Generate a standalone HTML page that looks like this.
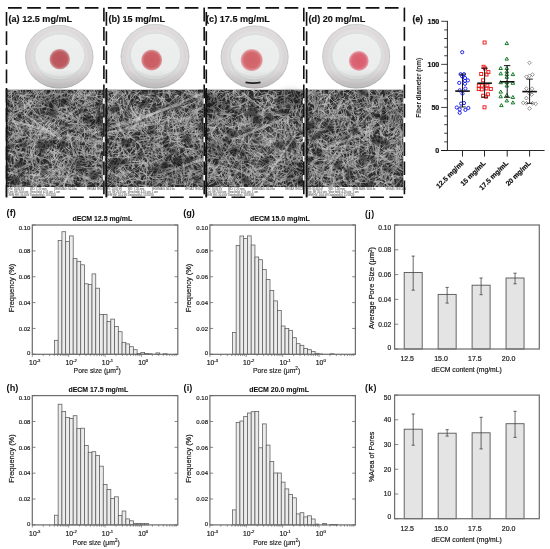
<!DOCTYPE html>
<html><head><meta charset="utf-8"><style>
html,body{margin:0;padding:0;background:#fff;width:550px;height:549px;overflow:hidden}
svg{display:block}
</style></head><body>
<svg width="550" height="549" viewBox="0 0 550 549">
<defs><filter id="poreblur" x="-0.1" y="-0.1" width="1.2" height="1.2"><feGaussianBlur stdDeviation="0.9"/></filter><filter id="semblur" x="0" y="0" width="1" height="1"><feGaussianBlur stdDeviation="0.3"/></filter><radialGradient id="dishg" cx="0.5" cy="0.5" r="0.5">
<stop offset="0" stop-color="#eeefef"/><stop offset="0.68" stop-color="#eaecec"/>
<stop offset="0.72" stop-color="#d6d8d8"/><stop offset="0.78" stop-color="#dfdede"/><stop offset="0.87" stop-color="#dcd4d6"/><stop offset="0.95" stop-color="#d9d9d9"/><stop offset="1" stop-color="#bcbcbc"/></radialGradient><radialGradient id="redg0" cx="0.5" cy="0.5" r="0.5">
<stop offset="0" stop-color="#b9545a"/><stop offset="0.7" stop-color="#bd5a60"/><stop offset="0.9" stop-color="#c98388"/><stop offset="1" stop-color="#c98388" stop-opacity="0.4"/></radialGradient><radialGradient id="redg1" cx="0.5" cy="0.5" r="0.5">
<stop offset="0" stop-color="#c95c62"/><stop offset="0.7" stop-color="#cc6268"/><stop offset="0.9" stop-color="#d8888d"/><stop offset="1" stop-color="#d8888d" stop-opacity="0.4"/></radialGradient><radialGradient id="redg2" cx="0.5" cy="0.5" r="0.5">
<stop offset="0" stop-color="#d06268"/><stop offset="0.7" stop-color="#d4696f"/><stop offset="0.9" stop-color="#df9297"/><stop offset="1" stop-color="#df9297" stop-opacity="0.4"/></radialGradient><radialGradient id="redg3" cx="0.5" cy="0.5" r="0.5">
<stop offset="0" stop-color="#d85c6c"/><stop offset="0.7" stop-color="#db6676"/><stop offset="0.9" stop-color="#e5909b"/><stop offset="1" stop-color="#e5909b" stop-opacity="0.4"/></radialGradient><linearGradient id="dishshade" x1="0" y1="0" x2="0" y2="1">
<stop offset="0" stop-color="#fff" stop-opacity="0.15"/><stop offset="0.45" stop-color="#fff" stop-opacity="0"/><stop offset="0.7" stop-color="#505050" stop-opacity="0"/><stop offset="1" stop-color="#505050" stop-opacity="0.22"/></linearGradient><filter id="softblur" x="-0.5" y="-0.5" width="2" height="2"><feGaussianBlur stdDeviation="4"/></filter><clipPath id="clipdish0"><rect x="6.5" y="0" width="97.4" height="89.5"/></clipPath><clipPath id="clipdish1"><rect x="106.4" y="0" width="97.79999999999998" height="89.5"/></clipPath><clipPath id="clipdish2"><rect x="206.3" y="0" width="97.5" height="89.5"/></clipPath><clipPath id="clipdish3"><rect x="306.6" y="0" width="97.79999999999995" height="89.5"/></clipPath></defs>
<rect width="550" height="549" fill="#fff"/>
<g clip-path="url(#clipdish0)">
<ellipse cx="59.3" cy="56.8" rx="34.2" ry="31.8" fill="url(#dishg)"/>
<ellipse cx="59.8" cy="55.6" rx="24.97" ry="21.62" fill="#eceeee" stroke="#d6d8d8" stroke-width="0.8"/>
<circle cx="59.7" cy="59.2" r="10.4" fill="url(#redg0)"/>
<ellipse cx="59.3" cy="56.8" rx="34.2" ry="31.8" fill="url(#dishshade)"/>
</g>
<clipPath id="semclip100"><rect x="7" y="89.5" width="97.8" height="97.7"/></clipPath>
<g clip-path="url(#semclip100)">
<rect x="7" y="89.5" width="97.8" height="97.7" fill="#2a2a2a"/>
<g filter="url(#semblur)" opacity="0.78">
<path d="M83.1 174.5Q85.2 174.3 87.1 175.1M40.6 150.2Q43.1 155.0 42.4 160.5M100.3 112.9Q97.1 117.6 92.6 121.1M90.2 90.4Q87.5 93.8 84.0 96.2M105.5 130.6Q98.4 128.1 91.7 131.4M30.1 105.5Q28.0 105.5 26.5 106.7M65.9 148.9Q66.2 155.3 70.4 160.2M31.1 173.1Q34.1 176.0 37.7 178.2M86.2 181.4Q83.7 185.9 79.1 188.0M87.2 103.5Q84.5 103.8 82.1 105.3M25.7 138.8Q23.2 141.9 20.8 145.1M82.6 138.5Q80.5 144.1 74.8 146.3M77.4 94.3Q79.0 94.7 80.4 95.7M87.2 106.8Q89.1 107.4 90.8 108.5M30.4 129.6Q31.0 131.2 32.5 131.9M96.3 106.6Q94.3 108.5 94.2 111.3M69.2 142.0Q74.8 146.5 81.1 149.9M38.3 125.9Q45.5 128.5 50.0 134.8M17.1 96.5Q16.5 102.6 18.0 108.6M106.7 153.9Q100.8 157.4 94.1 155.8M5.9 102.2Q6.2 107.0 10.1 109.7M86.1 116.6Q79.6 119.0 76.7 125.3M38.2 176.1Q41.6 180.3 46.5 182.4M95.5 88.0Q93.4 91.3 90.2 93.6M88.6 118.2Q88.9 124.8 89.3 131.4M46.2 149.7Q51.7 151.3 55.1 155.9M42.7 164.1Q43.0 165.9 43.0 167.7M68.5 92.4Q74.4 92.6 78.4 96.9M46.0 172.5Q38.5 171.3 32.7 176.2M56.7 154.7Q56.7 156.3 57.2 157.9M26.8 153.0Q26.2 155.2 26.1 157.6M24.0 88.5Q25.5 92.2 29.2 93.6M103.3 179.9Q99.3 186.7 91.6 188.4M39.7 133.9Q39.8 135.6 40.0 137.2M82.5 129.3Q83.3 130.7 84.7 131.3M96.0 92.6Q92.1 91.5 88.3 92.8M22.9 104.6Q22.3 108.8 20.6 112.7M34.5 138.9Q30.2 138.9 26.7 141.5M89.0 173.8Q90.0 181.2 96.1 185.5M37.8 89.1Q35.7 92.2 33.7 95.2M54.8 148.0Q58.6 151.9 63.1 155.0M3.8 132.3Q7.5 133.4 10.8 135.5M5.5 86.4Q8.6 89.4 10.9 93.0M15.5 159.0Q15.5 160.5 15.2 162.0M103.4 137.9Q101.7 140.3 98.8 140.5M101.0 126.7Q100.1 128.8 97.9 129.7M14.0 153.7Q10.1 153.7 7.0 156.0M101.8 96.3Q101.8 100.4 102.0 104.5M11.3 124.1Q14.5 126.1 17.5 128.5M100.8 147.1Q101.5 149.4 102.1 151.7M31.8 162.1Q30.0 163.7 30.0 166.2M22.3 124.5Q21.2 126.2 19.4 127.1M21.9 122.9Q24.5 128.3 29.3 132.1M80.4 146.8Q86.2 144.6 91.5 147.8M56.5 103.0Q55.3 109.1 52.6 114.7M71.1 152.7Q70.1 154.7 70.5 157.0M50.6 135.2Q48.7 137.7 47.4 140.5M11.0 110.6Q10.1 112.3 10.0 114.2M93.5 180.8Q88.7 181.7 83.9 182.8M53.5 167.7Q58.1 171.3 59.0 177.1M94.7 91.7Q91.6 94.9 87.2 94.6M15.3 118.5Q17.4 118.3 19.3 119.4M14.6 157.0Q16.5 157.2 18.2 158.1M103.8 180.3Q100.7 184.2 97.3 187.9M55.4 125.8Q51.4 129.8 49.5 135.2M83.1 109.8Q77.1 114.2 69.7 115.1M18.1 94.7Q16.7 95.2 15.2 95.6M23.3 171.3Q15.8 174.1 12.0 181.1M67.3 92.5Q67.8 94.0 67.2 95.6M44.6 87.4Q45.6 90.4 45.0 93.5M68.8 156.2Q62.8 160.5 55.4 160.6M64.5 180.4Q60.4 182.4 55.9 182.2M95.0 154.0Q97.4 157.0 100.2 159.6M95.0 184.6Q96.4 185.8 98.3 186.3M94.9 149.3Q93.1 151.4 90.6 152.4M98.3 172.2Q94.6 172.0 92.2 174.8M28.0 178.5Q21.2 180.1 14.2 179.8M32.7 102.9Q32.4 105.3 32.5 107.7M47.0 144.4Q44.4 149.0 44.6 154.3M29.9 156.2Q23.5 159.4 18.4 164.4M92.2 150.4Q92.1 153.1 90.1 154.8M39.7 121.4Q37.8 124.4 36.8 127.8M22.8 178.3Q23.6 180.2 23.5 182.3M63.8 166.8Q60.6 168.0 57.4 167.1M109.1 93.5Q104.0 98.5 96.9 98.9M96.8 94.6Q97.2 99.9 93.2 103.6M13.9 86.6Q17.6 89.5 18.3 94.1M84.5 107.6Q87.8 106.4 90.9 108.1M46.3 123.4Q47.1 125.8 47.0 128.4M71.9 178.4Q70.5 182.1 67.4 184.4M47.1 120.8Q48.7 127.3 53.0 132.4M30.0 90.8Q25.4 93.5 22.9 98.2M67.8 124.1Q67.7 127.0 66.9 129.8M86.1 119.2Q85.4 120.7 84.0 121.7M28.2 105.2Q25.2 110.4 22.2 115.7M99.0 145.2Q99.3 149.0 100.8 152.5M94.9 155.9Q95.2 157.4 95.7 158.8" stroke="rgb(140,140,140)" stroke-width="0.5" fill="none"/>
<path d="M49.3 95.6Q49.3 98.3 47.6 100.5M92.8 120.6Q89.6 124.9 86.1 128.9M46.8 152.7Q47.9 158.0 52.7 160.6M59.0 182.5Q62.5 186.6 66.2 190.4M27.2 117.5Q34.3 118.4 41.3 120.3M77.1 139.6Q72.8 140.0 69.8 143.2M29.2 102.4Q27.4 102.9 26.4 104.4M50.6 143.8Q46.9 144.3 44.5 147.2M38.7 111.2Q41.2 114.3 44.9 115.6M25.2 173.5Q26.7 174.6 27.4 176.2M17.4 183.6Q10.8 185.2 4.0 185.0M40.2 105.8Q37.7 105.3 35.6 106.9M42.1 116.2Q36.9 120.1 35.5 126.6M49.6 179.7Q54.4 182.3 59.9 182.9M56.5 150.2Q56.3 152.8 54.7 155.0M82.9 89.6Q78.2 89.9 73.9 91.7M58.7 140.0Q64.0 145.2 66.1 152.4M17.5 150.7Q11.5 152.4 8.6 157.9M46.1 138.2Q48.5 144.6 53.4 149.4M51.7 165.0Q52.9 166.8 53.5 168.8M65.6 168.9Q65.2 171.9 63.4 174.4M14.3 100.3Q11.9 106.9 13.9 113.6M13.3 86.3Q15.5 90.1 18.3 93.5M31.5 179.4Q34.5 181.4 37.2 183.8M83.3 115.2Q79.5 115.9 76.1 117.9M9.9 162.2Q11.7 168.3 16.8 172.0M40.8 97.8Q42.3 98.3 43.6 99.3M95.0 169.6Q89.2 171.8 83.4 169.7M55.0 123.8Q52.7 126.3 52.4 129.7M74.3 105.6Q76.7 106.5 79.2 106.6M97.7 155.9Q103.0 159.2 104.7 165.3M90.8 90.3Q92.6 91.2 94.6 91.2M45.3 106.6Q49.2 111.5 55.2 113.2M94.0 176.7Q99.3 181.0 106.0 182.4M21.7 105.5Q22.8 107.4 22.2 109.5M38.8 105.1Q36.5 111.4 33.1 117.2M30.8 108.9Q32.5 111.7 35.6 112.9M31.9 150.4Q30.0 150.7 28.0 150.7M22.7 131.7Q22.3 133.5 22.2 135.3M52.5 174.5Q53.7 175.6 55.2 176.3M46.1 147.2Q49.0 148.2 52.0 147.8M39.7 107.4Q39.7 110.4 40.9 113.1M95.0 181.9Q95.3 183.8 96.1 185.5M26.4 114.3Q28.6 117.1 32.0 117.1M67.3 139.4Q74.6 137.7 81.7 140.1M61.4 114.7Q54.6 117.3 48.6 121.6M11.0 107.2Q10.4 108.8 11.1 110.3M14.4 161.5Q19.7 163.7 24.7 166.4M40.2 180.6Q38.8 184.0 36.6 186.8M89.8 146.3Q86.5 150.0 86.5 154.9M32.5 147.1Q31.5 149.6 31.9 152.3M90.8 144.8Q85.3 146.6 79.6 145.5M48.8 158.8Q49.0 160.4 48.0 161.8M55.6 93.8Q50.7 96.1 49.3 101.3M75.2 147.5Q80.0 146.7 84.6 148.3M93.4 90.8Q94.5 92.7 94.3 94.9M58.0 131.6Q61.4 134.4 65.3 136.3M48.7 142.8Q52.0 146.7 55.5 150.4M70.8 153.1Q75.2 154.6 78.3 158.0M41.8 95.0Q40.3 97.6 39.7 100.5M50.9 114.4Q53.3 114.0 55.0 115.6M20.0 131.1Q19.2 132.6 19.5 134.3M80.7 132.8Q75.7 135.0 72.3 139.5M84.2 122.5Q87.6 123.2 91.0 122.6M56.8 82.6Q55.9 90.2 58.2 97.4M8.0 170.3Q8.3 173.1 10.0 175.3M45.2 153.9Q46.1 156.6 46.1 159.4M41.6 113.9Q40.0 119.0 35.1 121.2M76.5 162.0Q76.0 169.3 72.4 175.7M67.8 118.2Q68.6 121.3 71.3 123.0M55.6 125.9Q51.5 126.0 48.3 128.5M45.3 110.5Q43.5 110.8 42.4 112.2M73.2 156.5Q70.4 157.4 67.5 157.8M30.5 180.6Q29.0 181.1 27.8 182.2M104.1 129.1Q104.4 133.6 104.7 138.1M104.0 95.2Q98.9 95.2 93.9 96.2M11.1 173.1Q8.8 174.4 7.2 176.6M43.6 183.5Q43.6 186.8 44.2 189.9M14.3 128.3Q16.6 133.6 16.5 139.3M83.4 156.5Q89.4 161.8 97.4 161.8M95.9 90.1Q100.2 96.0 107.0 98.6M15.8 142.4Q19.4 145.1 20.8 149.4M61.9 155.0Q63.4 157.0 63.6 159.4M36.3 109.6Q33.5 111.8 32.7 115.2M17.7 128.5Q17.7 130.7 19.2 132.4M54.7 163.1Q56.7 162.6 58.7 163.6M97.9 102.1Q101.1 107.5 107.0 109.8M12.4 154.5Q10.6 159.6 7.8 164.3M1.4 142.3Q8.4 143.3 14.4 147.0" stroke="rgb(140,140,140)" stroke-width="0.6" fill="none"/>
<path d="M68.4 171.0Q72.6 174.6 77.8 176.3M5.2 93.6Q7.5 97.7 10.7 101.0M27.4 174.4Q24.4 177.8 24.8 182.3M41.1 163.0Q40.2 165.1 39.4 167.2M36.9 110.8Q37.5 112.2 37.5 113.8M19.8 168.7Q20.2 170.3 21.7 171.0M15.0 156.9Q16.3 162.6 12.6 167.2M39.2 106.1Q37.8 106.6 36.3 107.0M27.3 116.4Q26.0 117.7 25.7 119.5M85.4 160.3Q86.2 163.0 87.1 165.8M67.4 115.5Q65.4 115.4 63.5 116.1M17.5 95.1Q16.5 96.3 15.2 97.0M57.2 164.6Q57.8 167.2 58.4 169.7M79.9 116.9Q84.3 121.9 83.4 128.5M78.3 173.9Q75.5 178.1 75.0 183.2M80.8 120.6Q81.4 123.5 83.8 125.3M10.9 113.3Q12.2 114.2 13.9 114.5M80.3 156.9Q81.0 158.4 81.7 159.8M92.1 140.8Q94.3 142.9 96.2 145.2M23.4 186.3Q25.9 187.0 28.2 188.0M77.8 182.0Q80.9 182.6 83.3 184.4M78.6 120.0Q78.8 121.6 78.8 123.2M63.6 126.1Q61.8 125.5 60.3 126.6M45.4 174.2Q45.6 175.8 45.6 177.3M93.5 113.9Q90.7 116.7 86.8 116.9M32.9 139.2Q35.7 143.9 34.2 149.2M18.8 165.2Q18.2 168.5 20.2 171.3M33.7 141.7Q31.6 143.5 31.5 146.2M22.5 143.1Q22.8 144.9 22.9 146.8M68.6 150.7Q73.4 153.5 78.9 154.5M103.9 127.1Q100.9 129.1 97.4 129.5M6.9 98.1Q10.1 98.6 12.4 100.7M56.3 161.7Q58.6 168.2 64.5 172.0M44.0 114.1Q36.7 115.2 30.3 118.7M54.3 162.4Q49.2 164.0 44.1 165.6M96.4 176.0Q95.8 177.5 95.2 178.9M70.6 138.7Q72.2 142.6 73.9 146.5M94.7 132.9Q92.6 133.2 90.7 134.4M28.2 170.9Q24.4 177.0 18.4 181.0M33.4 106.1Q32.0 107.8 32.6 109.9M107.3 171.6Q103.9 171.4 101.7 174.0M90.3 177.9Q89.2 180.9 86.5 182.5M78.9 101.3Q80.5 102.6 82.6 102.3M17.6 120.8Q14.0 122.7 10.1 121.5M84.4 151.3Q87.9 158.3 95.2 161.1M74.2 128.5Q75.6 129.7 75.6 131.5M83.0 174.0Q83.4 180.1 85.9 185.6M91.0 162.6Q97.2 164.5 103.7 163.7M22.5 155.2Q24.0 156.9 25.9 158.4M25.7 180.0Q27.0 185.8 31.3 189.7M30.5 181.6Q31.0 183.5 32.7 184.4M52.1 172.4Q53.7 173.4 54.3 175.3M46.0 135.4Q46.7 138.6 44.6 141.1M17.7 115.9Q12.7 116.9 7.5 117.2M30.8 132.3Q30.3 134.1 29.0 135.3M78.5 167.6Q80.3 167.3 81.9 168.0M23.1 183.8Q28.0 186.0 33.4 186.3M17.4 145.1Q21.7 148.0 26.9 147.7M21.0 136.4Q22.9 137.7 25.2 137.6M25.8 119.8Q27.4 122.9 27.7 126.4M40.4 129.5Q37.6 133.7 32.7 135.0M19.2 173.8Q14.5 176.3 11.5 180.7M26.2 86.6Q27.9 92.1 25.2 97.2M69.0 165.9Q70.1 173.4 66.0 179.7M32.4 105.9Q38.0 106.0 43.5 106.3M91.5 115.3Q96.9 114.3 102.2 115.7M19.2 127.9Q14.7 128.6 12.3 132.5M5.4 177.8Q7.6 180.2 10.0 182.5M79.3 164.3Q77.9 167.9 74.8 170.3M5.3 113.8Q9.2 116.0 11.0 120.1M33.4 87.7Q39.3 91.1 40.8 97.7M42.2 130.0Q42.9 132.0 43.8 133.9M69.9 113.3Q72.3 115.3 73.8 118.0M18.5 138.0Q13.5 138.5 10.8 142.8M15.8 124.3Q22.3 129.1 22.7 137.2M49.9 111.6Q50.9 113.9 51.5 116.3M87.9 158.6Q87.8 164.4 87.1 170.2M24.5 100.4Q23.0 102.4 21.6 104.5M12.6 152.7Q18.2 157.9 18.4 165.6M70.9 118.1Q75.3 119.0 79.2 121.3M92.8 138.5Q95.5 141.0 99.1 141.3M99.3 122.7Q104.1 127.2 110.2 129.6M30.3 183.8Q33.2 183.4 35.5 185.1M54.7 170.5Q53.5 177.0 52.8 183.7M7.3 119.1Q9.4 120.3 11.9 120.1M7.8 119.2Q8.3 123.0 8.3 126.8M36.2 157.7Q39.6 157.4 42.2 159.8M100.7 88.0Q97.7 92.2 95.2 96.7M83.1 172.8Q84.4 173.9 85.8 174.8M86.1 88.4Q87.8 96.0 85.0 103.3M29.3 176.2Q25.7 178.8 22.1 181.3M56.8 147.2Q57.7 148.5 59.0 149.4M57.8 182.3Q59.3 183.3 61.0 183.9" stroke="rgb(140,140,140)" stroke-width="0.7" fill="none"/>
<path d="M77.1 160.9Q76.6 164.4 76.7 168.0M67.2 150.1Q66.7 154.0 67.8 157.9M51.1 153.0Q53.8 157.0 56.9 160.7M32.5 142.7Q34.4 148.8 31.6 154.5M73.6 136.3Q80.0 136.9 83.7 142.1M35.3 164.6Q37.2 170.0 41.5 173.7M33.1 120.5Q31.0 125.7 28.3 130.8M12.1 168.8Q16.2 173.8 18.4 179.9M97.1 166.6Q95.4 169.9 92.1 171.4M85.3 120.7Q83.7 123.1 80.8 124.0M27.2 152.2Q20.7 151.5 14.4 152.9M74.8 165.6Q75.5 167.5 75.6 169.5M19.4 153.2Q18.2 154.2 17.3 155.5M39.8 129.5Q38.5 133.9 38.5 138.5M96.6 154.8Q97.6 157.3 96.2 159.6M80.1 133.9Q81.1 135.1 82.1 136.2M62.6 89.5Q57.2 94.3 55.0 101.2M14.9 158.4Q16.9 158.5 18.3 159.8M68.4 155.2Q65.4 156.2 63.8 159.0M5.6 118.9Q9.6 118.9 13.4 119.7M69.5 98.8Q68.7 100.1 67.6 101.1M73.8 171.1Q75.4 171.7 77.2 171.4M101.8 176.2Q100.1 178.7 100.2 181.7M73.7 90.5Q72.2 90.6 70.8 91.4M14.7 177.2Q18.3 180.6 18.2 185.6M30.8 166.7Q29.8 168.1 28.1 168.5M80.9 173.0Q81.1 178.2 78.4 182.8M22.8 94.4Q21.2 94.0 19.7 94.7M78.1 125.0Q77.0 128.7 74.9 131.8M81.2 181.1Q80.8 187.9 76.2 192.9M45.6 114.8Q41.3 116.7 37.5 119.2M48.3 166.6Q44.7 168.5 40.9 166.9M56.0 111.7Q54.7 113.5 55.3 115.7M83.5 181.2Q79.5 184.3 79.1 189.2M57.9 125.4Q65.2 125.9 71.6 129.2M24.8 166.9Q23.1 170.1 19.8 171.6M39.4 183.0Q44.4 188.6 51.9 188.8M13.6 121.2Q16.0 124.2 17.7 127.7M70.2 134.5Q71.0 139.2 69.1 143.5M85.1 144.5Q89.5 147.8 94.8 146.5M5.3 164.4Q6.5 171.5 10.5 177.5M16.1 174.5Q13.4 174.1 10.9 175.3M16.1 104.8Q19.8 110.5 22.2 116.8M34.6 137.0Q36.0 140.4 34.7 143.8M49.5 132.8Q53.7 135.4 56.1 139.6M19.7 99.6Q15.7 105.5 10.0 109.5M61.7 118.1Q67.3 121.9 71.7 127.2M87.9 123.0Q90.5 125.7 90.3 129.4M48.9 174.5Q50.5 175.6 52.2 176.3M84.8 125.7Q78.7 128.3 72.2 127.7M18.9 93.8Q17.5 94.8 15.8 94.5M55.7 175.8Q57.3 176.0 58.5 177.0M11.8 148.5Q9.0 150.9 8.6 154.7M43.8 150.2Q43.1 152.6 42.2 155.0M66.7 99.1Q69.4 103.1 72.8 106.6M51.3 93.0Q51.9 95.7 52.8 98.3M24.9 92.7Q27.3 93.2 29.8 93.6M12.3 133.6Q14.3 137.8 17.3 141.3M96.7 143.1Q98.2 148.8 95.1 153.9M30.4 109.8Q29.4 114.1 25.6 116.3M24.3 173.5Q21.3 176.8 20.1 181.0M11.1 91.4Q12.3 98.5 9.4 105.2M97.5 151.5Q97.2 154.6 99.3 157.0M24.4 177.2Q25.2 180.7 28.6 182.2M26.3 173.1Q23.4 175.5 21.6 178.7M42.7 163.9Q48.3 167.3 54.8 166.8M93.8 101.3Q88.7 104.4 83.1 106.3M28.0 154.9Q30.2 154.5 32.3 155.2M67.4 158.9Q67.5 164.2 69.1 169.3M56.2 139.5Q58.2 139.2 60.1 139.8M43.9 129.4Q46.8 129.4 49.5 130.6M58.1 130.2Q53.0 135.1 48.8 140.7M60.4 152.7Q60.3 154.3 60.2 155.8M82.5 98.8Q86.0 105.2 90.2 111.0M62.7 86.1Q65.4 90.8 68.6 95.1M29.7 142.9Q30.2 145.7 32.6 147.1M98.1 93.3Q96.4 96.5 97.5 100.0M36.8 160.2Q36.2 165.3 34.8 170.2M44.9 127.6Q43.6 131.8 39.6 133.5M97.5 123.7Q96.1 129.5 100.0 134.1M46.8 172.4Q45.4 173.9 43.3 174.4M95.4 96.0Q92.5 97.3 90.8 99.8" stroke="rgb(162,162,162)" stroke-width="0.5" fill="none"/>
<path d="M41.3 118.4Q40.2 120.2 38.3 121.1M40.8 117.8Q33.4 118.8 26.2 120.7M38.2 158.5Q40.5 159.4 42.9 159.6M68.5 166.7Q65.2 168.2 62.8 170.9M102.9 164.1Q101.4 166.0 101.8 168.4M8.3 124.7Q9.0 127.8 7.9 130.8M9.6 123.9Q15.0 125.4 18.5 129.9M76.6 129.8Q80.1 130.4 81.9 133.5M6.6 112.3Q13.5 114.3 20.6 113.9M71.9 172.3Q73.8 174.3 75.0 176.8M66.3 88.2Q65.6 90.5 64.5 92.7M24.0 155.1Q26.3 156.1 27.7 158.0M56.0 129.2Q56.5 131.8 57.8 134.1M61.5 107.4Q63.3 108.3 65.4 108.3M89.4 147.8Q90.0 151.1 89.2 154.4M93.0 132.8Q89.5 132.5 86.8 134.8M74.5 164.2Q72.4 168.3 68.0 169.7M53.9 126.0Q55.9 133.2 52.8 139.9M67.6 151.1Q65.8 150.2 64.0 151.1M77.4 151.5Q78.0 154.3 76.7 156.9M18.5 104.9Q18.8 106.4 18.6 107.9M40.9 179.9Q42.4 180.6 43.1 182.0M103.1 142.8Q103.8 145.1 104.6 147.4M60.3 101.1Q60.2 107.1 63.4 112.2M60.2 87.8Q57.9 93.0 54.1 97.2M46.2 113.3Q45.3 116.6 43.5 119.4M74.9 87.8Q77.4 90.9 81.0 92.5M86.9 95.4Q88.8 95.3 90.7 95.6M9.1 111.8Q7.8 115.2 6.7 118.6M56.6 103.5Q56.7 105.3 57.3 107.1M86.2 168.4Q88.1 171.9 91.9 173.1M96.5 164.3Q96.5 165.9 95.9 167.4M7.3 91.5Q9.7 93.7 12.9 94.5M27.4 143.0Q27.8 145.4 30.0 146.5M45.3 114.5Q46.9 116.3 47.8 118.5M22.6 152.9Q20.7 154.0 18.7 153.2M4.9 143.3Q8.3 144.1 10.6 146.6M32.7 143.2Q31.2 148.3 26.5 150.7M68.5 178.9Q68.6 180.8 68.0 182.7M79.4 115.3Q80.4 121.5 81.9 127.6M13.6 159.1Q12.9 161.7 14.1 164.1M58.3 127.3Q59.7 128.8 59.6 130.8M75.9 176.6Q69.6 180.0 63.0 182.5M45.9 94.5Q46.0 98.3 44.4 101.7M19.5 118.7Q20.9 123.5 25.3 126.1M72.6 112.0Q72.8 113.7 71.5 114.8M15.0 131.3Q16.4 134.0 18.8 136.0M82.5 177.7Q89.5 174.6 96.4 178.2M66.6 164.2Q68.3 170.6 66.2 176.8M69.0 136.7Q73.4 142.6 76.5 149.2M31.9 118.6Q33.5 120.7 36.1 121.5M11.9 183.5Q12.5 184.9 14.0 185.7M87.5 101.0Q91.5 102.1 93.1 105.9M68.1 105.1Q67.1 111.7 61.5 115.3M23.7 177.9Q21.5 180.9 21.1 184.7M16.7 104.1Q17.7 106.6 16.7 109.1M85.8 177.6Q88.2 178.7 90.7 178.0M31.1 97.0Q35.0 99.0 38.5 101.6M83.4 99.3Q77.3 98.8 72.3 102.2M23.1 147.9Q29.5 149.7 35.8 151.6M60.6 124.7Q58.6 128.5 57.6 132.8M66.4 154.8Q61.5 153.5 57.4 156.5M34.2 174.7Q36.3 175.9 38.7 175.7M78.6 97.8Q81.6 100.2 85.2 101.2M57.5 123.5Q58.8 125.8 61.0 127.2M101.9 126.9Q97.1 125.1 92.6 127.8M48.2 121.7Q50.2 122.6 51.0 124.6M74.8 154.9Q76.5 155.9 77.6 157.6M22.4 168.7Q20.3 172.3 19.4 176.4M52.8 89.7Q51.7 92.2 50.0 94.4M37.8 156.1Q33.5 159.8 27.8 160.6M12.2 134.0Q11.7 135.6 11.0 137.1M56.3 178.3Q57.3 179.9 58.7 180.9M99.8 159.0Q94.4 163.9 95.0 171.1M18.0 105.5Q18.0 107.3 17.1 108.8M80.6 137.8Q77.3 143.6 76.4 150.2M52.1 169.0Q57.0 168.2 61.5 170.1M70.0 132.0Q68.6 135.0 65.8 136.9M27.3 122.0Q25.4 125.2 21.8 126.2M86.4 108.4Q87.5 109.5 89.1 109.8M48.0 145.9Q43.5 144.1 39.0 146.1M71.3 106.4Q68.5 107.1 65.7 106.5M83.1 106.7Q82.4 109.5 84.0 111.8M57.6 110.8Q56.8 112.5 55.9 114.1M51.2 152.9Q51.4 155.4 53.4 157.0M69.6 156.9Q67.2 160.9 62.5 161.5M101.3 164.0Q103.6 169.8 105.3 175.8M94.8 179.2Q93.7 181.1 93.6 183.2M87.8 180.5Q85.0 181.4 84.0 184.2M42.5 124.2Q44.4 124.1 46.0 125.0M94.2 96.6Q89.3 95.1 84.9 97.9M87.3 94.6Q90.8 93.8 94.3 94.6M72.0 180.0Q70.3 181.8 70.6 184.2M32.5 174.8Q39.2 176.3 44.4 180.7M10.9 139.9Q12.1 144.5 13.1 149.2M26.1 118.9Q23.3 119.3 21.4 121.3M95.7 184.8Q95.6 186.4 96.2 188.0M87.6 146.4Q83.0 149.8 80.4 154.9M75.4 130.6Q82.2 129.7 87.9 133.5M52.2 132.3Q51.5 138.4 48.9 143.9M55.4 112.6Q57.5 115.5 60.6 117.4M12.3 171.7Q13.1 174.2 11.7 176.3M76.2 99.7Q74.5 101.9 72.5 103.8M58.9 139.9Q53.0 139.4 47.1 140.0M86.2 159.8Q84.3 161.7 81.7 161.6M35.7 159.1Q37.9 166.6 33.9 173.2" stroke="rgb(162,162,162)" stroke-width="0.6" fill="none"/>
<path d="M43.9 94.8Q46.3 95.4 48.7 96.3M40.2 100.4Q40.4 105.3 37.4 109.2M12.0 137.2Q13.5 138.9 13.4 141.2M33.1 182.9Q32.6 187.3 35.0 191.0M75.1 169.7Q79.4 171.9 80.4 176.6M65.2 124.5Q62.9 125.4 60.5 126.2M23.4 140.9Q21.2 147.9 19.5 155.1M5.9 103.4Q7.7 109.1 11.9 113.3M53.2 145.1Q52.0 146.7 50.1 147.5M29.3 174.8Q27.7 175.2 26.5 176.3M51.5 91.7Q50.2 92.9 48.6 93.5M87.2 146.0Q91.3 150.1 93.8 155.3M91.4 177.6Q87.6 179.5 83.5 178.4M37.0 143.9Q36.2 149.0 37.2 154.0M32.4 186.7Q34.1 186.9 35.8 187.0M88.2 94.2Q86.7 94.9 85.5 95.9M98.2 126.7Q99.2 130.9 98.2 135.0M76.9 168.4Q77.8 170.1 79.4 171.0M32.9 151.7Q31.0 158.6 26.2 164.0M58.3 176.1Q54.9 178.2 52.1 181.0M36.1 155.3Q39.5 158.8 44.4 158.6M61.5 178.3Q58.4 184.9 58.7 192.1M56.7 93.6Q56.2 95.8 55.0 97.7M73.3 140.8Q74.8 141.4 76.4 141.2M55.6 91.1Q56.0 93.2 55.1 95.1M40.3 166.1Q38.7 166.2 37.3 167.1M42.3 107.6Q40.1 107.8 38.2 108.8M24.1 112.9Q22.7 114.0 20.9 113.7M90.6 85.7Q90.6 93.3 85.4 98.9M94.3 96.9Q92.1 96.4 90.3 97.7M98.2 99.3Q102.0 100.7 106.1 100.2M89.0 126.8Q93.5 131.0 98.9 134.0M22.8 96.3Q24.8 95.5 26.8 96.3M77.4 150.4Q81.5 152.1 84.9 154.8M28.3 122.1Q29.2 123.5 29.5 125.1M103.8 113.4Q100.3 116.1 95.9 116.2M82.1 170.2Q82.7 174.7 85.8 178.1M38.6 102.7Q40.7 103.1 42.2 104.8M94.6 180.6Q100.6 182.7 105.5 186.8M50.1 148.2Q45.0 152.8 42.6 159.3M42.8 113.4Q40.5 115.4 38.6 117.8M88.7 153.8Q90.5 154.9 92.3 155.9M51.1 158.6Q54.6 159.0 57.0 161.5M61.7 179.2Q60.4 181.6 59.7 184.2M51.8 153.8Q47.5 155.7 42.9 156.3M13.7 166.1Q15.6 169.4 15.3 173.2M61.1 101.0Q60.0 103.0 57.6 103.6M52.7 107.6Q56.8 108.0 60.4 110.2M48.6 105.6Q49.7 111.5 49.1 117.5M79.2 117.9Q74.0 120.8 69.1 124.1M14.4 132.0Q16.6 132.3 18.6 132.9M12.7 129.5Q13.8 132.5 13.4 135.7M14.9 147.0Q12.4 153.4 6.3 156.8M50.2 132.7Q49.1 135.3 46.7 136.9M23.2 100.7Q22.2 102.3 20.5 103.0M3.4 110.3Q8.1 111.5 11.0 115.3M45.9 129.6Q42.3 133.1 37.7 135.2M94.7 154.9Q93.3 155.6 91.8 156.0M76.2 94.3Q80.3 96.4 83.9 99.4M20.4 101.2Q19.0 102.7 16.9 103.0M29.8 134.8Q31.3 137.2 31.1 139.9M24.3 136.5Q21.4 138.7 17.8 138.7M76.7 126.0Q77.1 129.3 78.9 132.1M53.9 168.6Q56.3 170.6 59.2 171.3M81.4 171.6Q79.7 172.4 77.8 173.0M98.3 146.9Q98.6 148.4 98.1 149.9M39.2 108.3Q39.1 109.9 38.1 111.2M69.1 154.6Q72.8 158.9 75.9 163.6M6.7 142.2Q9.7 143.3 11.5 145.9M71.5 177.3Q72.6 184.7 78.7 189.1M8.9 136.0Q8.3 137.5 7.1 138.7M96.1 179.9Q98.4 181.0 101.0 181.0M7.4 165.4Q8.9 166.6 10.3 167.9M103.2 111.1Q101.8 112.0 100.2 111.4M98.9 124.6Q91.9 125.0 86.4 129.3M40.1 147.6Q36.0 151.0 35.7 156.3M98.3 177.7Q102.0 179.6 103.0 183.6M45.0 90.3Q46.3 94.0 49.8 95.9M28.7 129.0Q28.0 131.7 26.0 133.4M12.5 94.1Q11.7 96.5 9.4 97.6M49.2 108.8Q51.3 114.1 56.7 116.2M25.6 136.8Q23.9 137.5 22.1 137.8M88.4 158.0Q89.1 160.8 88.5 163.7M39.5 163.4Q38.8 165.2 37.1 166.0M100.3 156.3Q99.1 158.8 98.7 161.5M78.3 96.2Q72.8 101.0 65.9 103.7M31.2 144.5Q29.7 148.9 31.4 153.3M3.9 141.6Q7.7 146.8 13.4 149.6M13.6 111.1Q14.9 116.8 11.4 121.4M101.5 119.5Q101.9 123.2 99.8 126.3M58.5 100.7Q58.6 102.7 57.1 104.2M65.2 171.2Q63.0 175.4 58.9 177.8M95.3 122.8Q90.7 126.5 87.7 131.7M39.3 126.3Q42.9 129.7 47.8 129.9M23.2 180.4Q24.7 180.9 26.0 181.8M28.5 159.7Q31.4 161.8 34.9 162.4M81.7 116.2Q78.5 117.7 75.0 116.8M37.6 103.3Q32.1 108.1 27.8 114.1M76.8 96.2Q78.3 97.0 79.3 98.3M60.4 163.2Q64.3 162.3 68.0 163.8M95.2 123.8Q98.0 126.6 101.9 127.6M14.6 178.7Q14.5 180.3 14.6 182.0M56.7 114.2Q55.1 114.3 53.7 115.1M93.6 97.2Q92.2 100.7 88.7 101.9M30.6 163.2Q26.0 164.6 22.4 167.8M84.3 131.8Q79.7 134.8 75.2 137.9M96.7 164.1Q93.6 163.6 91.3 165.6M29.3 164.7Q24.1 165.3 19.3 167.2M41.7 143.7Q39.8 143.4 38.1 144.3M89.0 92.0Q88.1 97.3 90.4 102.1M18.6 89.0Q17.0 90.5 16.3 92.5" stroke="rgb(162,162,162)" stroke-width="0.7" fill="none"/>
<path d="M45.7 127.8Q42.8 148.0 39.2 168.1" stroke="rgb(165,165,165)" stroke-width="0.5" fill="none"/>
<path d="M58.5 117.3Q78.1 129.9 100.2 137.2M58.6 132.9Q45.5 135.3 33.4 140.9" stroke="rgb(165,165,165)" stroke-width="0.6" fill="none"/>
<path d="M-2.9 183.6Q23.6 186.5 50.2 189.6M96.8 156.7Q72.6 167.2 46.7 172.9" stroke="rgb(165,165,165)" stroke-width="0.7" fill="none"/>
<path d="M88.0 171.1Q90.3 170.8 92.1 172.4M93.0 136.6Q88.5 137.8 84.0 137.1M72.0 87.8Q73.0 91.5 74.9 94.9M75.3 110.2Q77.2 109.9 79.0 110.8M47.8 129.4Q48.7 131.7 48.4 134.2M95.7 98.0Q96.6 101.6 99.5 103.8M82.4 108.7Q88.6 106.8 94.0 110.2M31.3 171.0Q32.5 174.8 35.1 177.7M64.4 93.9Q66.0 99.1 62.8 103.6M27.7 179.0Q29.3 180.5 30.1 182.6M93.3 107.2Q91.2 107.3 89.4 108.4M109.2 97.7Q105.1 102.8 99.7 106.7M28.5 137.3Q25.9 143.8 28.9 150.0M80.8 179.5Q83.4 182.9 84.8 186.9M9.5 107.5Q11.8 107.5 13.4 109.2M20.5 99.8Q18.8 105.3 21.5 110.2M67.4 185.7Q69.4 186.1 71.2 186.9M65.6 112.7Q63.9 113.4 62.3 114.0M55.6 91.8Q53.9 92.0 52.5 92.7M17.6 169.1Q21.0 173.4 25.8 176.0M73.6 126.1Q65.7 126.1 60.0 131.7M66.6 139.5Q66.6 143.8 64.0 147.2M30.2 157.9Q33.2 157.8 35.3 159.9M16.6 163.4Q20.8 164.2 23.0 167.8M29.8 129.4Q31.3 129.9 32.9 129.5M96.3 181.4Q96.5 186.6 95.7 191.9M23.3 141.5Q25.0 142.7 27.1 142.1M33.8 162.6Q26.2 162.6 21.2 168.3M67.6 180.4Q65.0 180.8 62.4 180.7M89.6 184.0Q87.0 185.0 85.6 187.5M31.5 105.4Q29.9 105.8 28.5 106.6M26.2 105.4Q27.0 113.4 33.1 118.7M11.8 143.2Q14.7 149.5 18.9 155.1M97.0 151.1Q95.4 151.5 93.8 152.0M44.2 115.4Q47.6 115.6 50.7 117.3M29.7 128.3Q30.5 135.4 34.9 140.9M43.8 177.6Q44.6 178.9 45.5 180.2M17.7 116.8Q19.4 118.1 20.8 119.7M11.7 126.7Q14.8 127.7 18.0 127.2M37.5 96.1Q34.3 97.8 33.4 101.4M92.0 167.1Q95.3 169.0 99.1 169.0M19.1 128.0Q20.6 131.0 23.3 132.9M91.5 184.1Q87.1 184.2 84.3 187.6M27.2 177.4Q28.0 181.4 28.3 185.4M25.2 88.6Q25.3 93.4 28.0 97.5M74.6 165.3Q74.3 167.0 73.3 168.4M100.6 94.4Q102.4 96.2 104.9 96.8M87.5 136.1Q86.8 139.5 83.8 141.2M44.2 120.6Q46.8 123.7 50.9 123.8M42.9 98.5Q35.2 97.0 29.1 102.1M94.8 93.5Q93.9 94.7 92.8 95.8M80.6 90.4Q87.3 94.5 95.0 93.5M49.1 142.7Q52.4 144.5 56.0 145.3M48.3 167.1Q47.3 170.9 49.5 174.1M20.3 152.7Q25.9 155.3 30.6 159.3M31.1 155.4Q34.1 156.3 36.5 158.1M42.8 177.4Q40.4 181.8 35.8 184.0M11.4 161.9Q12.3 165.5 11.7 169.2M47.5 162.5Q43.7 165.8 38.7 165.7M74.1 97.4Q66.4 95.5 59.9 100.1M105.1 94.7Q101.0 96.8 96.7 95.1M37.2 139.8Q37.9 143.5 37.8 147.3M101.4 97.7Q100.5 104.3 97.8 110.4M48.3 177.1Q47.0 181.3 45.7 185.6M22.9 161.3Q24.5 162.6 26.4 162.3M73.7 92.6Q71.3 94.5 68.9 96.3M54.3 172.7Q50.0 175.9 47.0 180.3M54.3 170.2Q51.1 170.9 47.9 170.5M10.3 91.8Q9.5 93.2 8.3 94.4M29.3 132.9Q27.9 134.8 26.7 136.8M34.9 156.5Q35.9 162.5 40.8 166.0M98.0 114.6Q92.9 119.6 86.1 121.7M14.6 168.4Q18.4 168.9 22.2 169.4M44.6 118.1Q41.8 121.0 38.5 123.3M11.5 136.8Q12.1 139.5 13.3 141.9M27.6 175.7Q32.4 175.2 36.5 177.9M39.6 99.5Q43.7 101.8 47.9 104.0M65.2 163.1Q65.1 165.5 64.5 167.9M21.9 101.3Q22.1 107.9 19.6 114.1M65.2 156.6Q60.5 158.6 57.8 162.9M62.1 113.1Q59.2 113.9 56.3 114.0M44.6 183.9Q43.3 184.7 41.8 185.4M8.3 119.3Q9.6 121.8 8.6 124.6M55.7 175.9Q54.9 177.7 53.3 178.9M82.0 88.5Q81.3 90.3 80.4 91.9M14.3 108.2Q16.4 108.5 17.4 110.4M17.5 115.8Q14.4 117.8 10.9 118.6M83.5 131.8Q80.3 138.0 73.5 140.0M61.6 165.9Q58.1 171.8 52.3 175.5M53.6 98.1Q55.5 103.6 55.7 109.4M62.8 177.2Q61.4 178.0 59.8 177.7M80.7 145.2Q76.6 146.9 74.8 150.8M79.2 170.6Q82.0 173.5 81.7 177.6M52.4 125.1Q49.3 125.7 46.2 126.0M87.0 147.4Q84.9 149.0 84.1 151.5M32.1 135.0Q30.8 138.8 29.3 142.5M76.3 94.0Q76.4 96.4 74.7 98.1M102.6 170.5Q95.5 172.9 87.9 172.6M79.0 175.4Q77.4 177.1 75.1 177.2M93.8 167.3Q96.3 173.9 100.8 179.5M33.2 127.0Q30.9 126.8 28.8 127.7M94.8 155.8Q89.7 153.3 84.7 155.9" stroke="rgb(184,184,184)" stroke-width="0.5" fill="none"/>
<path d="M45.8 128.0Q43.3 129.6 40.6 131.0M35.6 144.5Q34.4 147.1 35.1 149.9M49.3 169.4Q47.4 169.5 46.5 171.1M97.6 153.7Q100.1 158.4 98.8 163.6M50.9 132.1Q47.2 131.4 43.7 132.5M89.4 169.5Q86.4 172.4 83.6 175.4M66.8 155.9Q70.5 161.4 76.2 164.9M55.0 141.8Q61.0 141.5 65.6 145.5M51.1 142.9Q50.3 148.2 46.0 151.2M52.4 146.7Q50.6 147.9 48.4 148.2M51.6 91.6Q50.7 94.8 49.0 97.6M54.7 95.1Q55.8 96.6 57.6 96.9M46.1 98.2Q48.6 97.2 51.2 98.3M46.5 124.9Q44.2 126.1 42.7 128.3M53.1 88.7Q51.4 88.9 50.6 90.4M49.8 99.1Q52.1 103.4 54.9 107.4M40.1 167.1Q35.7 172.5 29.3 175.1M53.6 154.9Q49.0 155.2 44.4 156.0M95.3 145.4Q95.1 149.6 98.4 152.4M6.0 134.7Q11.5 137.9 17.8 139.0M103.5 87.0Q104.7 92.5 105.1 98.2M31.9 159.5Q33.5 161.1 35.4 162.5M49.5 152.5Q54.3 154.3 59.3 153.0M95.7 143.7Q96.4 148.5 98.9 152.6M57.8 139.0Q59.6 139.1 61.2 139.6M47.4 179.4Q50.0 181.4 50.2 184.7M37.0 162.6Q38.6 164.4 40.6 165.7M80.1 160.9Q76.6 165.2 72.2 168.6M67.7 163.8Q62.9 165.8 60.6 170.4M24.7 92.0Q25.5 95.6 26.0 99.2M32.0 90.5Q29.4 96.6 23.7 99.7M95.5 141.6Q98.4 142.3 100.3 144.6M36.7 181.9Q32.5 181.2 29.1 183.9M56.8 117.4Q58.4 118.6 59.2 120.3M69.7 158.3Q69.1 160.7 68.7 163.2M91.5 94.6Q88.6 93.9 85.7 94.7M17.7 161.2Q14.9 164.8 11.3 167.8M34.4 172.7Q39.6 175.0 43.9 178.7M28.7 138.0Q22.0 142.7 21.0 150.7M51.1 86.2Q46.0 88.9 44.9 94.6M34.3 179.2Q33.8 181.9 31.4 183.3M25.9 116.8Q22.6 119.5 20.6 123.3M92.8 168.8Q90.3 171.3 87.0 172.6M86.6 91.9Q82.1 92.8 78.0 94.7M88.7 89.8Q91.1 95.7 97.1 97.8M84.1 106.6Q81.9 110.2 78.0 112.0M19.2 177.4Q21.6 178.4 24.0 177.5M13.6 116.0Q12.0 116.4 10.8 117.6M84.0 91.1Q79.9 93.1 75.6 91.8M92.2 151.9Q91.3 157.9 86.3 161.4M14.1 92.5Q14.2 98.9 13.3 105.2M48.8 175.2Q47.9 177.2 46.4 178.6M84.7 124.3Q84.1 126.9 85.7 129.0M45.7 170.5Q42.4 173.1 40.3 176.8M97.3 139.0Q95.4 140.7 92.8 140.6M28.7 175.8Q28.8 177.4 29.7 178.7M57.3 93.8Q60.9 95.3 64.3 97.1M45.0 132.9Q46.2 134.2 46.1 136.0M62.7 175.6Q63.0 177.4 64.4 178.5M69.2 151.8Q69.0 153.8 69.9 155.6M63.5 182.1Q60.3 185.0 58.9 189.1M80.7 124.1Q84.6 127.5 85.4 132.6M83.4 141.0Q87.5 143.0 91.3 145.6M89.0 141.8Q88.0 143.2 88.4 144.8M103.6 140.4Q101.8 141.2 99.9 141.8M79.7 151.4Q82.5 152.0 85.1 153.1M26.8 178.2Q29.3 179.3 31.6 180.8M82.9 172.3Q84.0 174.0 84.1 176.1M54.3 168.0Q50.2 169.6 45.9 169.3M75.7 115.3Q78.0 119.9 81.1 124.1M58.9 97.1Q60.3 103.8 56.0 109.1M14.2 160.2Q16.4 163.5 19.5 166.1M101.2 125.0Q99.2 130.5 94.1 133.5M54.4 104.9Q55.3 107.5 56.2 110.2M71.6 97.8Q75.3 103.1 78.7 108.5M68.2 155.0Q72.3 158.2 75.8 162.0M73.4 140.3Q77.0 144.0 79.0 148.7M73.7 125.2Q72.0 126.0 71.1 127.6M103.2 178.5Q100.5 178.8 98.4 180.6M59.5 172.0Q61.2 173.9 61.3 176.6M49.2 97.0Q45.5 98.4 41.9 99.8M45.9 144.9Q46.7 148.7 48.4 152.2M83.2 112.6Q87.8 115.5 88.5 120.9M103.8 97.9Q102.1 99.0 100.0 99.4M65.1 127.4Q69.6 127.0 73.3 129.6M38.6 132.7Q36.9 132.6 35.5 133.4M52.0 94.6Q47.9 93.1 44.3 95.3M100.2 166.6Q100.5 168.6 99.8 170.5M90.3 138.1Q92.7 139.2 94.7 141.0M66.4 156.3Q67.7 157.5 68.2 159.3M23.7 100.5Q20.3 103.8 16.2 106.1M71.8 132.4Q73.0 133.5 74.6 133.7M42.4 92.6Q45.1 98.2 48.2 103.7M24.3 117.8Q26.3 118.3 27.6 120.0M95.6 140.7Q98.4 140.6 101.2 140.8M14.4 121.4Q11.5 120.9 9.0 122.2M13.2 91.2Q16.0 95.4 17.0 100.3M40.9 138.4Q41.9 139.7 43.3 140.6M53.7 148.1Q56.3 150.4 59.8 150.5M30.4 133.1Q30.7 136.5 30.7 139.9M71.1 160.7Q74.8 162.8 79.0 163.1M64.1 174.2Q61.7 175.8 61.2 178.6M11.1 92.6Q10.8 99.5 13.7 105.9M72.0 174.4Q69.6 175.4 67.0 175.1M20.5 150.2Q19.3 151.3 18.5 152.6M70.4 176.9Q66.5 177.4 62.6 177.4M96.9 169.0Q91.9 170.8 86.9 169.4M100.7 148.3Q101.2 150.7 100.5 153.1M96.7 162.8Q94.2 164.6 91.2 165.0M14.3 157.1Q14.1 161.9 17.2 165.6M30.5 164.1Q27.9 164.6 25.3 165.0M96.1 120.4Q97.6 121.5 98.3 123.1M35.8 123.8Q40.3 124.9 42.9 128.7M17.2 173.6Q18.3 178.1 21.8 181.3M63.6 113.0Q59.1 117.2 56.9 123.0M36.7 99.5Q38.1 101.3 40.2 102.2M12.8 181.7Q16.6 180.5 20.1 182.6" stroke="rgb(184,184,184)" stroke-width="0.6" fill="none"/>
<path d="M98.8 179.8Q99.6 181.2 99.7 182.8M84.1 158.8Q78.8 156.3 73.6 158.9M56.8 164.9Q60.3 167.8 64.8 167.5M75.1 164.8Q74.2 166.7 72.6 168.2M28.5 109.9Q27.1 110.7 25.5 110.3M76.1 109.4Q74.5 109.9 73.0 110.4M27.4 118.6Q28.1 121.3 30.6 122.5M23.1 151.7Q17.1 153.5 11.2 155.8M21.5 184.8Q16.4 185.7 12.7 189.2M55.3 165.6Q58.4 166.7 61.6 167.7M10.0 108.6Q11.8 109.2 13.6 109.0M40.4 168.0Q46.7 167.8 51.6 171.8M82.6 102.7Q78.4 105.0 75.2 108.6M49.4 101.8Q42.6 102.0 35.9 103.8M55.8 175.9Q54.4 176.6 52.9 177.1M34.3 135.9Q35.7 137.2 36.8 138.7M70.2 153.1Q68.3 153.2 66.4 153.3M20.6 176.0Q19.5 179.2 21.0 182.3M85.0 179.4Q84.0 184.8 82.0 190.0M101.0 168.2Q94.6 166.9 88.1 168.3M102.1 139.3Q103.8 142.4 103.1 145.8M95.2 142.6Q93.9 147.3 95.4 152.0M15.9 150.7Q17.6 153.9 18.4 157.4M32.4 122.5Q32.7 124.2 32.5 125.9M9.5 169.4Q10.8 171.5 11.2 174.0M17.5 122.2Q14.8 125.1 11.2 126.8M67.6 180.7Q69.7 181.2 71.3 182.8M60.3 180.3Q57.0 181.4 54.0 183.1M44.2 110.4Q49.5 113.8 54.1 118.2M72.4 158.0Q65.9 155.9 60.1 159.5M98.2 112.3Q97.0 117.0 96.6 121.8M19.2 118.6Q15.8 119.9 12.8 122.0M58.9 91.3Q59.7 94.8 62.4 97.0M60.0 182.1Q66.5 181.6 72.4 184.6M105.7 129.9Q103.0 133.7 98.5 134.9M99.3 140.0Q96.9 141.8 95.4 144.5M53.8 144.3Q55.4 145.6 57.4 145.4M53.2 109.1Q57.4 108.5 61.6 109.3M69.0 99.8Q76.6 100.8 82.7 105.3M41.7 129.4Q37.1 127.5 32.7 130.0M65.9 183.3Q68.7 183.0 71.4 183.6M27.1 159.7Q29.3 160.1 31.5 160.1M71.0 156.7Q67.8 159.9 63.4 161.1M41.3 91.9Q36.7 91.9 33.2 94.9M38.1 95.3Q37.9 100.0 41.5 103.1M9.0 100.4Q13.8 101.0 18.6 101.9M63.1 93.7Q59.2 95.8 54.9 94.8M61.3 118.3Q62.8 119.2 63.4 120.8M27.2 169.6Q22.4 171.4 17.5 173.1M19.0 103.8Q17.0 106.8 13.8 108.4M52.7 131.4Q57.7 135.9 63.3 139.7M35.7 136.6Q34.5 144.0 34.3 151.4M65.0 106.3Q63.4 108.3 60.9 108.7M30.3 154.4Q26.0 160.6 25.6 168.1M37.1 184.3Q35.9 186.2 36.2 188.4M70.0 179.9Q70.5 181.6 69.7 183.2M46.2 174.6Q48.4 177.5 51.8 178.8M68.8 130.3Q67.5 136.0 63.1 139.8M61.7 108.4Q60.9 109.9 61.3 111.6M20.6 162.8Q19.9 165.9 19.3 169.0M42.4 97.7Q40.5 104.5 42.1 111.4M103.8 180.2Q101.4 184.1 97.9 187.1M89.9 173.6Q87.6 177.2 83.6 178.6M61.8 169.2Q62.6 173.5 65.2 177.1M74.2 124.1Q75.9 129.1 80.6 131.6M47.7 148.9Q52.7 152.0 58.2 153.9M90.5 97.9Q95.3 100.5 96.4 105.8M31.1 100.9Q36.0 101.3 38.6 105.4M16.1 136.1Q16.8 139.6 18.4 142.8M24.0 150.7Q23.6 152.4 22.0 153.3M11.5 90.7Q12.0 97.7 10.6 104.5M31.7 163.5Q28.3 166.7 24.0 168.3M57.0 127.2Q58.6 128.3 60.5 128.7M20.2 99.9Q26.3 101.8 31.4 105.6M18.7 92.8Q20.3 97.0 23.9 99.7M53.6 106.7Q55.9 113.2 58.2 119.7M100.8 144.6Q103.5 147.6 103.9 151.6M77.7 134.9Q79.0 138.2 80.2 141.6M32.9 94.6Q26.5 93.9 20.3 95.8M36.3 170.0Q40.3 170.5 43.0 173.6M88.3 114.3Q83.9 113.0 79.6 114.5M87.9 179.9Q92.9 179.5 97.9 180.1M59.8 140.4Q59.8 143.4 58.1 145.8M73.4 95.6Q76.6 100.6 81.2 104.5M80.7 107.7Q77.8 112.5 73.9 116.6M85.6 102.7Q85.3 104.6 83.9 106.0M19.3 138.8Q19.2 140.5 17.8 141.4M38.7 149.6Q39.0 151.3 38.0 152.8M56.0 135.5Q52.6 134.8 49.8 136.7M31.9 107.3Q27.3 112.4 22.2 117.1M29.6 175.1Q27.1 175.4 24.6 175.9M14.7 129.9Q16.8 133.9 18.9 138.0M16.6 134.3Q10.2 135.0 5.7 139.7M100.3 121.1Q98.2 124.1 94.7 124.8M65.7 93.4Q59.5 93.5 53.8 96.2M17.9 86.7Q21.1 90.0 21.2 94.6M52.6 139.2Q47.1 142.1 45.2 148.0M104.0 111.6Q105.3 113.4 105.5 115.6M107.4 171.7Q105.5 177.1 100.5 179.7M65.1 103.6Q62.9 107.0 59.1 108.3M74.8 150.5Q74.3 152.0 74.1 153.6M55.9 150.5Q59.9 153.5 64.9 153.0M9.2 138.0Q10.2 143.5 13.2 148.2" stroke="rgb(184,184,184)" stroke-width="0.7" fill="none"/>
<path d="M40.9 86.4Q48.7 99.8 58.5 111.8M24.8 107.9Q41.2 115.4 56.2 125.2M22.5 103.3Q13.3 110.2 5.2 118.5M65.2 125.2Q47.0 137.5 26.7 146.0M48.8 87.6Q74.7 95.8 100.8 103.2" stroke="rgb(185,185,185)" stroke-width="0.5" fill="none"/>
<path d="M47.6 125.6Q36.0 138.9 21.1 148.3M36.1 115.0Q28.3 139.9 22.1 165.2M62.4 101.6Q73.2 120.8 78.7 142.1M56.1 92.4Q30.5 100.1 8.3 114.9" stroke="rgb(185,185,185)" stroke-width="0.6" fill="none"/>
<path d="M66.6 135.9Q79.0 136.7 90.8 140.7M81.5 154.7Q103.2 169.9 122.7 188.0M4.5 154.0Q13.3 176.3 22.1 198.5M49.8 114.3Q33.2 135.5 15.1 155.5" stroke="rgb(185,185,185)" stroke-width="0.7" fill="none"/>
<path d="M19.2 151.6Q20.4 152.8 22.2 152.8M23.4 95.9Q27.3 98.4 31.9 98.1M41.8 181.0Q43.0 183.0 43.9 185.2M11.3 111.9Q9.6 117.9 4.7 121.7M28.3 166.9Q23.4 165.8 19.2 168.5M19.8 122.3Q20.7 126.8 19.1 131.2M68.1 104.5Q68.6 106.2 69.0 107.9M83.9 105.9Q80.5 111.8 79.2 118.5M68.6 94.3Q67.3 96.1 65.3 97.1M39.2 112.1Q39.8 113.7 41.2 114.6M76.2 138.9Q76.8 143.0 75.2 146.7M37.3 182.9Q42.3 185.2 44.6 190.1M39.4 99.3Q42.1 101.3 45.4 101.4M101.3 96.7Q96.5 101.7 90.1 104.2M104.7 108.5Q103.5 113.1 103.7 117.9M44.2 172.7Q45.5 174.0 46.6 175.4M26.9 128.1Q25.8 129.8 24.0 130.9M78.9 115.6Q84.5 115.6 88.4 119.6M44.5 149.5Q46.0 151.3 46.7 153.6M55.8 106.1Q56.4 110.9 60.0 114.0M29.0 145.1Q34.1 148.1 39.4 150.6M23.5 133.6Q27.4 135.3 30.1 138.5M27.8 174.6Q28.0 179.7 30.7 184.0M29.6 139.4Q27.0 139.1 24.4 140.0M79.8 128.3Q76.5 129.7 73.2 131.4M64.6 137.7Q58.0 140.3 55.8 147.1M41.9 147.9Q39.8 147.7 38.1 148.8M14.3 100.2Q11.0 104.9 7.9 109.7M57.4 163.4Q60.5 163.4 62.3 165.9M31.4 140.1Q29.0 140.4 27.7 142.4M63.6 175.1Q65.9 176.5 68.6 176.5M88.7 163.2Q92.4 170.0 99.6 172.8M39.5 176.8Q41.6 184.0 46.7 189.6M62.1 91.8Q60.8 98.6 62.4 105.3M33.2 168.5Q37.8 174.0 42.8 179.1M59.4 109.1Q58.4 110.6 57.7 112.4M6.4 137.2Q10.2 140.7 14.3 143.9M69.6 109.3Q69.9 112.2 71.7 114.5M53.3 93.6Q56.0 93.4 58.6 93.7M66.2 146.0Q66.5 148.9 65.1 151.4M37.3 156.0Q38.4 157.5 39.7 158.8M44.5 91.8Q41.8 98.4 36.5 103.2M107.2 147.9Q104.3 148.7 102.2 150.8M82.1 103.4Q80.5 103.7 79.0 103.5M59.2 171.5Q58.0 176.2 59.4 180.9M7.2 101.2Q10.9 103.7 15.1 104.9M45.3 166.9Q42.7 167.0 40.2 167.4M17.2 180.3Q16.3 184.5 18.1 188.4M39.9 169.9Q39.6 173.4 37.2 176.0M85.4 114.4Q87.9 114.6 90.0 116.2M47.1 170.1Q50.4 173.6 53.1 177.6M82.8 94.0Q79.0 97.1 76.5 101.3M52.8 148.1Q50.4 151.7 47.8 155.1M76.5 100.7Q79.0 102.0 81.8 102.5M90.7 134.9Q88.3 137.5 88.2 141.0M50.3 162.2Q51.9 162.6 53.4 163.2M64.6 101.8Q66.3 105.4 66.0 109.4M88.8 181.3Q94.4 180.2 99.7 182.7M82.7 110.7Q82.3 117.6 82.5 124.5M21.2 122.6Q19.1 123.5 16.9 124.1M102.5 102.8Q104.6 103.4 106.3 104.7M88.9 88.6Q83.1 89.9 77.2 90.7M104.4 124.5Q103.9 126.6 102.7 128.5M14.3 124.7Q16.2 126.6 17.7 129.0M41.4 146.2Q40.0 153.8 33.3 157.8M27.9 110.7Q20.7 110.6 14.1 113.3M35.6 171.1Q33.1 171.3 30.9 172.5M29.9 142.7Q35.6 144.8 41.6 144.2M18.7 120.3Q16.6 124.3 15.8 128.7M84.1 120.8Q87.5 121.3 90.8 122.4M62.8 112.7Q56.3 115.3 50.0 118.3M99.3 110.6Q95.5 111.8 94.1 115.5M93.5 150.6Q94.8 152.1 95.6 153.9M69.7 172.5Q68.0 174.6 67.2 177.1M54.9 168.6Q58.2 173.1 63.7 174.5M66.3 171.5Q63.8 171.3 61.6 172.4M37.3 139.1Q38.2 140.8 38.1 142.7M101.4 90.6Q101.6 92.4 101.3 94.2M90.3 90.4Q88.0 93.6 86.5 97.3M40.6 174.2Q38.7 174.3 36.9 174.8M22.9 95.5Q27.2 96.4 31.4 97.5" stroke="rgb(204,204,204)" stroke-width="0.5" fill="none"/>
<path d="M12.6 142.4Q11.1 142.5 9.6 142.6M20.4 130.7Q21.6 132.9 24.0 133.4M82.8 183.0Q77.8 186.6 71.8 187.6M63.3 116.8Q58.8 122.6 54.3 128.4M12.4 152.6Q9.7 158.3 11.3 164.4M67.6 109.7Q69.2 112.3 70.5 115.0M31.6 93.4Q25.4 94.5 20.5 98.4M46.4 132.8Q50.7 133.3 53.7 136.3M96.6 179.1Q94.8 182.3 91.3 183.3M102.3 169.0Q101.4 176.5 105.3 183.1M75.6 151.0Q81.8 151.0 87.5 153.5M63.3 147.5Q62.3 152.9 57.5 155.4M56.9 97.4Q56.6 99.0 57.2 100.5M65.5 134.1Q64.1 135.2 62.3 135.4M100.9 103.2Q98.0 106.2 93.8 107.2M31.3 108.6Q28.8 109.7 26.0 109.6M62.1 128.8Q67.4 131.0 71.0 135.5M65.9 88.7Q67.0 90.3 68.6 91.3M96.9 160.3Q95.7 162.2 93.7 163.3M54.8 95.4Q51.2 97.5 48.3 100.6M105.1 159.1Q100.6 160.7 98.4 165.0M82.5 95.7Q86.8 96.9 89.8 100.2M29.3 101.1Q32.7 102.9 35.5 105.4M92.7 132.7Q91.3 134.3 91.1 136.4M93.2 149.1Q96.5 151.9 100.8 151.5M31.6 105.0Q25.2 106.8 19.1 109.0M44.7 88.8Q42.5 94.2 37.6 97.2M54.0 146.2Q56.5 152.9 57.7 159.9M41.9 143.4Q45.4 142.3 48.9 143.6M99.1 135.5Q102.2 139.2 106.3 141.6M72.4 178.4Q73.0 180.9 73.9 183.3M89.4 162.8Q83.5 163.8 77.5 163.9M78.4 135.1Q79.1 138.3 81.7 140.3M98.1 173.9Q100.6 176.7 104.4 176.7M65.6 159.5Q67.3 162.4 70.5 163.4M76.7 116.4Q79.0 120.1 83.1 121.7M81.9 176.4Q88.1 178.8 94.6 177.6M93.9 148.7Q89.8 153.4 83.7 154.2M61.5 137.4Q59.1 138.0 56.8 138.0M106.8 103.5Q105.0 108.3 101.3 111.9M42.3 137.7Q47.1 136.5 51.4 138.9M15.4 155.4Q14.6 157.3 14.4 159.3M100.6 109.2Q101.1 110.8 102.0 112.2M73.7 117.5Q70.3 121.9 64.7 121.9M8.3 140.5Q10.4 143.4 11.5 146.8M24.1 127.6Q23.3 133.1 19.7 137.3M25.2 139.1Q23.3 142.4 19.6 143.3M88.7 103.3Q89.6 106.4 88.3 109.3M51.7 89.5Q51.4 91.3 50.1 92.7M61.9 172.7Q63.9 177.6 66.5 182.2M52.7 99.6Q51.3 100.3 49.9 101.0M15.8 155.8Q22.7 156.4 27.5 161.4M10.9 175.5Q17.7 176.3 21.6 181.9M53.0 137.3Q51.8 139.4 52.6 141.8M91.5 105.8Q93.0 107.0 93.1 109.0M103.9 149.5Q102.1 150.2 100.5 151.2M86.5 182.4Q86.3 184.0 86.0 185.6M44.3 103.1Q46.4 103.9 48.3 105.0M84.5 88.7Q81.5 90.5 80.9 94.0M52.8 142.8Q53.4 144.6 55.1 145.6M63.5 117.9Q61.5 121.8 61.8 126.1M22.5 184.0Q17.2 185.7 11.8 187.2M70.4 134.7Q70.1 139.2 68.2 143.2M9.0 107.7Q10.8 108.3 11.7 110.1M23.3 147.0Q18.0 148.7 12.6 150.2M37.4 134.0Q32.6 137.9 30.0 143.4M83.0 110.8Q78.1 116.1 72.6 120.9M14.8 106.4Q18.9 108.6 23.5 109.5M73.6 95.4Q73.0 97.3 71.7 98.9M4.5 98.1Q9.1 97.7 13.4 99.2M76.7 163.7Q79.5 165.4 82.3 167.1M61.9 170.6Q59.9 170.6 58.6 172.1M98.9 140.6Q98.6 143.6 98.8 146.7M72.2 178.4Q74.5 180.1 77.3 180.0M62.8 157.2Q64.0 158.7 65.6 159.8M106.2 161.1Q103.2 161.8 101.0 163.9M97.3 112.5Q104.9 115.1 107.6 122.6M11.3 122.8Q9.1 122.9 7.7 124.6M91.3 178.6Q87.8 178.2 84.8 180.0M95.2 118.6Q88.2 118.4 82.5 122.5M34.3 162.6Q37.4 164.7 41.0 165.4M61.5 102.0Q56.8 101.1 52.5 103.2M69.4 153.1Q68.3 155.3 68.5 157.6M26.1 126.6Q31.7 132.2 31.0 140.1M70.6 163.0Q68.7 165.4 69.4 168.3M83.1 140.3Q86.0 142.8 87.4 146.4M99.5 158.4Q102.8 159.0 104.6 161.8M78.9 135.3Q79.3 141.0 79.8 146.7M69.6 184.1Q66.8 187.3 63.2 189.5M78.5 103.5Q74.4 106.3 70.9 109.9M104.6 105.5Q102.3 108.8 101.9 112.8M67.4 134.8Q66.6 142.9 59.9 147.7M61.7 140.8Q64.0 140.7 66.1 141.5M86.5 87.4Q84.1 93.9 84.7 100.8M22.8 117.0Q22.8 118.6 21.8 119.9M17.0 147.4Q15.5 154.4 19.0 160.7M69.2 117.3Q64.3 117.2 59.5 118.4M57.1 133.0Q57.9 139.8 62.2 145.1M31.3 104.5Q34.0 104.0 36.5 104.8M60.9 114.2Q64.4 117.9 67.9 121.4M72.8 176.5Q72.1 178.8 70.3 180.5M26.1 116.2Q27.4 117.4 28.5 118.7M48.4 128.5Q52.5 130.0 56.6 131.7" stroke="rgb(204,204,204)" stroke-width="0.6" fill="none"/>
<path d="M25.0 130.6Q20.5 133.1 17.4 137.3M19.9 98.9Q18.9 100.2 18.7 101.8M61.0 157.2Q57.4 161.0 57.2 166.2M75.1 133.3Q73.7 133.6 72.2 133.6M68.8 179.4Q70.3 180.5 71.3 182.1M85.0 146.9Q85.1 150.5 83.7 153.8M52.2 153.2Q54.5 154.0 55.3 156.3M64.7 177.5Q69.3 182.2 75.4 184.9M102.9 92.1Q101.4 93.2 99.7 94.0M15.9 94.3Q17.4 94.4 19.0 94.8M100.2 161.1Q101.0 162.8 102.4 164.0M58.6 159.0Q54.6 160.1 50.5 160.7M57.4 157.5Q55.7 164.0 51.8 169.5M67.8 139.2Q60.4 140.8 54.3 145.3M86.8 106.3Q88.6 113.7 95.5 116.7M21.0 147.9Q19.4 147.7 18.1 148.7M36.9 95.1Q35.4 97.6 34.4 100.4M59.9 87.8Q61.4 94.2 60.5 100.7M40.3 131.3Q38.9 138.8 35.0 145.2M30.2 118.3Q31.8 121.2 33.5 124.2M96.6 124.5Q94.0 131.1 97.5 137.2M86.3 151.0Q89.0 153.8 89.4 157.7M16.6 166.1Q17.4 167.4 18.6 168.4M70.8 91.7Q73.6 97.2 72.1 103.2M66.8 108.7Q64.5 114.4 67.4 119.7M32.8 159.2Q32.4 160.9 31.6 162.5M107.5 130.7Q100.3 131.2 93.3 133.2M52.7 129.8Q53.1 133.1 53.4 136.4M94.0 99.7Q94.7 103.3 94.4 107.0M87.2 169.7Q88.6 170.5 90.2 170.8M91.8 117.4Q91.2 119.2 89.6 120.1M58.8 115.8Q59.2 117.6 60.9 118.5M36.6 124.7Q37.7 126.4 39.4 127.6M80.7 97.9Q78.4 101.9 76.5 106.2M29.0 132.1Q35.1 129.5 41.2 132.1M95.0 164.9Q95.1 166.7 95.4 168.4M56.1 144.7Q56.1 146.8 56.6 148.7M107.9 150.5Q100.3 148.3 93.8 152.7M23.6 128.2Q24.9 129.9 27.2 130.0M92.4 151.1Q94.7 152.8 96.1 155.4M21.5 94.4Q19.1 96.1 18.8 99.0M95.4 109.5Q97.3 117.4 104.7 120.8M54.5 166.2Q50.3 169.2 46.4 172.4M29.1 168.5Q31.2 174.1 28.6 179.4M95.8 117.5Q95.3 120.5 95.7 123.5M100.8 140.2Q103.9 142.8 104.4 146.9M19.0 157.8Q19.8 160.4 18.5 162.7M98.7 166.4Q101.8 170.3 101.5 175.3M26.9 142.2Q27.2 144.1 26.3 145.8M42.3 134.3Q35.7 135.0 29.1 134.7M106.5 112.7Q103.8 114.7 100.6 115.3M100.1 112.6Q98.3 113.1 97.0 114.5M62.2 153.0Q69.1 156.3 76.8 156.1M48.4 169.0Q45.4 172.1 42.4 175.2M89.0 147.1Q92.3 147.1 95.5 147.7M26.6 169.8Q26.3 172.8 24.9 175.5M71.4 129.2Q69.0 128.6 66.6 129.5M71.6 169.5Q70.9 171.1 71.2 172.8M94.4 128.3Q95.4 130.2 95.0 132.3M17.8 94.9Q21.5 96.0 25.3 96.5M65.0 98.2Q67.9 101.9 72.2 103.7M101.6 137.3Q95.3 138.8 88.9 137.8M37.7 177.7Q40.4 179.1 43.5 178.6M88.0 139.5Q96.0 137.7 102.6 142.6M104.2 148.3Q102.3 148.5 100.8 149.7M15.1 121.2Q13.3 122.1 11.5 121.5M88.7 111.0Q81.7 112.6 78.2 118.8M104.8 147.4Q101.3 150.9 96.5 152.1M95.2 166.6Q101.5 169.3 107.8 172.1M59.3 168.6Q56.3 172.6 52.0 175.2M30.0 148.1Q32.3 153.6 32.6 159.6M26.6 113.6Q27.2 115.2 28.5 116.2M66.3 120.5Q68.2 120.3 70.2 120.7M23.7 126.3Q22.2 130.5 20.0 134.4M31.0 180.2Q36.4 184.7 38.8 191.3M6.8 144.5Q13.3 141.4 19.8 144.5M94.8 96.9Q92.0 95.7 89.2 97.0M85.4 179.8Q85.4 186.6 85.3 193.4M83.2 175.7Q84.7 176.0 86.3 175.8M22.7 132.2Q18.0 131.4 14.2 134.4M85.0 139.9Q82.6 141.2 81.1 143.5M94.3 154.3Q97.6 160.5 102.3 165.9M76.8 142.9Q80.5 148.6 84.9 153.8M34.1 137.7Q36.7 143.1 42.1 145.7M68.4 170.6Q68.5 177.5 71.8 183.6M12.1 101.9Q14.1 103.0 16.1 104.1M34.4 129.1Q35.5 130.9 35.3 132.9M45.7 139.1Q41.5 142.7 37.2 146.3M32.6 108.1Q30.6 111.6 27.3 113.7M70.8 144.9Q76.6 149.2 79.1 155.9M82.0 176.9Q84.0 177.4 86.0 177.4M34.1 95.0Q31.3 101.2 26.0 105.6M26.4 159.1Q27.1 163.7 29.1 167.9M90.8 173.7Q92.0 174.9 93.5 175.6M31.5 171.3Q33.6 172.5 35.8 171.7M17.8 170.1Q13.8 172.1 10.0 174.6M97.1 141.4Q95.0 141.5 92.9 141.8M33.4 154.4Q35.4 155.3 37.2 156.4" stroke="rgb(204,204,204)" stroke-width="0.7" fill="none"/>
<path d="M32.3 139.6Q46.6 152.5 60.4 165.9M100.9 104.3Q101.6 115.6 99.3 126.6M64.4 74.5Q67.0 97.0 73.4 118.8M88.6 131.6Q70.6 133.5 53.5 139.5M55.8 111.3Q43.6 117.9 30.6 122.6" stroke="rgb(205,205,205)" stroke-width="0.5" fill="none"/>
<path d="M12.6 117.1Q19.1 134.2 27.0 150.7M47.4 110.2Q65.2 119.7 83.1 129.2" stroke="rgb(205,205,205)" stroke-width="0.6" fill="none"/>
<path d="M85.2 142.3Q102.5 150.9 120.1 158.8M45.8 158.7Q65.7 172.2 88.6 179.8M19.5 63.0Q23.2 90.1 24.9 117.4" stroke="rgb(205,205,205)" stroke-width="0.7" fill="none"/>
<path d="M21.3 152.3Q22.7 152.7 24.1 153.4M77.4 119.5Q78.2 124.4 78.8 129.3M34.8 182.6Q41.5 183.5 47.9 185.5M15.1 113.5Q17.7 119.5 22.4 124.1M30.0 179.5Q31.0 182.1 30.6 184.9M93.1 153.1Q95.3 153.8 96.5 155.7M67.9 154.6Q63.2 160.9 63.0 168.7M0.9 150.1Q6.6 154.1 13.5 153.9M8.5 93.5Q8.7 95.1 9.6 96.5M25.4 120.8Q29.1 125.2 30.9 130.7M15.3 168.3Q10.1 166.4 4.9 168.6M3.0 100.4Q7.6 105.8 12.4 111.1M14.6 87.8Q11.4 91.4 7.4 94.3M26.5 134.9Q24.7 141.2 23.0 147.4M48.3 153.1Q54.8 152.2 61.3 153.5M14.2 139.2Q14.3 142.7 14.3 146.1M76.5 182.8Q79.1 183.1 80.5 185.3M39.8 182.5Q42.9 185.9 44.8 190.1M7.4 153.4Q9.4 153.2 11.3 153.8M87.0 93.5Q87.1 100.0 83.3 105.3M38.1 155.7Q39.7 160.5 44.2 162.8M32.7 113.5Q32.5 116.5 33.0 119.6M60.5 101.4Q60.9 103.9 60.4 106.4M93.3 143.4Q95.5 146.1 95.0 149.6M68.1 105.7Q72.3 111.9 72.3 119.4M96.8 94.1Q96.2 97.9 94.6 101.5M42.4 98.3Q41.0 99.5 39.1 99.6M25.9 149.7Q26.0 151.8 26.7 153.8M43.1 88.6Q42.5 93.0 45.1 96.5M101.3 109.4Q99.9 110.1 98.6 111.0M96.0 88.4Q97.5 91.2 97.4 94.4M50.5 173.3Q47.7 177.6 42.7 178.7M88.4 176.2Q88.4 177.9 88.3 179.6M25.7 120.5Q25.0 125.4 28.2 129.1M10.2 140.3Q9.8 142.7 10.8 144.9M51.2 172.4Q50.5 175.5 52.0 178.3M31.3 178.6Q32.6 179.8 33.0 181.5M83.3 155.9Q85.3 158.4 85.3 161.6M66.5 148.0Q73.3 150.5 77.1 156.7M103.8 89.6Q102.2 90.0 100.5 89.9M71.1 182.9Q72.6 183.2 73.8 184.2M34.0 92.2Q37.1 95.3 41.4 95.9M24.7 95.9Q22.0 96.5 19.3 96.2M57.0 156.2Q53.4 159.9 48.9 162.4M39.0 91.7Q40.9 92.7 42.9 91.7M31.3 100.9Q27.0 104.1 21.7 105.0M30.2 125.9Q30.5 130.5 33.3 134.2M84.6 97.8Q85.8 98.9 87.4 98.8M40.5 117.2Q42.4 119.2 42.8 122.0M52.0 142.9Q47.7 143.2 45.2 146.8M76.4 137.6Q75.9 140.3 77.4 142.7M77.2 148.1Q82.8 149.8 88.3 151.8M22.3 92.4Q18.5 92.5 14.9 93.1M52.9 118.4Q52.0 120.5 50.3 121.8M82.0 137.3Q81.1 139.5 78.9 140.1M13.5 137.3Q15.3 138.1 17.2 137.8M22.4 151.8Q26.2 154.1 29.2 157.3M96.1 164.3Q95.2 166.9 93.2 168.8M13.3 131.4Q14.8 135.0 14.9 138.9M64.7 159.2Q64.0 163.9 63.6 168.7M41.6 144.9Q45.2 147.3 46.3 151.5M74.0 93.3Q74.9 99.8 72.6 106.0M78.8 92.1Q76.4 96.3 72.6 99.4M38.8 180.3Q37.6 182.2 38.5 184.3M90.9 162.5Q93.6 166.3 97.3 169.1M68.6 156.2Q70.9 162.2 75.3 166.8M33.1 172.2Q31.7 174.3 32.4 176.7M27.2 136.2Q19.7 136.2 15.1 142.0M58.6 166.5Q56.8 171.8 51.6 173.7M64.0 132.9Q70.1 136.9 77.5 136.8M70.6 118.2Q71.5 119.9 73.4 120.2M65.2 118.0Q59.8 120.0 54.2 119.0M11.2 89.6Q12.7 90.2 14.4 90.3M102.1 126.3Q102.6 127.8 103.2 129.2M102.9 113.9Q102.4 116.3 102.0 118.8M12.1 137.6Q5.9 139.4 2.3 144.6M96.4 147.7Q97.1 151.1 95.9 154.4M67.2 155.2Q66.4 156.5 64.8 157.0M20.0 108.1Q18.7 113.6 15.1 117.9M79.3 145.4Q79.0 152.7 75.4 159.0M23.3 167.5Q18.1 168.4 13.3 171.0M53.7 170.4Q51.2 176.5 46.2 180.6M15.8 103.3Q18.2 107.2 17.8 111.8M48.7 156.5Q48.7 159.6 49.9 162.4M70.4 126.5Q71.8 128.7 74.3 129.3M100.0 166.4Q98.0 167.3 96.7 169.2M10.3 125.0Q11.4 127.6 10.1 130.0M52.2 164.0Q57.5 167.6 58.8 173.9M31.5 96.5Q28.3 102.2 24.5 107.6M88.2 139.3Q86.8 142.2 83.7 143.3M56.7 116.7Q49.4 118.2 46.2 124.9M30.8 101.2Q28.7 106.0 23.7 107.6M38.0 133.4Q41.0 134.9 42.9 137.7M24.2 174.1Q28.7 175.3 33.1 174.3M14.3 177.1Q17.0 180.0 20.9 180.8M25.1 136.6Q23.6 137.0 22.0 136.9M92.8 141.9Q90.4 141.9 88.5 143.2M17.1 166.5Q17.2 171.0 15.1 175.0M94.3 139.5Q91.0 141.1 87.5 142.5" stroke="rgb(222,222,222)" stroke-width="0.5" fill="none"/>
<path d="M58.3 132.9Q60.8 135.3 61.4 138.8M95.1 140.6Q101.7 142.8 107.5 146.8M17.4 134.2Q18.5 135.4 19.9 136.0M42.9 166.8Q44.7 169.0 47.5 169.7M94.4 101.1Q101.2 102.5 108.0 103.3M41.9 84.3Q39.0 90.7 42.0 97.2M27.8 142.8Q26.4 143.9 25.4 145.3M34.0 142.2Q29.6 144.3 25.9 147.4M65.8 99.3Q68.5 105.4 74.9 107.3M73.1 132.3Q68.3 136.2 62.0 136.1M99.2 104.5Q96.7 110.2 95.4 116.2M37.4 183.6Q36.2 185.8 34.8 187.8M47.6 138.9Q44.3 138.5 41.0 138.9M62.8 113.4Q62.6 116.4 64.4 118.8M35.5 126.9Q30.4 129.1 24.7 129.4M40.8 165.4Q42.3 166.2 43.9 165.8M14.0 126.2Q15.6 126.0 17.1 126.4M53.0 170.1Q53.5 173.3 52.7 176.5M16.6 90.5Q11.7 89.9 6.9 91.0M33.1 174.3Q37.5 173.4 41.4 175.6M69.2 95.8Q69.7 100.3 73.0 103.3M82.5 162.7Q78.5 163.0 75.1 165.3M61.9 138.8Q62.0 146.5 57.6 152.7M67.4 169.7Q69.2 171.5 70.6 173.6M91.8 167.1Q84.3 167.7 76.9 168.9M49.7 142.3Q51.7 146.8 54.5 150.9M84.4 171.5Q84.1 175.6 82.8 179.6M32.4 157.7Q25.4 155.8 18.5 157.9M67.8 157.7Q68.8 161.3 69.3 165.0M22.8 124.4Q27.8 124.1 32.5 125.9M55.5 93.0Q51.1 92.1 47.8 95.0M11.8 136.4Q17.0 137.8 22.2 136.6M42.2 153.8Q44.7 155.0 47.3 154.0M61.1 171.4Q60.1 172.5 58.8 173.3M71.5 132.0Q69.7 139.3 72.2 146.4M72.2 99.0Q71.5 100.7 71.4 102.5M49.2 119.5Q42.9 122.4 36.0 123.5M43.4 152.5Q45.5 156.2 48.6 159.1M52.6 173.7Q55.6 174.1 58.1 175.6M13.9 172.8Q13.7 174.8 12.2 176.0M28.7 176.6Q33.3 177.5 37.7 179.5M11.4 180.5Q8.7 183.7 9.4 187.9M100.2 174.9Q92.7 174.9 85.9 178.3M20.8 118.0Q21.4 121.8 24.4 124.0M14.9 174.1Q16.8 178.4 21.3 179.5M106.2 112.2Q102.8 113.4 100.7 116.3M37.1 91.0Q35.0 90.2 33.0 91.2M56.5 91.3Q57.7 92.5 59.1 93.4M51.3 150.7Q48.6 153.1 46.3 155.9M65.3 105.1Q66.3 108.4 68.4 111.2M86.6 89.6Q81.8 93.9 77.0 98.0M47.8 183.6Q49.7 184.5 51.5 185.6M43.6 98.1Q45.2 103.0 43.9 108.0M11.8 154.0Q11.5 155.7 10.0 156.5M38.5 121.9Q40.4 122.3 42.0 123.3M57.4 176.0Q62.0 177.9 66.6 176.0M100.5 95.0Q102.9 100.0 107.4 103.2M102.1 183.6Q99.0 185.8 96.8 188.8M53.6 182.4Q50.3 186.9 46.8 191.3M67.1 132.4Q69.8 134.4 69.9 137.7M73.6 173.5Q66.7 176.5 63.0 183.0M26.7 112.3Q24.5 115.5 20.7 116.5M39.9 172.3Q38.7 174.0 36.9 175.4M103.8 102.5Q103.2 107.0 104.9 111.1M106.1 142.4Q103.0 142.2 100.5 144.1M65.3 97.5Q62.7 97.9 60.1 98.4M95.9 173.8Q101.0 174.5 106.1 175.2M28.7 99.4Q34.5 98.1 39.6 101.3M55.8 168.3Q55.7 170.9 53.6 172.5M87.4 100.1Q87.5 101.9 88.7 103.2M19.5 127.0Q22.3 130.7 22.9 135.2M91.5 107.1Q91.3 110.6 93.0 113.6M109.1 140.4Q103.5 143.4 100.4 148.8M75.9 138.4Q78.0 139.9 80.3 141.1M18.8 133.3Q18.6 135.5 17.5 137.4M23.9 127.5Q25.5 127.5 26.7 128.7M63.1 177.6Q65.7 179.4 66.7 182.5M24.3 100.9Q25.8 101.7 27.2 102.5M47.7 181.3Q49.9 183.0 50.8 185.7M26.9 153.2Q25.6 154.4 24.3 155.7M8.6 98.5Q6.7 100.2 6.8 102.8M50.5 118.2Q49.3 122.9 45.0 124.9M34.2 152.8Q32.2 153.2 30.1 153.5M93.4 129.9Q90.2 130.9 86.8 130.9M103.5 105.9Q99.0 105.3 94.9 107.3" stroke="rgb(222,222,222)" stroke-width="0.6" fill="none"/>
<path d="M23.7 143.2Q19.3 142.7 15.1 144.1M41.1 129.0Q40.0 136.2 41.4 143.2M95.0 175.7Q98.1 177.8 101.0 180.2M86.6 123.7Q84.3 124.1 82.1 124.7M85.1 124.5Q89.4 129.1 92.6 134.6M84.5 128.5Q85.8 136.3 81.8 143.2M48.8 115.0Q44.4 119.9 39.7 124.5M7.4 162.9Q11.5 165.9 16.4 164.7M97.6 163.6Q94.4 163.4 91.8 165.4M70.2 141.9Q69.0 143.1 67.4 143.2M60.1 154.9Q57.4 159.5 54.9 164.2M58.6 122.0Q58.6 124.2 58.2 126.4M81.9 181.9Q82.2 183.9 81.7 186.0M15.6 169.5Q10.4 171.4 8.3 176.6M44.8 106.5Q38.3 108.8 31.6 107.1M14.4 134.2Q10.4 136.9 8.1 141.2M43.1 143.7Q40.6 147.1 38.6 150.8M86.2 143.0Q82.8 148.9 80.0 155.1M47.5 85.2Q50.7 92.0 57.3 95.7M46.8 137.3Q44.9 137.5 43.1 138.1M58.1 167.3Q60.2 173.0 59.7 179.1M102.5 104.8Q100.7 105.5 99.4 106.9M82.0 145.3Q83.2 148.4 83.2 151.7M55.6 119.3Q54.5 122.8 54.5 126.5M10.5 152.1Q13.6 154.9 13.8 159.0M77.8 130.0Q74.4 134.8 70.2 138.9M46.5 134.9Q45.3 136.4 44.2 138.0M35.4 121.2Q32.2 125.7 26.9 127.4M34.4 150.5Q32.7 150.3 31.2 151.0M31.8 185.3Q29.5 185.1 27.3 185.7M9.0 131.3Q12.5 132.1 15.6 133.9M61.9 178.1Q63.8 180.1 65.7 182.0M86.3 104.1Q83.6 108.9 81.3 113.9M88.5 154.7Q81.1 154.7 73.8 154.8M95.7 143.2Q92.7 145.0 89.3 144.1M51.3 92.2Q47.2 95.5 44.6 99.9M62.0 183.5Q65.8 186.0 66.6 190.5M80.3 126.3Q79.8 127.9 79.5 129.6M68.6 127.8Q62.7 130.9 57.9 135.4M55.2 95.9Q55.3 97.6 54.7 99.2M48.7 173.3Q45.1 175.0 42.7 178.0M38.5 179.7Q37.1 180.3 35.6 180.4M96.6 167.8Q96.9 170.3 96.9 172.7M85.7 96.7Q81.5 96.9 77.2 97.0M45.5 110.4Q50.5 113.3 56.0 111.4M42.2 177.9Q36.3 179.3 30.5 181.2M48.5 124.2Q52.4 131.1 49.8 138.6M78.9 107.8Q80.7 108.0 82.3 109.0M64.3 113.2Q62.7 116.3 59.4 117.9M44.7 130.7Q41.7 131.9 38.7 130.7M82.4 147.7Q83.9 153.9 85.7 160.0M49.9 123.3Q51.8 125.4 54.5 125.2M3.4 122.2Q7.1 124.5 11.0 126.4M27.7 125.7Q25.9 128.9 22.4 129.9M11.0 112.2Q10.0 117.1 8.2 121.8M15.8 155.8Q13.8 159.4 14.6 163.5M46.7 115.1Q51.5 117.7 56.6 119.4M93.4 86.4Q94.8 92.5 97.5 98.2M44.0 134.9Q43.3 137.1 42.5 139.3M34.7 166.9Q30.9 171.0 26.7 174.7M15.3 161.4Q17.0 162.4 18.9 161.8M18.9 119.4Q20.3 121.5 22.4 122.7M63.9 171.4Q62.9 175.0 60.0 177.4M25.8 180.6Q30.3 184.0 35.2 186.5M95.6 144.2Q94.6 147.2 96.3 149.9M83.1 89.9Q81.1 90.1 79.8 91.6M41.1 144.8Q37.5 148.4 33.9 151.9M85.0 131.9Q86.4 133.1 88.0 134.1M40.2 172.6Q38.1 175.1 36.1 177.6M84.4 92.1Q84.1 96.1 85.3 99.9M73.3 137.2Q74.5 138.1 76.0 138.6M67.6 100.0Q67.1 103.7 63.9 105.6M13.0 176.6Q15.1 179.9 14.9 183.8M75.9 85.5Q78.1 90.7 78.9 96.3M53.5 114.4Q55.5 116.2 58.2 116.1M69.0 112.3Q70.9 116.6 75.3 118.2M31.0 152.5Q29.8 159.8 33.7 166.1M48.2 149.4Q47.6 151.2 46.2 152.6M88.7 181.5Q85.9 184.8 85.5 189.0M67.2 179.3Q62.2 183.2 57.0 186.8M33.9 151.9Q36.7 157.4 34.7 163.2M68.2 159.2Q67.9 161.5 68.2 163.9M56.5 134.9Q51.1 137.8 46.0 141.3M99.7 178.1Q99.5 179.7 100.1 181.2M18.7 110.1Q23.0 111.5 26.3 114.8M73.9 172.4Q78.9 174.7 80.6 180.0M53.6 151.5Q52.1 152.4 50.3 152.1M19.5 179.7Q20.8 181.1 22.3 182.2M29.9 151.3Q31.7 155.8 34.4 159.6M95.6 136.4Q98.1 137.6 100.8 137.1M106.9 118.0Q103.5 119.6 99.8 119.3M64.1 182.1Q63.8 185.9 65.8 189.2M62.9 137.3Q60.7 138.4 58.2 138.4M37.0 167.7Q42.6 171.8 49.4 170.7M103.3 170.3Q102.9 172.2 102.7 174.2M61.8 114.2Q60.6 115.6 58.9 116.2M14.8 143.0Q12.7 143.0 11.3 144.7M10.1 113.4Q13.2 115.9 16.5 118.2M17.2 176.2Q11.7 181.8 3.9 182.7M18.6 130.1Q18.0 133.2 16.0 135.6M77.3 150.4Q75.0 156.2 73.8 162.3M74.1 94.4Q72.9 97.1 72.7 100.0M73.8 156.4Q72.8 157.8 71.7 158.9M54.7 113.7Q53.7 115.1 53.0 116.6M37.2 178.9Q35.8 181.4 36.0 184.3M51.3 121.4Q47.1 127.0 46.0 133.8M76.0 92.9Q79.0 93.5 81.6 94.9M62.4 146.4Q63.6 147.5 64.9 148.6" stroke="rgb(222,222,222)" stroke-width="0.7" fill="none"/>
<path d="M76.9 160.0Q73.9 172.9 71.1 185.8M60.0 112.4Q81.0 121.5 98.5 136.3M15.6 174.4Q20.2 186.9 27.3 198.2M63.9 72.5Q52.2 92.5 44.6 114.3M102.6 123.0Q102.8 137.8 106.3 152.1" stroke="rgb(225,225,225)" stroke-width="0.5" fill="none"/>
<path d="M-0.4 147.3Q23.1 151.9 46.0 158.7M123.1 155.4Q102.5 168.3 81.8 180.9M25.1 101.5Q40.9 120.6 60.0 136.4M54.0 157.5Q73.5 172.8 96.4 182.0M68.2 163.7Q52.4 180.1 41.2 200.0" stroke="rgb(225,225,225)" stroke-width="0.6" fill="none"/>
<path d="M42.6 84.0Q33.9 100.5 24.5 116.6M36.7 100.7Q14.9 115.9 -9.7 125.6M73.6 158.3Q63.2 183.2 57.1 209.4M67.8 123.4Q79.5 124.4 91.3 124.1M44.3 106.2Q61.2 111.2 76.9 119.5M25.8 77.0Q8.7 96.1 -8.0 115.5M85.9 140.4Q98.1 142.8 109.9 147.1" stroke="rgb(225,225,225)" stroke-width="0.7" fill="none"/>
<path d="M82.0 140.7Q85.6 140.1 88.5 142.4M75.1 103.4Q78.1 109.7 79.8 116.5M78.3 170.9Q75.4 174.0 71.3 174.6M76.7 115.2Q76.5 118.0 78.3 120.2M63.3 118.4Q68.4 120.5 73.9 121.4M100.9 175.3Q95.8 179.6 89.7 182.3M52.5 142.0Q53.7 146.3 51.2 150.0M12.1 113.7Q17.8 117.6 23.8 121.0M60.9 99.3Q62.1 100.3 63.5 100.9M77.9 173.6Q78.7 175.6 78.9 177.7M67.5 130.5Q68.1 136.7 66.8 142.8M54.0 175.2Q55.6 176.1 56.1 177.8M76.7 157.7Q73.1 162.3 70.1 167.3M104.4 135.2Q104.2 139.5 101.4 142.8M68.0 134.4Q71.1 137.9 70.5 142.5M78.1 160.2Q81.2 160.0 84.1 160.8M95.7 144.6Q93.3 144.9 91.7 146.6M70.7 174.1Q67.4 177.7 64.5 181.4M58.6 167.0Q65.7 170.6 68.6 178.0M89.8 142.0Q91.7 143.6 93.7 145.2M12.9 131.4Q13.4 135.7 10.8 139.3M65.9 179.3Q64.3 181.0 63.4 183.2M15.3 167.5Q17.2 170.4 17.6 173.9M63.0 110.3Q65.3 112.0 67.7 113.7M89.6 158.8Q94.9 162.2 101.1 163.1M89.9 128.5Q89.5 134.1 88.5 139.5M37.6 182.1Q42.9 180.8 47.5 183.6M98.2 126.9Q95.2 130.6 92.4 134.6M47.5 163.8Q48.5 168.4 51.3 172.2M87.4 181.7Q83.4 185.5 78.5 188.0M70.1 145.8Q64.2 148.0 59.3 151.8M20.4 178.3Q19.7 182.3 21.8 185.9M39.5 167.0Q40.5 169.7 43.2 170.6M29.7 177.5Q29.3 180.8 29.6 184.1M96.9 167.7Q92.3 170.4 88.2 173.9M46.8 134.0Q42.0 133.0 37.8 135.4M98.8 177.1Q103.5 181.8 109.7 184.2M64.1 131.0Q62.2 131.5 60.4 132.2M41.8 117.5Q40.7 119.2 41.2 121.2M69.6 94.3Q70.3 95.7 71.6 96.5M39.4 152.4Q38.3 153.6 37.1 154.8M43.2 182.6Q49.3 184.7 55.8 184.6M98.6 131.2Q100.0 137.1 98.9 143.0M36.2 107.1Q35.9 109.6 34.5 111.7M21.4 120.9Q19.7 123.2 17.0 123.5M41.3 180.9Q34.6 181.7 29.5 186.1M55.1 157.9Q56.2 159.7 58.2 160.6M61.4 135.0Q58.5 136.3 56.7 138.9M16.6 125.9Q18.4 128.8 21.5 130.0M78.2 153.5Q79.0 158.1 79.2 162.7M72.8 122.7Q79.9 123.6 84.9 128.8M58.8 95.3Q53.2 100.1 45.9 101.5M101.7 176.7Q103.5 178.3 105.7 179.1M25.4 158.6Q27.1 162.2 30.3 164.7M60.2 127.6Q58.5 127.4 56.8 127.8M47.9 139.0Q49.7 143.4 49.5 148.2M80.5 92.5Q79.1 93.7 77.2 93.6M78.7 107.3Q81.5 110.7 82.8 114.8M86.1 134.2Q83.8 137.9 81.2 141.3M93.9 131.5Q93.6 134.3 95.5 136.3M11.2 175.6Q12.1 177.3 11.7 179.2M85.8 101.7Q89.2 107.1 95.5 108.1M14.9 95.3Q9.6 101.0 1.8 100.7M40.9 126.5Q46.4 129.7 52.6 128.4M46.9 159.5Q51.1 159.2 54.4 161.7M65.0 140.9Q65.6 142.6 66.0 144.4M28.9 155.9Q30.7 156.5 32.5 156.2M75.3 176.0Q70.3 179.6 64.3 178.4M72.9 158.9Q80.5 161.3 84.9 167.8M57.5 100.4Q58.6 104.8 59.8 109.1M77.6 124.9Q81.0 128.7 85.8 130.0M39.9 88.7Q44.0 95.2 51.3 97.8M28.5 170.8Q26.8 171.4 25.3 172.3M28.4 164.7Q34.7 165.5 38.5 170.6M34.2 174.0Q33.6 176.1 33.4 178.1M64.9 144.4Q70.9 147.9 75.2 153.3M91.5 128.5Q91.5 131.1 92.2 133.5M91.3 131.8Q89.1 132.2 86.8 132.3M99.2 158.2Q98.0 159.5 96.7 160.6M89.4 159.7Q91.1 160.7 93.0 160.3M63.5 165.7Q63.0 167.4 61.6 168.6M60.6 181.4Q62.9 184.7 65.3 188.0M92.3 146.7Q93.2 152.7 91.5 158.5M94.7 139.1Q89.0 139.3 85.1 143.6M18.6 87.4Q19.6 89.9 20.8 92.3M85.7 176.1Q86.9 177.1 87.3 178.7M35.4 121.3Q38.4 124.6 38.2 129.1M14.2 144.5Q14.4 148.4 15.7 152.2M41.0 127.5Q45.2 133.5 52.5 134.1M10.5 148.3Q10.6 150.6 9.6 152.7M5.5 93.3Q8.6 94.5 11.7 95.2M52.3 180.6Q50.6 183.4 49.7 186.5M9.4 116.1Q15.0 119.7 16.0 126.2M60.1 172.3Q60.2 174.6 61.6 176.4M18.2 126.9Q20.7 127.8 22.4 129.9M59.4 113.2Q58.9 116.9 56.2 119.2M101.5 155.6Q102.4 158.1 100.9 160.4M57.0 151.1Q63.2 153.3 65.5 159.5M105.0 181.0Q104.2 182.5 102.6 183.1M87.9 149.7Q87.2 151.1 86.3 152.3M58.9 139.2Q56.9 140.7 55.6 142.9M68.4 115.6Q67.5 120.7 63.6 124.0M64.1 93.7Q59.5 94.4 54.8 93.9M39.8 160.2Q40.1 161.8 39.7 163.2M67.9 93.7Q72.6 94.5 77.1 95.8M83.6 94.2Q79.8 98.8 75.3 102.8M25.0 127.2Q31.4 130.6 38.3 128.4M21.3 94.4Q17.6 97.8 17.3 102.8M60.8 102.6Q64.0 104.9 67.6 106.2M88.4 179.9Q91.3 181.1 93.8 183.0M84.4 171.5Q89.8 172.2 92.9 176.7M100.3 141.6Q97.7 140.7 95.1 141.8M27.9 147.6Q28.8 150.7 28.3 153.9M24.2 183.7Q20.3 186.0 16.6 188.6M60.2 162.5Q60.2 164.3 60.1 166.1M83.7 183.0Q85.6 183.3 86.6 184.9" stroke="rgb(240,240,240)" stroke-width="0.5" fill="none"/>
<path d="M28.0 171.1Q25.9 171.8 23.7 172.3M72.1 88.3Q74.0 90.6 75.3 93.4M50.5 156.3Q51.7 162.4 53.0 168.5M78.5 157.6Q77.5 161.0 75.4 163.9M25.7 99.6Q28.6 101.8 32.3 101.5M28.2 87.5Q33.9 90.8 36.6 96.8M37.7 137.6Q34.4 142.1 33.2 147.5M49.7 149.4Q51.9 151.6 53.2 154.4M63.1 161.2Q61.8 164.9 58.1 166.4M53.2 151.6Q54.4 152.9 56.2 152.9M79.1 134.8Q75.2 141.0 69.2 145.0M60.1 154.9Q61.4 155.7 63.0 155.7M15.6 147.0Q17.2 147.7 18.8 148.6M96.9 170.2Q94.9 173.9 91.4 176.1M21.1 135.9Q14.2 139.3 9.8 145.7M15.5 123.4Q19.3 124.9 23.3 125.6M105.4 166.3Q104.2 167.7 102.4 168.3M97.5 97.9Q99.5 98.6 100.7 100.3M6.4 129.4Q9.6 131.0 11.0 134.2M83.6 153.2Q81.1 154.0 79.8 156.3M52.1 184.6Q56.5 186.7 61.3 188.0M24.6 131.8Q28.2 137.8 34.3 141.3M71.0 156.8Q69.6 157.6 68.5 158.6M58.0 149.6Q55.3 150.3 52.9 151.6M63.1 91.0Q65.1 92.3 67.4 92.1M55.1 149.5Q53.5 153.6 53.9 158.0M37.1 95.9Q36.3 97.7 34.8 98.8M32.8 119.0Q34.1 120.1 34.2 121.9M102.5 149.7Q103.8 151.7 104.1 154.0M55.8 123.8Q57.2 129.0 62.0 131.6M61.9 111.0Q54.7 113.2 49.1 118.2M87.6 157.6Q86.9 160.2 85.3 162.4M86.9 152.0Q87.9 156.0 88.3 160.1M35.8 173.5Q32.3 178.8 31.4 185.1M96.2 103.6Q91.1 103.9 86.4 105.9M40.1 170.2Q39.7 175.7 37.9 180.9M89.9 107.7Q90.1 110.0 91.5 111.9M104.2 159.3Q101.6 161.6 100.0 164.6M87.8 129.1Q87.1 131.4 85.0 132.5M83.0 115.2Q84.7 116.4 85.9 117.9M99.5 130.2Q102.7 137.5 100.3 145.1M28.8 100.5Q30.5 101.1 32.3 101.2M44.0 175.0Q48.3 178.4 53.7 177.0M36.5 99.1Q35.4 105.5 33.0 111.6M22.3 88.6Q19.4 89.7 16.5 90.6M79.3 164.1Q82.3 168.0 87.2 168.0M88.9 164.0Q83.4 168.1 76.9 166.1M86.9 175.0Q94.8 173.8 101.1 178.8M20.9 152.6Q23.7 155.3 24.0 159.2M97.1 128.6Q90.5 129.8 83.8 130.9M71.5 143.3Q72.4 146.5 72.7 149.7M71.0 148.3Q69.3 150.3 67.9 152.5M103.0 182.2Q101.0 181.9 99.5 183.2M94.3 98.2Q96.3 100.6 98.4 102.9M37.0 155.4Q34.8 156.7 33.7 159.1M68.7 159.1Q70.3 159.3 71.8 159.1M59.4 176.2Q57.2 179.1 55.0 182.0M44.5 143.2Q47.1 146.4 49.2 149.9M63.9 165.8Q66.3 170.8 70.4 174.6M80.6 95.2Q78.4 95.7 76.6 97.0M73.1 176.8Q71.3 176.7 69.6 177.4M95.4 127.0Q94.5 128.7 93.6 130.4M16.0 172.7Q17.0 175.0 18.8 176.9M105.7 171.2Q103.1 171.2 101.0 172.4M57.4 120.2Q53.6 123.6 48.6 124.0M68.0 103.5Q66.1 106.5 63.7 109.1M30.4 103.6Q25.4 103.9 22.5 107.9M14.6 106.7Q14.5 108.4 14.0 110.0M13.1 184.8Q12.3 186.2 12.1 187.9M28.2 98.5Q28.7 103.5 30.5 108.2M34.8 90.6Q31.4 94.0 28.2 97.6M41.9 180.8Q42.5 186.2 41.8 191.6M49.3 168.3Q51.7 170.7 55.0 171.1M70.7 108.1Q74.2 110.3 74.6 114.4M9.3 178.3Q12.0 179.3 15.0 179.0M25.3 176.7Q25.9 179.3 25.9 182.1M34.4 148.0Q33.9 154.0 29.6 158.2M96.7 143.2Q95.3 144.0 94.1 145.0M61.3 111.7Q56.1 113.1 51.0 111.7M57.8 129.3Q55.8 132.2 52.6 133.5M64.1 160.5Q60.6 165.8 59.0 172.0M69.3 168.3Q70.3 170.3 72.1 171.7M49.0 131.7Q45.7 132.8 42.4 132.0M13.2 118.2Q12.7 122.8 10.6 127.0M9.6 126.4Q13.4 129.6 18.3 129.4M50.3 130.8Q51.5 133.6 53.3 135.9M68.8 98.2Q61.9 96.4 55.7 100.0M102.6 135.1Q101.4 136.5 101.7 138.3M99.2 174.0Q98.9 177.2 96.8 179.6M69.2 138.8Q72.1 142.8 71.8 147.7M15.3 89.7Q17.0 91.5 19.4 91.5M80.6 159.7Q78.6 159.6 77.0 160.7M47.5 130.8Q45.4 131.0 44.2 132.7M39.3 109.2Q39.5 110.8 39.9 112.3M60.9 107.2Q57.5 109.3 55.2 112.4M23.2 180.3Q24.9 182.0 27.3 181.7M19.5 108.7Q16.3 111.0 12.5 110.6M60.3 115.7Q61.8 117.9 64.3 118.9M43.9 123.9Q42.5 127.0 43.9 130.0M96.2 111.9Q96.2 114.0 95.3 115.9M81.6 134.5Q80.1 138.0 77.0 140.0M94.8 89.1Q93.9 90.6 92.7 91.7M74.6 167.0Q73.8 168.5 72.2 169.0M87.4 154.2Q93.9 156.0 100.7 154.8M81.4 152.0Q83.0 153.6 85.3 153.8M86.0 98.9Q83.6 99.7 81.1 99.4M48.7 120.8Q43.9 126.5 39.6 132.6M52.4 180.1Q55.9 181.2 59.6 180.9M6.4 172.8Q12.6 172.3 18.1 175.0M1.3 91.4Q7.2 93.4 13.2 91.8M64.2 111.0Q69.9 111.4 73.8 115.7M54.0 104.0Q57.0 106.5 58.8 110.0M86.5 103.1Q89.8 101.7 92.9 103.4M93.5 150.4Q91.2 152.4 89.0 154.5M79.4 139.3Q80.0 141.0 81.7 141.6M66.7 175.4Q68.4 178.9 69.0 182.7M64.3 104.4Q65.8 107.4 66.9 110.6M77.8 140.9Q77.3 142.5 76.2 143.7M40.1 124.4Q39.1 130.6 35.0 135.5M97.0 108.7Q92.0 113.5 85.0 113.4" stroke="rgb(240,240,240)" stroke-width="0.6" fill="none"/>
<path d="M10.0 146.1Q11.8 147.9 13.9 149.3M12.3 121.7Q16.4 123.4 19.9 126.2M103.0 100.8Q100.0 106.5 100.6 112.8M12.4 116.2Q8.8 122.8 2.7 127.2M26.5 176.7Q27.7 184.3 24.6 191.4M7.0 172.0Q9.8 173.5 12.9 172.9M92.0 117.6Q89.7 118.3 88.2 120.2M100.2 183.3Q99.2 186.9 101.4 189.8M42.5 100.0Q39.7 101.5 36.7 102.9M64.9 157.4Q60.5 160.1 59.2 165.1M97.6 177.9Q97.5 180.3 96.0 182.2M28.6 178.2Q33.9 181.3 38.5 185.4M31.4 174.5Q33.8 174.9 36.1 176.0M64.9 145.6Q66.9 148.9 70.3 150.7M49.3 174.1Q47.4 177.6 43.8 179.2M59.7 131.6Q56.1 132.1 53.2 134.3M100.4 181.1Q99.0 181.8 97.5 182.2M64.8 179.1Q69.5 178.7 74.2 179.2M73.1 134.9Q67.5 139.3 63.9 145.5M100.0 149.0Q100.7 157.1 94.8 162.8M32.6 163.0Q33.4 166.4 32.9 169.8M91.7 172.9Q95.7 173.8 99.8 174.7M8.4 152.3Q14.7 154.7 18.3 160.4M45.4 95.0Q43.7 94.7 42.4 95.7M11.0 100.3Q13.5 103.2 14.0 107.0M73.3 153.2Q74.2 155.8 76.7 156.7M16.8 122.9Q14.6 123.3 12.7 124.6M36.4 140.0Q40.2 142.2 44.5 141.8M32.7 112.7Q35.6 114.2 38.6 115.0M16.9 143.3Q16.2 145.0 14.9 146.3M21.1 98.8Q24.9 103.4 25.9 109.4M54.6 148.9Q53.5 154.7 54.9 160.4M44.6 148.5Q40.6 147.9 36.8 149.2M37.5 142.0Q32.2 146.8 30.0 153.5M73.9 147.0Q72.0 151.8 73.9 156.6M91.6 90.5Q90.6 93.7 88.2 96.1M108.9 127.5Q102.0 129.8 95.3 133.0M37.1 89.0Q36.9 90.6 37.2 92.2M94.5 155.0Q96.6 157.9 100.2 158.4M43.6 103.8Q42.7 105.7 42.7 107.7M68.4 134.7Q68.0 141.2 68.5 147.7M35.9 121.0Q33.7 128.4 26.5 131.1M68.3 107.2Q63.9 106.7 59.8 107.9M80.1 154.4Q83.6 156.6 87.7 155.8M51.8 169.6Q53.8 170.9 56.1 171.2M74.6 170.1Q75.4 171.6 75.7 173.2M67.5 177.1Q65.7 180.7 64.6 184.7M97.1 130.5Q95.0 134.2 91.2 136.2M40.8 140.3Q41.9 141.6 43.0 142.8M30.5 100.0Q31.4 102.3 33.5 103.8M93.4 117.7Q95.1 118.4 96.4 119.7M95.3 172.4Q93.7 173.8 92.8 175.8M24.6 103.9Q24.8 106.7 24.3 109.5M52.8 114.3Q51.5 116.0 49.4 116.5M24.7 119.7Q28.9 122.1 29.5 126.9M97.5 95.0Q96.7 96.4 95.1 96.8M94.8 113.7Q91.8 115.2 88.5 115.1M59.2 149.4Q54.3 153.9 51.6 160.0M91.7 92.3Q93.5 92.9 95.3 92.8M32.0 89.0Q36.7 91.0 38.5 95.9M79.4 118.2Q77.1 125.7 70.1 129.2M34.6 133.3Q37.9 135.8 39.2 139.7M46.6 149.5Q49.6 151.0 52.7 152.2M29.7 174.7Q34.4 176.5 39.3 175.2M55.2 87.6Q54.5 91.2 52.7 94.3M35.4 173.3Q32.4 178.4 31.5 184.2M29.6 91.7Q27.2 93.7 24.5 95.1M30.3 115.3Q31.9 115.6 33.4 116.2M43.7 89.2Q40.3 93.5 35.7 96.4M78.0 133.5Q82.7 135.5 84.0 140.4M49.0 178.2Q49.2 180.5 48.4 182.7M9.3 143.7Q10.5 145.2 10.9 147.1M81.1 94.5Q86.4 96.1 91.8 95.1M76.9 91.9Q73.6 95.1 72.5 99.6M55.8 121.3Q50.2 124.9 46.1 130.0M37.4 144.9Q30.5 143.9 24.5 147.5M86.1 100.6Q89.6 100.8 92.9 101.9M47.8 164.1Q45.5 164.3 43.9 165.8M58.8 152.0Q56.8 158.1 51.3 161.4M77.4 88.8Q80.0 91.7 81.8 95.2M92.7 109.2Q94.2 110.5 95.6 111.9M102.3 118.6Q102.0 121.4 101.8 124.1M49.3 170.2Q44.0 172.5 38.6 170.3M99.5 143.3Q92.1 145.7 89.5 153.1M37.4 164.5Q39.3 167.8 41.2 171.1M37.3 104.0Q41.4 104.0 44.4 106.8M20.8 94.8Q25.3 100.7 30.7 105.8M91.3 113.9Q93.9 115.6 94.8 118.5M76.9 181.5Q80.5 182.4 84.1 182.1M66.8 155.7Q70.1 156.2 72.8 158.1" stroke="rgb(240,240,240)" stroke-width="0.7" fill="none"/>
</g>
<path d="M75.6 185.5a3.1 2.4 0 1 0 6.1 0a3.1 2.4 0 1 0 -6.1 0M42.5 146.1a3.4 2.7 0 1 0 6.8 0a3.4 2.7 0 1 0 -6.8 0M83.7 119.0a4.3 3.5 0 1 0 8.6 0a4.3 3.5 0 1 0 -8.6 0M9.8 179.9a5.3 4.3 0 1 0 10.7 0a5.3 4.3 0 1 0 -10.7 0M96.2 113.3a2.8 2.3 0 1 0 5.7 0a2.8 2.3 0 1 0 -5.7 0M97.6 117.3a3.6 2.9 0 1 0 7.2 0a3.6 2.9 0 1 0 -7.2 0M89.1 175.4a5.3 4.3 0 1 0 10.7 0a5.3 4.3 0 1 0 -10.7 0M99.4 133.8a2.6 2.1 0 1 0 5.2 0a2.6 2.1 0 1 0 -5.2 0M100.6 130.6a3.4 2.7 0 1 0 6.7 0a3.4 2.7 0 1 0 -6.7 0M65.0 144.4a2.0 1.6 0 1 0 4.1 0a2.0 1.6 0 1 0 -4.1 0M10.6 182.3a2.4 1.9 0 1 0 4.7 0a2.4 1.9 0 1 0 -4.7 0M40.8 170.4a3.5 2.8 0 1 0 7.0 0a3.5 2.8 0 1 0 -7.0 0M94.6 121.1a4.8 3.9 0 1 0 9.6 0a4.8 3.9 0 1 0 -9.6 0M75.6 163.3a2.8 2.2 0 1 0 5.5 0a2.8 2.2 0 1 0 -5.5 0M7.8 145.7a3.0 2.4 0 1 0 6.1 0a3.0 2.4 0 1 0 -6.1 0M47.1 143.4a3.9 3.1 0 1 0 7.8 0a3.9 3.1 0 1 0 -7.8 0M23.3 129.2a2.6 2.1 0 1 0 5.2 0a2.6 2.1 0 1 0 -5.2 0M20.5 144.9a3.6 2.9 0 1 0 7.3 0a3.6 2.9 0 1 0 -7.3 0M15.3 163.9a3.8 3.0 0 1 0 7.6 0a3.8 3.0 0 1 0 -7.6 0M59.3 102.0a4.7 3.8 0 1 0 9.4 0a4.7 3.8 0 1 0 -9.4 0M95.2 104.3a3.7 3.0 0 1 0 7.5 0a3.7 3.0 0 1 0 -7.5 0M37.8 147.9a3.4 2.7 0 1 0 6.7 0a3.4 2.7 0 1 0 -6.7 0M77.9 110.5a3.1 2.5 0 1 0 6.2 0a3.1 2.5 0 1 0 -6.2 0M16.9 118.7a2.1 1.7 0 1 0 4.2 0a2.1 1.7 0 1 0 -4.2 0M23.5 183.3a3.9 3.1 0 1 0 7.8 0a3.9 3.1 0 1 0 -7.8 0M36.3 143.2a4.0 3.2 0 1 0 8.1 0a4.0 3.2 0 1 0 -8.1 0M47.4 113.3a5.2 4.2 0 1 0 10.4 0a5.2 4.2 0 1 0 -10.4 0M58.4 144.0a4.2 3.4 0 1 0 8.4 0a4.2 3.4 0 1 0 -8.4 0" fill="#161616" opacity="0.6" filter="url(#poreblur)"/>
</g>
<path d="M12.4 120.2L51.6 131M12.700000000000001 121.3L51.9 132.1M66 115.8L87.4 101.5M66.3 116.89999999999999L87.7 102.6M24.9 114L60.6 139M25.2 115.1L60.9 140.1" stroke="#d6d6d6" stroke-width="0.75" opacity="0.7" fill="none" clip-path="url(#semclip100)" filter="url(#semblur)"/>
<ellipse cx="40" cy="128" rx="28" ry="9" fill="#fff" opacity="0.1" filter="url(#softblur)"/>
<ellipse cx="48" cy="176" rx="14" ry="8" fill="#fff" opacity="0.1" filter="url(#softblur)"/>
<ellipse cx="80" cy="162" rx="10" ry="9" fill="#000" opacity="0.22" filter="url(#softblur)"/>
<ellipse cx="50" cy="100" rx="14" ry="8" fill="#000" opacity="0.18" filter="url(#softblur)"/>
<rect x="7.0" y="187.2" width="97.8" height="10.100000000000023" fill="#fff"/>
<text x="8.5" y="189.8" font-family='"Liberation Sans", Arial, sans-serif' font-size="2.7" fill="#666" stroke="#999" stroke-width="0.15">HV: 10.00 kV</text>
<text x="30" y="189.8" font-family='"Liberation Sans", Arial, sans-serif' font-size="2.7" fill="#666" stroke="#999" stroke-width="0.15">WD: 7.20 mm</text>
<text x="54" y="189.8" font-family='"Liberation Sans", Arial, sans-serif' font-size="2.7" fill="#666" stroke="#999" stroke-width="0.15">SEM MAG: 50.0 kx</text>
<text x="87" y="189.8" font-family='"Liberation Sans", Arial, sans-serif' font-size="2.7" fill="#666" stroke="#999" stroke-width="0.15">VEGA3 TESCAN</text>
<text x="8.5" y="192.75" font-family='"Liberation Sans", Arial, sans-serif' font-size="2.7" fill="#666" stroke="#999" stroke-width="0.15">Det: SE 20.0 um</text>
<text x="30" y="192.75" font-family='"Liberation Sans", Arial, sans-serif' font-size="2.7" fill="#666" stroke="#999" stroke-width="0.15">View field: 4.15 um</text>
<text x="54" y="192.75" font-family='"Liberation Sans", Arial, sans-serif' font-size="2.7" fill="#666" stroke="#999" stroke-width="0.15">1 um</text>
<text x="8.5" y="195.7" font-family='"Liberation Sans", Arial, sans-serif' font-size="2.7" fill="#666" stroke="#999" stroke-width="0.15">SEM HV: 10.0 kV</text>
<text x="30" y="195.7" font-family='"Liberation Sans", Arial, sans-serif' font-size="2.7" fill="#666" stroke="#999" stroke-width="0.15">Date(m/d/y): 11/18/20</text>
<text x="8.5" y="21.8" font-family='"Liberation Sans", Arial, sans-serif' font-weight="bold" font-size="9.1" fill="#111" stroke="#111" stroke-width="0.15">(a) 12.5 mg/mL</text>
<g clip-path="url(#clipdish1)">
<ellipse cx="155.0" cy="56.3" rx="34.4" ry="32.3" fill="url(#dishg)"/>
<ellipse cx="155.5" cy="55.1" rx="25.11" ry="21.96" fill="#eceeee" stroke="#d6d8d8" stroke-width="0.8"/>
<circle cx="151.7" cy="60.1" r="10.6" fill="url(#redg1)"/>
<ellipse cx="155.0" cy="56.3" rx="34.4" ry="32.3" fill="url(#dishshade)"/>
</g>
<clipPath id="semclip101"><rect x="104.8" y="89.5" width="100.2" height="97.7"/></clipPath>
<g clip-path="url(#semclip101)">
<rect x="104.8" y="89.5" width="100.2" height="97.7" fill="#2a2a2a"/>
<g filter="url(#semblur)" opacity="0.78">
<path d="M143.7 93.8Q145.3 94.4 146.2 95.8M136.9 113.7Q134.6 113.6 133.1 115.2M178.6 180.2Q174.9 181.2 173.4 184.6M168.0 184.5Q166.5 185.0 165.2 185.9M161.7 101.7Q162.0 108.8 166.6 114.2M154.6 181.6Q149.6 182.4 144.6 181.8M195.1 113.5Q199.7 112.8 204.0 114.6M178.0 145.4Q176.4 144.9 175.0 145.6M180.0 128.5Q178.5 129.7 176.6 129.3M151.7 120.3Q152.7 121.6 154.2 122.1M186.9 170.4Q181.0 171.4 177.6 176.3M107.3 156.3Q112.9 158.0 118.2 160.5M193.2 137.6Q198.4 137.8 202.4 141.2M194.4 96.8Q195.6 98.1 196.7 99.4M132.1 146.9Q125.8 148.7 119.3 147.7M156.6 151.5Q149.1 150.9 144.1 156.6M166.1 110.5Q159.5 111.4 153.3 113.7M134.0 123.7Q138.8 127.3 141.2 132.8M169.8 120.4Q165.4 121.8 160.8 122.2M140.7 105.6Q143.9 106.4 146.4 108.3M125.8 152.9Q123.8 158.7 119.0 162.5M198.2 112.7Q202.7 114.3 207.4 115.2M152.9 111.4Q151.2 114.7 151.9 118.4M148.9 141.8Q145.4 145.1 140.7 144.8M169.5 145.3Q170.6 147.3 172.7 148.3M172.4 94.1Q174.1 96.5 176.7 97.9M125.8 160.6Q123.5 163.3 121.0 165.9M183.3 94.3Q181.9 95.5 180.7 96.9M138.9 91.8Q136.5 94.5 133.1 95.8M171.3 117.9Q171.9 120.1 172.8 122.2M181.0 127.6Q178.7 132.5 177.4 137.8M191.3 85.4Q192.4 91.4 189.5 96.8M178.0 125.7Q175.1 126.0 172.8 128.0M178.4 181.8Q176.8 183.5 175.4 185.3M116.4 122.2Q117.8 123.2 119.4 123.8M197.3 93.1Q202.4 97.8 209.3 98.7M184.2 128.1Q185.9 127.6 187.3 128.5M129.4 115.9Q131.6 117.3 131.7 120.0M144.8 155.3Q142.8 155.8 140.9 156.6M146.5 166.2Q148.3 166.9 149.9 167.9M129.0 127.1Q129.6 134.8 125.6 141.6M159.6 124.1Q153.7 126.0 151.5 131.8M196.8 158.7Q196.8 161.5 195.7 164.1M147.2 150.8Q148.8 150.6 150.3 151.1M151.3 141.3Q156.0 146.9 155.5 154.1M108.9 121.9Q113.2 122.0 117.5 122.2M133.0 153.5Q128.8 157.0 125.4 161.3M134.0 180.4Q132.1 180.9 130.2 181.3M119.8 117.4Q114.0 121.1 108.3 124.9M143.4 123.4Q138.8 126.9 136.5 132.2M126.3 174.2Q123.8 175.8 122.0 178.0M184.7 175.8Q185.7 177.3 186.0 179.1M140.2 110.9Q144.3 116.0 150.3 118.5M111.2 101.3Q115.9 106.1 122.7 106.5M145.0 154.6Q142.6 154.9 140.2 155.2M103.8 184.3Q106.1 184.2 108.4 184.7M111.6 134.7Q114.1 140.4 117.9 145.3M159.4 95.3Q157.4 95.4 156.0 96.6M177.7 119.4Q175.4 121.9 174.8 125.1M149.9 104.8Q153.0 110.1 157.6 114.0M109.8 163.9Q105.6 166.6 104.5 171.4M179.5 158.7Q178.3 159.7 176.9 160.2M103.7 112.9Q107.6 116.5 111.8 119.7M186.3 105.9Q183.9 106.2 182.2 107.9M126.0 165.5Q129.6 169.3 132.8 173.5M145.3 107.3Q141.9 112.8 141.9 119.2M156.3 118.9Q151.8 125.2 144.6 128.0M167.7 177.2Q167.5 182.4 165.8 187.4M158.9 152.7Q159.7 154.2 160.7 155.6M200.8 95.1Q197.4 95.7 194.9 98.1M101.4 161.1Q107.2 163.3 113.4 163.1M105.1 121.2Q111.6 119.7 117.1 123.7M149.7 122.4Q146.5 126.7 146.5 132.0M113.7 166.2Q112.2 168.7 112.5 171.7M171.4 88.5Q171.3 90.1 171.3 91.7M165.7 173.2Q164.1 179.1 159.4 183.0M199.8 113.2Q203.0 112.8 205.6 114.7M134.2 173.4Q127.7 176.5 123.9 182.6M159.9 124.0Q162.9 126.9 166.8 128.4M161.6 173.1Q163.2 173.7 163.8 175.2M172.6 184.1Q171.1 184.5 169.6 184.7M201.1 183.9Q198.5 184.0 196.5 185.8M173.4 153.3Q175.0 154.7 176.1 156.6M159.3 108.4Q162.7 114.1 161.1 120.5M148.4 179.7Q145.8 179.3 143.8 180.9M105.8 145.2Q107.5 147.5 108.5 150.3M174.1 165.6Q177.5 171.4 181.4 177.0M179.5 106.8Q184.3 105.7 188.6 108.0M180.0 167.1Q179.1 168.6 177.3 168.9M114.5 126.5Q118.2 126.6 121.4 128.4M184.6 96.8Q186.4 98.0 187.2 100.0M161.7 99.3Q163.6 101.6 164.9 104.3M166.5 163.7Q167.8 165.0 167.8 166.8M143.8 156.0Q147.4 157.9 149.8 161.2M119.0 142.4Q118.4 143.9 119.0 145.4M114.8 94.4Q113.3 101.0 115.1 107.5M148.4 102.4Q154.9 105.8 159.8 111.2M118.2 133.9Q119.6 135.5 121.2 136.9M121.4 144.3Q119.6 144.6 118.0 145.5M119.4 184.0Q114.2 183.9 109.4 185.8M155.6 175.9Q157.4 176.0 159.1 176.7M121.5 104.1Q119.4 106.3 117.1 108.3M173.6 121.1Q168.2 120.6 163.3 123.1M140.3 163.7Q141.5 165.0 143.3 165.1M115.6 182.3Q116.7 186.0 118.2 189.5M136.4 110.6Q137.3 112.8 138.2 114.8M127.3 179.7Q122.0 179.5 117.3 181.9M123.7 89.6Q123.4 91.2 124.3 92.6M150.4 164.3Q151.0 167.3 153.4 169.2M128.0 160.1Q128.5 164.9 128.8 169.6M123.5 181.2Q120.9 183.1 118.1 184.8M121.7 165.7Q121.5 167.2 121.3 168.7M104.2 87.6Q106.7 93.9 111.0 99.2M182.7 114.8Q181.7 116.1 181.4 117.8M142.5 160.9Q137.8 165.8 134.7 171.8M131.4 99.0Q128.7 101.4 128.7 105.0M118.1 150.9Q116.5 151.3 114.9 151.0M147.7 101.2Q146.3 104.5 142.9 105.5M168.4 166.4Q164.8 169.2 161.1 171.7M132.0 108.0Q130.7 109.5 130.1 111.3M113.5 149.2Q119.7 152.9 125.9 156.3M161.7 143.0Q159.0 142.6 157.0 144.4" stroke="rgb(140,140,140)" stroke-width="0.5" fill="none"/>
<path d="M182.2 106.8Q180.5 108.1 178.9 109.5M172.5 125.1Q170.8 125.2 169.7 126.5M159.7 179.1Q154.2 181.5 152.1 187.1M160.3 127.9Q157.6 132.1 152.8 133.6M127.2 155.7Q126.8 158.1 126.7 160.6M143.7 142.8Q145.6 146.4 149.1 148.6M105.9 169.5Q106.8 171.5 107.6 173.4M191.1 151.8Q187.6 158.6 180.3 160.7M206.3 169.4Q204.4 172.0 201.4 173.3M172.5 144.1Q170.7 150.4 164.9 153.3M191.0 129.8Q196.4 131.5 202.0 130.3M111.0 168.2Q113.5 168.9 114.6 171.3M201.2 181.7Q201.5 183.7 200.4 185.4M171.5 162.7Q169.5 164.8 167.0 166.4M128.0 125.6Q126.5 126.9 124.5 127.2M185.1 116.4Q180.2 119.0 177.4 123.8M143.9 123.8Q144.8 131.1 146.9 138.1M125.8 86.5Q125.0 90.5 126.0 94.5M128.8 108.6Q130.6 109.4 132.5 108.9M178.1 132.1Q175.5 133.8 172.4 134.7M107.2 135.2Q104.4 138.5 104.6 142.7M197.5 111.4Q199.0 113.6 200.3 116.0M152.5 173.2Q156.8 176.2 161.8 177.8M140.0 152.0Q143.5 157.6 142.6 164.1M178.0 108.7Q176.4 110.2 174.2 110.3M192.4 104.2Q192.1 106.2 191.2 108.0M144.9 149.5Q141.8 150.6 139.0 152.4M208.4 163.1Q202.8 162.3 197.6 164.5M119.8 175.8Q121.7 178.2 124.3 179.9M142.2 105.1Q141.1 110.4 137.0 114.0M200.8 181.6Q201.4 183.0 201.3 184.6M142.1 175.4Q139.8 180.4 135.6 183.9M116.0 149.7Q114.3 150.3 112.4 150.5M168.4 175.8Q170.2 176.3 172.0 176.4M125.2 121.4Q119.7 123.4 116.8 128.5M144.8 146.0Q148.6 147.1 152.5 147.5M144.9 169.0Q143.6 171.5 144.3 174.4M189.5 163.7Q188.0 164.1 186.6 164.9M162.9 122.4Q164.6 123.9 166.7 124.6M159.8 134.7Q160.3 136.4 160.3 138.3M139.7 94.7Q139.4 97.5 140.5 100.0M173.4 93.7Q176.4 96.9 177.2 101.1M103.9 125.7Q106.7 127.1 107.7 130.0M111.5 125.3Q112.3 127.5 114.5 128.3M154.9 186.6Q160.5 187.3 166.1 187.1M146.0 142.8Q146.2 144.6 145.2 146.1M187.9 141.5Q189.8 143.5 192.4 144.3M200.4 138.4Q195.9 141.5 190.7 140.0M187.0 142.8Q182.1 142.9 178.6 146.3M154.0 146.5Q153.9 148.5 155.4 149.9M150.3 116.8Q153.8 116.7 157.2 117.3M197.7 182.5Q195.7 185.3 194.0 188.4M168.9 86.8Q173.0 91.9 179.4 93.3M133.5 178.7Q126.0 178.2 120.6 183.4M172.4 170.0Q170.3 171.3 169.4 173.6M193.3 88.3Q192.2 90.6 192.8 93.1M180.0 104.0Q181.6 105.1 183.4 104.6M132.1 140.6Q135.8 142.8 137.8 146.6M169.1 116.7Q166.2 119.0 164.3 122.1M109.0 134.3Q104.2 136.8 101.0 141.1M157.5 123.9Q159.0 129.0 157.0 133.8M140.1 113.4Q135.7 117.8 135.7 124.0M134.1 128.3Q133.6 134.6 134.2 140.9M148.3 88.6Q147.8 90.7 148.7 92.6M197.5 95.6Q198.7 96.7 199.7 97.9M112.7 151.8Q111.8 154.3 109.5 155.6M197.0 180.9Q200.1 182.2 203.4 182.7M197.2 158.9Q196.4 162.3 197.8 165.6M160.2 118.7Q157.0 124.7 151.0 127.9M162.7 165.8Q161.1 166.1 159.5 166.5M170.2 108.2Q171.4 112.8 169.4 117.2M107.4 135.9Q107.6 140.0 105.3 143.5M136.6 178.6Q133.3 178.4 130.1 179.2M144.8 148.3Q145.4 150.0 146.7 151.3M172.9 177.4Q175.7 179.9 175.9 183.6M190.7 108.7Q193.2 111.7 193.5 115.6M168.3 135.2Q171.6 137.3 172.9 140.9M132.5 126.9Q134.0 131.3 138.1 133.5M171.5 134.0Q166.6 134.3 162.5 136.8M120.8 94.0Q121.8 98.0 120.6 101.9M123.7 116.1Q128.0 115.4 131.9 117.4M143.7 154.9Q147.7 158.0 149.9 162.6M111.8 114.7Q108.1 116.8 104.2 118.6M203.2 126.7Q200.4 128.1 199.7 131.1M160.3 109.5Q161.2 111.1 161.5 112.9M192.9 100.3Q197.8 105.6 205.1 105.9M151.0 158.8Q155.3 161.8 156.9 166.8M188.8 116.6Q183.6 121.7 176.5 123.2M170.6 147.5Q166.3 147.7 162.6 149.8M141.0 111.0Q139.1 112.8 136.6 112.4M173.0 155.5Q176.1 159.1 176.5 163.9M183.2 99.9Q186.9 103.1 191.9 103.8M164.6 138.9Q161.3 142.9 156.1 143.7M154.8 167.6Q161.5 170.2 168.3 168.2M196.1 139.8Q199.5 141.6 202.8 143.4M151.5 164.7Q149.3 165.0 147.9 166.7M183.6 111.7Q187.1 113.7 191.2 113.5M111.7 121.5Q112.3 128.0 112.6 134.5M138.9 173.1Q138.3 178.8 135.7 183.8M186.9 117.6Q186.1 119.1 184.8 120.2M180.4 172.8Q181.0 176.0 181.5 179.3M140.4 139.6Q141.1 147.4 135.7 153.0M157.1 138.5Q157.7 140.7 159.2 142.3M132.5 168.1Q134.0 171.0 136.1 173.6M110.6 137.4Q109.3 138.3 107.6 138.2" stroke="rgb(140,140,140)" stroke-width="0.6" fill="none"/>
<path d="M166.1 127.0Q169.1 128.5 171.2 130.9M196.4 111.8Q200.0 111.9 202.3 114.6M174.4 96.3Q177.5 99.2 181.7 99.7M198.7 174.1Q202.8 173.8 206.2 176.1M116.1 92.9Q115.7 100.0 118.2 106.7M174.5 144.1Q177.8 149.6 178.6 156.0M132.0 128.7Q132.2 130.8 133.1 132.7M159.3 160.2Q158.6 162.5 159.7 164.7M192.4 131.0Q188.1 135.8 185.2 141.5M147.6 127.3Q149.8 128.5 151.3 130.4M164.7 173.2Q169.0 176.2 172.7 179.8M136.9 156.5Q139.5 158.6 139.8 161.9M122.5 111.6Q120.7 116.4 116.0 118.7M189.4 143.9Q187.6 143.6 186.0 144.3M168.2 177.4Q168.0 182.7 166.7 187.8M164.1 165.6Q162.6 172.0 156.6 174.8M154.2 142.8Q158.3 147.6 163.6 150.9M180.6 169.6Q177.3 171.8 173.4 172.8M170.2 114.0Q171.5 115.3 173.1 115.8M156.6 159.1Q158.4 158.7 160.0 159.6M142.9 156.9Q145.8 157.7 147.1 160.4M171.0 141.0Q168.1 144.2 167.5 148.5M178.6 162.4Q175.2 165.7 170.4 165.1M199.0 155.2Q197.1 159.1 196.2 163.4M147.0 98.2Q149.4 99.0 151.8 99.9M131.1 171.3Q128.6 173.2 125.5 173.5M146.3 108.2Q144.8 108.4 143.3 108.7M124.1 109.8Q129.7 112.9 133.4 118.2M176.6 179.1Q173.9 181.7 170.3 182.5M140.6 136.5Q143.9 140.5 143.6 145.7M162.4 167.6Q160.8 168.5 159.1 167.9M143.6 109.9Q143.6 112.2 143.9 114.5M177.4 179.7Q172.7 180.8 168.0 181.4M148.6 115.6Q152.0 119.9 153.7 125.0M159.2 112.3Q154.8 114.3 150.0 115.4M147.1 130.3Q142.6 133.0 138.8 136.5M159.5 97.2Q161.1 98.5 163.1 98.6M120.2 126.5Q117.1 130.4 112.3 131.6M136.7 155.6Q139.9 157.9 143.8 157.5M137.1 104.3Q138.2 105.8 139.2 107.3M149.9 154.3Q149.5 158.7 149.0 163.0M195.5 183.4Q198.7 185.2 200.2 188.7M204.9 116.8Q203.8 122.6 204.1 128.6M141.6 174.8Q140.4 176.2 139.4 177.8M144.9 93.7Q142.4 96.3 141.2 99.7M102.2 94.9Q105.2 94.3 108.1 95.4M195.7 180.0Q195.8 182.0 194.4 183.4M186.1 116.8Q192.2 117.1 196.5 121.6M172.3 101.0Q167.7 105.5 161.5 107.4M105.9 156.4Q105.5 160.5 107.2 164.2M207.3 126.6Q204.0 130.5 200.9 134.5M127.7 158.2Q131.4 162.5 133.8 167.6M134.7 107.9Q132.9 107.8 131.2 108.6M167.1 170.7Q168.5 171.2 170.0 171.5M158.3 147.1Q158.4 148.9 157.1 150.0M115.3 112.8Q114.0 116.1 113.3 119.6M192.0 90.7Q193.2 92.3 193.0 94.3M109.1 88.5Q116.4 90.7 122.2 95.7M120.0 114.8Q118.0 118.5 114.0 119.8M170.4 141.6Q172.2 144.5 175.6 145.0M176.6 178.7Q182.9 181.5 189.6 183.1M174.1 146.6Q173.9 149.5 174.9 152.3M151.9 139.6Q149.8 139.9 147.7 140.2M145.3 113.2Q148.4 118.6 153.3 122.5M170.9 168.5Q168.7 168.6 167.3 170.3M195.9 118.2Q198.9 119.4 201.8 118.2M165.3 87.6Q163.8 92.9 161.6 97.8M187.1 115.2Q185.3 118.5 182.1 120.4M159.5 184.2Q157.8 186.8 158.8 189.8M202.8 147.4Q204.8 147.0 206.6 147.9M140.3 139.5Q135.1 142.2 133.0 147.6M142.8 183.3Q141.2 184.6 139.2 184.8M150.9 113.1Q152.5 114.8 152.4 117.1M197.2 170.3Q198.8 172.6 198.4 175.3M203.0 149.0Q202.1 150.4 201.0 151.6M159.4 174.2Q160.8 176.7 162.8 178.9M144.0 144.2Q150.2 148.9 157.9 149.4M158.2 156.6Q156.4 157.6 154.6 158.5M197.0 103.2Q201.6 107.4 207.8 107.6M176.9 165.0Q180.4 171.0 182.1 177.8M123.6 140.7Q124.3 146.8 126.5 152.6M134.3 173.2Q135.2 174.8 136.3 176.3M203.6 158.6Q202.0 160.4 201.9 162.7M176.0 121.7Q181.6 125.5 187.4 129.0M115.0 124.2Q110.4 125.5 106.3 127.9M170.1 175.6Q165.5 177.0 161.0 178.4M117.4 170.9Q119.8 173.7 123.5 174.4" stroke="rgb(140,140,140)" stroke-width="0.7" fill="none"/>
<path d="M140.3 90.4Q139.3 91.6 138.5 92.8M190.6 155.7Q190.1 157.6 190.8 159.4M109.0 124.6Q107.4 126.1 105.3 126.9M156.8 164.8Q153.4 168.4 148.5 169.3M162.2 161.7Q168.1 160.5 173.2 163.9M200.8 162.7Q200.0 164.9 198.3 166.4M164.1 151.8Q163.6 155.1 160.7 156.8M184.5 129.2Q184.4 131.4 185.7 133.1M172.8 148.9Q177.0 155.1 177.9 162.6M136.0 126.0Q133.4 127.5 130.6 128.5M141.9 183.4Q143.4 185.4 145.8 185.6M128.5 90.2Q131.6 95.7 135.1 100.9M172.7 183.1Q174.0 185.0 174.6 187.2M151.1 90.9Q147.7 94.2 145.9 98.7M140.8 166.6Q138.3 167.5 137.4 170.0M175.7 172.4Q178.4 175.5 181.1 178.7M194.5 136.9Q193.1 138.6 192.2 140.7M126.2 155.6Q130.1 154.2 133.6 156.4M157.8 143.2Q159.4 145.4 160.3 147.9M161.4 146.6Q160.5 149.6 161.5 152.5M160.8 161.1Q162.6 163.2 165.2 164.1M196.1 176.1Q191.1 179.6 187.1 184.1M169.3 142.6Q169.2 144.2 168.8 145.7M165.6 175.5Q166.9 176.4 168.0 177.4M140.2 100.8Q138.7 106.4 137.9 112.2M197.1 150.6Q192.2 152.5 188.1 155.7M104.9 172.5Q106.3 173.4 107.8 173.7M140.0 107.8Q140.9 109.6 141.7 111.5M121.9 141.2Q117.8 142.1 114.4 144.6M185.4 96.2Q180.8 96.7 176.3 98.2M160.2 96.0Q162.7 97.1 164.0 99.5M186.0 131.2Q192.0 130.5 197.8 132.2M155.5 168.3Q158.1 174.4 164.1 177.4M162.4 166.3Q163.7 173.1 168.8 177.8M154.8 160.3Q158.3 162.1 162.0 163.4M190.9 129.9Q192.8 129.6 194.5 130.5M125.0 176.5Q122.5 181.3 119.4 185.6M102.3 110.5Q105.5 113.1 108.7 115.6M122.5 107.2Q120.5 106.9 119.0 108.3M130.6 136.3Q133.1 137.3 134.9 139.3M149.4 149.9Q147.1 154.4 148.4 159.2M179.7 118.7Q179.0 120.6 178.4 122.5M114.5 165.8Q110.7 168.9 105.9 170.1M115.5 97.4Q113.4 97.1 111.6 98.1M184.6 117.4Q185.4 119.6 186.2 121.7M162.0 105.1Q168.0 109.2 170.5 116.0M153.2 149.5Q157.3 152.4 160.8 156.1M118.5 173.5Q118.6 176.4 119.1 179.3M127.9 155.8Q125.2 157.2 123.0 159.1M174.4 128.3Q176.0 134.7 180.2 139.8M119.1 173.8Q122.6 175.3 125.4 177.8M171.3 141.7Q168.3 142.0 165.8 143.7M115.8 131.0Q115.5 132.6 115.4 134.3M167.3 165.5Q164.7 167.1 161.7 167.0M121.3 126.7Q121.4 129.4 123.2 131.3M199.8 138.8Q200.2 141.4 202.4 143.0M147.1 118.8Q153.2 118.8 159.0 120.6M148.1 134.1Q149.9 139.3 148.8 144.7M161.2 90.3Q159.6 89.7 158.1 90.4M192.5 174.0Q196.4 180.5 203.6 182.8M144.8 110.6Q141.8 113.7 139.5 117.4M109.8 107.0Q111.5 107.8 111.9 109.7M146.0 126.7Q147.3 128.4 146.9 130.4M174.2 130.8Q170.4 132.2 169.2 136.1M172.2 113.5Q174.1 114.6 175.3 116.5M145.8 122.2Q143.8 123.4 141.4 123.5M107.5 158.0Q106.2 159.2 105.0 160.4M192.7 95.9Q192.6 99.1 191.4 102.0M184.1 179.8Q184.7 181.4 185.5 182.9M155.5 119.9Q156.7 123.3 154.9 126.4M188.3 163.3Q185.9 169.6 180.2 173.3M129.6 154.1Q134.6 158.7 138.3 164.4M105.1 170.6Q106.0 172.8 105.1 175.0M189.7 94.3Q191.8 94.2 193.8 94.9M184.2 106.3Q184.4 110.7 185.4 114.9M175.5 158.8Q178.7 159.0 181.5 160.4M127.1 123.7Q128.5 124.8 129.0 126.6M170.3 129.2Q167.9 135.3 170.7 141.3M170.6 110.2Q173.1 114.9 175.2 119.8M202.6 179.7Q202.3 183.3 202.1 186.9M197.7 180.0Q191.0 183.6 183.4 183.8M188.4 168.1Q183.3 169.3 179.9 173.3M109.3 110.0Q108.8 111.5 109.1 113.0M197.9 145.5Q199.1 148.7 199.3 152.1M166.3 139.6Q163.7 140.8 160.9 140.1M191.2 136.7Q187.1 139.5 182.3 138.3" stroke="rgb(162,162,162)" stroke-width="0.5" fill="none"/>
<path d="M103.1 154.0Q105.4 157.9 108.7 161.0M140.0 91.4Q142.2 93.5 142.5 96.4M105.3 116.1Q104.3 118.1 104.7 120.3M127.7 138.9Q123.5 141.3 118.8 142.7M181.4 179.1Q183.0 181.0 185.0 182.5M109.8 180.1Q115.2 182.3 120.3 185.2M168.1 87.6Q171.9 90.6 175.7 93.6M185.8 144.1Q190.4 147.4 191.9 152.8M163.2 125.7Q163.4 130.3 160.1 133.7M113.5 115.2Q115.9 115.5 118.3 115.6M111.4 113.6Q110.1 116.3 107.6 118.0M112.8 173.0Q112.9 174.9 113.9 176.5M184.4 117.7Q189.4 122.3 195.1 126.2M152.9 140.8Q154.8 145.3 155.4 150.2M171.3 147.4Q171.5 150.8 172.9 153.8M123.3 157.2Q125.7 162.1 130.9 163.8M179.5 177.7Q177.6 178.7 175.4 179.0M164.7 157.9Q166.6 159.2 168.4 160.7M111.7 171.7Q107.1 174.8 101.8 177.0M115.9 87.3Q115.5 93.8 110.4 97.8M105.1 102.1Q111.6 106.0 113.4 113.4M146.8 147.8Q144.9 149.5 143.9 151.8M194.8 99.2Q191.1 101.2 187.0 99.8M124.9 178.3Q131.7 181.8 139.3 180.8M151.4 95.5Q151.9 97.1 153.3 97.9M200.5 170.1Q194.7 173.5 188.1 172.2M134.1 118.3Q133.5 120.8 134.4 123.2M140.1 158.5Q142.8 162.6 147.5 164.4M108.7 109.8Q109.6 113.5 113.1 115.1M208.2 151.1Q202.6 152.8 198.2 156.7M127.1 137.7Q130.2 136.7 133.1 138.2M136.1 146.2Q134.9 147.3 134.5 148.8M128.8 102.6Q126.0 102.8 123.2 102.8M108.2 168.3Q109.4 169.5 110.8 170.6M122.6 122.4Q124.5 122.8 126.4 123.3M153.2 143.4Q152.4 149.4 151.7 155.3M179.2 149.1Q180.5 155.2 177.9 160.9M196.0 137.2Q195.2 139.7 194.8 142.2M183.3 100.6Q183.9 102.7 183.3 104.8M187.0 116.3Q184.8 121.6 181.3 126.3M110.5 130.6Q108.3 131.6 106.7 133.5M170.0 177.8Q171.1 178.9 172.5 179.6M124.0 145.0Q125.9 148.1 126.4 151.7M133.7 93.0Q132.7 94.7 131.8 96.4M122.1 123.0Q129.0 126.2 136.5 125.7M133.4 110.3Q131.1 111.8 129.9 114.2M180.3 173.9Q183.3 176.2 183.9 179.9M184.3 134.0Q187.1 136.5 190.7 137.5M201.2 97.3Q200.2 100.3 198.1 102.6M194.1 161.0Q199.0 160.7 203.6 162.6M179.4 151.0Q171.7 151.4 167.0 157.4M164.7 108.9Q158.9 108.4 154.9 112.7M210.3 179.6Q203.2 178.3 196.9 181.9M195.6 98.7Q195.3 101.8 192.7 103.5M175.6 150.7Q180.1 154.6 184.9 158.0M138.6 169.4Q133.0 172.0 126.8 171.8M136.8 150.0Q137.0 156.8 138.4 163.5M178.9 172.2Q173.7 176.3 168.1 179.7M194.6 133.8Q195.0 136.8 193.8 139.7M160.4 108.7Q160.3 110.5 158.8 111.6M155.0 183.4Q156.8 185.2 157.6 187.6M167.0 137.3Q159.1 135.7 152.8 140.6M160.8 112.9Q160.4 118.7 158.4 124.2M185.0 97.3Q184.4 98.9 182.9 99.4M174.2 144.7Q176.6 150.4 176.6 156.7M156.7 178.0Q157.4 181.3 157.5 184.6M158.5 160.1Q154.5 161.1 150.6 162.8M107.2 182.0Q108.2 183.3 108.4 185.0M116.8 172.6Q119.0 173.1 120.5 174.7M118.7 88.0Q112.8 88.9 107.4 91.3M162.0 88.4Q164.7 95.2 161.2 101.6M146.2 169.1Q147.3 176.6 145.2 183.8M141.4 169.8Q148.3 170.9 155.3 170.5M142.8 93.5Q144.1 99.7 148.7 104.0M126.3 148.1Q128.6 149.0 131.0 148.3M175.3 105.7Q173.6 107.2 172.1 108.9M201.8 173.0Q203.1 178.1 204.7 183.2M203.7 124.0Q202.2 125.5 200.2 126.0M185.3 90.7Q183.2 96.5 180.3 101.9M108.4 91.5Q110.0 92.4 111.8 92.2M174.3 138.7Q176.2 142.7 178.8 146.3M186.8 170.7Q182.1 174.9 181.1 181.1M151.6 155.5Q151.9 162.1 154.0 168.4M118.8 137.7Q120.4 140.1 119.5 142.8M196.5 103.7Q194.4 110.5 193.8 117.6M123.9 149.8Q124.8 153.3 124.4 157.0M190.9 102.6Q190.5 104.5 189.4 106.0M111.8 111.4Q110.5 112.2 109.1 112.6M185.9 165.6Q181.7 168.5 180.0 173.4M200.8 118.6Q199.4 120.2 199.3 122.4M185.7 132.0Q182.9 133.0 180.1 133.9M146.0 173.9Q140.2 176.9 133.8 178.5M115.9 173.2Q118.9 175.8 121.8 178.6M105.3 146.1Q105.3 149.5 107.7 151.8M119.7 91.0Q117.2 94.2 116.7 98.3M154.2 156.5Q150.7 162.0 146.7 167.2M169.6 162.9Q172.8 164.2 173.9 167.5M189.7 180.3Q197.1 178.8 203.4 183.1M118.7 169.9Q120.5 171.9 123.2 172.1M200.3 179.0Q198.7 180.2 198.7 182.1M107.3 143.3Q108.4 147.6 111.5 150.9M113.4 89.4Q116.5 89.6 118.5 92.0M184.4 117.2Q183.3 119.3 182.9 121.7M186.2 139.5Q186.2 141.2 186.6 143.0M141.4 96.1Q139.3 96.5 138.2 98.4M155.3 160.9Q150.7 163.8 146.0 166.4M153.7 115.6Q153.1 118.7 151.8 121.6M188.4 165.0Q190.6 166.7 193.5 167.1" stroke="rgb(162,162,162)" stroke-width="0.6" fill="none"/>
<path d="M165.1 104.0Q161.2 104.6 158.6 107.5M167.7 88.9Q170.7 93.8 173.3 98.8M130.0 109.7Q129.0 111.0 127.4 111.7M108.7 140.8Q115.3 141.1 122.0 141.3M114.8 156.1Q116.5 156.0 118.1 156.7M103.6 120.0Q105.1 121.7 107.4 122.0M180.4 105.9Q183.1 107.0 186.0 106.8M130.1 112.4Q136.0 114.9 139.6 120.2M124.7 89.8Q124.7 91.5 124.8 93.2M198.3 121.9Q191.3 124.8 184.0 122.8M107.2 89.9Q112.5 88.4 117.3 91.1M158.9 154.2Q153.2 153.7 148.7 157.1M142.1 174.6Q143.9 174.0 145.4 175.1M191.8 139.4Q194.2 140.7 194.7 143.3M180.2 116.1Q180.9 117.9 181.6 119.7M201.0 179.3Q203.8 183.6 204.3 188.7M160.7 85.9Q157.7 92.7 157.3 100.2M180.2 132.3Q184.3 131.0 188.2 132.8M190.6 125.0Q192.9 124.2 195.1 125.3M123.8 166.0Q119.9 169.4 114.8 170.5M108.7 172.3Q110.1 173.0 111.7 173.0M118.5 173.4Q123.7 172.3 128.4 174.6M134.9 158.9Q136.6 164.3 141.5 167.2M156.8 126.0Q157.7 127.3 158.7 128.5M169.3 135.6Q169.2 137.6 169.0 139.6M130.6 131.3Q127.8 135.2 123.2 136.5M190.2 103.9Q191.4 106.7 191.1 109.7M132.1 141.5Q138.1 141.4 142.1 146.0M103.9 147.2Q105.5 147.5 107.1 147.3M111.7 108.5Q113.5 113.6 112.4 118.9M137.9 140.0Q138.9 144.0 141.5 147.1M156.2 163.2Q158.4 164.1 159.4 166.3M159.9 136.8Q155.3 136.6 150.7 137.2M177.2 140.9Q175.4 147.2 176.6 153.7M113.2 183.7Q114.8 186.2 117.7 186.6M127.6 156.6Q129.6 157.9 132.1 158.2M137.0 89.7Q136.2 96.0 133.6 101.8M185.7 171.9Q189.0 173.5 191.3 176.2M170.2 121.3Q173.3 126.2 177.0 130.5M159.5 170.5Q159.2 172.0 158.4 173.3M122.8 146.2Q123.5 147.9 124.4 149.6M150.3 154.1Q146.1 159.1 147.3 165.7M143.1 122.0Q139.9 125.1 135.4 125.0M154.2 166.5Q153.5 173.8 147.2 177.6M116.7 100.2Q115.3 102.2 112.8 102.7M118.4 117.9Q117.2 118.9 116.5 120.2M191.9 160.0Q196.9 163.5 198.0 169.6M111.8 168.6Q114.7 170.3 118.0 171.0M129.2 169.3Q128.9 171.5 127.5 173.2M116.1 146.0Q117.8 148.2 118.9 150.7M193.4 143.4Q195.3 149.0 192.2 154.0M171.6 181.3Q164.9 181.8 161.0 187.2M105.0 157.9Q106.7 157.6 108.2 158.3M180.9 102.8Q183.8 107.8 185.3 113.4M141.5 95.5Q141.4 97.7 142.7 99.5M175.2 126.4Q176.2 129.5 176.6 132.8M119.2 132.6Q117.6 132.4 116.2 133.3M187.0 166.9Q190.1 168.7 193.5 167.6M197.6 115.3Q196.9 117.3 196.2 119.3M123.4 116.8Q123.4 120.9 120.7 123.9M169.7 121.5Q174.4 123.2 178.7 125.8M128.4 100.3Q126.8 101.0 125.3 102.0M186.8 124.0Q180.5 125.5 175.2 129.1M104.4 108.5Q104.3 111.3 105.2 113.9M100.6 131.6Q106.1 132.7 110.4 136.3M117.5 161.8Q114.3 166.1 111.3 170.7M184.5 91.0Q188.1 96.8 189.9 103.4M172.7 89.3Q174.5 89.9 175.3 91.6M114.0 170.3Q117.6 173.7 121.6 176.6M199.7 91.2Q201.5 97.8 204.4 104.0M151.3 150.1Q153.7 156.6 156.7 162.8M188.8 181.5Q195.6 183.3 202.4 185.5M171.7 114.6Q175.7 113.5 179.7 114.8M192.6 166.5Q193.6 169.6 196.5 171.0M166.8 89.2Q171.0 93.4 177.0 93.7M207.5 182.3Q202.8 182.8 198.1 183.3M151.9 141.7Q156.1 147.0 160.2 152.4M181.9 168.1Q180.5 169.8 179.0 171.4M120.6 112.4Q117.3 115.2 114.2 118.1M199.8 170.2Q193.1 170.0 187.3 173.5M200.9 147.2Q199.7 148.7 197.9 149.0M175.0 105.5Q180.5 107.1 183.9 111.7M176.5 169.0Q176.3 172.1 178.5 174.3M117.4 176.7Q117.8 178.3 116.9 179.6M180.1 168.9Q178.6 170.0 176.7 170.0M120.5 148.9Q123.5 153.2 128.3 155.0M184.9 180.8Q181.3 185.8 176.6 189.8M147.7 118.2Q148.2 121.3 147.4 124.3M174.1 122.7Q169.9 123.5 166.4 126.0M181.4 129.9Q180.1 133.2 180.7 136.7M128.7 186.3Q131.5 186.7 134.1 187.8M165.3 98.8Q161.2 100.3 158.7 103.9M124.6 144.3Q124.5 147.5 125.5 150.6M125.5 108.1Q122.4 110.4 118.9 112.2M112.3 171.9Q112.7 178.0 112.8 184.2M148.2 144.5Q145.7 149.0 143.7 153.8M123.0 131.4Q124.9 137.6 125.7 143.9M125.4 130.8Q122.9 134.5 119.1 136.8M164.7 93.5Q159.5 98.6 155.8 104.8M122.2 169.8Q122.0 172.2 120.9 174.2M175.9 90.9Q174.3 91.8 173.6 93.5M125.1 127.6Q127.3 128.8 129.5 130.3M109.3 149.8Q108.4 151.8 106.3 152.5M168.3 150.9Q168.5 153.3 169.0 155.7M194.5 100.2Q194.8 103.1 196.1 105.7M204.7 147.0Q199.6 150.2 193.6 151.2M107.0 137.5Q108.9 136.9 110.6 137.7M197.7 99.9Q190.9 103.1 186.0 108.9M110.9 174.0Q113.1 173.1 115.1 174.3M117.9 88.9Q117.9 94.4 118.8 99.7M103.2 158.3Q107.9 163.0 107.4 169.6M158.6 137.1Q155.6 139.6 153.6 143.0M146.9 112.6Q149.7 116.5 154.5 117.3M146.9 169.1Q146.8 170.9 146.5 172.6M114.4 181.7Q115.2 183.3 115.5 185.1M134.2 169.7Q134.5 173.7 133.9 177.7M126.9 173.5Q125.5 175.1 125.5 177.2M110.4 149.2Q111.6 151.7 112.3 154.4M179.9 149.7Q179.6 152.5 180.1 155.4M201.7 142.0Q204.7 143.4 208.0 142.6M138.6 172.5Q141.1 176.0 140.3 180.2M185.3 107.2Q186.7 107.9 188.2 108.2" stroke="rgb(162,162,162)" stroke-width="0.7" fill="none"/>
<path d="M167.2 124.2Q176.4 135.5 183.8 148.1M210.3 139.7Q201.7 150.8 195.4 163.3M132.1 129.3Q117.0 132.0 102.7 137.7M160.5 161.6Q172.9 184.2 186.0 206.3M155.8 87.9Q158.2 115.3 153.2 142.4M175.8 131.0Q182.1 149.6 192.6 166.1M200.0 81.1Q181.4 95.2 163.7 110.4" stroke="rgb(165,165,165)" stroke-width="0.5" fill="none"/>
<path d="M109.8 71.6Q115.2 97.0 124.9 121.0M162.1 130.3Q152.4 135.2 142.5 139.4M170.7 101.4Q161.0 108.9 151.0 116.1M209.1 163.1Q201.9 173.9 191.9 182.3M198.6 91.4Q185.5 98.8 173.8 108.3" stroke="rgb(165,165,165)" stroke-width="0.6" fill="none"/>
<path d="M180.7 128.0Q186.7 136.8 193.5 145.2M179.9 137.5Q168.3 142.1 157.4 148.1" stroke="rgb(165,165,165)" stroke-width="0.7" fill="none"/>
<path d="M129.7 101.4Q131.5 105.0 131.0 109.0M200.9 132.0Q205.3 134.0 208.9 137.5M123.0 106.9Q128.8 112.2 136.7 112.0M134.2 158.5Q139.0 160.4 143.3 163.1M122.1 102.7Q124.2 105.5 127.7 105.9M155.4 161.6Q153.7 163.3 153.6 165.6M197.1 158.9Q196.9 160.4 196.2 161.7M153.9 134.8Q157.1 141.3 159.3 148.2M179.8 111.0Q183.1 110.6 185.5 113.0M190.5 181.6Q192.1 181.7 193.5 182.3M163.5 140.0Q160.4 142.1 156.7 143.0M131.4 102.2Q136.2 103.7 140.9 105.1M148.0 99.3Q147.2 101.2 147.1 103.2M125.1 135.2Q125.6 137.5 126.1 139.8M201.3 124.4Q198.7 128.9 196.3 133.6M149.3 160.9Q150.1 162.2 151.5 163.0M202.7 106.5Q200.9 106.5 199.8 107.9M180.4 112.1Q177.1 116.3 172.4 119.0M154.8 173.5Q156.8 174.2 158.9 174.1M192.1 140.7Q198.2 142.0 202.8 146.1M134.2 148.4Q137.2 151.8 137.6 156.3M143.7 92.4Q149.1 94.4 154.4 92.5M143.7 179.3Q150.2 181.7 156.9 180.2M187.0 174.2Q190.4 175.6 192.7 178.2M191.6 124.1Q186.3 128.2 181.9 133.3M197.1 148.2Q198.6 153.5 200.8 158.5M190.5 124.4Q192.2 128.4 192.6 132.6M177.6 138.8Q176.6 141.6 177.4 144.5M118.4 151.8Q119.8 157.4 124.7 160.5M181.9 139.9Q182.6 141.8 184.4 142.7M184.6 122.5Q185.7 123.7 186.7 124.8M133.1 102.7Q137.9 104.6 141.7 108.0M122.6 101.3Q120.3 102.9 117.6 103.7M158.5 164.0Q159.9 166.6 159.3 169.4M113.1 153.9Q111.8 158.1 111.3 162.4M146.2 136.6Q146.8 143.7 152.5 148.0M171.2 101.3Q167.7 105.5 167.4 111.1M123.5 176.8Q129.2 176.9 134.6 178.6M120.5 152.4Q119.4 158.8 116.2 164.5M127.8 91.1Q132.4 94.6 138.1 94.9M152.3 176.7Q154.6 179.7 158.0 181.7M105.8 140.8Q105.7 143.1 105.8 145.4M110.4 163.8Q115.2 165.7 120.3 166.7M172.2 105.5Q175.2 109.8 174.5 114.9M172.9 147.4Q175.9 150.3 180.2 150.1M146.1 151.3Q147.7 152.0 148.9 153.1M191.0 133.9Q194.9 133.6 198.2 135.9M120.0 102.3Q125.6 106.6 132.4 108.4M141.7 156.5Q143.7 161.0 141.7 165.5M170.1 174.3Q168.0 177.5 165.8 180.7M120.8 93.1Q124.2 99.1 123.5 106.0M190.4 89.8Q193.8 92.6 197.4 95.1M176.2 105.1Q171.3 109.1 166.3 112.8M123.6 98.5Q124.9 104.5 127.9 109.9M151.8 129.6Q150.2 131.5 147.8 132.3M156.5 138.2Q158.5 145.2 159.2 152.3M191.4 111.9Q194.9 115.6 197.7 119.8M139.3 105.0Q143.0 109.6 147.5 113.3M174.4 157.7Q176.6 160.0 176.4 163.2M194.6 171.0Q200.4 169.9 206.0 171.6M112.9 180.0Q114.4 180.6 116.0 180.1M130.3 125.6Q127.4 126.5 125.8 129.0M121.7 96.7Q119.5 98.8 116.7 100.2M203.5 142.7Q203.4 144.5 204.1 146.2M135.8 123.9Q134.0 126.6 134.7 129.7M165.9 182.6Q167.6 181.9 169.2 182.8M126.7 180.7Q125.8 182.1 125.7 183.7M190.2 120.2Q194.8 120.7 199.0 122.7M132.4 142.2Q130.7 145.8 130.2 149.8M119.0 123.4Q112.5 125.2 107.0 129.3M186.9 91.0Q183.4 94.8 178.9 97.4M171.0 151.4Q171.7 153.0 173.0 154.2M186.4 148.7Q185.1 149.7 183.5 149.8M197.5 122.5Q196.7 124.2 195.6 125.8M192.0 179.4Q196.6 182.1 201.4 184.5M101.4 89.4Q105.7 88.4 109.5 90.7M144.1 96.2Q142.0 99.8 140.0 103.5M115.9 126.4Q120.0 126.6 122.3 129.8M152.4 102.3Q150.9 103.0 149.3 102.7M112.6 142.0Q110.9 141.5 109.2 142.1M190.8 104.8Q184.2 105.1 179.7 109.9M119.0 155.8Q113.3 155.2 108.3 158.2M192.0 107.0Q195.0 113.7 199.5 119.4M109.2 132.1Q109.0 134.7 110.9 136.6M184.2 174.3Q188.0 175.2 191.9 176.1M152.3 166.5Q151.1 168.1 149.7 169.5M187.0 143.4Q187.7 146.2 190.2 147.5M159.0 92.1Q160.0 95.9 157.9 99.3M186.9 160.2Q185.0 163.6 183.0 167.0M171.7 117.6Q172.4 119.1 174.0 119.5M156.4 138.5Q153.2 142.0 154.0 146.7M185.8 173.7Q190.0 173.5 193.8 175.5M148.5 181.6Q150.4 185.2 151.7 189.1M145.5 104.4Q147.0 111.8 151.5 117.8M160.7 105.5Q157.3 105.9 154.2 107.7M169.6 138.0Q171.1 141.3 170.8 145.0M122.6 169.8Q126.7 171.2 130.0 173.9M204.4 160.5Q202.9 162.7 202.0 165.2M171.5 165.5Q172.8 167.6 172.2 170.0M132.0 111.0Q134.0 114.3 137.4 116.3M164.8 147.9Q168.1 153.7 173.9 156.9M114.3 135.3Q115.5 136.5 117.3 136.4M124.0 156.6Q127.2 157.8 130.6 158.0M194.2 120.7Q200.2 125.0 207.1 127.5M156.8 117.8Q155.4 119.8 156.1 122.2" stroke="rgb(184,184,184)" stroke-width="0.5" fill="none"/>
<path d="M162.4 120.2Q164.2 120.0 166.0 120.4M119.9 143.4Q116.9 147.0 115.4 151.4M181.9 92.6Q181.4 99.1 180.3 105.5M141.4 174.0Q139.8 176.0 138.4 178.2M134.1 166.7Q132.7 169.1 130.1 170.1M151.8 120.7Q149.2 120.8 147.2 122.3M205.0 106.1Q200.4 107.9 195.5 107.3M127.6 136.3Q127.1 138.1 126.4 139.8M196.8 116.4Q191.9 116.9 188.8 120.9M201.1 132.8Q198.0 132.9 195.3 134.3M138.5 149.6Q138.1 156.8 133.1 162.1M125.5 184.3Q123.4 185.1 122.0 187.0M145.2 121.0Q144.2 124.5 144.8 128.0M161.1 161.9Q160.7 165.6 157.9 168.1M133.9 97.9Q132.1 98.7 130.1 98.4M140.5 143.9Q141.4 148.8 144.4 152.9M132.5 143.9Q127.0 142.7 121.6 144.2M133.0 137.1Q126.1 138.4 119.2 137.6M129.5 100.5Q127.3 101.5 125.0 100.8M174.0 159.4Q173.3 160.8 173.0 162.4M142.7 167.9Q144.0 170.4 143.4 173.1M123.5 164.9Q126.0 172.3 132.5 176.6M148.6 110.1Q149.7 114.8 153.0 118.3M168.4 143.1Q165.9 144.1 163.4 145.1M181.9 136.4Q187.3 138.1 192.9 138.2M190.5 169.4Q184.7 171.5 178.9 173.7M196.2 151.3Q198.6 155.3 201.4 158.9M140.5 167.1Q145.1 171.4 146.9 177.4M202.0 156.4Q203.7 156.1 205.4 156.7M123.8 141.7Q125.4 141.7 127.0 142.3M194.5 95.6Q196.0 96.3 197.6 96.1M136.9 150.3Q137.5 157.8 133.9 164.5M168.9 132.6Q164.1 133.5 160.4 136.8M173.4 117.6Q179.9 121.0 185.4 125.9M123.3 112.2Q121.9 113.3 120.1 113.4M182.1 153.2Q180.8 161.0 186.1 166.9M147.4 85.6Q150.1 90.1 148.2 95.0M194.3 159.8Q193.7 161.2 193.2 162.6M157.4 106.9Q158.0 108.6 159.5 109.3M198.9 143.1Q202.8 145.7 207.5 144.9M165.4 170.6Q160.4 174.2 154.8 176.8M137.4 100.2Q135.4 102.2 133.7 104.6M184.7 171.0Q188.7 172.6 189.8 176.8M153.0 110.4Q154.5 110.8 156.0 111.2M181.8 97.3Q182.9 99.3 183.2 101.6M178.6 166.5Q178.9 168.0 179.6 169.4M112.6 97.7Q114.6 98.6 116.8 98.5M198.3 123.7Q196.9 130.5 197.8 137.4M135.8 168.3Q130.2 173.0 124.3 177.2M138.8 126.7Q137.7 128.2 137.5 130.2M117.7 119.5Q116.4 121.3 114.2 121.7M180.9 173.5Q183.0 176.9 187.0 177.7M161.5 146.0Q161.2 148.2 160.5 150.2M148.3 116.6Q145.5 121.8 141.0 125.7M146.8 116.6Q146.2 123.0 147.5 129.3M153.9 173.3Q150.8 180.1 153.3 187.0M189.6 99.0Q191.2 98.7 192.8 99.3M156.7 167.5Q162.8 169.4 165.3 175.4M198.0 175.2Q204.4 177.7 209.4 182.3M196.7 151.6Q191.0 155.3 184.4 153.6M201.9 129.4Q200.7 130.6 199.3 131.3M203.5 174.8Q206.4 179.2 206.4 184.6M197.3 114.0Q195.5 113.7 193.8 114.6M157.4 127.3Q159.2 127.5 160.2 129.0M188.4 90.4Q191.7 93.2 192.1 97.5M194.9 95.5Q191.5 97.0 187.8 96.1M130.1 179.9Q127.6 179.9 125.2 180.1M124.1 175.8Q123.4 177.3 122.7 178.8M109.9 183.8Q106.2 185.9 102.5 188.2M169.4 138.7Q166.2 140.9 164.0 144.1M119.2 153.1Q117.9 155.5 116.8 157.9M140.8 100.7Q141.3 102.6 140.9 104.6M192.3 132.7Q190.7 140.1 195.0 146.4M126.7 89.3Q132.1 91.1 137.6 92.8M117.7 109.1Q117.8 112.6 115.3 115.0M149.8 176.0Q151.7 176.9 152.8 178.7M195.3 102.9Q196.9 103.1 198.3 103.9M106.8 165.4Q105.6 168.2 104.6 171.1M205.3 183.4Q203.6 184.1 201.9 184.8M141.8 114.4Q144.0 116.9 144.1 120.1M186.9 103.9Q184.5 106.5 184.2 110.0M199.9 93.9Q198.8 99.5 198.1 105.2M167.5 162.3Q168.0 163.7 168.9 164.9M202.4 135.1Q201.7 142.0 195.8 145.6M185.5 156.8Q183.6 157.4 182.0 158.6M192.1 92.7Q192.9 95.9 190.8 98.4M116.0 107.3Q115.4 111.3 114.8 115.2M183.9 141.1Q184.0 142.9 182.8 144.2M152.4 123.4Q154.3 125.3 157.1 125.0M117.6 89.8Q114.6 91.7 113.3 95.1M119.0 141.1Q121.2 141.7 123.5 141.8M123.1 133.9Q125.2 135.0 127.3 136.0M151.2 181.4Q148.8 184.3 148.2 188.1" stroke="rgb(184,184,184)" stroke-width="0.6" fill="none"/>
<path d="M150.3 114.6Q147.1 115.5 145.8 118.7M153.6 148.6Q156.1 150.8 158.9 152.8M112.0 184.1Q109.4 186.1 107.6 188.9M157.9 115.0Q156.2 115.3 154.8 116.4M168.2 176.3Q166.1 180.6 164.9 185.2M141.6 97.6Q138.8 98.6 136.6 100.6M172.7 101.0Q177.8 104.4 183.1 107.5M137.8 103.8Q137.7 107.2 135.6 110.0M130.4 165.4Q127.6 166.9 124.4 166.7M164.0 123.1Q162.0 129.2 161.5 135.7M153.5 167.8Q155.8 168.5 158.0 169.2M125.5 91.7Q125.6 95.3 122.8 97.7M198.2 98.8Q198.6 100.3 198.3 101.8M198.7 129.5Q197.2 132.0 194.3 132.3M187.6 142.5Q185.0 143.2 182.4 143.8M200.4 94.6Q199.8 99.6 200.1 104.5M201.4 151.9Q200.0 156.7 198.5 161.4M164.4 132.0Q166.2 133.5 168.2 134.6M164.5 124.9Q163.0 126.2 161.3 127.3M189.5 133.5Q195.6 132.4 201.0 135.6M139.6 94.0Q141.0 97.1 140.5 100.6M124.6 175.7Q118.6 173.6 112.9 176.5M179.7 109.8Q184.6 112.1 188.9 115.4M149.0 176.6Q145.5 181.5 143.8 187.4M101.0 145.3Q107.4 148.7 114.1 151.6M108.5 124.4Q109.1 125.9 108.5 127.5M199.6 176.9Q196.9 178.1 195.9 180.8M149.3 140.2Q146.0 142.4 143.0 145.1M197.7 168.3Q201.7 170.2 206.0 169.4M104.6 153.1Q106.7 154.7 109.4 155.2M122.2 95.1Q125.4 98.1 127.4 102.1M111.0 100.8Q108.6 103.7 106.2 106.6M193.2 148.7Q193.5 152.2 196.1 154.6M200.5 120.4Q201.5 126.2 206.6 129.2M119.9 172.8Q120.9 179.5 119.0 185.9M144.9 176.2Q143.9 179.4 142.2 182.4M102.4 169.1Q109.4 171.9 112.9 178.5M160.2 146.3Q157.9 146.5 156.7 148.4M191.9 119.8Q193.5 122.0 196.1 122.8M148.2 145.8Q153.1 151.1 152.2 158.3M197.8 93.5Q203.0 98.6 203.1 105.9M109.7 110.8Q108.4 113.9 109.3 117.2M121.5 175.5Q122.0 179.6 122.9 183.6M132.9 140.3Q131.9 143.2 130.0 145.8M172.3 173.9Q173.9 177.7 173.9 181.8M186.1 162.2Q188.1 168.6 191.9 174.1M127.0 89.6Q128.1 91.2 129.2 92.9M112.0 141.3Q113.3 142.1 114.4 143.2M197.8 157.6Q192.5 160.2 186.9 161.9M174.2 174.2Q176.3 174.6 178.1 175.6M187.6 95.8Q191.3 96.5 193.0 99.8M174.4 173.9Q174.0 175.3 173.8 176.8M204.0 96.5Q200.0 103.3 192.1 104.3M128.6 119.7Q129.2 122.2 131.4 123.5M131.2 105.4Q131.4 112.5 136.9 117.2M133.5 138.9Q135.5 138.9 137.5 138.9M147.4 159.5Q154.6 158.7 159.7 163.7M142.1 123.0Q146.9 126.6 152.7 125.5M112.9 147.9Q111.4 151.4 112.4 155.2M116.1 142.1Q114.5 145.4 110.9 146.1M136.4 154.9Q130.8 156.4 127.3 161.1M204.8 102.3Q203.1 103.8 202.3 106.0M154.6 152.8Q156.4 155.1 156.4 158.0M180.7 171.7Q178.9 171.8 177.2 172.4M194.4 107.9Q192.9 111.1 192.5 114.6M127.3 105.1Q125.3 105.2 123.5 105.9M167.9 108.5Q165.7 108.4 163.7 109.5M127.8 169.7Q128.5 171.3 129.3 172.8M106.3 111.5Q108.1 116.6 106.3 121.7M184.4 137.9Q183.7 142.6 182.6 147.3M170.1 116.5Q164.3 120.6 163.5 127.8M179.9 166.0Q178.2 167.4 177.9 169.5M199.2 123.3Q197.7 124.5 197.6 126.4M174.7 141.2Q174.7 143.7 175.6 146.0M163.0 97.6Q161.3 98.7 159.3 98.5M109.9 149.5Q107.6 151.2 104.7 150.8M121.4 91.5Q117.2 91.5 114.2 94.5M155.4 153.1Q158.1 154.5 158.9 157.4M160.9 147.0Q157.7 147.9 154.5 148.2M112.7 118.0Q111.1 118.6 109.8 119.6M169.4 157.5Q168.5 162.5 164.9 165.9M192.2 142.8Q198.4 145.2 204.6 142.8M191.0 100.6Q193.2 100.6 194.7 102.1M142.1 154.1Q140.4 155.8 138.0 155.9M176.0 132.2Q175.9 133.9 176.4 135.4M175.0 96.0Q176.5 100.9 177.6 105.9M174.7 100.7Q173.9 107.3 173.0 113.8M167.4 119.6Q163.6 123.1 158.5 123.5M113.1 104.3Q110.6 104.0 108.5 105.4M107.1 154.4Q110.1 157.1 110.5 161.2M112.3 103.5Q110.8 108.3 107.9 112.4M191.5 164.0Q193.9 170.6 196.6 177.2M204.4 129.8Q197.7 132.9 194.8 139.8M120.5 134.1Q115.5 136.7 112.6 141.6M130.7 158.8Q131.1 164.8 127.2 169.4M192.1 147.0Q191.9 150.1 193.3 153.0M146.2 118.5Q146.5 120.2 147.9 121.2M116.8 176.7Q111.8 178.0 108.5 181.8M162.8 121.7Q159.3 128.3 153.0 132.4M129.8 175.1Q128.8 176.3 127.7 177.3M188.8 93.1Q196.0 96.0 203.5 93.8M184.2 89.4Q181.3 90.6 178.2 90.2M199.2 116.9Q193.3 119.9 186.6 119.0M109.1 163.8Q110.7 164.0 112.1 165.0M130.0 92.7Q128.4 93.6 127.8 95.4M136.3 173.1Q140.9 171.4 145.3 173.6" stroke="rgb(184,184,184)" stroke-width="0.7" fill="none"/>
<path d="M185.9 129.9Q194.3 147.4 201.8 165.4" stroke="rgb(185,185,185)" stroke-width="0.5" fill="none"/>
<path d="M157.9 110.7Q157.3 121.5 157.4 132.2M113.7 106.0Q116.1 120.4 121.6 134.0M166.8 106.8Q180.1 120.6 192.6 135.2M135.4 135.1Q152.7 141.3 167.6 152.0M122.5 124.7Q115.2 137.9 108.3 151.3M193.2 83.9Q195.5 98.0 201.4 111.0M189.6 130.4Q172.4 145.7 157.4 163.1" stroke="rgb(185,185,185)" stroke-width="0.6" fill="none"/>
<path d="M182.1 157.7Q202.5 169.7 224.0 179.6M211.9 99.6Q196.9 109.8 185.2 123.6M151.4 90.9Q142.5 107.1 135.9 124.5M201.0 108.3Q185.4 117.9 169.2 126.3" stroke="rgb(185,185,185)" stroke-width="0.7" fill="none"/>
<path d="M123.2 107.3Q127.4 110.3 129.4 115.1M190.5 150.3Q187.9 156.3 184.1 161.6M123.1 103.8Q117.6 105.3 114.6 110.2M121.9 156.2Q118.8 160.3 119.3 165.4M196.1 121.7Q198.5 123.0 201.1 122.2M194.6 109.0Q197.3 110.5 200.5 111.0M147.8 131.1Q146.7 132.2 146.0 133.6M140.5 100.5Q137.3 103.0 136.7 106.9M154.1 170.6Q158.1 169.7 161.8 171.7M209.2 121.1Q203.1 122.9 200.6 128.7M193.9 110.6Q192.4 116.0 195.5 120.7M165.1 180.9Q166.9 185.0 171.0 186.9M159.8 116.6Q160.0 118.7 158.5 120.1M189.6 101.8Q185.9 103.3 181.9 104.2M130.8 129.3Q138.3 128.9 143.8 134.1M164.3 177.8Q164.7 183.5 161.9 188.3M192.0 138.1Q192.5 140.7 191.0 142.9M194.2 168.8Q189.3 170.9 186.0 175.1M190.3 161.2Q192.6 166.9 192.3 173.1M193.6 155.1Q187.5 157.3 181.1 157.6M188.4 176.6Q188.9 183.4 185.7 189.4M139.0 183.6Q139.4 186.1 139.0 188.5M199.9 141.8Q201.3 143.7 203.4 144.9M106.3 95.0Q104.3 98.0 105.0 101.5M130.9 150.7Q130.0 153.1 130.4 155.6M194.8 171.5Q196.6 173.5 197.8 175.9M169.0 118.0Q169.6 119.5 170.1 121.0M201.0 130.4Q197.8 131.6 195.9 134.4M113.3 103.6Q112.3 108.7 107.9 111.5M113.3 110.9Q118.8 114.0 120.9 120.0M200.2 186.6Q197.1 187.8 193.8 187.3M104.7 157.4Q107.5 157.6 109.5 159.6M104.2 105.1Q110.5 108.7 117.2 106.0M175.6 163.9Q178.6 166.9 178.6 171.1M150.5 171.7Q148.7 176.0 148.4 180.7M156.9 146.0Q159.4 146.1 160.9 148.2M178.3 130.3Q177.8 132.0 178.5 133.5M157.9 166.2Q160.9 167.8 162.2 171.1M179.9 127.7Q179.4 133.8 174.8 137.7M156.9 167.3Q159.2 169.2 160.1 171.9M122.5 148.2Q123.2 152.1 124.1 155.9M201.5 135.6Q199.6 141.9 200.6 148.4M120.4 92.3Q122.2 92.7 124.0 93.4M151.8 166.6Q158.7 166.2 164.6 169.7M193.0 153.7Q193.7 159.8 195.4 165.7M141.5 95.8Q144.4 96.7 147.3 96.4M155.5 143.8Q153.8 145.8 153.6 148.4M124.8 153.7Q127.2 156.5 130.7 157.2M171.0 168.4Q173.8 173.1 172.8 178.4M157.8 118.4Q153.2 120.1 149.6 123.4M178.3 108.9Q174.7 111.0 173.7 114.9M193.9 126.2Q193.8 129.5 191.5 132.0M157.9 119.9Q152.8 120.8 147.9 122.2M123.7 89.0Q118.4 93.9 117.8 101.1M192.9 135.9Q195.3 139.5 193.9 143.7M183.7 88.3Q184.8 89.4 185.5 90.7M107.7 179.3Q111.1 180.6 112.6 183.9M160.0 88.0Q165.1 91.5 170.5 94.3M127.4 162.5Q132.9 165.8 139.2 164.8M174.2 126.7Q172.7 128.5 173.0 130.8M128.7 143.6Q128.7 145.6 129.4 147.5M184.3 135.3Q188.3 138.5 190.0 143.3M188.9 126.4Q192.6 125.9 196.2 127.3M169.9 89.9Q170.0 91.7 171.5 92.8M144.9 146.7Q139.4 147.7 135.6 151.8M110.6 111.7Q109.7 115.8 110.0 120.0M136.4 114.9Q134.0 115.1 131.9 116.1M195.7 104.1Q197.2 104.6 198.7 104.9M185.1 146.8Q183.5 146.3 182.0 146.9M125.2 126.6Q128.1 126.9 129.8 129.4M154.6 105.8Q158.2 108.3 162.3 110.0M128.5 177.3Q132.1 184.1 138.9 187.8M157.7 142.9Q156.2 143.7 154.6 144.2M138.9 149.4Q141.1 151.4 142.9 153.6M144.7 159.9Q140.3 164.3 136.2 168.8M183.2 164.0Q184.4 167.0 183.9 170.1M207.2 116.2Q201.3 116.4 196.4 119.6M145.8 118.5Q143.5 121.4 142.3 125.0M157.4 130.8Q157.7 136.4 160.8 141.0M115.7 108.3Q111.3 110.8 108.3 114.9M195.3 137.7Q194.0 139.2 194.0 141.3M139.8 106.9Q136.3 108.3 133.2 110.4M164.9 95.4Q166.3 96.1 167.6 96.9M202.3 153.5Q202.6 157.3 203.1 161.1M196.6 156.4Q197.2 160.5 199.4 164.0M166.8 134.6Q170.5 137.1 174.9 136.8M204.7 105.9Q199.7 107.7 196.6 112.0M171.4 111.6Q173.6 113.3 176.3 112.8M154.6 176.7Q158.8 178.8 160.5 183.1M165.2 119.4Q161.8 122.9 161.6 127.7M159.1 112.8Q160.7 113.8 162.5 114.2M135.4 98.9Q138.1 100.1 140.2 102.2M127.8 143.3Q126.0 143.2 124.1 143.4M164.5 95.2Q163.9 102.3 160.9 108.8M177.4 179.3Q177.8 180.9 177.3 182.6M128.1 135.9Q126.8 142.8 124.5 149.4M201.2 144.4Q200.0 145.7 198.4 146.2M113.7 146.1Q113.0 149.5 110.4 151.9M158.2 165.8Q158.4 171.3 154.9 175.6M193.6 108.7Q196.1 114.7 195.6 121.1" stroke="rgb(204,204,204)" stroke-width="0.5" fill="none"/>
<path d="M171.6 112.1Q173.3 117.3 175.1 122.5M118.5 136.8Q120.1 138.0 120.6 139.8M121.6 129.9Q116.2 133.6 109.6 134.3M186.6 118.2Q188.1 126.0 183.4 132.3M159.7 157.5Q163.6 159.3 165.7 163.0M107.5 91.4Q107.7 96.1 110.9 99.5M174.7 110.3Q171.4 114.0 170.8 118.9M168.0 133.0Q169.4 136.6 173.1 137.9M204.1 177.3Q205.5 179.0 205.2 181.2M130.0 100.2Q127.8 101.1 127.0 103.4M110.3 109.0Q110.1 112.1 110.7 115.1M144.5 139.8Q140.0 140.1 137.0 143.4M194.3 124.5Q197.1 127.6 201.2 127.6M107.5 175.5Q109.3 176.9 110.3 179.0M121.1 115.1Q119.8 116.6 117.8 116.5M109.4 114.4Q105.1 118.8 102.6 124.4M169.9 131.9Q175.2 132.4 180.4 132.9M156.9 157.2Q161.6 163.1 161.3 170.8M176.1 105.2Q181.1 106.5 186.3 107.6M122.4 100.1Q119.5 100.9 116.5 101.6M120.3 139.2Q121.4 145.7 121.7 152.3M195.1 177.9Q202.4 179.8 205.2 186.8M194.1 111.5Q199.0 113.1 202.8 116.5M161.8 162.2Q160.7 163.3 159.8 164.5M164.6 114.5Q162.9 115.4 161.0 115.5M188.1 147.7Q190.4 149.4 193.3 149.0M163.5 162.0Q168.0 164.5 173.0 163.5M114.1 143.4Q114.4 145.5 114.8 147.6M151.1 93.5Q150.1 95.2 149.8 97.1M139.2 89.0Q136.6 90.0 134.2 91.4M153.3 139.1Q150.4 142.6 149.7 147.1M196.4 147.0Q191.7 148.9 186.6 148.5M199.3 141.6Q201.6 147.1 203.8 152.6M142.3 147.4Q143.0 148.8 143.2 150.4M172.9 112.1Q176.7 113.9 179.9 116.7M177.7 160.7Q183.4 159.6 187.9 163.3M118.1 160.2Q118.6 161.7 118.3 163.2M123.1 135.4Q119.6 141.8 118.6 149.1M135.3 156.2Q127.9 155.6 121.6 159.4M115.9 89.0Q113.2 88.7 111.2 90.6M198.1 174.0Q196.5 174.5 195.1 175.2M189.1 117.5Q190.2 120.7 191.8 123.6M170.4 160.4Q170.6 162.3 169.9 164.2M150.0 135.5Q145.1 137.8 139.9 138.8M126.3 156.1Q129.6 156.5 132.1 158.7M114.4 114.6Q116.8 119.6 116.2 125.1M181.1 118.9Q176.1 116.8 171.3 119.3M154.2 136.9Q154.5 138.7 155.9 139.8M184.8 159.2Q186.6 159.7 188.5 159.9M135.9 131.8Q131.4 133.7 128.7 137.8M104.8 90.3Q110.6 89.8 116.5 90.7M151.6 116.0Q153.9 119.2 157.8 119.9M161.0 128.3Q162.7 130.6 164.7 132.6M183.6 93.2Q182.9 94.9 182.4 96.6M104.3 123.0Q107.5 123.7 110.4 125.2M201.7 91.7Q196.4 93.2 193.3 97.7M122.7 170.8Q126.0 176.0 125.3 182.0M110.2 122.5Q118.2 122.0 124.1 127.4M188.2 129.0Q191.3 135.2 193.5 141.9M159.8 144.1Q156.2 145.5 153.6 148.5M146.5 139.1Q148.3 139.7 150.2 139.7M182.7 97.6Q183.3 99.3 183.6 101.1M158.1 138.9Q157.0 141.2 154.5 141.8M110.4 130.1Q114.3 130.4 117.1 133.0M146.4 155.6Q147.1 162.1 152.7 165.5M203.6 171.5Q200.5 174.4 198.8 178.3M161.0 152.1Q165.8 153.3 170.8 153.2M182.1 120.2Q184.1 123.3 187.7 123.9M191.2 125.9Q195.6 127.0 200.0 127.5M111.0 132.0Q110.2 134.1 111.4 136.0M173.0 91.7Q172.9 93.2 172.2 94.6M195.0 150.9Q189.0 151.2 184.4 155.0M164.5 127.9Q160.4 131.8 160.8 137.4M171.5 162.0Q169.6 163.5 167.1 163.8M166.1 168.7Q169.5 169.8 172.4 171.8M181.8 125.1Q178.6 126.0 175.3 125.9M118.4 139.6Q116.6 141.4 114.2 142.5M107.7 125.8Q107.5 129.6 106.3 133.2M142.1 155.5Q142.0 161.7 145.8 166.7M146.2 113.3Q146.8 115.8 146.8 118.3M198.8 151.5Q199.7 153.5 201.7 154.4M159.4 138.6Q158.9 143.1 159.5 147.7M133.6 183.2Q128.3 183.8 123.6 186.3M186.2 168.8Q186.8 172.5 189.4 175.2M179.1 100.8Q174.5 104.5 168.7 105.8M156.0 145.4Q161.3 144.8 165.5 148.1M196.6 138.2Q199.8 139.2 201.5 142.2M113.5 166.9Q111.1 169.1 108.7 171.4M159.6 152.1Q163.3 153.7 165.7 156.8M144.2 122.1Q142.4 122.1 141.0 123.2M136.8 161.0Q142.5 161.5 146.2 165.9" stroke="rgb(204,204,204)" stroke-width="0.6" fill="none"/>
<path d="M187.8 169.6Q192.0 172.7 197.3 173.3M141.2 146.1Q139.4 148.6 138.4 151.5M191.3 161.2Q191.1 164.3 191.1 167.3M173.0 170.8Q171.7 172.7 170.6 174.7M154.9 97.5Q152.6 101.2 151.4 105.5M188.2 91.9Q186.7 96.6 182.4 99.1M147.2 140.0Q142.8 140.6 138.5 140.9M172.2 120.6Q174.3 126.8 173.5 133.2M140.9 115.5Q137.4 115.9 134.9 118.5M141.4 131.4Q145.7 135.9 151.5 138.2M176.3 94.7Q174.9 95.8 174.0 97.2M119.2 120.9Q120.0 126.4 120.1 132.1M178.6 94.9Q173.3 98.6 169.1 103.5M183.3 87.8Q187.2 91.6 188.7 96.8M154.7 136.4Q154.9 138.5 154.2 140.6M103.8 145.8Q104.8 151.2 109.7 153.8M136.9 118.8Q137.6 122.8 136.7 126.7M189.6 115.8Q187.6 116.1 186.4 117.8M144.7 127.3Q137.5 130.9 130.1 127.6M119.2 89.2Q116.9 91.5 115.9 94.6M123.4 150.3Q117.8 154.4 110.9 154.1M146.6 96.3Q148.3 97.4 150.4 97.4M186.2 165.5Q181.5 170.7 176.1 175.2M144.1 162.6Q145.9 164.4 147.1 166.6M114.2 164.9Q110.9 168.6 108.1 172.7M170.7 92.3Q167.7 94.2 164.2 93.8M143.5 161.7Q144.9 162.8 146.4 163.7M180.7 172.5Q180.3 177.2 182.6 181.3M200.6 125.1Q198.5 125.4 197.3 127.2M177.9 174.7Q174.8 179.4 175.5 184.9M119.8 130.1Q122.3 132.0 123.7 134.9M154.0 135.5Q151.9 136.2 150.1 137.5M145.0 156.5Q150.2 161.0 151.6 167.8M186.3 153.4Q190.4 159.6 192.5 166.8M187.9 89.3Q189.0 93.5 191.4 97.1M138.1 130.6Q130.9 132.0 123.5 132.1M144.3 162.5Q142.5 163.2 141.1 164.7M209.7 97.0Q203.7 100.1 197.5 102.4M167.4 146.6Q165.1 149.5 165.8 153.1M187.9 175.4Q187.9 177.1 187.9 178.7M101.0 178.9Q105.5 182.6 111.3 183.9M169.4 137.8Q171.8 141.2 175.4 143.4M138.4 95.4Q140.8 98.3 141.6 102.0M199.9 158.7Q200.8 160.1 202.4 160.8M189.6 96.7Q187.4 101.3 184.0 105.0M135.5 124.2Q134.4 125.9 135.0 127.9M144.0 172.9Q148.4 174.0 151.5 177.4M185.1 120.6Q188.4 122.0 191.7 123.5M150.5 108.5Q151.8 110.6 153.5 112.4M124.6 89.9Q126.5 95.2 128.6 100.5M136.2 118.2Q142.6 120.0 145.2 126.2M184.0 116.7Q183.8 118.7 183.3 120.6M200.0 92.4Q201.3 94.1 201.0 96.2M126.5 162.9Q129.6 164.8 132.0 167.5M188.9 179.5Q189.2 181.1 190.3 182.3M173.9 106.2Q176.8 107.6 179.2 109.6M139.8 112.2Q138.0 120.0 141.6 127.0M149.0 180.7Q145.9 182.9 145.3 186.8M127.9 153.0Q133.2 156.5 139.5 156.1M116.7 103.0Q118.9 104.9 121.8 104.6M170.3 152.2Q164.8 156.5 163.8 163.4M183.0 113.3Q181.4 114.5 180.3 116.2M176.6 157.6Q180.8 158.7 185.1 159.1M146.0 137.3Q147.1 138.6 148.2 139.9M117.4 166.4Q119.3 168.3 122.0 168.0M185.9 90.3Q190.2 90.7 194.1 92.7M124.6 94.0Q117.2 93.2 110.1 94.8M127.4 151.3Q128.3 152.5 129.3 153.6M161.6 128.0Q165.4 129.9 169.4 131.3M111.6 105.4Q112.9 107.2 113.2 109.4M132.3 89.3Q130.2 95.3 124.2 97.6M131.9 156.9Q132.6 159.9 134.9 161.9M117.4 128.1Q120.1 131.1 124.1 131.0M160.3 111.1Q154.8 112.6 150.1 115.8M201.4 123.2Q201.9 126.6 200.8 129.8M170.0 137.0Q170.4 140.5 173.0 142.9M185.4 175.0Q183.3 176.7 181.3 178.5M191.7 96.5Q194.3 97.7 196.9 96.7M134.6 109.8Q136.5 109.4 138.3 110.1M108.8 96.1Q113.9 101.0 119.6 105.2M128.8 137.6Q130.0 139.7 129.6 142.1M176.1 124.5Q175.3 125.8 175.4 127.4M195.8 90.5Q197.2 91.7 197.2 93.5M141.7 114.0Q140.3 118.2 137.6 121.7M129.1 100.1Q126.9 104.1 126.9 108.6M137.8 127.8Q132.2 132.9 128.1 139.2M152.6 103.7Q147.6 109.7 147.2 117.4M116.7 123.4Q120.2 125.6 120.8 129.8M183.8 152.4Q178.9 155.8 173.4 157.8M186.4 161.0Q186.5 163.1 186.8 165.3M152.3 113.0Q150.9 116.0 152.2 119.0M148.3 160.2Q146.6 163.0 143.5 164.0M137.1 106.9Q134.4 110.0 135.0 114.1M185.2 134.8Q180.5 135.2 176.8 138.0" stroke="rgb(204,204,204)" stroke-width="0.7" fill="none"/>
<path d="M141.3 129.2Q167.2 133.8 193.6 133.9M153.6 134.5Q133.0 136.2 112.5 138.0" stroke="rgb(205,205,205)" stroke-width="0.5" fill="none"/>
<path d="M106.9 87.8Q105.1 101.6 105.1 115.5M182.9 96.6Q167.4 109.7 150.0 119.9" stroke="rgb(205,205,205)" stroke-width="0.6" fill="none"/>
<path d="M175.5 165.1Q175.5 177.5 174.3 189.8M166.6 91.5Q174.2 103.4 183.8 113.7M207.8 104.6Q198.4 109.4 188.3 112.7M162.9 84.9Q163.9 97.3 166.1 109.5" stroke="rgb(205,205,205)" stroke-width="0.7" fill="none"/>
<path d="M147.9 127.7Q147.2 129.1 146.4 130.3M108.9 102.9Q106.4 107.9 108.3 113.1M176.8 146.5Q179.0 147.1 181.3 146.7M160.0 186.4Q154.4 188.5 148.4 187.8M119.9 97.2Q118.9 98.4 117.7 99.3M151.0 138.2Q148.5 139.6 147.7 142.4M117.3 86.8Q117.2 92.3 114.1 96.8M191.8 159.5Q193.9 162.9 193.4 166.8M111.0 152.1Q106.0 154.3 104.4 159.6M190.9 169.1Q193.1 170.3 194.3 172.5M151.2 164.9Q150.3 167.8 152.0 170.3M158.7 113.8Q156.0 118.3 151.2 120.3M143.3 152.6Q149.7 150.6 155.8 153.5M139.9 172.1Q140.3 174.2 138.9 175.9M178.1 160.3Q175.8 161.8 173.1 161.3M146.1 148.2Q150.0 154.1 157.0 155.4M153.8 94.0Q147.9 95.0 141.9 95.1M177.8 94.6Q175.1 98.5 171.3 101.4M157.5 97.1Q162.9 99.8 168.7 98.0M160.9 125.6Q163.3 125.0 165.7 125.9M121.9 136.6Q123.4 138.2 125.3 139.2M141.8 105.5Q146.6 107.0 151.6 107.4M192.9 142.8Q190.4 145.5 186.7 145.6M109.9 111.5Q108.6 114.4 106.6 116.9M175.6 111.8Q171.5 112.3 167.3 112.1M200.3 187.0Q198.6 186.3 197.1 187.2M137.4 139.8Q136.7 141.6 137.5 143.4M142.9 143.2Q140.7 144.4 138.2 143.9M169.7 174.6Q176.2 177.0 182.8 179.0M173.7 151.1Q175.3 155.6 179.0 158.6M136.8 89.0Q140.1 89.4 142.2 92.0M128.2 97.4Q126.4 98.5 124.4 99.0M140.9 160.5Q139.2 161.0 137.8 162.2M170.6 147.4Q175.2 149.1 179.3 151.9M198.4 137.1Q200.7 140.7 201.3 144.9M123.3 178.6Q127.2 183.0 128.2 188.8M172.8 123.0Q171.7 126.8 173.8 130.2M135.9 91.1Q135.5 96.1 131.2 98.8M192.2 91.9Q195.0 93.1 195.8 95.9M191.7 170.1Q196.4 171.7 201.1 173.4M170.5 121.2Q174.2 119.7 177.7 121.3M195.9 179.6Q191.0 183.4 186.8 187.9M110.6 164.0Q111.7 168.2 115.5 170.0M191.5 110.0Q184.9 113.0 183.0 119.9M166.7 140.5Q170.8 140.0 174.5 141.8M128.9 91.9Q131.5 95.5 130.4 99.8M109.1 139.4Q112.5 140.5 115.5 142.3M120.2 185.9Q116.2 186.5 112.4 187.9M131.0 180.2Q133.0 181.9 134.7 183.8M118.7 130.0Q125.5 132.4 131.4 136.5M182.6 102.7Q177.2 106.4 171.7 109.9M112.6 143.1Q112.0 144.8 111.3 146.4M160.2 173.4Q161.5 175.1 162.6 177.0M166.9 102.4Q165.0 106.9 160.6 109.0M116.0 174.7Q118.5 176.6 121.6 176.0M107.8 117.1Q105.3 120.8 103.1 124.7M147.7 143.6Q153.7 141.9 159.4 144.1M167.3 147.2Q170.6 146.4 173.7 148.0M204.0 133.5Q198.6 134.4 193.1 133.8M195.3 149.6Q196.8 150.9 198.9 150.8M136.7 141.2Q138.2 142.8 140.2 143.7M104.0 99.4Q109.2 100.9 114.5 102.0M171.8 100.8Q171.9 103.2 172.5 105.5M193.9 139.5Q196.6 143.8 199.4 148.1M175.0 170.7Q179.3 173.7 183.3 177.0M142.3 133.2Q143.8 136.9 145.2 140.6M151.4 106.6Q153.1 106.4 154.3 107.6M122.0 154.7Q124.3 155.5 125.2 157.8M167.1 133.0Q170.8 134.3 173.9 136.9M104.0 103.8Q109.9 103.1 115.7 104.8M181.4 113.8Q182.0 117.5 183.0 121.0M123.5 95.3Q127.9 97.8 128.6 102.8M188.5 119.3Q185.9 120.5 183.2 119.6M187.0 184.2Q189.5 185.8 192.4 185.4M196.7 161.6Q202.9 159.3 208.4 162.9M186.4 169.7Q184.9 172.1 182.7 173.8M196.2 130.9Q193.6 130.8 191.3 132.0M122.8 154.1Q129.6 156.3 133.8 162.1M106.2 101.1Q108.9 103.8 112.3 105.6M181.4 117.0Q182.2 120.1 180.5 123.0M171.5 137.4Q172.4 138.8 174.0 139.3M186.5 154.6Q190.3 156.0 194.3 155.9M166.7 118.4Q169.6 119.4 171.1 122.1M152.0 171.7Q150.8 173.8 150.2 176.2M202.7 93.6Q200.5 101.3 205.3 107.7M146.0 106.3Q150.3 111.4 153.9 117.0M123.2 159.3Q118.6 163.3 118.3 169.4M139.7 125.0Q142.1 130.3 140.8 136.0M131.5 89.9Q128.2 92.5 127.0 96.6M138.0 141.1Q134.7 143.7 130.9 145.1M126.5 107.2Q123.5 112.3 123.7 118.2M149.1 130.1Q149.3 131.6 149.8 133.0M155.6 176.7Q161.0 181.0 164.0 187.3M167.0 123.6Q166.4 130.7 169.2 137.2M122.1 109.7Q116.1 112.7 110.1 115.7M159.8 179.2Q162.6 182.1 164.3 185.9M190.9 170.5Q192.8 176.0 190.5 181.4M164.0 127.1Q158.3 131.1 151.6 129.8M189.1 109.3Q191.0 113.8 190.8 118.8M200.5 129.6Q198.4 137.0 191.7 140.5M170.7 127.9Q167.8 131.7 163.3 133.6" stroke="rgb(222,222,222)" stroke-width="0.5" fill="none"/>
<path d="M115.8 152.8Q114.3 153.1 113.0 153.8M107.9 153.7Q110.3 157.7 114.0 160.5M192.2 127.7Q192.0 129.8 190.5 131.3M202.2 167.0Q204.7 172.0 203.5 177.5M129.1 133.9Q130.6 138.4 135.0 140.2M162.8 145.2Q160.2 150.9 162.2 156.7M109.3 154.4Q107.7 162.1 100.9 166.0M182.1 98.0Q183.5 100.6 182.6 103.4M139.2 179.5Q140.8 179.4 141.9 180.6M200.8 114.5Q198.9 116.3 196.4 117.0M129.1 111.0Q134.1 116.0 137.1 122.3M174.4 182.0Q172.4 183.5 170.9 185.5M132.1 163.3Q132.8 165.2 133.8 166.9M149.1 155.4Q151.2 155.3 152.6 156.8M124.0 174.5Q118.8 172.9 114.3 175.9M164.5 157.1Q158.5 160.6 151.7 162.3M132.0 93.9Q130.5 99.5 128.3 104.9M201.6 144.2Q200.5 147.1 200.1 150.1M136.0 151.3Q135.1 153.5 132.8 154.2M155.0 165.8Q153.0 167.8 152.9 170.6M185.1 134.3Q180.5 135.0 178.0 138.9M147.8 95.9Q144.6 99.0 140.2 100.2M156.6 134.2Q159.3 135.5 162.0 136.7M156.1 88.4Q153.0 88.7 150.7 90.8M162.7 157.6Q161.3 160.9 162.2 164.4M155.1 98.1Q154.8 100.9 156.3 103.3M170.0 160.3Q171.5 164.9 175.5 167.6M175.5 118.7Q179.5 121.4 184.1 122.8M203.5 160.1Q202.1 161.0 200.4 161.0M177.6 170.0Q172.6 169.1 168.6 172.2M164.8 147.9Q160.4 149.9 158.0 154.1M142.8 95.9Q149.0 97.3 155.5 97.3M199.9 138.7Q203.5 143.5 205.1 149.2M150.5 149.0Q144.9 149.1 141.4 153.5M177.4 108.8Q173.7 108.4 170.5 110.3M161.9 124.7Q158.1 129.8 159.0 136.1M132.2 147.3Q133.5 149.4 132.6 151.8M142.4 170.5Q140.9 171.0 139.7 172.1M188.0 184.1Q181.9 184.0 175.8 184.6M168.7 118.0Q175.4 116.6 181.0 120.4M200.7 121.7Q198.2 124.4 194.7 125.1M112.3 170.4Q111.5 174.2 110.5 178.1M143.7 115.2Q139.4 116.1 135.8 118.8M122.4 179.6Q122.3 181.1 122.6 182.6M161.4 176.5Q153.9 177.3 146.5 176.7M107.4 124.5Q105.7 131.7 108.5 138.5M184.7 181.5Q185.2 183.4 184.0 184.9M135.4 178.0Q134.1 180.1 131.8 180.6M141.7 109.3Q140.4 114.6 137.8 119.5M115.4 166.5Q120.4 168.6 123.4 173.1M168.0 92.7Q162.4 91.5 157.0 93.2M187.2 176.4Q185.9 183.3 183.1 189.8M159.2 167.4Q160.9 169.0 163.0 169.7M106.0 134.2Q107.2 135.9 108.8 137.1M172.4 155.5Q171.1 158.3 172.3 161.2M183.5 104.6Q188.3 108.2 193.7 110.7M128.9 125.5Q127.3 127.0 126.2 128.9M163.1 141.4Q161.0 141.3 159.0 141.5M116.0 98.2Q114.3 100.4 114.7 103.1M178.5 141.2Q182.1 146.3 187.5 149.1M142.7 167.7Q144.6 167.4 146.4 168.3M174.2 126.2Q178.1 132.8 177.9 140.5M116.7 183.5Q122.7 184.5 128.8 184.8M130.6 107.9Q133.1 112.7 137.4 115.8M118.5 161.3Q116.9 166.0 112.3 167.7M134.3 110.9Q136.8 113.2 140.0 114.2M185.3 178.0Q183.5 179.5 181.4 180.6M197.0 154.6Q195.1 155.7 192.8 155.4M201.4 88.6Q202.8 96.3 198.8 103.0M143.2 148.6Q143.1 150.3 144.4 151.5M141.6 185.1Q143.3 184.8 144.8 185.5M201.4 101.7Q201.6 103.6 200.4 105.0M192.7 170.4Q191.1 171.2 189.4 171.8M156.2 129.3Q158.3 130.6 160.6 129.8M160.2 164.6Q162.7 166.0 165.3 165.0M124.2 167.5Q120.2 171.8 116.3 176.1M149.3 136.2Q149.4 138.1 149.7 139.9M147.8 143.3Q147.1 145.1 145.7 146.4M168.9 167.6Q166.7 169.1 164.6 170.7M160.5 144.5Q161.5 146.3 163.3 147.0M192.5 148.8Q188.5 150.6 184.2 151.4M160.4 180.1Q155.8 181.5 151.6 183.6M144.2 157.4Q142.1 159.9 139.6 161.9M190.3 148.9Q192.6 152.6 196.9 153.2M204.5 169.6Q199.5 171.5 197.7 176.4M169.6 116.5Q165.9 116.1 162.5 117.7M146.9 99.1Q146.8 101.0 146.3 102.9M151.4 135.6Q154.4 136.9 157.6 136.5M149.3 110.9Q150.6 114.4 149.3 117.9M159.8 182.5Q154.8 186.6 148.4 187.7M157.7 154.6Q162.1 154.0 165.2 157.0M172.7 173.2Q172.9 175.1 172.8 177.1M207.7 178.2Q204.1 177.9 200.8 179.3M168.8 119.7Q164.3 120.9 160.9 124.1M182.5 146.1Q181.6 147.7 180.6 149.3" stroke="rgb(222,222,222)" stroke-width="0.6" fill="none"/>
<path d="M159.5 174.6Q157.9 174.7 156.4 175.0M111.3 101.8Q114.0 103.4 114.5 106.5M163.9 175.7Q171.0 177.8 177.9 180.7M162.5 111.3Q158.1 116.9 159.8 123.9M121.6 108.1Q122.1 112.4 124.1 116.2M163.0 148.9Q161.3 152.5 163.1 156.0M123.7 148.5Q125.1 150.0 127.2 149.8M210.4 108.6Q203.4 107.2 196.8 109.7M195.6 105.0Q197.9 107.4 199.0 110.6M172.6 137.8Q176.1 138.3 177.9 141.3M189.7 116.3Q188.1 123.2 183.7 128.8M113.4 125.4Q111.5 125.0 109.7 125.9M141.3 173.9Q139.4 176.4 137.7 179.0M123.5 166.2Q120.2 166.7 117.8 169.0M165.9 85.6Q169.5 90.4 171.5 96.0M144.3 162.0Q142.0 165.6 137.8 166.8M140.3 154.5Q145.2 157.9 151.1 158.6M136.4 115.5Q132.5 120.3 131.3 126.3M138.6 158.7Q140.8 164.5 143.4 170.3M162.0 97.8Q167.3 102.2 172.8 106.3M123.8 170.8Q123.7 172.4 123.6 174.1M143.3 160.5Q147.0 163.1 149.4 166.9M178.4 144.8Q183.8 149.5 191.0 148.8M141.8 122.1Q141.6 126.5 144.9 129.3M119.3 176.1Q121.4 178.3 121.5 181.4M170.3 103.2Q174.2 104.1 177.1 106.8M112.0 131.4Q112.9 133.4 114.8 134.5M129.3 128.4Q129.7 135.0 124.9 139.4M189.7 168.6Q189.7 173.7 190.3 178.8M162.3 102.6Q162.6 104.9 161.2 106.9M179.8 143.7Q176.4 146.2 172.2 146.5M155.1 154.6Q156.0 156.0 156.9 157.3M112.1 161.7Q113.1 162.8 113.7 164.2M178.7 115.9Q180.9 117.8 182.1 120.4M107.8 173.6Q108.1 178.4 106.7 183.1M122.6 181.3Q120.8 181.5 119.0 181.9M169.5 185.0Q168.2 186.1 166.5 186.3M122.6 92.4Q123.0 99.9 124.4 107.2M138.3 184.9Q143.4 185.5 148.3 186.5M124.6 174.5Q124.8 176.1 125.8 177.3M132.7 146.2Q129.6 147.8 126.2 148.3M196.2 101.4Q190.9 103.8 185.5 106.0M135.4 152.0Q138.0 156.1 142.7 157.0M110.0 171.7Q108.5 172.9 108.1 174.7M132.3 103.5Q135.2 107.5 139.4 110.0M115.8 131.1Q109.6 131.2 104.0 133.9M144.3 181.8Q142.6 181.7 140.9 182.0M168.6 120.0Q168.9 121.6 169.0 123.2M131.2 105.3Q132.4 111.3 132.9 117.5M133.5 126.7Q135.7 129.9 138.9 132.0M175.8 150.7Q173.0 154.9 172.3 160.0M150.3 162.6Q153.9 167.3 159.6 168.8M135.1 183.6Q137.8 186.4 139.5 189.9M159.7 144.9Q155.5 146.9 152.9 150.8M145.8 176.7Q144.6 177.8 143.1 178.4M178.6 105.2Q172.9 109.6 171.8 116.8M163.7 160.5Q166.1 162.0 168.9 161.3M153.5 156.8Q157.4 158.2 161.1 160.2M159.7 126.4Q159.6 129.6 161.9 131.7M190.5 124.5Q191.3 126.9 190.5 129.3M115.4 132.2Q116.4 136.5 120.0 139.0M114.5 100.8Q116.1 100.5 117.7 100.8M204.0 140.6Q204.2 142.6 205.8 143.8M118.6 147.9Q114.8 150.7 110.1 150.2M124.8 154.3Q126.8 155.1 127.7 157.1M121.7 89.3Q115.5 93.6 110.6 99.3M128.6 170.7Q131.3 174.0 135.4 174.8M162.3 173.7Q163.2 175.2 165.0 175.4M164.4 179.8Q158.6 180.7 154.3 184.8M187.5 126.9Q188.9 128.4 190.8 129.3M190.5 128.6Q186.4 128.6 183.9 131.8M104.6 160.9Q106.8 161.5 108.8 162.6M175.4 121.3Q175.3 122.9 174.4 124.1M164.1 156.5Q164.1 161.4 160.8 164.9M126.2 120.6Q119.6 121.6 114.8 126.2M201.2 112.9Q203.4 114.8 206.2 115.6M194.3 123.3Q189.5 123.0 185.5 125.7M133.0 162.5Q133.3 165.3 135.2 167.3M185.2 159.9Q184.0 161.0 182.4 161.4M112.3 117.9Q114.8 119.9 117.5 121.6M116.5 94.3Q113.4 99.3 110.4 104.4M168.6 180.3Q166.0 184.7 163.5 189.1M199.6 107.5Q196.2 111.6 192.6 115.5M183.5 151.8Q184.5 153.1 185.1 154.5M119.4 153.1Q118.1 154.2 116.5 154.0M193.5 99.1Q190.7 100.6 187.7 99.9M120.3 168.2Q121.5 171.6 124.7 173.2M150.4 133.0Q156.8 137.1 164.3 136.2M163.5 181.6Q165.3 185.7 168.8 188.4M127.8 161.6Q126.0 163.2 124.0 164.6M117.7 140.0Q118.6 144.8 117.6 149.6M195.0 153.5Q197.7 155.7 201.1 156.8M127.3 170.4Q132.5 175.1 137.9 179.5M115.0 112.3Q113.8 119.4 107.6 123.0M167.9 113.3Q167.0 114.8 166.0 116.2M117.9 133.1Q116.6 138.7 113.6 143.6" stroke="rgb(222,222,222)" stroke-width="0.7" fill="none"/>
<path d="M93.8 75.8Q108.3 95.1 117.8 117.2M191.0 101.8Q178.5 110.8 167.1 121.3M117.5 124.9Q133.6 147.1 148.0 170.5" stroke="rgb(225,225,225)" stroke-width="0.5" fill="none"/>
<path d="M181.3 91.3Q196.8 97.6 212.8 102.5M151.4 98.4Q139.8 118.6 125.3 136.8M147.6 160.4Q144.8 186.0 146.2 211.7M220.6 116.5Q202.4 128.0 186.0 141.8M122.5 167.8Q135.4 185.4 142.9 205.8M155.5 162.8Q133.7 163.3 112.1 165.5" stroke="rgb(225,225,225)" stroke-width="0.6" fill="none"/>
<path d="M130.9 133.1Q125.6 143.1 120.3 153.0M170.3 117.2Q160.7 120.1 151.5 124.4" stroke="rgb(225,225,225)" stroke-width="0.7" fill="none"/>
<path d="M190.0 148.7Q192.1 150.0 194.6 150.1M103.7 86.9Q109.5 92.0 117.3 92.6M149.2 151.8Q147.3 154.4 144.7 156.4M185.6 105.3Q184.5 106.6 182.9 107.2M170.5 161.4Q168.8 161.5 167.7 162.8M198.2 87.4Q197.0 92.9 195.7 98.4M182.8 154.8Q183.6 157.6 186.2 159.1M191.9 114.6Q186.4 117.8 184.5 123.8M155.8 158.9Q156.2 161.3 157.9 163.1M110.6 169.1Q107.0 173.4 104.1 178.1M198.1 109.9Q197.3 111.7 197.1 113.7M139.9 94.6Q140.6 96.3 139.7 97.9M167.7 119.4Q169.5 121.6 169.1 124.4M146.7 121.6Q148.6 121.4 150.4 122.1M176.2 132.3Q176.9 135.9 174.7 138.9M146.9 125.0Q143.7 127.9 139.4 127.7M151.2 105.3Q146.3 104.4 141.9 106.7M145.0 159.3Q140.1 164.6 139.2 171.8M151.1 92.7Q152.7 94.5 155.1 94.3M146.8 107.4Q145.5 108.4 143.9 108.3M192.3 180.3Q191.6 186.3 194.2 191.7M178.5 162.5Q181.4 164.8 185.0 165.9M141.5 122.2Q136.6 124.4 132.0 127.3M158.9 143.8Q153.0 146.7 146.4 146.8M200.0 124.2Q194.7 127.8 191.0 133.1M192.7 121.0Q195.6 124.1 197.9 127.8M181.3 120.7Q179.9 121.7 178.1 121.4M128.7 182.0Q127.8 184.6 127.9 187.4M127.9 102.7Q131.1 109.0 135.0 114.9M158.7 96.9Q161.9 101.0 166.2 103.9M193.7 90.2Q195.3 91.2 196.0 93.1M191.2 91.2Q190.8 92.8 189.4 93.7M143.0 141.4Q144.7 142.1 145.5 143.7M193.6 124.6Q187.2 127.0 180.7 124.8M165.1 102.3Q168.3 103.4 171.2 105.3M199.8 134.7Q194.0 134.1 188.8 136.7M110.9 111.4Q113.6 114.8 113.3 119.1M124.5 175.1Q125.6 176.3 127.1 177.0M115.9 141.9Q122.4 144.4 128.9 141.9M189.4 109.2Q187.3 112.2 185.1 115.2M167.1 131.9Q173.3 134.1 179.8 134.8M168.2 92.8Q169.8 94.0 170.1 95.9M129.7 137.1Q135.0 139.1 138.6 143.5M162.6 152.0Q163.4 153.5 163.5 155.2M167.2 167.6Q165.4 173.3 162.1 178.3M192.9 173.1Q186.4 174.6 179.7 175.1M184.9 125.4Q186.6 125.6 187.8 126.9M138.1 100.0Q135.9 100.1 134.4 101.8M192.7 109.7Q192.2 112.1 191.3 114.5M148.5 185.6Q144.1 187.1 139.6 188.2M195.5 125.8Q191.0 127.9 186.0 127.5M202.2 128.5Q201.0 131.9 200.7 135.5M111.1 91.9Q107.9 94.7 103.7 93.8M199.2 102.7Q196.8 107.2 194.8 111.8M137.8 152.6Q143.3 155.2 149.4 154.7M162.5 165.6Q158.7 167.8 157.3 171.9M115.6 112.8Q108.6 116.3 104.8 123.2M179.3 100.3Q176.8 101.8 174.8 103.9M188.1 148.6Q186.5 150.1 185.0 151.6M157.9 182.6Q159.8 182.1 161.5 183.2M178.3 146.1Q176.2 148.4 175.4 151.5M184.1 126.4Q185.2 127.5 186.6 128.3M148.1 123.0Q152.3 124.8 156.9 124.1M157.0 111.2Q155.8 116.0 158.1 120.4M115.1 168.3Q120.5 171.8 126.4 174.5M123.5 116.6Q129.6 120.2 136.7 119.8M121.0 122.8Q122.5 124.4 124.7 124.1M159.1 115.8Q156.4 117.8 153.1 118.5M160.7 139.7Q161.6 142.6 163.0 145.3M178.4 182.8Q173.3 184.0 168.1 182.9M109.9 170.1Q108.6 172.5 109.2 175.2M189.4 126.2Q191.2 126.9 193.0 127.3M146.7 103.7Q141.5 103.2 136.7 105.4M136.4 92.9Q138.5 93.7 139.8 95.4M108.7 129.1Q109.5 130.4 110.0 131.9M122.1 145.6Q118.7 146.3 115.2 146.4M168.4 113.9Q168.8 116.4 167.5 118.6M187.0 135.5Q184.3 139.8 179.4 141.2M165.9 153.0Q164.9 154.5 163.3 155.2M139.5 136.0Q139.5 137.6 140.1 139.0M123.1 143.6Q116.5 147.0 112.2 153.0M198.9 126.3Q195.2 127.7 191.6 129.2M195.5 95.1Q197.6 96.4 199.9 95.6M189.1 159.1Q191.1 160.2 192.5 161.8M121.4 106.2Q121.6 109.0 120.3 111.4M153.8 146.9Q153.0 148.8 153.5 150.8M145.3 161.8Q146.5 167.4 148.6 172.7M110.8 139.7Q109.5 142.9 107.7 145.7M106.1 144.9Q111.1 145.6 115.1 148.8M102.0 131.8Q105.6 131.2 108.7 133.2M111.7 120.9Q108.8 122.6 107.2 125.6M147.2 179.2Q148.6 179.7 150.2 179.9M190.2 121.2Q192.9 124.3 192.3 128.2M114.0 165.9Q116.0 167.9 118.9 168.2M200.0 172.9Q194.3 176.3 188.0 178.5M161.9 165.7Q154.3 167.9 150.5 174.8M153.4 149.3Q157.0 152.0 157.1 156.5M173.6 167.3Q177.2 169.5 181.5 169.5M110.7 123.4Q107.0 125.4 104.9 129.1" stroke="rgb(240,240,240)" stroke-width="0.5" fill="none"/>
<path d="M138.3 121.0Q138.3 125.8 139.9 130.3M135.4 94.5Q140.1 97.8 145.1 100.5M191.7 161.1Q195.7 162.1 199.5 163.6M123.5 164.8Q125.1 170.2 130.0 172.9M179.8 180.8Q179.1 182.8 180.0 184.7M146.3 162.9Q145.5 166.1 144.5 169.2M184.1 161.5Q181.5 168.3 184.3 175.0M125.2 160.4Q126.5 162.2 125.9 164.4M190.8 130.0Q187.1 129.1 184.0 131.4M141.0 103.8Q137.1 106.4 132.5 107.6M115.6 167.7Q115.8 171.7 115.5 175.7M144.1 121.9Q145.1 125.8 147.5 129.0M181.6 146.0Q176.7 151.3 172.0 156.9M171.7 136.1Q169.7 139.9 169.8 144.2M107.7 100.8Q108.3 105.0 110.4 108.6M132.9 130.5Q129.1 131.6 125.8 133.8M99.6 161.8Q105.2 163.5 110.0 166.6M175.7 161.4Q178.6 162.4 181.8 162.1M124.3 170.0Q123.2 177.1 117.3 181.3M138.3 110.0Q135.6 116.9 128.8 119.7M103.5 90.8Q106.1 92.5 109.2 93.1M175.7 169.3Q175.1 174.2 178.4 177.7M121.1 109.4Q122.6 109.8 123.9 110.7M156.9 162.5Q158.7 164.1 160.7 165.4M138.6 143.6Q140.4 145.2 140.9 147.6M177.8 116.2Q178.1 119.2 176.3 121.6M140.0 114.2Q142.3 115.2 144.8 115.6M136.9 123.7Q135.9 125.5 134.3 126.8M121.6 180.2Q122.1 182.5 124.2 183.6M188.4 89.5Q188.8 91.6 190.7 92.6M116.1 159.5Q113.7 163.9 110.5 167.7M149.3 110.4Q149.3 113.8 151.5 116.3M162.2 161.0Q161.7 162.4 161.6 164.0M172.3 134.6Q167.2 134.1 163.6 137.8M155.8 127.3Q153.5 128.8 151.2 130.0M120.6 99.8Q118.8 107.2 120.8 114.4M127.7 95.9Q126.7 98.1 125.1 99.9M177.0 124.9Q174.7 125.8 173.3 128.0M142.1 107.0Q146.1 108.4 150.3 108.8M106.3 169.0Q110.5 171.2 114.1 174.3M111.4 94.8Q113.3 100.6 112.8 106.8M160.0 144.7Q161.5 145.5 163.2 145.2M156.7 138.0Q158.3 138.2 159.9 138.3M111.2 180.4Q114.7 183.9 118.2 187.4M100.4 155.6Q104.9 157.3 109.7 157.9M140.2 151.2Q138.7 151.9 137.8 153.4M187.6 93.8Q193.6 93.7 197.7 98.1M192.5 116.1Q188.3 119.4 183.1 118.1M184.5 151.5Q185.4 153.9 186.5 156.3M144.1 110.6Q143.5 112.4 143.3 114.4M147.2 117.3Q144.7 116.9 142.6 118.2M199.7 108.6Q202.0 111.0 205.2 111.7M167.9 174.8Q167.6 176.5 167.8 178.2M191.1 169.1Q189.1 168.4 187.2 169.4M189.1 161.6Q187.1 163.3 185.6 165.4M137.5 99.8Q139.5 101.8 142.3 101.6M173.9 98.9Q174.0 101.9 176.4 103.8M139.5 161.3Q140.0 163.0 139.4 164.7M159.4 119.3Q161.1 119.9 162.9 120.1M194.8 117.1Q194.6 118.6 193.9 120.0M148.2 101.3Q146.6 103.2 144.3 104.2M135.0 167.5Q133.1 167.1 131.4 168.1M119.9 144.5Q124.1 148.6 123.8 154.5M186.5 135.5Q181.2 138.7 177.3 143.6M151.9 115.9Q150.4 115.8 148.9 116.2M115.0 155.3Q120.8 159.5 127.8 157.8M195.3 92.3Q198.6 95.6 198.4 100.2M197.0 182.8Q197.8 188.3 202.4 191.4M119.6 167.2Q120.5 173.3 125.8 176.5M128.2 171.9Q125.9 172.9 123.3 172.5M175.8 105.9Q171.5 108.3 168.0 111.8M126.0 154.7Q121.9 154.7 118.0 155.5M157.5 128.3Q162.8 133.2 163.2 140.5M204.2 92.1Q203.6 94.0 202.3 95.6M116.0 130.0Q117.5 133.8 121.2 135.6M116.7 106.4Q112.0 106.4 108.1 109.2M108.3 158.0Q111.8 159.9 115.6 160.9M161.1 115.9Q159.5 116.1 157.8 116.2M195.7 109.1Q196.7 116.6 199.6 123.5M128.3 163.8Q121.7 166.7 114.6 165.9M138.4 123.4Q132.5 126.8 125.7 127.5M187.4 147.8Q189.7 153.5 195.5 155.4M117.0 124.0Q117.2 125.5 118.2 126.8M201.6 143.5Q203.9 147.2 208.1 148.2M173.7 101.6Q178.2 107.6 180.9 114.6M179.2 131.9Q179.5 135.9 176.9 139.0M134.3 177.1Q127.5 178.5 122.8 183.6M126.3 113.0Q129.9 116.4 130.0 121.3M136.4 106.5Q141.7 111.1 148.7 111.1M124.5 181.0Q122.1 182.0 119.7 181.2M132.4 127.8Q134.3 129.1 136.5 129.6M198.9 159.9Q199.6 162.1 200.0 164.4M181.4 172.7Q182.6 178.4 181.0 184.1M168.3 91.3Q169.6 94.7 169.8 98.4M137.8 152.5Q135.8 152.1 133.9 152.9M163.3 128.2Q163.4 129.8 162.6 131.1M177.9 133.9Q174.9 134.9 172.0 133.9M196.3 106.6Q197.6 111.2 197.3 116.1M162.2 107.2Q160.6 108.0 159.9 109.6M173.1 116.2Q177.1 122.5 179.4 129.6M147.0 96.5Q152.3 99.9 157.4 103.6" stroke="rgb(240,240,240)" stroke-width="0.6" fill="none"/>
<path d="M169.8 107.8Q163.1 108.8 156.2 109.3M143.2 130.3Q147.3 132.6 148.9 137.0M185.6 148.2Q185.7 154.4 189.9 158.9M198.4 129.9Q196.9 130.5 195.5 131.2M126.2 93.0Q119.9 95.2 116.4 100.9M135.2 144.5Q137.5 149.9 135.2 155.3M207.8 141.8Q205.8 147.5 200.6 150.5M183.8 112.9Q180.9 119.3 178.8 126.1M188.2 98.6Q186.6 99.3 186.1 100.9M156.3 95.1Q162.2 98.9 162.8 105.8M201.3 125.1Q200.5 127.9 197.9 129.1M111.1 160.7Q108.0 163.5 105.4 166.8M177.4 94.5Q177.3 96.0 176.7 97.4M167.8 167.4Q171.3 166.6 174.5 168.4M195.0 128.9Q194.8 135.4 199.4 140.0M139.6 91.6Q136.2 93.6 133.2 96.2M137.9 161.6Q131.0 160.3 124.5 162.5M185.9 137.8Q180.5 139.0 175.0 139.1M179.1 143.8Q180.6 144.8 180.8 146.5M174.9 106.3Q177.4 106.1 179.3 107.7M179.0 100.6Q176.9 105.6 171.7 107.1M116.0 178.1Q115.3 184.6 119.2 189.7M203.5 140.1Q199.2 139.3 195.0 140.3M109.1 95.5Q107.7 97.2 107.8 99.3M190.9 169.9Q190.2 177.1 187.0 183.5M118.4 118.3Q118.3 121.9 119.2 125.3M146.8 114.3Q150.6 116.7 151.5 121.2M133.2 106.1Q136.2 109.9 138.0 114.5M175.5 133.2Q175.2 135.2 174.0 136.7M112.6 101.0Q110.8 103.2 108.1 104.4M127.2 150.5Q130.2 157.3 126.5 163.8M182.6 126.2Q176.8 128.5 170.5 128.7M167.3 177.4Q160.1 180.0 152.6 178.0M105.4 156.8Q111.7 158.3 118.1 157.3M182.5 163.0Q185.6 168.5 183.9 174.5M163.1 111.4Q162.6 118.6 157.4 123.8M176.6 138.5Q177.2 143.2 180.0 147.0M142.0 106.0Q144.9 110.0 144.4 114.8M122.7 132.3Q124.5 135.6 125.7 139.2M117.4 142.5Q117.8 144.0 118.3 145.5M129.7 112.7Q135.9 116.6 142.2 120.2M188.8 152.9Q191.8 155.3 194.9 157.6M167.0 116.6Q169.0 117.5 170.9 118.6M163.7 169.2Q169.7 167.4 175.7 169.5M177.4 145.7Q178.7 148.5 179.3 151.6M134.6 171.8Q138.5 174.0 140.7 177.8M119.0 148.7Q120.1 154.0 117.4 158.7M184.0 182.7Q186.2 187.0 190.8 188.5M154.9 102.8Q147.7 102.8 142.0 107.1M139.4 171.1Q147.3 173.4 150.5 180.9M172.4 141.5Q178.8 140.0 184.6 143.4M160.9 161.1Q160.9 168.3 156.7 174.0M195.0 159.5Q199.8 164.2 203.7 169.7M194.1 178.9Q189.0 183.9 188.4 191.0M189.5 175.9Q186.8 177.5 183.7 178.0M163.1 137.9Q159.4 137.5 156.1 139.2M132.9 110.7Q136.1 116.3 140.6 120.8M111.4 170.2Q114.4 175.6 120.2 177.7M161.4 96.0Q163.6 99.9 164.4 104.3M168.1 118.6Q167.8 123.3 168.9 127.9M108.7 83.6Q112.8 89.0 114.5 95.6M191.4 163.5Q189.1 164.6 186.6 165.1M172.1 135.6Q178.3 140.3 185.9 138.5M135.5 178.3Q140.8 181.8 147.0 180.3M114.1 95.6Q110.9 101.9 104.4 104.7M117.9 175.3Q115.8 178.1 113.3 180.5M188.4 172.0Q188.9 173.8 188.2 175.6M199.2 158.4Q203.7 162.5 203.8 168.6M163.6 150.8Q165.2 153.3 167.6 155.1M175.8 95.2Q178.3 95.0 180.2 96.6M154.0 120.3Q158.0 124.9 163.6 127.0M106.4 133.8Q111.3 134.9 116.1 136.2M108.5 137.9Q106.7 137.2 105.0 138.2M117.3 99.3Q114.9 99.6 112.5 99.4M133.0 165.2Q132.0 167.2 132.4 169.3M150.6 106.0Q154.1 109.2 158.2 111.7M199.9 136.3Q199.0 138.4 199.4 140.6M166.1 180.1Q167.9 183.2 166.8 186.5M135.2 146.6Q131.6 150.3 129.5 154.9M113.4 125.9Q116.2 128.1 116.5 131.7M140.3 178.4Q133.6 179.7 128.9 184.6M162.6 97.5Q160.8 100.9 158.3 103.8M166.0 89.6Q167.2 91.2 169.0 91.7M102.5 156.0Q106.7 157.7 109.1 161.5M158.5 106.6Q156.9 106.3 155.5 107.2M141.6 95.4Q140.1 95.8 138.8 96.6M140.5 128.3Q141.0 131.7 143.9 133.6M121.0 107.7Q122.4 109.3 123.4 111.3M142.8 150.1Q143.5 153.5 146.3 155.6" stroke="rgb(240,240,240)" stroke-width="0.7" fill="none"/>
</g>
<path d="M197.6 90.9a3.1 2.5 0 1 0 6.3 0a3.1 2.5 0 1 0 -6.3 0M109.4 163.1a5.5 4.4 0 1 0 10.9 0a5.5 4.4 0 1 0 -10.9 0M149.1 131.5a2.8 2.3 0 1 0 5.7 0a2.8 2.3 0 1 0 -5.7 0M159.7 109.4a3.4 2.7 0 1 0 6.7 0a3.4 2.7 0 1 0 -6.7 0M137.3 105.6a3.9 3.1 0 1 0 7.8 0a3.9 3.1 0 1 0 -7.8 0M185.7 98.5a4.1 3.3 0 1 0 8.2 0a4.1 3.3 0 1 0 -8.2 0M172.6 151.4a2.5 2.0 0 1 0 4.9 0a2.5 2.0 0 1 0 -4.9 0M181.4 138.7a4.6 3.7 0 1 0 9.3 0a4.6 3.7 0 1 0 -9.3 0M122.6 162.4a3.2 2.6 0 1 0 6.4 0a3.2 2.6 0 1 0 -6.4 0M109.1 109.2a4.6 3.7 0 1 0 9.2 0a4.6 3.7 0 1 0 -9.2 0M164.2 145.7a2.2 1.8 0 1 0 4.4 0a2.2 1.8 0 1 0 -4.4 0M173.2 160.3a4.5 3.6 0 1 0 8.9 0a4.5 3.6 0 1 0 -8.9 0M151.7 169.3a4.1 3.3 0 1 0 8.3 0a4.1 3.3 0 1 0 -8.3 0M110.7 169.1a2.8 2.3 0 1 0 5.6 0a2.8 2.3 0 1 0 -5.6 0M184.0 160.5a4.8 3.9 0 1 0 9.7 0a4.8 3.9 0 1 0 -9.7 0M139.5 105.0a3.9 3.2 0 1 0 7.9 0a3.9 3.2 0 1 0 -7.9 0M194.1 179.6a2.8 2.2 0 1 0 5.5 0a2.8 2.2 0 1 0 -5.5 0M199.3 128.2a5.3 4.2 0 1 0 10.6 0a5.3 4.2 0 1 0 -10.6 0M163.9 162.2a2.2 1.7 0 1 0 4.4 0a2.2 1.7 0 1 0 -4.4 0M159.2 166.0a4.6 3.7 0 1 0 9.2 0a4.6 3.7 0 1 0 -9.2 0M169.9 105.4a5.4 4.3 0 1 0 10.7 0a5.4 4.3 0 1 0 -10.7 0M136.6 154.9a3.4 2.8 0 1 0 6.9 0a3.4 2.8 0 1 0 -6.9 0M196.9 126.8a4.9 3.9 0 1 0 9.8 0a4.9 3.9 0 1 0 -9.8 0M121.0 142.7a5.0 4.0 0 1 0 10.0 0a5.0 4.0 0 1 0 -10.0 0M165.7 107.3a3.1 2.5 0 1 0 6.2 0a3.1 2.5 0 1 0 -6.2 0M142.3 102.2a3.5 2.8 0 1 0 7.0 0a3.5 2.8 0 1 0 -7.0 0M103.7 124.9a3.3 2.7 0 1 0 6.7 0a3.3 2.7 0 1 0 -6.7 0M150.9 108.8a3.7 2.9 0 1 0 7.3 0a3.7 2.9 0 1 0 -7.3 0" fill="#161616" opacity="0.6" filter="url(#poreblur)"/>
</g>
<path d="M108.6 128L181 103.5M108.89999999999999 129.1L181.3 104.6M123 125.4L203 92.6M123.3 126.5L203.3 93.69999999999999M105 132.6L150.5 123.5M105.3 133.7L150.8 124.6M159.5 174.5L203 158M159.8 175.6L203.3 159.1" stroke="#d6d6d6" stroke-width="0.75" opacity="0.7" fill="none" clip-path="url(#semclip101)" filter="url(#semblur)"/>
<ellipse cx="150" cy="118" rx="40" ry="10" fill="#fff" opacity="0.08" filter="url(#softblur)"/>
<ellipse cx="175" cy="170" rx="18" ry="12" fill="#000" opacity="0.15" filter="url(#softblur)"/>
<rect x="104.8" y="187.2" width="100.2" height="10.100000000000023" fill="#fff"/>
<text x="106.3" y="189.8" font-family='"Liberation Sans", Arial, sans-serif' font-size="2.7" fill="#666" stroke="#999" stroke-width="0.15">HV: 10.00 kV</text>
<text x="127.8" y="189.8" font-family='"Liberation Sans", Arial, sans-serif' font-size="2.7" fill="#666" stroke="#999" stroke-width="0.15">WD: 7.20 mm</text>
<text x="151.8" y="189.8" font-family='"Liberation Sans", Arial, sans-serif' font-size="2.7" fill="#666" stroke="#999" stroke-width="0.15">SEM MAG: 50.0 kx</text>
<text x="184.8" y="189.8" font-family='"Liberation Sans", Arial, sans-serif' font-size="2.7" fill="#666" stroke="#999" stroke-width="0.15">VEGA3 TESCAN</text>
<text x="106.3" y="192.75" font-family='"Liberation Sans", Arial, sans-serif' font-size="2.7" fill="#666" stroke="#999" stroke-width="0.15">Det: SE 20.0 um</text>
<text x="127.8" y="192.75" font-family='"Liberation Sans", Arial, sans-serif' font-size="2.7" fill="#666" stroke="#999" stroke-width="0.15">View field: 4.15 um</text>
<text x="151.8" y="192.75" font-family='"Liberation Sans", Arial, sans-serif' font-size="2.7" fill="#666" stroke="#999" stroke-width="0.15">1 um</text>
<text x="106.3" y="195.7" font-family='"Liberation Sans", Arial, sans-serif' font-size="2.7" fill="#666" stroke="#999" stroke-width="0.15">SEM HV: 10.0 kV</text>
<text x="127.8" y="195.7" font-family='"Liberation Sans", Arial, sans-serif' font-size="2.7" fill="#666" stroke="#999" stroke-width="0.15">Date(m/d/y): 11/18/20</text>
<text x="108.4" y="21.8" font-family='"Liberation Sans", Arial, sans-serif' font-weight="bold" font-size="9.1" fill="#111" stroke="#111" stroke-width="0.15">(b) 15 mg/mL</text>
<g clip-path="url(#clipdish2)">
<ellipse cx="254.6" cy="57.1" rx="34.0" ry="31.5" fill="url(#dishg)"/>
<ellipse cx="255.1" cy="55.9" rx="24.82" ry="21.42" fill="#eceeee" stroke="#d6d8d8" stroke-width="0.8"/>
<circle cx="251.7" cy="60.1" r="11.2" fill="url(#redg2)"/>
<ellipse cx="254.6" cy="57.1" rx="34.0" ry="31.5" fill="url(#dishshade)"/>
<path d="M245.5 82.3Q253 83.8 260.5 82.3" stroke="#222" stroke-width="1.8" fill="none"/>
</g>
<clipPath id="semclip102"><rect x="205" y="89.5" width="100.5" height="97.7"/></clipPath>
<g clip-path="url(#semclip102)">
<rect x="205" y="89.5" width="100.5" height="97.7" fill="#2a2a2a"/>
<g filter="url(#semblur)" opacity="0.78">
<path d="M216.9 138.1Q220.7 140.0 224.7 141.7M284.0 185.2Q281.6 185.3 279.4 186.2M276.3 114.4Q278.7 115.9 281.6 115.8M274.9 105.2Q278.2 104.8 281.4 106.1M298.0 139.3Q297.6 143.1 300.2 146.0M294.1 128.0Q291.3 130.3 290.6 133.9M302.1 99.1Q305.1 98.9 308.2 99.3M223.7 167.8Q217.7 172.8 209.8 172.2M248.8 116.4Q251.0 123.4 251.0 130.8M239.5 111.4Q240.8 113.8 242.2 116.2M283.1 140.6Q276.2 140.5 270.6 144.6M237.5 174.9Q236.0 176.2 234.2 175.8M282.3 90.1Q279.0 92.0 275.2 92.5M221.4 115.8Q221.7 119.8 224.7 122.6M255.6 118.5Q258.1 123.1 259.7 128.0M265.7 167.0Q266.8 170.2 268.0 173.5M294.6 114.5Q297.1 116.5 299.4 118.7M288.4 139.1Q291.5 140.5 293.7 143.1M207.3 98.6Q202.2 104.3 203.4 111.8M263.5 100.4Q263.6 102.4 264.2 104.4M287.7 127.6Q285.3 129.1 282.4 129.3M232.8 135.7Q235.9 140.9 235.0 146.9M222.1 99.1Q215.5 98.9 210.5 103.2M227.0 163.6Q222.0 165.5 216.6 166.1M262.4 154.0Q264.4 158.5 268.0 161.9M305.0 158.9Q306.2 160.7 306.0 162.8M273.3 148.3Q277.0 147.2 280.6 148.3M206.1 131.4Q213.3 133.2 218.4 138.5M224.8 134.4Q231.2 138.6 238.9 138.0M239.1 174.7Q236.4 176.2 234.1 178.3M270.7 147.2Q277.3 150.1 281.7 155.8M215.7 126.2Q212.2 127.4 209.4 129.6M238.8 116.7Q239.7 120.4 237.5 123.5M237.3 134.7Q239.3 135.8 241.5 135.8M224.4 136.8Q218.7 140.2 212.2 142.1M218.8 139.8Q220.8 146.1 224.6 151.4M204.3 135.6Q206.7 139.9 209.3 144.1M243.3 173.4Q245.9 174.7 248.8 173.9M239.1 152.9Q235.8 157.8 234.2 163.5M286.5 88.5Q283.7 91.1 281.9 94.4M234.7 103.0Q238.0 105.4 241.6 107.3M219.1 183.9Q221.9 185.2 224.7 186.5M213.4 176.8Q211.3 176.0 209.2 176.9M211.4 164.5Q212.2 166.9 213.3 169.2M292.5 123.5Q293.1 125.3 294.4 126.7M291.0 130.8Q283.4 132.5 279.3 139.1M282.8 143.1Q277.0 147.6 276.4 154.9M291.1 180.4Q289.8 183.9 291.2 187.4M265.4 126.5Q264.7 132.8 269.1 137.3M272.8 126.2Q269.8 133.4 270.8 141.0M266.6 120.7Q266.3 125.8 262.7 129.4M223.6 109.0Q222.4 110.5 221.2 112.0M240.5 88.0Q239.7 91.2 237.2 93.2M222.4 133.2Q217.6 136.4 217.3 142.0M302.8 131.4Q301.2 133.4 299.2 135.0M267.9 117.9Q264.2 120.8 260.6 123.9M227.9 146.9Q231.0 148.0 232.6 150.8M272.9 97.1Q268.1 102.0 263.4 107.0M284.3 97.4Q287.4 99.3 291.1 99.3M254.9 106.5Q253.5 107.6 253.5 109.5M241.6 158.1Q249.1 157.0 256.4 159.0M230.0 123.3Q226.1 127.2 223.2 131.7M249.1 113.0Q245.1 115.9 244.0 120.7M274.7 138.7Q273.2 139.5 272.4 141.0M262.5 179.1Q267.9 177.7 272.8 180.5M268.8 177.0Q270.3 177.9 271.1 179.5M259.8 153.5Q267.5 152.2 274.5 155.6M253.4 135.4Q252.9 137.4 253.9 139.3M236.4 107.3Q234.7 110.8 233.2 114.5M272.3 146.2Q272.0 148.5 273.5 150.2M259.6 155.8Q259.6 157.6 259.3 159.4M248.2 153.5Q246.9 155.9 247.9 158.5M285.2 102.7Q288.2 105.6 290.9 108.7M217.2 135.1Q219.1 135.9 221.0 135.2M228.6 145.6Q235.5 147.9 241.8 151.8M235.9 120.0Q241.9 124.0 249.1 124.0M262.5 184.9Q255.7 185.0 250.0 188.8M295.5 175.6Q298.9 177.3 302.7 177.4M297.7 131.4Q300.5 132.1 301.6 134.7M279.7 141.4Q282.0 145.1 280.4 149.2M235.4 130.9Q232.2 135.7 232.7 141.5M210.1 93.3Q210.7 95.2 212.3 96.5M223.0 184.8Q220.5 186.5 218.4 188.7M237.3 110.2Q240.9 110.1 243.4 112.7M239.4 157.6Q232.1 155.7 225.5 159.2M231.8 129.7Q229.3 131.8 228.7 134.9M243.5 132.0Q240.1 134.4 236.3 136.1M255.6 91.8Q257.3 93.0 259.4 92.5M222.9 167.7Q222.8 169.2 223.1 170.7M298.1 143.1Q299.6 143.3 301.1 143.8M244.7 161.8Q243.4 162.7 241.8 162.7M226.3 159.5Q232.5 159.6 237.5 163.1M286.1 114.5Q289.7 119.6 295.6 121.3M208.6 99.2Q204.9 103.1 204.2 108.6M250.1 121.5Q252.9 124.1 256.8 123.9M279.5 163.5Q278.5 164.9 276.9 165.4M256.9 170.1Q253.9 171.2 250.8 170.6M263.9 162.7Q261.3 166.0 260.6 170.1M301.9 125.8Q304.0 125.7 305.6 127.0M214.6 147.1Q218.1 150.7 221.6 154.3M262.1 148.2Q260.7 149.2 260.5 150.9" stroke="rgb(140,140,140)" stroke-width="0.5" fill="none"/>
<path d="M258.7 139.6Q264.4 141.9 269.3 145.5M218.2 176.6Q219.3 178.7 218.8 181.1M203.7 135.3Q205.5 139.3 209.1 141.9M241.4 181.9Q243.1 184.1 243.0 186.9M297.8 165.8Q291.8 163.7 286.1 166.6M255.5 169.3Q255.0 171.8 256.4 174.0M236.2 108.8Q236.7 110.4 238.2 111.1M297.5 180.0Q298.4 183.6 296.2 186.6M293.5 166.6Q291.1 167.3 289.3 169.0M269.6 109.7Q275.8 112.8 280.3 118.1M263.4 152.0Q266.1 152.7 268.8 153.1M227.3 114.1Q226.3 118.2 228.9 121.5M262.4 170.2Q260.3 173.1 256.9 174.2M283.1 141.0Q285.4 142.8 288.2 143.3M252.6 132.4Q250.7 133.4 250.3 135.4M286.6 149.0Q280.3 149.3 275.9 153.7M243.2 162.1Q246.3 165.6 247.4 170.1M272.2 103.9Q272.6 106.2 272.7 108.5M262.5 175.3Q263.6 180.1 262.0 184.8M204.2 148.1Q206.3 149.5 208.2 151.1M295.3 115.9Q301.8 118.6 306.8 123.4M276.4 119.7Q276.8 122.9 275.0 125.6M274.2 96.9Q277.9 99.2 281.8 101.1M272.1 106.0Q275.1 109.8 278.7 113.2M260.7 111.0Q267.9 112.7 275.3 112.0M245.5 90.8Q246.9 92.5 248.2 94.2M280.0 152.8Q281.7 155.7 281.9 159.1M274.4 128.3Q278.8 129.1 282.1 132.1M258.0 154.4Q256.8 158.2 258.9 161.7M266.6 141.9Q266.6 143.4 266.4 144.9M296.8 145.2Q296.2 146.6 295.9 148.2M261.4 129.0Q259.1 130.2 256.6 130.4M228.4 174.8Q232.2 177.4 236.1 179.7M299.4 120.3Q297.8 127.2 294.1 133.2M279.0 148.2Q282.9 152.4 284.0 158.0M297.2 156.1Q301.8 156.7 306.2 157.9M227.4 155.8Q223.7 158.6 219.7 160.7M278.3 109.9Q279.8 110.6 281.4 110.0M251.2 96.5Q252.4 98.0 254.2 98.8M260.0 158.9Q261.8 160.2 263.9 159.7M303.8 119.9Q302.8 121.0 301.9 122.3M286.1 155.8Q282.6 159.0 277.8 158.4M227.1 101.5Q223.7 103.7 221.3 107.0M292.8 151.4Q294.5 156.2 291.8 160.6M269.4 98.5Q273.3 99.9 276.4 102.8M206.0 103.2Q208.4 109.5 205.5 115.5M302.5 108.1Q301.0 109.4 300.8 111.3M257.9 110.0Q251.6 109.4 245.6 111.5M264.6 132.2Q266.9 136.8 265.6 141.8M216.5 170.9Q209.5 171.3 202.7 172.5M303.5 176.7Q299.2 179.0 295.8 182.4M206.7 114.8Q209.0 119.0 213.0 121.8M302.6 158.4Q296.5 159.0 291.2 162.0M253.8 104.1Q251.1 103.1 248.5 104.2M214.0 141.2Q218.5 141.1 222.4 143.2M204.9 126.3Q207.3 128.3 209.2 130.8M239.9 160.9Q238.8 168.2 236.4 175.1M287.5 103.6Q286.5 105.1 285.2 106.5M216.8 139.3Q224.0 137.8 231.1 139.7M293.3 140.5Q293.4 145.3 296.2 149.3M252.5 102.4Q247.2 106.1 245.7 112.4M307.6 147.5Q304.7 154.4 297.9 157.4M273.2 183.3Q275.9 184.3 277.3 186.7M236.2 164.4Q230.5 166.3 228.3 172.0M295.1 131.1Q294.7 134.2 292.7 136.7M229.5 164.3Q233.1 164.7 236.6 164.5M255.3 117.4Q255.8 119.1 257.1 120.3M307.7 125.0Q303.8 132.2 295.6 133.6M252.2 151.5Q251.2 152.9 250.2 154.2M218.8 123.8Q215.7 126.2 214.1 129.8M300.3 85.3Q301.6 91.8 300.2 98.2M301.6 94.6Q303.1 96.4 304.8 98.0" stroke="rgb(140,140,140)" stroke-width="0.6" fill="none"/>
<path d="M287.1 87.3Q287.4 90.5 286.3 93.7M305.0 111.1Q303.5 111.8 302.4 113.1M251.3 90.4Q255.5 90.4 258.3 93.5M244.2 177.5Q238.1 180.5 234.5 186.3M288.4 133.2Q290.0 138.0 290.1 143.0M289.9 138.9Q285.7 140.5 283.0 144.1M236.3 176.5Q235.0 177.5 234.6 179.1M292.1 124.2Q296.3 124.1 299.9 126.2M207.4 101.8Q205.9 101.4 204.4 102.0M208.6 164.9Q206.6 171.2 206.5 177.7M238.3 145.2Q239.7 148.0 238.4 150.7M218.4 154.8Q221.3 156.4 223.4 158.9M245.1 103.1Q238.5 106.6 231.0 106.2M207.8 170.4Q206.2 170.2 204.6 170.8M204.4 183.5Q205.7 185.0 206.9 186.4M289.1 173.4Q295.1 177.0 302.1 177.5M233.7 172.2Q232.1 173.0 230.9 174.2M239.6 183.8Q241.1 184.4 242.8 184.5M233.7 181.7Q235.3 183.1 235.4 185.2M302.9 118.0Q301.3 121.9 299.0 125.5M289.8 113.4Q290.4 115.3 291.7 116.8M252.9 118.1Q247.1 118.1 241.5 119.2M259.4 118.5Q260.5 122.1 260.1 125.9M230.7 116.8Q233.4 119.7 233.0 123.8M247.7 133.0Q243.5 136.3 241.3 141.2M239.8 131.8Q235.4 131.8 231.9 134.5M209.4 171.0Q206.4 170.6 203.6 171.7M277.5 130.4Q279.4 132.3 281.1 134.3M215.3 132.7Q215.5 137.0 215.0 141.3M292.8 136.7Q291.8 138.2 290.9 139.6M270.9 140.2Q266.8 145.4 267.0 152.0M228.0 103.9Q229.9 104.0 231.6 104.6M282.0 158.9Q279.9 158.9 278.4 160.4M246.9 88.8Q249.0 93.7 248.5 99.0M303.2 96.6Q301.2 98.8 298.2 99.1M218.7 165.6Q219.9 168.4 222.4 170.1M248.6 172.7Q246.4 173.8 245.7 176.2M256.6 166.2Q253.2 172.0 246.9 174.5M260.2 142.7Q257.2 143.3 254.2 143.2M301.3 146.7Q306.9 151.2 306.9 158.4M247.5 163.5Q251.5 166.8 256.3 168.8M261.1 99.2Q262.4 100.9 263.4 102.8M238.4 85.9Q235.4 90.6 232.6 95.5M218.5 153.1Q221.0 155.5 221.4 158.9M236.6 132.9Q235.9 134.5 235.5 136.1M273.9 126.8Q276.2 126.7 278.3 127.5M237.2 149.9Q235.1 156.9 239.2 163.1M237.3 99.7Q237.2 101.6 236.0 103.0M250.1 96.8Q248.7 101.3 244.7 103.8M294.9 146.8Q298.6 151.8 300.1 157.7M255.1 122.2Q256.5 124.2 258.9 125.1M223.7 176.9Q220.9 179.8 216.8 179.9M272.0 111.6Q270.0 112.1 267.9 112.6M203.9 173.2Q205.1 175.8 206.3 178.5M213.3 100.6Q215.5 103.3 218.7 104.6M278.6 125.8Q278.8 131.4 280.5 136.7M292.2 94.7Q289.2 100.7 288.4 107.4M282.2 169.4Q277.1 172.3 271.7 170.2M284.4 164.4Q285.9 165.3 287.6 166.0M302.3 151.8Q301.6 153.8 300.0 155.3M268.9 118.8Q266.0 119.8 263.5 121.7M276.7 144.2Q274.1 147.8 269.7 148.1M232.1 132.2Q230.4 132.6 229.5 134.1M211.6 120.4Q216.3 118.7 220.7 121.1M264.2 173.4Q266.6 175.2 268.9 177.2M265.1 102.9Q264.1 106.3 263.7 109.8M295.3 184.2Q297.4 186.6 300.5 187.6M256.8 123.8Q252.4 130.1 253.0 137.8M254.0 151.1Q255.7 155.9 259.9 158.6M300.0 182.8Q302.2 184.1 304.8 183.9M227.7 146.7Q229.2 146.9 230.8 147.1M260.1 91.0Q257.4 94.1 256.1 97.9M285.3 138.8Q289.6 140.7 291.7 144.9M288.8 154.6Q289.1 160.9 284.9 165.4M220.4 118.3Q214.5 122.3 207.7 124.4M281.0 158.5Q275.8 163.8 269.2 167.1M282.1 127.0Q283.7 134.0 287.7 140.0M264.3 164.2Q262.4 165.0 260.5 165.9M282.6 121.4Q288.4 121.7 293.2 125.1M233.7 142.9Q229.8 145.6 228.6 150.3M274.9 146.4Q280.4 149.3 281.6 155.4M214.7 126.3Q219.3 127.4 223.9 128.3M303.3 180.8Q302.2 182.0 300.9 182.9M283.6 94.8Q285.1 95.4 286.5 96.0M245.1 154.5Q245.5 159.2 242.2 162.6M277.0 148.3Q280.8 150.3 282.4 154.3M236.5 141.2Q232.0 142.6 228.2 145.2M218.8 162.5Q219.3 166.5 222.4 169.0M233.9 109.6Q237.9 111.5 241.8 113.5M284.7 116.2Q283.0 118.1 280.8 119.2M285.1 176.5Q285.9 178.5 284.9 180.5M297.4 144.3Q292.8 147.7 287.3 146.4M226.8 160.2Q225.6 161.8 224.3 163.4M304.9 181.1Q301.9 184.8 297.2 185.7M248.8 132.6Q240.9 134.7 237.0 141.8M277.7 120.6Q274.4 125.5 275.3 131.4M211.1 171.4Q214.6 174.9 219.4 174.7M259.9 183.5Q259.0 184.8 258.5 186.2M209.4 88.9Q209.1 90.6 208.3 92.2M229.6 127.1Q232.8 133.8 238.0 139.2M259.0 148.0Q259.1 149.9 259.1 151.8M296.7 147.0Q294.0 150.1 292.9 154.1M257.2 117.7Q254.8 120.6 251.1 121.1M295.4 160.5Q289.9 162.4 284.6 164.8M268.7 132.0Q269.4 133.7 270.3 135.3M273.5 179.2Q275.1 180.1 276.1 181.6M283.2 156.4Q286.3 159.2 288.0 163.0M235.7 170.2Q234.7 174.0 235.8 177.8M289.1 88.7Q289.7 90.4 290.5 92.0M213.5 150.6Q215.6 151.9 218.0 152.7M296.6 94.3Q298.4 96.8 300.1 99.4M285.1 90.9Q283.3 91.9 281.2 92.3M263.7 106.1Q258.4 104.8 253.1 106.4" stroke="rgb(140,140,140)" stroke-width="0.7" fill="none"/>
<path d="M284.7 159.9Q283.4 161.0 281.8 161.2M264.8 110.2Q263.7 117.0 262.4 123.7M260.6 154.7Q259.2 160.1 257.3 165.3M219.1 135.7Q219.2 137.3 220.3 138.5M273.5 129.1Q276.4 133.8 277.7 139.1M300.1 126.8Q302.6 127.7 305.1 128.5M255.5 170.3Q254.1 170.7 252.7 171.4M275.1 133.8Q270.7 138.4 264.7 140.5M238.6 103.6Q236.5 103.9 234.7 105.1M252.4 176.7Q248.0 178.2 245.2 181.8M280.9 158.4Q279.4 159.2 277.7 158.8M276.8 90.8Q274.2 93.1 272.0 95.8M284.4 180.4Q279.6 180.7 275.8 183.6M291.7 98.6Q292.9 102.3 296.1 104.6M273.1 137.9Q273.3 139.9 271.8 141.3M264.0 119.9Q263.0 121.1 262.7 122.6M298.2 113.2Q297.9 116.5 299.0 119.6M229.8 160.5Q235.2 160.0 240.5 160.8M214.3 177.0Q215.8 180.6 219.4 182.2M287.9 94.4Q287.6 101.2 287.6 108.1M241.1 100.6Q239.4 106.5 238.1 112.5M291.7 170.5Q291.0 175.1 289.6 179.7M269.6 99.3Q272.4 100.7 274.3 103.2M216.1 121.7Q221.6 125.0 224.6 130.7M275.4 152.0Q274.9 155.5 275.3 159.0M300.2 133.9Q300.7 135.5 302.0 136.5M282.8 135.4Q285.6 141.3 285.9 147.7M237.0 138.1Q237.9 142.1 237.5 146.1M251.4 111.7Q257.4 113.2 260.1 118.7M266.4 110.0Q268.4 109.9 270.2 110.6M243.3 127.4Q247.0 131.3 250.3 135.4M294.4 97.8Q293.7 99.2 292.3 100.0M266.2 87.6Q258.7 89.2 254.0 95.1M218.9 146.9Q218.9 149.2 217.9 151.3M258.7 121.0Q253.7 120.7 249.1 122.6M279.5 96.6Q275.8 98.1 272.0 98.8M277.2 84.7Q272.8 90.1 272.6 97.1M267.6 169.0Q268.8 170.5 270.4 171.5M216.9 111.1Q215.1 113.6 213.1 116.1M266.1 121.4Q271.3 124.3 277.0 122.4M280.9 178.4Q278.6 180.5 276.5 182.8M251.5 122.3Q245.5 127.1 237.9 128.0M289.7 119.5Q289.3 121.3 287.6 122.3M274.5 133.5Q277.8 139.2 281.7 144.5M240.1 159.9Q238.1 161.3 235.9 162.3M284.4 88.6Q290.2 87.8 295.4 90.7M298.3 151.9Q299.6 154.9 301.9 157.2M287.9 169.0Q289.6 172.0 292.8 173.2M261.0 172.9Q260.1 175.0 258.9 177.0M296.4 137.3Q293.3 138.3 290.1 137.9M275.3 136.1Q270.5 140.1 269.6 146.3M285.4 161.6Q283.9 163.3 282.7 165.2M234.9 176.1Q235.5 177.7 235.1 179.4M253.8 168.0Q259.0 166.7 263.6 169.5M302.6 91.3Q304.3 93.7 305.7 96.3M223.7 104.3Q225.1 105.9 226.2 107.6M289.9 167.2Q295.7 171.8 298.7 178.5M224.7 112.4Q229.5 113.1 234.2 113.9M288.0 138.1Q291.2 142.0 291.6 147.0M228.5 169.1Q230.0 173.1 230.2 177.4M299.1 155.9Q295.7 160.8 293.8 166.3M216.0 135.9Q217.1 138.2 217.6 140.7M279.9 119.2Q280.9 121.0 280.6 122.9M307.4 123.9Q305.0 126.5 302.7 129.1M294.4 116.4Q293.2 118.1 291.6 119.4M203.3 167.8Q206.4 167.2 208.9 169.0M208.4 148.4Q215.4 151.9 218.8 159.0M265.9 107.4Q266.6 109.0 267.6 110.5M247.4 87.0Q247.3 90.1 248.4 93.1M282.1 103.0Q283.5 107.0 283.4 111.3M294.7 126.7Q296.1 128.2 297.6 129.7M227.8 180.7Q228.3 183.7 229.5 186.5M266.9 172.7Q261.1 172.5 255.7 174.9M296.3 98.9Q297.8 100.1 299.1 101.4M218.5 89.0Q224.1 93.8 228.2 99.9M253.6 138.3Q256.2 140.7 257.9 143.9M243.5 149.9Q244.4 151.6 245.7 153.1M275.8 118.7Q274.0 122.0 270.4 123.0M262.2 143.2Q268.6 144.0 272.8 149.0M285.3 110.4Q279.7 110.4 274.9 113.5M240.4 105.4Q239.1 109.3 238.3 113.3M266.6 152.0Q265.5 153.2 264.1 154.0M264.4 114.2Q260.6 115.6 256.5 115.6M226.2 102.0Q230.3 105.2 234.9 107.7M234.5 176.5Q232.7 177.6 231.3 179.2M224.4 103.5Q220.8 102.4 217.7 104.4M222.4 141.8Q220.8 142.9 219.0 142.3M207.2 147.5Q207.2 149.1 206.5 150.5M240.7 143.4Q242.7 146.7 245.6 149.1M265.8 178.8Q266.2 180.7 265.3 182.6M247.5 137.6Q249.9 140.6 249.2 144.3M241.7 93.8Q246.1 95.6 250.8 94.8" stroke="rgb(162,162,162)" stroke-width="0.5" fill="none"/>
<path d="M266.2 130.5Q266.2 132.7 266.2 134.8M276.4 137.0Q274.3 139.5 271.9 141.6M303.2 156.2Q301.4 157.5 299.3 157.2M272.8 106.1Q270.0 107.6 266.9 108.3M303.6 143.9Q299.2 144.0 295.7 146.8M279.2 154.6Q277.8 155.5 276.1 155.4M219.1 106.9Q216.0 108.7 214.4 111.8M260.1 154.9Q253.1 156.7 246.0 156.5M224.8 92.6Q226.2 94.2 228.4 94.1M210.1 142.6Q212.9 149.5 220.2 151.5M208.6 116.1Q207.2 120.7 203.5 123.7M238.5 145.2Q237.3 148.1 234.4 149.5M240.7 158.9Q239.2 161.7 236.3 163.2M237.3 164.5Q238.4 166.7 237.7 169.1M273.2 124.2Q274.6 125.5 276.2 126.4M289.2 123.4Q290.5 124.7 292.3 124.8M266.5 109.1Q264.0 108.8 262.2 110.4M208.2 88.1Q211.8 94.8 210.6 102.3M215.1 134.4Q210.6 133.6 206.9 136.2M268.2 139.2Q268.3 141.9 267.0 144.3M235.2 127.7Q233.9 129.2 233.8 131.1M224.0 108.4Q224.5 110.0 224.9 111.5M262.8 112.5Q261.8 118.4 261.5 124.4M289.7 169.9Q288.2 175.0 283.3 177.1M253.4 106.8Q252.7 108.5 251.5 109.9M208.2 122.3Q213.6 122.1 218.6 123.9M225.9 174.1Q232.4 178.8 233.0 186.8M307.1 90.6Q304.9 90.7 303.2 92.0M257.6 174.1Q255.5 180.2 249.4 182.4M277.7 111.9Q280.9 113.8 284.5 114.3M240.0 146.0Q242.0 147.6 244.2 148.9M239.5 146.2Q236.7 150.0 236.1 154.7M274.5 97.9Q274.3 100.6 273.0 103.0M227.4 175.0Q229.4 179.0 231.1 183.1M203.9 114.9Q205.5 118.7 208.3 121.5M251.0 174.1Q255.4 177.5 260.1 180.6M242.5 106.9Q239.9 109.3 236.6 110.7M249.1 173.5Q248.5 177.4 249.9 181.2M229.0 163.3Q230.3 167.4 234.0 169.6M271.4 168.6Q273.1 169.6 275.0 169.6M253.0 113.7Q258.1 115.2 263.3 114.9M260.8 169.9Q260.1 172.3 260.2 174.8M302.4 104.7Q304.0 104.8 305.4 105.3M286.4 152.3Q285.1 154.8 283.5 157.0M225.5 162.9Q225.6 165.1 227.2 166.5M254.8 111.8Q255.9 115.9 259.4 118.5M262.5 178.2Q264.5 183.2 268.3 187.0M278.2 125.8Q275.5 127.8 275.1 131.2M288.2 131.5Q285.0 133.8 284.2 137.8M201.5 160.6Q207.1 162.9 213.2 162.6M237.6 113.1Q237.9 119.3 240.0 125.1M259.6 141.6Q262.0 145.9 261.0 150.8M294.1 172.7Q288.5 172.3 283.1 173.8M300.6 157.8Q298.3 160.1 297.3 163.2M212.1 92.1Q213.4 93.3 213.4 95.1M277.0 130.3Q274.2 133.5 270.0 133.5M226.5 171.2Q222.2 177.5 222.6 185.2M254.6 184.0Q256.2 183.8 257.7 184.5M206.8 115.4Q207.9 120.1 210.5 124.3M302.2 113.5Q298.4 115.9 295.2 119.2M272.7 137.3Q275.1 138.3 276.7 140.3M256.8 176.2Q258.5 176.9 259.7 178.2M300.6 97.1Q300.2 100.8 300.7 104.5M261.3 180.1Q260.1 181.2 258.6 181.7M272.8 91.6Q276.4 91.1 279.9 91.6M292.3 138.5Q295.1 139.6 296.2 142.5M229.3 130.4Q235.0 133.0 241.1 131.2M292.2 103.8Q298.2 103.7 303.8 105.9M212.8 168.0Q215.1 171.8 218.8 174.1M296.8 109.0Q298.0 112.0 300.3 114.3M280.0 162.7Q283.3 166.3 288.2 165.9M215.9 131.1Q218.3 136.2 217.5 141.9M228.8 175.4Q229.4 181.9 229.8 188.4M206.9 118.3Q207.5 120.9 209.1 123.0M275.5 153.4Q279.5 155.6 283.8 154.2M225.7 92.6Q227.0 96.7 225.0 100.5M265.2 106.8Q264.9 108.9 266.0 110.6M226.6 94.0Q225.9 95.3 225.2 96.7M279.6 99.6Q278.0 99.9 276.4 100.3M253.2 132.6Q254.2 136.5 257.7 138.5M296.7 180.3Q296.8 181.9 296.1 183.5M250.4 180.6Q244.0 183.0 237.6 180.6M290.4 159.1Q294.0 161.5 298.4 162.0M291.1 121.5Q290.1 127.9 284.5 131.3M213.5 94.4Q215.4 94.1 217.1 94.7" stroke="rgb(162,162,162)" stroke-width="0.6" fill="none"/>
<path d="M292.8 184.2Q293.3 186.2 292.7 188.3M279.8 129.4Q278.1 130.4 276.2 130.7M230.2 131.5Q225.4 135.1 220.3 138.4M223.9 104.0Q225.6 105.3 227.7 104.8M251.6 107.0Q256.6 108.5 261.7 109.6M226.9 126.7Q224.1 126.2 221.6 127.5M294.1 104.0Q288.1 108.0 280.9 108.0M275.7 167.8Q272.1 173.4 273.2 180.0M284.4 91.0Q283.2 96.4 285.0 101.7M290.0 155.3Q287.6 155.7 286.4 157.8M202.7 87.9Q208.4 91.8 215.1 92.6M232.7 97.2Q233.1 101.1 235.6 104.1M244.5 126.7Q243.8 128.0 243.3 129.5M243.2 92.4Q245.9 95.4 248.2 98.6M211.2 173.1Q212.6 175.1 213.5 177.3M217.5 95.9Q215.5 96.3 214.1 97.6M303.3 134.0Q302.4 135.5 300.6 136.1M230.6 101.0Q230.5 103.5 231.9 105.5M210.3 108.4Q213.0 109.5 215.8 109.4M258.6 94.1Q257.8 96.3 256.1 98.0M259.5 172.3Q261.0 176.9 259.5 181.6M231.7 139.7Q233.3 140.8 234.6 142.2M211.5 128.1Q212.5 135.6 219.1 139.6M242.0 120.2Q244.6 121.8 247.7 121.6M259.5 105.4Q258.9 112.7 259.3 120.0M240.2 165.8Q241.5 167.9 241.7 170.4M249.3 152.3Q254.6 152.7 259.8 153.1M277.7 121.1Q278.5 122.4 279.7 123.4M267.3 101.4Q270.6 104.7 275.1 105.7M235.4 134.1Q235.4 138.3 232.9 141.6M247.2 153.6Q246.1 155.0 244.3 155.0M298.0 154.5Q292.5 156.9 288.0 160.7M292.8 110.6Q291.4 111.7 289.7 111.3M273.6 119.7Q271.4 121.2 268.8 122.2M268.8 95.5Q270.3 96.4 271.9 96.9M255.8 169.3Q259.6 175.9 259.6 183.6M305.9 158.2Q305.5 159.7 304.8 161.2M231.3 101.0Q230.5 103.0 230.6 105.1M262.5 141.2Q267.2 142.1 272.1 142.5M250.7 114.4Q244.0 112.0 238.0 115.7M235.2 142.0Q233.0 143.3 230.6 143.6M205.5 179.6Q208.6 181.5 209.5 185.0M248.2 116.1Q245.4 115.9 243.5 118.0M247.9 101.1Q249.5 102.9 249.6 105.4M291.7 168.4Q293.9 171.2 293.7 174.7M289.6 112.0Q288.3 113.9 288.0 116.1M214.4 142.9Q214.3 144.6 213.8 146.3M277.5 133.8Q275.8 134.2 274.7 135.7M244.6 93.0Q241.6 93.4 239.3 95.2M212.6 162.5Q214.6 166.6 213.7 171.2M228.3 172.4Q225.7 175.5 225.6 179.6M299.3 126.3Q298.5 127.9 296.9 128.7M235.0 153.7Q235.9 159.7 233.7 165.4M209.1 130.7Q210.4 134.5 213.8 136.8M216.8 137.7Q221.0 142.6 220.2 149.0M212.1 128.4Q213.0 130.4 215.1 130.9M224.9 162.7Q226.9 167.8 228.9 173.0M220.3 157.7Q222.9 158.9 225.8 158.6M231.7 162.2Q227.6 163.3 223.7 165.1M247.4 168.5Q245.9 171.9 242.8 174.0M282.9 92.1Q284.0 93.4 284.1 95.1M209.0 170.3Q206.3 176.7 207.9 183.5M285.2 130.5Q281.1 131.2 277.2 132.9M214.7 185.9Q216.2 185.4 217.8 186.0M215.6 119.3Q211.4 122.3 206.3 122.9M214.2 94.3Q218.2 99.0 217.9 105.2M220.1 93.4Q222.5 96.1 225.7 97.9M260.6 127.4Q260.2 129.0 259.3 130.3M237.7 91.7Q233.3 94.2 229.3 97.2M291.2 177.6Q295.3 179.6 299.7 178.0M229.8 153.4Q227.8 156.4 224.3 157.0M251.8 111.3Q252.3 113.1 252.5 114.9M219.3 176.8Q221.2 180.3 219.8 184.0M285.5 113.1Q284.2 119.0 287.0 124.3M296.8 176.9Q296.5 178.4 295.6 179.7M272.8 136.1Q269.6 141.5 266.3 146.8M285.1 105.7Q282.0 105.2 279.0 106.3M229.1 116.5Q229.9 119.0 232.2 120.1M245.9 115.6Q244.8 122.8 241.2 129.1M271.9 104.2Q274.5 106.2 277.6 105.6M275.6 163.5Q273.6 164.6 271.4 165.3M299.3 153.5Q298.2 155.3 296.2 156.1M256.6 136.1Q262.8 134.7 268.0 138.5M292.4 178.7Q284.7 176.5 278.1 181.1M206.7 179.5Q208.3 180.6 210.1 181.1M275.2 118.4Q272.4 122.3 270.6 126.8M280.1 165.7Q278.3 166.4 276.4 166.0M243.7 109.5Q244.1 111.4 245.2 112.9M261.0 150.2Q258.0 154.0 254.2 156.9M289.0 136.9Q295.4 135.8 301.8 137.1M261.6 109.3Q265.1 112.0 269.3 113.6M303.8 138.3Q300.8 144.8 298.2 151.5M231.5 119.8Q233.5 125.3 232.1 130.9M232.8 105.6Q230.8 107.8 229.8 110.6M286.1 126.8Q285.8 130.7 283.1 133.7M220.0 118.7Q223.0 123.8 223.5 129.6M257.7 123.5Q257.8 125.4 259.1 126.8" stroke="rgb(162,162,162)" stroke-width="0.7" fill="none"/>
<path d="M189.2 132.6Q209.3 143.4 231.3 149.3M271.1 132.8Q276.5 142.1 280.2 152.1M267.0 171.9Q267.6 183.0 269.0 194.1M236.5 148.7Q250.7 153.0 265.4 155.3M287.6 81.0Q295.0 102.1 299.3 124.0" stroke="rgb(165,165,165)" stroke-width="0.5" fill="none"/>
<path d="M199.6 156.3Q208.6 164.2 218.8 170.5M228.8 176.0Q242.6 186.3 256.9 195.7M274.9 154.9Q265.4 174.9 256.2 195.0M293.8 125.7Q305.6 130.3 316.3 137.1" stroke="rgb(165,165,165)" stroke-width="0.6" fill="none"/>
<path d="M253.2 158.6Q261.2 169.3 270.7 178.7M230.0 167.0Q205.9 174.4 183.7 186.2M267.4 173.0Q255.9 173.7 244.4 175.0M292.1 148.3Q303.1 151.7 313.4 156.6" stroke="rgb(165,165,165)" stroke-width="0.7" fill="none"/>
<path d="M306.1 99.0Q303.3 103.9 299.9 108.5M249.5 125.9Q246.7 130.0 241.9 131.4M222.3 159.1Q222.0 161.3 222.3 163.4M242.7 103.5Q244.8 106.6 247.7 108.8M298.4 89.3Q296.0 89.8 294.5 91.8M301.2 116.3Q295.9 120.2 289.6 118.7M246.6 130.1Q241.8 131.8 239.0 136.2M230.7 183.4Q233.0 184.4 235.4 184.7M256.9 151.3Q257.2 152.8 258.0 154.1M207.2 169.2Q210.1 171.6 213.9 171.9M237.0 159.1Q235.6 161.0 233.4 161.8M276.1 160.9Q276.8 163.8 277.3 166.8M296.2 153.6Q297.6 160.7 296.2 167.7M235.5 121.4Q235.1 124.4 237.1 126.6M210.0 137.6Q210.8 144.4 212.2 151.1M282.7 103.8Q280.3 106.0 280.4 109.3M255.2 137.8Q252.7 138.9 250.0 139.1M275.0 176.4Q276.2 179.7 278.9 182.0M249.2 159.1Q248.6 161.7 249.4 164.2M263.4 126.9Q261.8 129.1 260.1 131.0M293.4 140.6Q297.2 142.2 298.8 146.1M274.1 100.3Q276.2 104.7 275.6 109.5M236.4 93.8Q236.8 96.0 238.5 97.5M303.9 126.1Q302.3 126.3 301.3 127.7M257.5 165.7Q252.6 171.0 247.7 176.2M230.3 127.1Q232.5 128.5 235.1 128.4M231.6 105.0Q227.1 111.2 219.8 113.3M272.9 138.0Q278.6 140.9 285.0 139.8M267.4 96.9Q268.9 98.6 270.2 100.5M302.2 120.6Q301.5 124.2 300.7 127.7M226.4 117.0Q228.9 119.1 232.2 119.1M263.9 91.0Q264.6 92.7 266.1 93.7M262.0 137.0Q261.9 140.1 263.1 142.9M226.7 156.8Q224.9 160.6 226.1 164.6M216.4 170.4Q213.4 173.4 209.2 174.4M230.4 92.7Q228.8 93.9 226.8 94.1M279.8 141.2Q278.0 142.2 276.2 143.1M219.5 127.1Q213.1 129.8 208.3 134.9M299.5 114.0Q300.7 115.5 302.5 116.1M242.9 157.3Q242.5 163.5 246.5 168.3M287.3 106.5Q283.2 108.9 278.6 107.8M234.5 100.4Q229.4 103.9 228.9 110.1M263.6 138.6Q265.8 140.2 267.0 142.8M288.5 152.6Q283.9 158.3 283.7 165.6M212.7 113.6Q215.0 116.6 216.8 120.0M294.5 90.5Q298.4 96.1 302.9 101.3M232.8 161.0Q228.8 165.7 229.3 171.8M208.5 148.4Q207.0 152.3 207.6 156.4M262.7 92.9Q263.4 95.5 261.8 97.7M276.1 109.8Q283.4 111.4 287.2 117.7M276.5 184.1Q274.9 185.3 273.5 186.7M262.7 180.7Q262.0 183.6 260.7 186.3M271.6 161.0Q267.3 166.1 260.9 167.8M305.1 100.2Q305.0 102.5 305.7 104.7M280.4 107.1Q282.9 106.7 285.1 107.9M241.7 114.5Q242.7 116.1 244.5 116.4M299.2 138.6Q297.4 139.5 295.6 140.7M276.3 172.7Q277.2 175.2 279.0 177.2M286.4 145.1Q288.2 145.8 290.0 146.5M292.0 147.4Q286.0 145.1 280.3 148.2M280.5 101.1Q283.1 103.4 286.6 103.0M245.9 95.4Q247.8 96.9 248.2 99.2M256.3 180.5Q253.6 182.5 250.3 181.5M253.6 183.7Q251.6 185.5 249.3 186.8M282.5 100.1Q284.8 102.3 286.7 104.8M298.7 145.9Q295.8 150.3 296.7 155.4M242.1 160.6Q239.7 165.1 235.0 167.2M288.0 105.5Q285.2 106.2 283.3 108.4M281.7 114.7Q279.3 118.6 275.9 121.5M212.0 143.3Q214.4 145.4 215.0 148.5M241.3 153.8Q240.2 157.8 238.9 161.7M303.3 137.5Q297.8 142.1 293.0 147.5M237.9 114.2Q232.0 113.7 226.4 115.7M214.4 141.9Q218.3 144.4 222.9 144.5M269.7 166.1Q274.0 168.7 278.8 170.7M303.8 147.7Q305.9 149.5 306.3 152.3M253.8 100.0Q255.6 103.0 255.5 106.5M207.7 156.0Q208.7 157.9 210.8 158.4M268.9 147.8Q272.8 152.9 279.3 153.1M300.9 89.5Q299.0 89.6 297.3 90.3M260.6 180.3Q259.1 181.2 257.7 182.2M283.1 176.0Q281.6 176.6 280.0 176.1M248.3 137.4Q251.0 138.6 254.0 139.0M268.6 185.8Q267.0 187.1 265.1 188.0M262.9 143.8Q264.7 144.8 265.2 146.8M242.0 123.2Q239.2 124.4 237.5 127.1M271.6 100.2Q270.3 104.7 268.7 109.0M215.6 90.2Q209.0 91.2 205.4 96.8M245.0 116.0Q243.0 118.4 242.0 121.3M224.9 184.8Q224.8 186.7 226.0 188.2M266.9 132.2Q261.6 135.9 255.7 138.4M220.4 96.5Q218.8 97.5 217.1 98.3M200.8 138.7Q207.0 141.0 213.0 143.9M292.1 145.8Q287.3 151.6 288.6 159.1M245.2 97.3Q248.2 100.7 252.5 102.1M216.7 151.1Q218.5 158.3 221.1 165.4M225.0 105.4Q218.9 109.3 215.6 115.8M205.6 156.1Q211.5 156.7 217.2 158.5M224.8 93.7Q226.2 95.6 228.4 96.4M230.9 183.0Q230.6 185.3 231.8 187.4M291.2 101.3Q285.6 104.1 283.8 110.0M229.0 150.3Q229.1 156.8 233.5 161.5M236.1 99.6Q234.1 100.8 233.6 103.1M217.1 179.5Q219.8 185.6 225.0 190.0M239.9 138.8Q241.8 142.8 242.6 147.2" stroke="rgb(184,184,184)" stroke-width="0.5" fill="none"/>
<path d="M268.6 149.1Q268.2 151.5 266.3 153.0M224.0 114.4Q230.3 113.8 234.5 118.4M225.4 153.6Q225.7 155.2 226.4 156.6M222.9 137.1Q218.7 143.1 212.6 147.3M305.5 136.0Q304.6 139.3 305.5 142.6M263.4 133.6Q258.3 136.7 253.1 139.8M276.8 146.8Q274.8 147.3 273.3 148.5M281.3 109.5Q279.1 115.0 280.7 120.7M268.3 96.7Q267.8 101.9 264.7 106.1M250.2 179.3Q246.1 184.5 239.5 184.7M262.2 97.9Q263.2 101.2 262.1 104.4M273.7 129.6Q273.7 131.5 272.6 133.0M254.8 164.3Q256.0 171.0 259.3 176.8M223.0 136.3Q219.7 140.8 220.8 146.4M254.6 176.0Q255.8 182.4 251.7 187.5M202.6 116.7Q206.2 119.7 208.7 123.6M265.2 109.4Q263.2 116.8 257.1 121.4M282.7 146.3Q285.8 147.1 288.6 148.9M219.6 168.4Q227.0 168.7 234.4 169.0M292.0 149.4Q296.3 152.5 297.0 157.8M236.5 181.7Q238.7 182.1 240.5 183.4M272.5 168.9Q272.9 173.8 274.4 178.6M293.1 153.9Q295.1 153.8 296.6 154.9M279.9 99.5Q281.2 103.4 279.6 107.2M217.2 177.5Q219.6 178.3 221.8 179.5M281.8 93.9Q280.8 95.6 281.0 97.5M261.1 154.6Q258.9 155.8 256.4 156.3M248.5 161.4Q255.6 162.1 262.7 163.3M289.8 165.8Q288.2 167.5 286.0 168.1M228.3 104.0Q224.2 108.5 219.5 112.4M271.3 126.1Q266.3 124.3 261.4 126.3M203.4 112.2Q205.9 111.8 207.8 113.4M272.2 153.2Q269.9 154.7 268.2 156.8M209.3 120.1Q211.7 123.6 211.3 127.7M265.7 96.3Q264.3 96.9 262.7 97.0M295.3 91.5Q295.5 95.8 292.6 99.0M237.8 151.8Q236.0 155.3 236.3 159.2M281.1 172.1Q282.6 172.8 283.7 173.9M278.5 148.1Q281.4 150.9 281.4 155.0M260.4 145.0Q253.4 144.1 246.9 146.9M199.4 169.7Q205.2 170.8 211.0 171.7M286.8 168.2Q292.9 171.8 295.0 178.5M221.9 183.6Q218.2 184.7 215.8 187.8M293.7 165.3Q294.0 166.9 295.0 168.1M255.7 161.2Q250.2 166.3 243.4 169.3M218.4 134.5Q224.2 133.2 229.9 135.3M281.5 113.0Q277.8 115.8 273.2 115.7M210.6 162.5Q207.7 169.4 201.7 173.9M267.5 168.7Q268.9 169.6 269.2 171.2M265.0 175.1Q262.1 181.1 256.7 184.8M270.6 158.0Q275.1 163.7 280.2 169.0M202.4 141.1Q206.5 147.0 208.0 154.0M272.9 161.0Q278.5 165.9 278.2 173.4M271.0 175.4Q271.8 179.3 275.5 181.1M224.6 174.8Q229.4 176.1 234.2 177.5M303.9 152.9Q303.5 154.4 304.1 155.9M245.1 126.7Q244.7 128.8 244.9 131.0M209.5 123.3Q210.9 123.9 212.3 124.4M210.8 112.8Q208.8 112.9 207.2 114.0M249.7 127.4Q251.1 128.3 252.4 129.2M215.9 105.0Q220.4 110.0 226.4 113.2M218.7 110.4Q220.3 111.4 220.6 113.3M280.1 178.1Q285.5 179.9 291.2 179.1M218.4 130.3Q218.9 135.0 222.4 138.1M268.6 144.5Q272.2 144.5 275.0 146.6M249.1 156.6Q251.1 159.6 250.2 163.0M301.4 127.9Q304.8 128.9 306.8 131.8M227.8 175.3Q228.0 176.8 228.8 178.1M254.5 178.3Q255.4 185.2 257.4 191.9M219.9 184.2Q221.8 186.9 224.9 188.1M305.0 127.7Q304.7 130.1 302.7 131.5M256.0 113.2Q252.9 114.9 250.9 117.8M270.8 89.1Q271.2 91.3 270.0 93.2M233.5 88.6Q234.4 90.6 235.8 92.3M212.3 168.0Q215.6 173.9 220.2 179.1M275.5 179.7Q276.1 181.3 275.1 182.7M249.2 100.9Q243.5 102.1 239.6 106.4M258.2 100.8Q255.7 102.5 252.9 103.7M281.1 154.2Q281.4 156.0 282.9 157.1M285.7 156.8Q286.8 157.9 288.0 159.1M232.5 88.1Q237.0 89.2 241.0 91.3M304.0 134.8Q301.5 135.0 299.5 136.5M227.6 167.9Q224.2 173.0 218.8 175.9M283.9 146.1Q290.2 150.0 297.5 148.9M283.8 138.0Q282.9 142.2 279.4 144.8M215.3 114.0Q217.3 120.2 223.0 123.3M212.5 159.6Q209.1 163.1 206.7 167.4M210.4 143.9Q210.2 146.2 211.7 148.0M258.2 149.1Q260.5 151.3 260.5 154.5M227.7 183.0Q227.8 184.8 226.3 185.9M234.6 136.6Q233.3 137.3 232.0 138.1M211.4 133.3Q212.6 135.5 212.0 137.9M270.8 107.5Q270.2 109.5 268.3 110.4M296.6 178.0Q300.2 179.2 304.1 178.6M272.6 86.8Q268.5 92.5 264.0 97.9M274.5 159.4Q277.5 158.8 280.4 159.9M261.4 153.6Q264.2 157.6 265.4 162.3M267.7 103.8Q265.2 104.5 263.6 106.7M276.0 173.2Q283.1 171.1 289.6 174.6M218.3 154.9Q223.7 158.0 229.9 158.0M221.2 90.9Q217.2 89.8 213.5 91.8M230.9 166.9Q233.6 169.6 234.0 173.4M205.7 92.7Q207.4 92.4 209.1 92.9M238.8 151.8Q238.3 154.7 240.0 157.0M208.6 101.7Q211.4 102.1 212.9 104.3M292.9 90.4Q293.5 96.0 297.7 99.9M237.2 130.6Q239.5 135.6 239.4 141.1M273.3 166.9Q270.2 167.2 268.0 169.4M227.6 94.9Q226.3 96.2 224.4 96.4M274.6 111.8Q270.7 115.4 271.1 120.6" stroke="rgb(184,184,184)" stroke-width="0.6" fill="none"/>
<path d="M277.3 180.1Q274.8 182.8 274.4 186.4M250.0 141.9Q247.4 148.5 250.7 154.7M245.3 168.7Q243.2 169.3 241.0 169.1M270.8 94.8Q267.9 100.3 268.9 106.5M262.1 175.0Q260.3 174.8 258.7 175.4M245.0 118.9Q243.8 122.2 243.4 125.7M223.0 136.7Q224.0 138.0 225.6 138.4M240.5 86.8Q238.7 90.7 238.8 95.0M221.4 181.6Q226.2 180.9 231.0 181.9M202.4 150.2Q208.9 154.1 211.8 161.1M228.3 176.6Q223.8 179.1 218.8 177.8M243.2 115.5Q243.9 117.1 243.9 118.9M247.7 160.2Q240.9 158.8 235.7 163.3M282.7 181.5Q275.8 180.6 270.4 185.1M272.2 116.7Q269.7 116.8 268.1 118.6M224.4 124.3Q223.2 125.6 222.5 127.1M219.1 145.0Q224.5 147.1 230.0 148.9M288.6 173.9Q287.3 174.7 285.8 175.4M279.9 134.6Q280.2 140.7 279.3 146.8M300.1 120.5Q301.4 123.2 302.0 126.0M258.5 138.2Q264.8 136.5 270.9 138.9M247.1 148.2Q247.7 150.8 249.3 152.9M286.8 148.0Q285.3 153.4 287.7 158.4M216.7 135.2Q222.0 138.3 227.6 136.0M254.9 139.0Q260.2 142.0 263.3 147.2M239.4 152.3Q235.9 152.1 232.7 153.3M282.3 140.9Q278.9 146.2 276.1 151.9M243.3 169.8Q246.4 174.6 247.7 180.3M245.5 103.7Q248.2 105.1 251.2 105.0M291.9 156.5Q294.8 155.6 297.4 157.1M240.9 99.9Q242.0 104.6 239.9 109.1M277.1 181.5Q279.0 186.9 276.9 192.2M303.3 142.0Q301.5 142.4 300.7 144.2M297.8 154.9Q295.2 155.4 292.7 155.7M289.9 184.2Q288.6 185.3 288.4 186.9M301.4 125.0Q302.2 127.9 300.7 130.5M210.8 131.3Q208.5 131.9 206.4 133.0M214.9 168.5Q214.1 173.4 210.8 177.2M283.8 178.6Q281.6 180.7 280.3 183.4M268.7 142.2Q267.9 143.7 266.3 144.1M306.4 127.4Q303.7 129.5 300.4 128.8M303.4 124.7Q304.8 126.1 305.1 128.0M250.2 125.3Q251.7 125.6 253.2 125.9M241.3 178.4Q236.3 183.1 232.9 189.0M299.8 155.2Q297.7 157.2 296.4 159.8M223.2 123.2Q224.9 123.2 226.7 123.3M294.4 170.0Q301.9 171.2 306.8 177.0M209.1 154.4Q209.0 157.0 207.2 158.9M292.3 158.0Q294.0 165.5 300.6 169.4M254.0 109.0Q253.9 110.6 254.1 112.3M300.9 103.2Q298.9 104.3 296.7 103.7M236.8 143.0Q239.4 143.7 241.8 145.1M234.7 125.5Q234.0 128.2 235.5 130.5M302.6 111.4Q305.8 111.2 308.3 113.1M254.9 107.8Q256.6 111.2 260.0 112.8M227.6 153.8Q230.0 156.9 230.3 160.8M288.9 110.5Q292.1 110.2 294.7 112.1M244.4 178.2Q239.2 177.4 235.1 180.7M237.4 90.1Q240.7 95.8 239.0 102.1M209.8 87.7Q212.8 90.8 216.0 93.8M260.3 165.8Q266.9 169.8 270.3 176.7M250.5 177.7Q248.3 178.7 246.1 179.6M289.6 149.7Q293.5 155.2 296.1 161.4M259.8 165.6Q255.7 166.4 251.5 165.9M255.3 130.2Q253.6 130.1 252.4 131.3M219.6 117.8Q221.3 118.2 223.0 118.6M209.1 89.4Q209.9 91.3 211.8 92.0M224.4 167.8Q224.2 170.1 222.7 171.9M284.9 135.7Q287.0 137.8 287.9 140.6M256.5 100.0Q259.0 103.3 263.0 103.9M288.6 164.1Q284.6 169.9 277.6 170.9M282.4 98.2Q287.5 100.7 290.1 105.8M276.9 135.2Q274.4 137.3 273.5 140.5M228.1 158.4Q227.4 160.0 227.6 161.7M254.1 156.0Q257.3 155.8 260.1 157.2M292.5 181.6Q292.8 183.5 293.9 184.9M271.7 111.5Q270.6 112.6 269.3 113.5M248.2 181.4Q245.0 183.4 241.3 183.6M273.6 117.3Q274.9 119.0 276.9 120.1M224.8 97.6Q230.8 99.2 234.3 104.3M268.9 164.3Q262.4 167.4 256.9 172.0M246.2 119.0Q247.2 121.4 247.2 124.0M276.6 148.1Q275.7 150.3 273.7 151.5M266.8 108.5Q268.9 109.2 270.9 109.9M286.4 139.6Q286.2 144.1 282.6 146.8M307.2 146.6Q303.3 147.3 300.2 150.0M271.6 125.2Q266.4 125.2 261.7 127.6M281.7 127.4Q281.2 133.4 280.7 139.5M276.4 149.0Q278.5 148.6 280.4 149.6M234.5 137.2Q233.0 138.4 231.2 139.0M235.0 142.4Q232.9 142.2 231.4 143.6M276.4 138.5Q273.9 142.2 269.7 143.6M271.8 154.8Q273.4 156.2 275.6 156.8M251.8 155.3Q251.2 162.7 249.2 169.9M258.3 179.8Q255.2 181.5 252.9 184.2M243.3 169.2Q241.8 170.2 241.2 171.9M216.3 143.6Q214.1 147.4 211.2 150.6M254.7 84.0Q253.4 90.2 254.8 96.3M215.9 167.0Q213.7 172.2 214.3 177.9M234.2 141.6Q235.3 144.4 234.8 147.3M244.7 176.9Q240.6 177.7 238.7 181.4M234.5 95.8Q232.5 97.5 231.2 99.7M214.1 150.6Q210.9 157.2 205.0 161.5M288.6 167.0Q293.1 168.9 297.7 170.9M242.1 137.0Q244.1 144.0 247.7 150.3M273.1 123.8Q273.6 129.9 278.3 133.8M276.3 136.7Q273.0 139.7 268.8 140.9M280.5 103.7Q279.2 105.0 277.4 105.0M286.1 113.6Q278.8 111.7 271.5 113.8M239.3 105.6Q240.3 106.8 241.0 108.2M241.3 186.0Q238.5 185.3 235.7 186.1M264.9 159.6Q267.8 160.6 270.9 160.8M228.6 169.4Q227.9 172.8 226.7 176.1M297.6 106.7Q294.6 110.3 291.0 113.4M237.4 140.4Q238.6 141.5 240.2 142.0" stroke="rgb(184,184,184)" stroke-width="0.7" fill="none"/>
<path d="M224.1 156.4Q242.0 176.1 258.0 197.5" stroke="rgb(185,185,185)" stroke-width="0.5" fill="none"/>
<path d="M244.5 131.0Q253.0 143.6 264.1 153.9M271.2 123.4Q255.0 128.4 238.1 129.7M206.0 139.0Q218.9 150.8 230.2 164.1M191.9 101.5Q207.3 108.3 220.8 118.4" stroke="rgb(185,185,185)" stroke-width="0.6" fill="none"/>
<path d="M238.4 143.0Q252.5 145.0 266.7 143.8M286.8 99.7Q293.9 114.9 304.8 127.7M248.0 126.5Q242.9 138.6 238.5 150.9M281.0 164.8Q303.3 168.1 325.4 172.8M228.6 78.9Q212.9 99.6 193.0 116.4" stroke="rgb(185,185,185)" stroke-width="0.7" fill="none"/>
<path d="M292.2 99.6Q294.3 102.4 295.5 105.7M281.8 154.6Q280.3 158.9 282.3 162.9M243.5 110.9Q244.8 113.0 247.0 114.2M243.9 141.7Q239.5 144.7 234.4 143.0M292.0 88.8Q291.2 90.6 289.3 91.2M293.6 156.4Q289.1 161.2 287.1 167.4M257.6 119.9Q259.5 124.3 258.0 129.0M283.7 125.4Q289.0 130.8 289.0 138.4M305.7 93.8Q300.8 97.8 294.8 99.9M292.2 128.6Q290.6 128.7 289.2 129.2M222.6 152.4Q226.1 158.9 229.8 165.3M274.7 139.6Q274.5 141.5 274.2 143.4M274.8 165.6Q271.2 168.3 270.9 172.9M218.2 165.3Q219.2 166.6 219.7 168.2M225.5 125.8Q228.7 127.6 232.2 126.4M244.3 95.0Q239.5 95.7 235.5 98.5M275.9 115.3Q269.9 117.0 263.8 116.5M256.6 122.7Q255.3 123.6 253.7 123.6M226.4 168.1Q226.1 172.3 224.6 176.2M269.3 172.5Q275.5 175.4 282.3 175.2M272.3 113.6Q272.5 115.7 273.8 117.5M247.8 126.3Q254.2 128.5 261.0 128.2M240.5 115.8Q241.9 118.4 243.9 120.6M207.5 162.9Q212.9 166.6 219.2 165.0M218.1 109.0Q220.4 111.1 222.0 113.8M287.1 150.6Q288.1 152.0 289.1 153.4M246.0 91.5Q246.2 93.3 247.6 94.5M294.8 131.1Q295.7 132.4 295.5 134.0M211.0 174.5Q212.2 176.0 212.4 178.0M213.0 165.8Q215.4 170.8 213.0 175.9M213.3 121.4Q214.3 124.6 216.5 127.1M263.7 178.3Q264.4 179.7 265.2 181.0M250.6 184.7Q248.8 185.8 247.8 187.5M305.4 137.3Q303.6 140.9 300.7 143.6M265.3 173.3Q267.5 173.2 269.1 174.7M211.7 135.3Q213.4 139.6 215.0 143.8M230.6 171.9Q230.5 179.5 226.4 185.9M204.1 137.6Q206.3 143.0 206.8 148.9M243.4 116.0Q247.9 121.2 251.4 127.0M285.4 130.6Q288.7 130.3 291.9 130.9M228.4 140.8Q226.7 140.8 225.3 141.7M289.3 103.1Q285.5 105.0 281.5 103.5M231.1 124.0Q238.9 125.2 243.9 131.2M307.8 178.9Q304.5 186.3 297.0 189.3M241.1 132.5Q238.4 133.3 236.4 135.3M218.8 123.1Q219.3 127.9 220.1 132.7M275.0 104.7Q269.2 109.4 264.3 115.1M243.1 164.3Q244.9 167.5 248.4 168.1M219.3 183.8Q214.5 187.5 208.5 188.4M212.1 119.8Q209.7 119.8 207.8 121.2M221.8 110.3Q222.2 112.4 223.7 113.9M210.3 109.3Q207.7 112.3 205.3 115.4M232.6 95.7Q229.4 98.6 225.0 98.3M207.1 100.2Q209.4 100.7 211.7 100.3M221.2 168.8Q225.0 171.0 228.2 174.0M294.4 131.7Q294.2 134.6 294.4 137.5M247.8 169.8Q245.6 172.1 244.0 174.8M263.4 119.7Q265.6 119.5 267.3 121.0M266.7 139.7Q266.1 143.3 267.9 146.4M247.0 98.3Q248.8 99.4 250.9 99.3M260.8 130.2Q262.3 130.9 262.8 132.5M248.5 180.6Q252.0 186.5 254.4 193.0M276.1 102.2Q277.7 103.0 278.9 104.4M272.1 153.1Q266.8 157.8 259.7 159.0M304.3 114.3Q302.1 114.0 300.2 115.2M250.3 112.7Q257.4 111.9 263.2 116.0M231.5 104.1Q230.8 105.9 230.8 108.0M292.7 110.2Q297.2 110.4 300.1 113.9M222.4 121.9Q217.9 122.7 214.7 125.9M208.3 148.7Q211.0 149.4 213.8 150.1M267.0 92.9Q265.9 93.9 264.7 94.8M249.3 128.6Q245.4 130.7 241.0 130.8M257.9 154.8Q263.2 155.8 268.6 155.7M215.6 160.5Q214.3 163.6 212.0 165.8M272.1 163.5Q272.7 165.5 274.1 167.1M298.3 129.6Q300.0 131.0 302.3 130.9M224.6 88.7Q227.3 90.6 229.8 92.6M307.8 107.8Q305.2 108.6 302.6 109.1M300.1 177.5Q301.6 178.9 303.5 179.2M273.8 146.2Q277.0 151.4 282.6 153.7M270.7 176.5Q266.4 182.6 259.2 184.4M261.2 93.0Q265.1 91.5 268.8 93.5M216.9 178.3Q210.7 178.0 205.5 181.6M221.1 124.6Q219.6 127.4 219.4 130.6M256.9 151.7Q258.3 153.0 258.4 154.8M270.1 124.1Q268.5 124.7 267.1 125.7M248.9 110.8Q249.9 112.3 250.3 113.9M260.0 162.5Q260.0 166.4 259.4 170.2M267.3 155.2Q266.6 156.6 265.2 157.5" stroke="rgb(204,204,204)" stroke-width="0.5" fill="none"/>
<path d="M215.5 147.1Q219.6 150.2 224.3 152.3M294.6 156.8Q298.6 158.8 300.6 162.7M236.1 130.0Q243.7 127.4 250.5 131.5M274.2 155.9Q274.1 157.7 275.4 159.1M208.9 178.0Q209.5 180.0 210.0 182.0M244.4 153.0Q248.9 155.5 252.1 159.5M296.8 177.7Q294.1 177.2 292.1 179.0M248.9 104.3Q252.6 107.3 255.0 111.3M278.0 95.7Q276.1 97.3 274.1 98.6M249.1 113.8Q247.8 117.2 249.2 120.6M281.5 180.7Q283.8 180.0 285.9 180.9M219.5 108.8Q224.7 114.6 232.2 116.5M250.1 179.3Q247.4 179.8 244.6 179.6M249.3 106.5Q249.2 110.3 252.2 112.8M294.0 151.1Q292.3 154.1 289.5 156.2M262.1 143.6Q265.3 147.7 268.2 151.9M262.5 124.4Q263.0 126.1 263.8 127.6M262.7 113.2Q258.7 116.1 253.8 116.3M280.1 160.1Q277.2 161.1 274.1 161.4M254.2 176.4Q255.1 177.8 256.5 178.7M245.4 101.3Q243.6 102.7 241.9 104.2M264.4 150.8Q269.7 155.0 270.3 161.9M273.9 163.3Q280.3 166.8 286.5 170.8M219.6 152.1Q221.1 153.1 222.4 154.4M213.1 153.3Q218.3 158.1 223.6 162.7M227.3 114.3Q228.3 118.2 229.6 122.1M275.7 95.1Q269.3 95.1 264.1 98.9M293.2 116.0Q292.9 121.6 292.9 127.2M255.2 127.0Q259.7 125.3 264.3 127.0M230.9 170.1Q230.3 177.1 226.8 183.2M255.5 155.3Q257.8 160.2 256.6 165.5M216.9 122.2Q216.9 126.9 213.3 130.0M221.7 156.7Q222.6 163.4 221.0 169.9M243.6 113.0Q244.3 114.9 244.4 116.9M295.7 168.0Q298.3 173.8 302.9 178.1M213.4 92.4Q212.0 97.5 210.3 102.5M294.1 136.4Q300.4 134.6 305.6 138.4M203.6 115.1Q205.6 117.6 208.4 119.0M245.1 176.8Q246.3 181.4 249.9 184.5M268.2 93.6Q270.6 95.5 273.7 96.3M211.3 110.9Q210.8 112.7 209.9 114.4M232.7 123.1Q230.8 130.0 234.4 136.2M225.9 165.7Q219.3 169.3 211.8 168.7M219.7 140.8Q219.0 145.8 220.8 150.5M226.1 144.6Q229.7 148.1 234.5 149.4M250.6 167.1Q250.2 172.1 247.1 176.1M243.7 138.3Q241.7 141.5 241.8 145.3M241.4 148.5Q243.1 149.8 245.2 149.2M232.3 120.0Q231.4 121.9 231.0 123.9M252.1 172.9Q259.3 173.1 266.5 173.8M288.0 120.5Q285.1 122.1 281.9 121.4M291.2 128.7Q290.0 132.1 287.1 134.0M280.7 144.6Q284.1 144.6 287.4 144.9M229.1 138.5Q232.3 138.5 235.6 138.6M279.3 121.1Q279.0 124.2 280.4 127.1M256.1 173.0Q256.1 174.5 255.7 176.0M245.3 101.9Q246.6 103.5 247.5 105.3M243.7 176.8Q245.1 178.1 245.8 179.9M301.8 100.1Q304.3 104.5 307.6 108.5M277.0 156.8Q276.0 160.2 276.3 163.6M232.6 178.8Q234.9 182.9 235.6 187.5M261.6 95.7Q257.9 97.6 253.9 97.0M225.6 100.3Q224.9 102.1 223.7 103.5M296.7 142.3Q297.5 146.6 300.5 149.7M206.7 181.5Q208.9 181.8 211.1 181.8M232.9 146.5Q231.6 148.3 230.2 150.0M234.7 149.1Q228.3 150.1 222.5 152.9M215.2 172.6Q217.9 174.5 220.3 176.7M263.2 100.3Q261.1 101.4 260.0 103.5M287.8 123.0Q290.4 127.6 291.4 132.8M287.6 102.8Q287.7 104.8 288.9 106.3M219.8 176.7Q222.3 180.1 225.8 182.6M250.0 111.0Q245.4 112.3 242.5 116.0M214.8 154.0Q208.5 153.8 204.4 158.7M268.9 183.1Q262.8 185.5 256.6 187.2M286.0 164.8Q285.6 168.0 286.8 170.9M219.0 170.9Q221.2 170.7 223.4 170.9M278.8 121.6Q278.5 124.5 277.6 127.3M233.3 172.3Q230.1 172.8 227.3 174.5M215.8 110.5Q217.8 117.2 218.8 124.3M266.4 168.9Q260.1 168.5 253.9 169.7M218.5 121.3Q217.1 122.7 215.2 123.0M271.5 95.8Q273.9 96.5 275.0 98.9M241.4 161.6Q239.1 163.7 236.1 164.6M212.6 158.0Q215.1 156.9 217.6 158.1M250.3 154.5Q248.5 153.9 246.9 154.8M281.7 139.2Q277.1 141.4 275.1 146.2M220.0 172.7Q221.5 175.8 224.4 177.8M220.8 117.5Q218.8 118.6 217.9 120.6M300.7 144.4Q300.8 151.0 298.2 157.2M260.5 103.8Q262.5 104.7 264.6 104.6M207.8 181.0Q204.2 183.2 203.8 187.4M294.1 146.9Q298.2 151.0 297.6 156.7M217.1 92.7Q216.4 94.9 215.2 96.8M217.2 185.1Q220.4 186.3 223.7 187.2M229.3 176.8Q231.2 177.2 232.6 178.6M291.9 140.3Q292.5 143.7 295.0 146.2M234.0 156.3Q234.6 159.2 237.0 161.0M205.6 115.4Q207.6 115.2 209.2 116.5M266.6 124.4Q261.6 123.4 256.6 124.6M258.9 171.9Q256.0 173.0 253.5 174.7M271.6 97.2Q267.7 99.1 266.2 103.2M212.4 89.9Q213.6 93.9 214.6 97.9M285.2 120.3Q286.9 127.6 283.8 134.5M215.4 178.5Q212.8 179.6 209.9 179.7M293.5 101.8Q293.5 103.9 294.9 105.4M228.0 168.5Q232.6 170.3 237.5 169.2M199.7 106.1Q205.0 110.0 211.3 108.2M289.8 117.2Q286.9 118.7 285.6 121.7M248.9 116.9Q251.9 122.3 254.3 128.0M223.5 169.9Q222.5 171.7 221.9 173.7" stroke="rgb(204,204,204)" stroke-width="0.6" fill="none"/>
<path d="M227.1 144.1Q225.7 147.0 224.6 150.0M211.4 142.1Q214.5 143.4 216.7 146.0M213.3 134.2Q210.7 135.8 208.0 137.0M266.3 115.6Q265.0 116.5 263.4 116.5M234.2 126.2Q226.9 128.1 223.6 134.8M233.5 106.7Q231.6 107.3 230.7 109.1M254.9 168.5Q253.3 168.8 251.7 169.4M296.6 152.0Q299.8 152.8 302.0 155.3M288.1 108.2Q290.8 108.3 292.8 110.1M269.5 89.6Q266.4 94.6 265.7 100.4M237.6 146.8Q239.1 153.5 235.0 159.1M303.8 179.6Q297.5 179.4 293.2 184.0M258.0 112.1Q257.6 113.9 256.1 115.1M238.0 179.5Q234.9 181.3 232.6 184.0M261.8 84.6Q257.9 90.7 253.3 96.3M209.0 139.4Q203.9 143.0 203.3 149.1M293.0 158.5Q291.7 160.4 289.7 161.8M285.4 160.5Q283.3 165.6 282.0 170.9M263.6 178.4Q265.2 179.1 265.7 180.7M293.8 129.3Q291.4 130.2 290.6 132.6M235.9 144.7Q234.0 144.1 232.3 145.2M262.6 138.7Q260.3 140.8 257.2 140.5M232.4 167.6Q235.5 168.8 238.5 170.3M216.9 110.3Q217.0 112.3 216.3 114.3M216.0 141.1Q217.7 144.6 220.9 146.9M252.5 107.9Q252.2 111.7 249.7 114.5M210.7 91.6Q213.0 92.8 215.5 93.5M290.8 108.0Q290.6 110.4 289.2 112.3M253.5 133.8Q250.8 139.6 246.8 144.7M270.6 132.0Q267.6 133.6 265.2 136.0M225.3 104.2Q225.5 111.2 222.4 117.5M269.1 154.5Q276.2 156.6 283.4 154.7M224.8 152.6Q226.0 153.7 227.6 153.5M217.7 144.2Q216.4 145.1 215.7 146.6M210.1 165.3Q206.8 167.2 203.6 169.1M262.7 109.2Q263.1 111.8 262.8 114.4M240.1 143.0Q239.9 145.0 240.0 147.0M225.9 120.0Q222.7 126.0 217.9 130.8M294.1 154.3Q292.3 157.5 290.2 160.7M223.4 166.3Q225.6 167.5 226.6 169.7M275.6 97.5Q275.7 99.3 275.9 101.1M213.1 139.6Q213.4 141.7 213.0 143.8M291.3 97.5Q284.6 95.4 278.8 99.4M267.1 124.3Q273.0 126.8 276.2 132.4M241.8 93.3Q243.5 96.4 246.9 97.1M286.4 136.9Q286.3 143.7 282.5 149.4M229.0 146.9Q230.3 147.6 231.8 147.8M279.4 183.9Q280.3 186.7 282.2 188.9M265.9 107.8Q268.4 107.7 270.3 109.3M226.2 166.3Q228.2 167.6 229.5 169.6M223.1 171.3Q229.5 172.7 235.9 173.8M297.1 120.9Q302.2 124.5 305.5 129.8M263.8 102.4Q258.9 105.7 253.0 105.0M220.4 115.1Q222.0 121.5 225.9 126.7M291.2 122.0Q290.6 125.0 287.9 126.6M212.0 140.7Q208.7 143.2 205.6 145.8M294.2 127.2Q293.2 131.1 291.3 134.6M254.9 124.4Q247.6 122.6 240.6 125.3M231.4 102.8Q232.1 104.7 232.2 106.8M295.6 123.4Q295.4 129.4 294.2 135.4M220.0 102.3Q222.2 104.3 223.8 106.7M286.1 164.1Q280.1 163.0 275.3 166.7M304.1 96.7Q307.5 101.6 305.9 107.3M221.4 101.0Q223.0 104.6 223.4 108.5M257.7 125.2Q255.9 125.2 254.8 126.6M293.6 102.3Q291.7 107.6 293.8 112.8M273.5 103.8Q273.8 106.1 275.7 107.4M218.2 155.4Q212.3 158.9 208.2 164.3M297.6 91.0Q301.4 89.6 305.3 91.0M241.3 143.4Q237.0 145.1 233.4 148.1M199.8 160.9Q205.4 165.4 212.5 164.9M285.4 159.5Q277.6 160.5 273.7 167.3M243.5 158.6Q239.7 160.1 235.6 160.2M218.9 165.7Q216.9 166.6 214.8 167.2M228.0 96.9Q226.9 98.6 226.2 100.6M248.5 135.9Q247.8 139.5 248.6 143.0M218.7 118.2Q221.7 119.0 223.6 121.3M237.9 164.3Q239.2 167.8 242.1 170.1M264.1 167.0Q257.8 169.7 251.4 171.9M301.4 151.3Q302.6 157.4 304.0 163.4M291.9 93.7Q287.2 95.8 281.9 95.4M256.3 139.6Q260.1 145.2 266.6 146.6M246.7 122.9Q252.2 127.0 256.5 132.4M295.0 181.8Q289.5 184.4 286.0 189.3M210.1 106.6Q211.5 107.2 213.0 107.5M275.1 163.9Q278.8 168.7 277.8 174.7M271.1 139.5Q272.5 142.7 273.8 145.9M218.9 116.1Q223.7 118.4 228.3 121.0M216.8 122.0Q215.3 123.5 213.2 124.1M231.6 168.0Q233.1 171.7 236.8 173.3M286.4 180.0Q287.4 181.4 289.0 181.8M246.6 173.2Q243.6 179.3 237.4 182.0M278.9 139.9Q283.2 143.8 287.4 147.6M289.0 116.0Q288.6 119.8 287.7 123.5M209.5 144.4Q208.1 145.7 207.9 147.6M250.6 125.7Q248.9 128.6 245.6 129.3M269.6 109.6Q271.2 111.6 273.4 113.2M212.6 123.1Q213.5 126.1 213.1 129.3M273.8 159.6Q267.8 161.8 263.5 166.6M219.0 116.7Q217.9 118.4 218.0 120.4M275.2 147.6Q275.4 150.4 275.1 153.1M241.8 156.4Q243.4 156.8 245.1 157.2M288.9 114.5Q287.5 115.5 286.5 116.9M252.5 85.4Q257.4 89.3 261.9 93.8M240.8 108.4Q236.6 108.7 232.4 109.1M247.1 132.8Q247.9 135.1 249.5 137.0M249.3 128.0Q252.6 133.2 255.5 138.6M290.7 134.2Q287.6 137.9 282.8 139.0M208.3 126.6Q212.7 127.1 216.8 128.6M290.9 112.9Q285.6 116.9 282.7 122.9M280.7 167.9Q277.3 169.4 275.4 172.7M291.2 184.3Q289.2 185.0 288.4 187.1M237.2 136.1Q240.3 138.4 243.5 140.6M290.8 130.7Q292.3 137.7 298.7 141.0M286.2 171.8Q285.5 176.1 286.9 180.2M211.8 119.3Q213.2 120.0 213.9 121.4M271.5 162.1Q273.3 163.5 275.3 164.6" stroke="rgb(204,204,204)" stroke-width="0.7" fill="none"/>
<path d="M247.9 179.1Q263.3 184.5 279.7 185.4M206.8 136.4Q217.4 140.7 228.7 143.2M292.3 173.0Q283.7 178.9 274.6 184.0M241.5 72.9Q245.6 98.5 249.5 124.2" stroke="rgb(205,205,205)" stroke-width="0.5" fill="none"/>
<path d="M248.0 100.4Q244.2 121.7 245.9 143.2M285.8 99.2Q264.4 108.7 245.5 122.3M291.3 159.2Q268.8 171.3 245.1 180.8M301.3 171.4Q291.1 179.0 282.1 188.0M186.9 111.2Q212.7 117.5 235.8 130.6" stroke="rgb(205,205,205)" stroke-width="0.6" fill="none"/>
<path d="M226.8 120.6Q242.1 138.8 257.6 156.7M240.9 147.2Q262.3 162.9 286.4 174.1M241.7 159.7Q240.9 178.9 243.2 198.0M241.1 124.8Q228.9 148.4 214.0 170.5" stroke="rgb(205,205,205)" stroke-width="0.7" fill="none"/>
<path d="M263.3 144.3Q267.0 145.3 270.8 145.3M256.2 108.3Q259.1 110.0 261.4 112.3M218.9 97.8Q219.2 103.4 216.8 108.5M221.0 161.2Q222.6 163.2 225.1 163.1M253.7 117.8Q248.1 121.2 243.8 126.2M214.2 144.4Q215.5 145.5 217.0 146.3M263.3 113.5Q264.1 118.7 262.0 123.4M248.1 99.5Q245.5 104.4 244.3 109.7M235.5 88.6Q235.1 90.7 236.3 92.6M229.3 130.3Q231.7 130.4 234.0 130.7M281.6 139.3Q284.0 145.5 281.6 151.7M214.6 163.2Q213.0 165.1 211.1 166.8M269.5 109.4Q271.6 111.2 271.6 114.0M205.7 162.3Q208.7 166.2 212.9 168.5M279.9 150.8Q282.3 151.9 284.8 151.5M227.5 136.5Q233.9 138.5 238.6 143.4M217.0 172.8Q214.9 173.2 213.9 175.2M292.9 129.9Q294.5 131.5 296.9 131.6M204.5 144.1Q209.4 145.3 214.5 145.8M280.0 174.5Q276.3 175.2 272.5 175.3M280.7 143.5Q287.8 145.5 292.3 151.4M221.4 103.7Q215.7 105.3 212.0 110.0M281.0 140.1Q279.5 139.4 277.9 140.2M271.8 134.6Q270.2 134.0 268.7 134.9M281.7 95.5Q279.0 95.1 276.6 96.4M255.1 136.7Q252.0 138.1 249.4 140.2M288.1 178.0Q288.5 179.6 288.3 181.1M207.3 125.1Q212.9 126.2 216.0 130.9M298.9 160.4Q299.4 162.1 298.4 163.6M252.6 122.0Q246.5 125.3 239.6 125.7M241.9 162.2Q238.8 164.3 238.1 168.0M301.2 164.2Q303.8 166.3 304.2 169.6M301.2 115.0Q298.6 118.0 299.3 121.9M240.4 109.6Q242.8 114.8 245.9 119.6M207.5 112.8Q215.0 114.1 219.9 120.0M217.9 169.5Q216.5 170.5 214.9 171.2M298.6 186.2Q300.1 187.1 301.5 188.2M235.2 116.8Q237.5 122.2 241.0 126.9M264.5 96.8Q265.7 97.6 266.7 98.8M232.4 85.0Q232.2 91.0 236.8 94.8M250.9 169.8Q248.2 170.1 245.5 170.0M308.3 158.4Q305.4 164.3 301.6 169.6M289.4 103.3Q291.0 105.3 292.3 107.6M269.4 117.4Q273.1 118.9 276.1 121.7M235.1 90.3Q231.2 93.5 226.4 94.1M239.5 153.8Q238.3 155.5 237.5 157.4M225.5 167.0Q222.7 171.9 218.5 175.8M225.5 184.0Q222.5 187.3 218.0 188.3M227.3 144.7Q229.6 145.9 232.2 146.5M220.7 130.0Q224.3 134.4 228.6 138.3M216.1 103.3Q214.7 105.9 212.1 107.3M248.9 146.9Q253.5 148.4 258.2 146.9M268.8 159.7Q271.2 164.4 271.5 169.7M274.1 170.0Q275.9 170.0 277.2 171.1M280.9 136.6Q287.1 140.3 288.7 147.3M303.0 122.6Q300.9 126.5 301.8 130.8M216.3 96.4Q218.4 100.2 217.7 104.5M296.8 120.7Q290.9 121.0 284.9 121.6M299.4 140.9Q299.7 145.2 298.5 149.4M221.7 174.7Q215.4 175.1 210.2 178.4M298.9 122.5Q300.6 123.8 302.7 123.7M209.9 140.3Q211.9 142.3 212.9 144.9M249.4 129.7Q248.5 131.0 247.3 131.9M215.9 106.3Q209.2 108.3 202.3 109.1M284.9 98.3Q289.0 102.7 293.8 106.0M234.2 162.8Q233.0 165.7 231.1 168.2M254.1 129.3Q250.3 129.7 247.5 132.3M263.0 143.7Q261.5 144.2 260.3 145.3M226.8 162.7Q232.3 164.2 237.0 167.3M217.4 123.7Q218.1 129.6 222.9 133.2M298.6 132.3Q296.7 135.0 293.6 136.0M231.8 115.2Q229.2 114.5 226.8 115.6M249.2 112.0Q254.1 116.5 256.0 123.0M229.7 148.2Q223.9 151.7 223.1 158.4M295.9 180.3Q295.0 185.0 292.1 188.7M208.2 95.2Q210.3 95.6 212.3 96.5M230.0 131.8Q227.5 136.3 229.7 141.0M246.9 110.4Q248.6 112.4 250.6 114.0M287.6 110.1Q283.8 115.5 284.5 122.0M247.9 151.2Q245.1 152.0 242.2 152.0M265.5 182.1Q269.0 183.1 272.6 182.3M248.7 138.6Q248.5 143.2 248.0 147.7M212.4 166.4Q216.5 171.3 219.3 177.1M203.9 107.3Q207.8 107.2 211.2 109.0M242.0 135.6Q245.4 138.5 245.6 143.1M233.8 119.5Q235.5 122.2 238.0 124.1M269.0 110.8Q270.5 113.1 271.9 115.4M274.8 174.9Q275.2 177.5 274.2 180.0M253.2 179.2Q252.4 180.6 252.3 182.3M224.1 96.6Q222.1 97.8 221.8 100.2M218.3 102.1Q213.8 104.3 210.6 108.0M229.1 175.1Q230.7 179.5 232.6 183.7M252.5 176.3Q249.8 176.1 247.7 177.7M257.3 152.2Q253.7 155.9 252.1 160.8M288.0 83.0Q290.0 90.8 286.0 97.6M279.8 137.3Q278.4 138.4 277.1 139.6M216.8 104.0Q217.5 105.9 216.8 107.8M278.8 95.7Q277.2 97.4 276.3 99.5M229.5 177.0Q226.2 178.1 223.1 179.6" stroke="rgb(222,222,222)" stroke-width="0.5" fill="none"/>
<path d="M279.2 111.1Q281.5 116.0 285.0 120.1M219.3 134.8Q216.7 135.2 214.7 136.8M239.9 156.8Q238.8 158.0 237.6 158.8M252.8 107.3Q253.9 110.5 252.3 113.4M229.2 125.7Q227.5 126.4 225.8 127.2M287.1 176.6Q285.1 178.2 284.5 180.6M295.4 165.4Q291.4 167.8 287.5 170.2M229.6 90.9Q223.3 93.2 216.6 92.6M224.6 96.3Q222.8 98.4 221.3 100.9M245.4 116.9Q244.0 118.7 242.0 119.7M268.3 135.6Q269.5 137.2 270.8 138.8M284.6 122.5Q286.6 123.1 287.5 125.0M288.4 115.6Q288.8 117.9 288.6 120.1M207.6 163.5Q214.0 167.8 215.5 175.4M297.4 165.6Q294.5 170.8 289.7 174.3M270.5 99.6Q265.2 102.9 259.0 103.2M210.6 131.5Q209.1 133.1 206.9 133.1M274.4 112.0Q267.5 113.4 260.5 112.9M262.9 127.5Q260.8 128.1 259.0 129.3M292.4 103.1Q288.9 104.0 285.3 104.8M284.1 133.3Q284.9 135.3 284.0 137.3M244.3 123.0Q240.4 124.4 237.0 126.8M271.8 93.1Q273.1 96.1 274.5 99.1M261.2 148.0Q256.2 148.8 252.1 151.9M292.2 123.3Q295.6 127.8 298.4 132.7M290.8 106.5Q292.5 107.0 294.1 107.6M247.9 163.5Q253.6 165.0 255.9 170.4M283.6 173.7Q278.1 176.3 276.2 182.2M230.1 93.9Q233.6 97.1 238.3 96.2M223.7 164.9Q221.5 167.5 220.4 170.6M274.3 113.9Q271.6 114.9 269.5 116.8M223.4 119.8Q223.3 122.4 221.5 124.3M243.8 144.6Q241.2 150.2 238.7 155.8M287.7 113.8Q286.8 118.7 288.4 123.5M284.5 149.9Q282.7 156.4 284.7 162.8M223.6 165.7Q222.2 168.2 221.2 170.9M227.3 136.4Q228.8 136.9 230.3 136.5M283.5 156.0Q280.4 160.0 276.8 163.5M296.8 103.3Q296.1 108.0 296.1 112.7M248.6 109.3Q249.0 111.2 248.1 112.9M277.8 151.8Q273.9 153.2 271.5 156.7M262.6 133.3Q262.5 135.3 263.9 136.8M282.9 169.1Q280.8 170.9 280.7 173.7M271.4 154.9Q276.9 157.7 278.5 163.7M254.9 100.4Q252.9 102.2 250.2 101.9M297.6 184.9Q297.2 186.6 298.3 188.0M273.5 182.3Q271.5 183.9 268.9 184.2M274.5 93.6Q274.4 101.1 270.5 107.5M284.9 147.5Q288.2 146.5 291.5 147.6M298.9 176.9Q292.9 177.2 289.4 182.1M239.6 117.0Q245.5 120.3 248.5 126.3M257.5 114.7Q250.1 112.3 242.9 115.3M201.9 101.7Q205.3 105.8 208.6 109.9M227.5 104.4Q230.2 105.0 232.2 107.0M228.4 167.6Q228.5 174.1 232.7 179.0M290.4 181.1Q292.2 181.6 293.8 182.4M229.1 94.8Q229.6 99.2 230.4 103.6M235.9 156.5Q237.2 158.9 238.8 161.2M236.0 138.7Q234.0 143.7 230.3 147.6M252.1 115.6Q252.6 117.3 252.2 119.0M292.4 149.4Q292.2 153.6 291.4 157.8M215.7 115.0Q218.6 118.1 222.1 120.4M297.1 178.5Q292.5 179.2 288.7 181.6M221.4 102.5Q220.7 109.5 222.0 116.5M278.9 140.2Q284.4 144.5 288.3 150.3M215.7 165.9Q207.8 165.2 201.1 169.5M277.0 122.8Q277.8 126.6 280.1 129.6M237.4 175.2Q238.0 178.8 240.6 181.3M235.4 151.2Q233.1 151.5 230.8 151.8M275.5 104.6Q277.9 108.8 278.8 113.6M296.1 107.0Q297.7 109.0 298.3 111.5M250.7 153.7Q253.9 154.0 256.8 155.1M255.3 140.0Q257.3 141.3 259.7 141.7M252.1 90.0Q253.7 92.4 256.4 93.4M282.0 119.5Q276.8 121.7 271.1 121.5M235.6 133.0Q236.1 134.5 236.2 136.1M296.6 158.9Q300.3 160.8 303.6 163.2M221.6 181.1Q226.2 186.6 232.1 190.8M272.5 181.4Q270.9 184.0 269.2 186.5M224.7 127.0Q226.1 129.8 226.3 132.8M304.1 184.0Q305.2 186.1 306.7 187.8M302.0 105.3Q299.8 109.2 300.3 113.7M288.9 175.5Q284.7 175.3 280.9 177.2M251.1 142.2Q255.2 143.6 259.1 145.8M275.3 122.9Q279.5 123.5 282.0 126.9M239.6 102.2Q238.4 103.8 237.9 105.8M296.3 113.8Q295.5 115.3 294.9 117.0M220.2 96.0Q220.8 97.5 221.0 99.0M246.0 107.7Q247.9 115.0 252.2 121.2M250.7 137.5Q249.0 141.3 250.7 145.2M267.0 174.6Q265.7 178.5 262.0 180.5" stroke="rgb(222,222,222)" stroke-width="0.6" fill="none"/>
<path d="M274.1 131.3Q281.0 132.0 285.7 137.2M228.4 116.3Q226.0 118.2 223.2 119.2M296.9 109.2Q295.1 113.2 295.0 117.6M258.4 102.0Q259.4 103.5 260.7 104.7M211.9 143.3Q210.9 148.9 212.2 154.5M302.1 174.0Q299.6 176.6 296.0 176.8M211.8 139.3Q212.4 141.4 213.6 143.2M284.7 123.4Q287.4 126.4 290.0 129.6M233.5 86.2Q233.1 92.0 234.1 97.8M252.9 164.6Q253.9 169.0 256.6 172.6M285.8 107.4Q280.6 108.5 275.7 110.4M289.9 152.4Q291.0 153.7 292.2 154.7M212.9 129.8Q211.4 130.5 209.9 129.9M274.0 138.6Q267.2 137.9 262.1 142.4M284.1 126.2Q286.6 132.6 288.3 139.1M206.6 107.0Q205.2 108.4 203.6 109.5M236.9 170.7Q241.4 170.1 245.0 172.9M254.7 111.6Q252.4 116.0 252.7 120.9M211.4 168.7Q207.8 170.4 203.8 170.7M225.9 160.6Q221.7 160.6 217.5 161.0M247.9 125.9Q252.2 128.3 253.5 133.0M281.7 118.3Q282.0 124.4 280.8 130.5M225.2 159.1Q223.1 160.3 222.5 162.8M268.6 107.4Q262.3 111.3 259.7 118.2M224.2 179.8Q223.2 181.6 223.3 183.5M266.5 93.5Q261.9 96.0 260.4 100.9M215.6 116.9Q214.3 121.4 210.6 124.3M257.8 111.9Q263.5 115.7 267.9 120.9M208.1 135.0Q212.6 137.2 217.5 138.4M213.4 117.8Q212.1 119.4 211.2 121.2M212.0 141.3Q211.1 147.7 206.3 152.0M248.0 148.7Q251.7 152.5 255.2 156.3M286.1 119.8Q284.8 124.6 281.3 128.2M221.0 121.9Q217.2 124.9 214.4 128.8M299.2 103.5Q298.7 108.7 295.7 113.0M277.2 113.6Q283.4 117.4 286.6 123.9M222.8 142.5Q226.2 142.5 228.5 144.9M301.7 150.2Q302.4 152.5 301.3 154.6M265.8 179.8Q271.4 183.3 275.6 188.5M284.1 179.2Q283.8 182.4 282.6 185.4M230.7 179.0Q233.9 181.7 234.3 185.8M230.7 154.3Q234.0 157.3 237.1 160.6M250.4 168.3Q251.9 172.9 251.7 177.8M250.4 172.2Q250.4 175.1 248.3 177.2M307.0 137.4Q304.5 139.4 301.3 138.8M215.0 98.9Q213.7 99.7 212.6 100.8M255.4 114.0Q258.9 112.6 262.2 114.3M269.6 127.9Q269.4 129.5 270.3 130.8M263.6 132.7Q258.8 133.5 253.9 134.0M234.5 113.3Q227.2 115.0 219.8 114.5M286.6 101.4Q292.1 103.6 293.8 109.4M249.1 91.0Q248.6 93.8 246.6 95.9M274.0 172.2Q276.0 177.2 273.5 182.0M262.5 148.7Q264.5 152.5 267.6 155.5M295.0 128.3Q296.7 128.0 298.1 129.0M229.6 185.6Q232.9 185.1 236.1 185.7M235.7 129.4Q230.1 134.1 223.2 136.1M218.3 101.3Q221.1 101.7 223.9 101.8M300.4 158.1Q300.0 160.5 298.5 162.4M291.0 142.1Q292.2 146.8 291.4 151.6M232.7 146.0Q235.6 149.0 239.8 149.0M292.0 116.2Q296.1 117.9 298.9 121.4M257.3 101.3Q258.6 102.2 260.0 102.9M279.5 123.8Q281.2 123.4 282.9 124.1M237.7 153.6Q238.6 154.9 239.9 155.9M248.8 119.2Q249.4 121.1 250.4 122.8M253.4 171.0Q255.0 174.8 254.2 178.8M240.2 117.6Q242.1 118.7 242.8 120.8M294.6 124.6Q293.1 126.2 291.5 127.5M239.5 175.7Q237.2 177.1 235.8 179.5M212.1 135.5Q214.6 138.5 216.9 141.6M266.6 95.6Q266.3 99.4 268.9 102.2M247.8 148.9Q254.2 150.2 259.8 153.4M216.0 127.4Q212.5 128.2 209.0 128.3M213.7 109.5Q213.0 114.4 212.1 119.2M224.9 121.4Q229.0 121.9 231.7 125.1M262.0 108.0Q256.0 109.9 251.5 114.3M300.1 138.6Q300.1 140.6 299.7 142.7M242.6 99.2Q240.2 98.6 238.3 100.1M203.2 145.5Q211.0 144.6 217.2 149.5M211.5 166.4Q205.4 169.2 198.7 170.1M302.8 140.5Q301.8 143.5 299.0 145.0M268.3 107.2Q269.7 109.7 269.3 112.5M255.3 148.2Q259.4 153.9 265.0 157.9M260.3 114.4Q262.8 115.3 264.9 116.9M245.5 93.7Q241.8 95.5 238.5 98.0M219.2 165.0Q222.4 166.3 225.7 166.7M241.1 120.5Q242.4 125.7 239.6 130.2M253.5 97.1Q258.2 99.3 263.1 97.9M285.6 135.1Q285.1 137.8 284.3 140.3M239.7 122.4Q241.7 123.8 243.2 125.7M230.5 116.5Q228.7 119.6 225.2 120.3M254.5 127.1Q259.2 131.7 263.9 136.4M210.5 177.2Q214.4 177.0 218.3 177.7M263.5 133.7Q264.9 136.9 263.9 140.2M299.5 185.7Q301.2 186.6 302.5 188.1M246.3 170.9Q247.4 177.8 253.3 181.5M216.9 114.8Q221.1 120.5 227.2 124.1M291.4 121.7Q294.3 124.2 294.2 128.1M244.3 88.0Q250.9 88.8 256.7 92.0M236.3 169.5Q240.2 173.9 246.0 173.5M211.4 177.2Q205.6 181.1 199.1 183.9M254.5 157.8Q251.9 158.7 249.6 160.2M221.8 138.8Q224.1 145.4 221.2 151.7M215.5 137.0Q216.8 137.9 218.3 138.7M299.5 145.3Q299.7 149.2 298.8 153.0" stroke="rgb(222,222,222)" stroke-width="0.7" fill="none"/>
<path d="M278.3 147.0Q284.3 172.7 289.0 198.6M285.3 85.0Q284.7 100.0 283.7 114.9M223.4 159.3Q214.4 169.1 207.3 180.4M288.0 113.3Q275.3 114.0 262.7 116.4M222.6 127.2Q216.4 149.4 209.3 171.4" stroke="rgb(225,225,225)" stroke-width="0.5" fill="none"/>
<path d="M230.3 115.6Q210.1 121.9 192.6 133.8M210.7 127.2Q226.8 147.5 239.6 170.0M277.5 180.7Q287.1 186.5 297.5 190.5" stroke="rgb(225,225,225)" stroke-width="0.6" fill="none"/>
<path d="M213.6 152.5Q207.6 168.1 205.6 184.6" stroke="rgb(225,225,225)" stroke-width="0.7" fill="none"/>
<path d="M277.6 125.2Q278.5 126.8 280.2 127.5M250.8 88.6Q251.9 90.4 253.5 91.9M262.0 104.1Q263.0 105.6 264.4 106.5M293.6 89.5Q300.8 90.7 306.9 94.5M210.8 129.8Q211.1 136.5 215.9 141.2M237.7 119.3Q234.3 120.8 231.4 123.1M283.9 120.1Q282.4 121.7 280.9 123.3M202.3 172.1Q205.5 174.8 208.8 177.2M228.8 172.2Q228.3 174.3 228.6 176.5M247.4 126.9Q248.9 130.2 249.6 133.7M243.0 106.1Q238.4 106.1 235.2 109.5M282.3 174.3Q280.5 176.0 279.6 178.3M301.8 112.7Q300.6 114.0 300.1 115.7M218.3 158.6Q210.6 155.8 203.7 160.2M304.6 106.6Q298.6 109.6 291.9 110.8M275.3 158.7Q279.8 161.5 284.7 159.5M264.2 134.8Q266.8 136.3 267.3 139.2M212.9 172.8Q209.9 175.4 209.9 179.3M299.0 140.1Q295.2 142.1 292.6 145.6M205.0 89.3Q206.8 91.2 206.6 93.7M245.3 142.8Q247.5 143.7 249.7 144.5M307.2 133.7Q300.0 136.6 295.7 142.9M285.6 184.1Q282.0 185.1 278.3 185.9M219.2 164.3Q218.4 166.6 216.5 168.1M303.4 153.1Q303.0 154.7 302.1 156.0M221.7 141.7Q219.9 144.8 220.9 148.2M241.5 183.9Q241.8 185.5 242.8 186.9M288.2 157.3Q288.8 160.1 287.8 162.9M230.6 100.6Q233.2 101.0 235.5 102.1M291.5 107.8Q291.9 109.3 292.2 110.9M269.6 89.0Q273.6 92.4 278.8 93.8M261.6 153.8Q259.5 160.9 253.2 165.0M235.1 101.1Q233.3 102.1 231.7 103.3M210.8 174.3Q207.6 176.3 203.9 175.4M271.5 96.8Q274.7 96.3 277.1 98.4M245.0 163.2Q248.9 162.8 251.8 165.5M273.9 150.5Q278.6 152.7 281.6 157.1M257.6 118.9Q261.6 121.5 264.1 125.5M233.3 152.4Q228.3 158.3 227.3 166.0M264.4 142.3Q268.3 142.2 272.2 142.3M248.4 168.5Q245.4 174.3 246.3 180.7M291.6 162.5Q289.8 163.8 287.7 164.2M230.9 117.3Q232.7 116.8 234.3 117.6M243.0 107.1Q241.1 113.8 244.8 119.7M249.2 138.5Q253.6 142.5 255.4 148.2M262.3 156.4Q269.8 158.1 274.8 164.0M254.0 158.9Q256.0 158.7 257.7 159.8M258.5 144.2Q256.3 144.2 254.2 144.8M266.0 115.7Q270.4 115.6 274.0 118.0M215.3 178.1Q213.0 182.9 208.4 185.4M229.7 131.5Q229.3 135.6 231.9 138.9M269.0 181.3Q271.3 182.4 273.1 184.2M256.9 106.1Q253.9 107.1 251.2 108.8M206.3 106.7Q205.7 111.7 204.0 116.5M299.4 131.0Q293.3 133.7 286.7 132.7M209.6 124.3Q205.8 124.1 202.2 125.0M304.7 155.9Q300.6 156.1 297.2 158.3M253.4 85.6Q252.4 92.9 256.0 99.4M240.2 164.5Q237.3 165.8 236.3 168.7M236.8 90.2Q236.2 92.0 234.5 92.6M272.0 148.1Q270.1 150.0 269.8 152.6M243.1 180.1Q244.6 183.8 243.0 187.5M296.8 171.8Q297.4 176.2 295.2 180.2M303.7 180.5Q304.9 185.8 305.4 191.2M209.4 165.3Q208.5 167.1 208.1 169.1M287.0 121.8Q288.8 126.4 293.3 128.5M291.0 132.4Q291.0 134.8 292.5 136.7M277.2 183.8Q276.8 187.0 277.7 190.1M277.5 176.4Q277.4 180.6 275.3 184.3M269.9 137.3Q270.2 140.9 271.1 144.5M274.5 92.2Q275.8 93.1 277.0 94.0M277.3 129.9Q276.1 136.4 274.7 142.8M223.8 120.3Q228.3 124.4 232.5 129.0M281.9 150.2Q285.4 150.6 287.5 153.6M284.7 168.6Q282.0 170.1 279.1 170.8M209.1 125.7Q211.2 130.2 211.9 135.2M300.1 156.1Q301.0 159.7 304.3 161.4M282.7 90.4Q282.4 92.7 281.7 94.9M273.3 151.5Q274.9 153.2 276.1 155.1M279.5 169.1Q276.4 173.1 276.3 178.1M249.9 167.5Q254.0 169.2 258.4 168.8M222.0 178.9Q223.9 178.8 225.6 179.5M251.0 135.3Q251.7 136.7 252.8 138.0M292.6 112.1Q292.6 114.6 292.2 117.0M285.6 115.9Q281.4 119.1 277.5 122.7M286.4 151.3Q290.7 153.0 294.6 155.5M278.1 163.3Q280.1 162.9 282.0 163.9M231.8 98.4Q237.0 100.2 241.0 103.9M225.4 126.2Q227.1 125.5 228.8 126.3M304.6 124.0Q303.1 126.5 300.3 127.6M244.6 130.7Q244.8 133.2 245.6 135.6M214.6 175.6Q215.5 179.9 217.3 183.8M271.6 158.4Q267.0 160.4 262.3 158.8M260.1 153.7Q262.8 154.1 264.3 156.3M246.5 118.4Q242.7 123.0 237.1 125.1M261.2 173.8Q256.7 178.6 251.4 182.5M216.0 88.2Q212.8 94.6 213.9 101.8M243.6 133.0Q243.9 135.9 243.3 138.7M300.5 99.5Q299.9 101.6 298.3 103.1M257.1 169.2Q259.2 172.2 259.7 175.8M233.7 121.8Q238.6 122.2 242.9 124.5M235.4 88.0Q233.9 93.6 229.1 96.8M217.6 149.9Q212.8 153.1 207.0 152.4M303.8 141.0Q302.0 141.0 300.7 142.3M301.9 158.8Q297.7 161.9 292.5 161.1M222.7 97.2Q219.5 100.6 214.9 101.4M303.1 162.3Q305.6 163.3 306.6 165.7M268.8 96.7Q266.7 100.9 265.8 105.5M286.1 118.6Q287.8 125.8 292.5 131.5M234.8 169.6Q233.0 169.7 231.2 169.7M211.7 94.5Q209.6 96.2 208.4 98.7M235.4 168.9Q231.5 174.0 228.0 179.4M247.3 166.6Q249.1 169.6 252.6 170.1M220.9 158.0Q223.0 158.9 225.1 160.0M214.0 82.8Q217.0 89.8 216.3 97.3" stroke="rgb(240,240,240)" stroke-width="0.5" fill="none"/>
<path d="M261.8 183.8Q264.0 186.9 265.6 190.4M276.9 113.9Q278.4 115.5 280.6 115.5M239.3 163.3Q240.7 166.3 243.9 167.0M301.8 175.1Q303.7 178.6 305.3 182.3M302.9 155.4Q305.5 154.4 308.0 155.7M242.2 180.9Q241.0 184.0 240.2 187.2M293.0 149.7Q290.5 153.7 288.6 158.0M264.9 106.9Q269.2 105.5 273.2 107.7M223.6 93.5Q219.8 94.4 217.4 97.5M301.3 179.6Q298.7 180.1 296.1 179.9M270.9 154.1Q272.4 154.6 273.4 155.9M277.6 158.2Q276.3 160.2 274.5 161.9M204.9 105.8Q209.7 110.1 215.9 109.0M279.5 108.8Q278.7 110.4 276.9 110.8M246.8 175.2Q248.3 175.3 249.9 175.5M279.1 159.0Q277.6 161.8 275.2 163.9M218.6 144.9Q223.5 148.5 225.5 154.3M273.4 113.6Q268.6 115.7 263.4 114.5M247.6 109.7Q242.8 114.9 235.9 116.4M223.3 172.6Q226.4 179.0 231.0 184.6M236.9 123.2Q233.6 128.0 233.0 133.8M230.6 114.2Q223.7 112.2 217.4 115.5M273.8 175.9Q278.6 177.8 282.8 180.6M270.2 94.2Q264.0 94.5 258.2 96.8M292.8 118.3Q289.6 118.3 287.5 120.7M216.1 151.9Q221.0 151.9 225.9 152.2M232.4 176.4Q230.5 178.0 230.6 180.4M277.3 115.1Q284.3 113.5 290.4 117.4M276.5 172.5Q276.8 174.5 275.5 176.1M268.7 157.9Q271.0 164.7 267.0 170.7M269.7 119.8Q266.1 121.7 264.9 125.6M287.2 99.2Q292.2 101.3 293.9 106.4M215.6 125.9Q212.9 130.1 211.4 134.8M270.0 102.3Q270.9 103.7 272.3 104.3M274.0 100.8Q272.5 101.7 272.0 103.4M210.6 138.0Q212.8 138.7 214.9 139.4M235.4 179.5Q242.5 179.2 247.8 183.9M280.2 103.6Q281.7 105.1 283.7 105.8M220.1 174.4Q218.0 175.8 215.4 175.9M289.4 157.6Q289.8 162.2 292.6 165.9M274.8 158.0Q276.4 157.6 278.1 158.1M267.7 158.2Q271.6 162.0 274.1 166.8M299.7 172.6Q296.2 179.7 297.6 187.4M286.5 101.8Q286.1 103.8 285.3 105.7M244.7 103.2Q238.0 107.0 230.2 107.0M215.4 87.2Q214.7 90.3 213.5 93.3M257.5 168.2Q259.5 167.4 261.4 168.3M228.6 134.9Q232.5 138.4 233.4 143.5M285.4 103.1Q282.9 105.4 281.5 108.5M269.3 142.6Q269.8 145.2 268.4 147.3M263.0 139.6Q266.3 140.4 269.4 141.6M247.4 134.8Q242.9 137.4 240.5 142.0M264.7 174.6Q262.1 174.7 260.2 176.5M239.4 96.4Q246.0 96.3 250.7 101.0M237.5 180.1Q237.9 183.0 240.2 184.9M222.1 90.1Q226.9 90.7 229.4 94.9M216.6 179.0Q214.6 183.3 210.1 184.3M298.4 166.3Q295.1 166.8 292.4 168.8M224.9 157.2Q226.8 160.8 230.8 161.6M296.3 143.5Q297.4 148.5 298.8 153.5M289.4 101.7Q289.9 105.4 292.8 107.7M212.2 127.4Q213.6 128.7 215.4 128.8M279.0 98.8Q274.7 103.5 272.2 109.3M205.9 148.7Q206.8 150.1 208.5 150.3M269.6 94.0Q271.1 96.9 273.9 98.5M232.2 110.8Q230.1 111.4 229.0 113.4M231.8 91.4Q234.2 93.2 236.3 95.5M240.8 119.5Q242.7 123.8 245.4 127.6M277.3 117.1Q281.5 122.7 286.8 127.3M267.7 162.3Q271.4 164.7 275.8 164.4M223.9 110.1Q222.8 111.8 221.8 113.6M271.2 166.2Q268.4 166.3 265.9 167.5M272.0 151.7Q275.0 154.9 278.5 157.6M285.1 155.6Q280.9 160.9 274.3 162.1M278.3 149.4Q281.0 151.5 284.3 152.5M213.6 107.3Q217.0 114.2 216.3 121.9M304.0 106.2Q299.9 109.7 299.4 115.1M272.2 107.6Q278.8 110.0 285.8 108.8M244.3 122.1Q245.7 125.7 246.8 129.4M253.9 153.0Q256.3 156.8 260.7 157.4M253.2 107.6Q249.3 107.7 245.5 108.5M243.8 95.7Q241.4 97.4 238.6 97.2M301.6 92.1Q300.9 93.6 299.5 94.6M236.1 100.8Q239.5 102.7 240.8 106.3M208.2 126.5Q207.2 129.2 204.5 130.2M237.6 169.2Q234.0 175.6 230.9 182.2M270.9 140.5Q269.1 144.5 271.1 148.5M291.4 114.2Q284.8 114.4 278.2 114.8M230.3 176.3Q228.5 177.7 227.6 179.8M269.6 177.6Q275.3 177.4 279.3 181.5M239.3 123.0Q238.3 125.8 239.1 128.7M258.6 125.7Q253.9 130.1 249.3 134.7M269.5 165.4Q272.8 168.0 274.4 171.9M273.7 132.6Q271.6 133.9 269.4 135.1M235.0 142.6Q236.6 144.8 236.4 147.4M224.7 155.0Q228.7 156.6 233.1 156.5M225.2 132.8Q228.1 134.3 231.2 135.4M289.5 93.9Q287.2 96.0 284.5 97.5" stroke="rgb(240,240,240)" stroke-width="0.6" fill="none"/>
<path d="M234.0 130.7Q231.4 132.6 229.6 135.3M285.8 113.6Q279.1 113.4 272.9 116.0M296.6 142.3Q301.9 141.7 306.2 144.8M283.2 177.9Q284.4 179.1 284.4 180.7M291.0 169.0Q288.0 174.2 282.8 177.3M286.9 114.1Q287.2 119.2 288.0 124.3M205.3 162.1Q207.1 161.6 208.9 162.2M237.9 172.7Q236.0 173.2 234.0 173.0M287.7 150.9Q286.6 154.7 287.5 158.6M246.4 155.2Q247.6 157.4 248.2 159.9M240.3 164.8Q242.9 164.3 245.5 165.2M236.7 121.9Q239.5 125.7 238.3 130.3M269.2 112.4Q265.0 118.1 258.0 119.0M262.5 97.8Q260.6 97.2 259.0 98.3M252.9 165.2Q252.5 171.4 248.3 176.0M258.9 114.4Q255.9 117.2 251.9 117.3M303.6 136.7Q299.6 140.0 294.5 140.2M304.6 135.8Q301.7 134.5 299.0 135.9M271.8 127.8Q277.9 130.4 284.4 129.3M218.8 128.6Q222.2 132.9 224.8 137.8M236.6 126.8Q232.4 126.4 228.4 127.5M226.1 94.2Q226.1 98.0 226.5 101.8M207.9 159.3Q206.1 161.9 203.8 164.2M209.8 134.3Q209.2 136.2 208.3 138.1M224.2 135.0Q230.2 135.0 235.3 138.2M225.3 113.0Q217.9 112.6 210.6 113.6M205.8 126.6Q210.7 128.9 215.8 127.0M268.2 125.9Q260.9 129.3 258.2 136.9M291.4 178.0Q292.3 183.1 295.3 187.2M242.6 171.0Q235.1 169.6 228.9 173.8M227.5 93.4Q228.8 94.5 229.1 96.2M271.9 164.4Q272.3 168.6 272.2 172.8M279.8 119.4Q279.4 121.3 277.9 122.4M282.8 150.0Q284.5 150.8 284.9 152.5M214.9 147.2Q217.8 150.3 218.7 154.4M265.5 104.9Q263.2 108.8 261.9 113.2M298.5 126.2Q300.0 127.8 299.7 129.9M229.6 152.3Q227.0 155.0 225.3 158.3M204.3 97.9Q205.8 98.7 207.5 98.1M241.9 131.1Q248.4 132.5 255.1 133.1M268.6 143.5Q265.4 144.7 263.8 147.7M238.4 101.7Q237.6 103.5 235.8 104.2M228.5 87.6Q235.6 89.1 239.0 95.5M207.9 142.0Q205.9 142.7 204.3 144.1M216.6 139.2Q216.0 142.8 215.9 146.4M219.7 88.4Q218.4 91.9 217.3 95.5M294.6 97.0Q292.5 97.5 290.8 98.9M246.5 167.7Q252.1 171.8 257.6 175.9M206.1 152.6Q205.4 154.0 204.0 154.9M288.6 108.8Q282.6 106.8 277.2 110.2M254.8 111.7Q248.2 110.9 242.3 113.9M209.0 175.6Q208.6 177.2 207.1 178.0M263.1 103.7Q261.2 105.2 259.9 107.1M219.8 101.0Q219.1 102.6 219.2 104.3M253.1 175.4Q252.7 177.0 252.3 178.7M228.4 161.8Q229.6 162.9 230.6 164.3M257.2 178.6Q260.6 178.6 264.0 179.0M216.5 106.0Q221.1 111.0 227.8 110.9M239.7 96.2Q237.4 96.6 235.2 97.6M251.5 115.5Q253.6 118.8 252.4 122.6M268.8 141.2Q271.0 141.8 273.2 142.1M265.8 96.6Q270.9 100.9 272.5 107.4M264.7 131.5Q265.0 133.4 266.3 135.0M207.4 166.0Q212.8 167.0 218.3 167.6M286.1 176.5Q282.3 178.9 279.1 182.2M221.1 172.0Q221.0 176.2 223.3 179.8M282.3 177.6Q281.1 179.5 281.4 181.8M276.0 92.9Q275.9 96.5 278.1 99.2M307.1 101.9Q304.6 102.3 302.1 102.3M292.6 171.5Q294.6 175.3 297.1 178.9M289.7 106.0Q290.6 107.7 292.5 108.1M206.9 152.0Q212.7 156.0 219.7 156.8M262.6 128.4Q268.0 133.3 274.4 136.7M236.1 138.2Q240.1 138.9 244.2 139.2M258.7 153.6Q261.1 154.0 263.5 153.8M306.0 137.9Q303.9 138.4 301.7 138.3M224.3 143.2Q222.6 143.8 220.9 144.8M280.8 116.2Q283.2 116.6 285.7 116.6M262.8 136.9Q268.8 141.4 276.2 141.3M270.1 174.2Q267.3 174.6 264.5 175.0M264.3 178.4Q259.5 182.3 254.6 186.1M205.9 88.0Q207.1 90.5 207.8 93.1M268.3 134.4Q264.5 137.8 260.6 141.2M208.1 126.1Q206.3 127.3 204.2 126.6" stroke="rgb(240,240,240)" stroke-width="0.7" fill="none"/>
</g>
<path d="M254.2 141.6a2.5 2.0 0 1 0 5.1 0a2.5 2.0 0 1 0 -5.1 0M240.6 180.1a4.6 3.7 0 1 0 9.3 0a4.6 3.7 0 1 0 -9.3 0M226.9 133.8a5.3 4.3 0 1 0 10.7 0a5.3 4.3 0 1 0 -10.7 0M234.7 164.9a2.4 1.9 0 1 0 4.7 0a2.4 1.9 0 1 0 -4.7 0M204.1 98.5a3.1 2.5 0 1 0 6.1 0a3.1 2.5 0 1 0 -6.1 0M230.5 172.4a2.3 1.8 0 1 0 4.6 0a2.3 1.8 0 1 0 -4.6 0M203.0 182.3a2.0 1.6 0 1 0 4.0 0a2.0 1.6 0 1 0 -4.0 0M276.1 100.0a2.4 1.9 0 1 0 4.9 0a2.4 1.9 0 1 0 -4.9 0M248.0 111.8a5.2 4.1 0 1 0 10.3 0a5.2 4.1 0 1 0 -10.3 0M257.4 126.0a2.1 1.7 0 1 0 4.3 0a2.1 1.7 0 1 0 -4.3 0M282.0 113.1a3.3 2.6 0 1 0 6.6 0a3.3 2.6 0 1 0 -6.6 0M296.8 181.3a4.1 3.3 0 1 0 8.2 0a4.1 3.3 0 1 0 -8.2 0M251.6 119.2a4.8 3.8 0 1 0 9.5 0a4.8 3.8 0 1 0 -9.5 0M203.9 109.2a3.3 2.6 0 1 0 6.5 0a3.3 2.6 0 1 0 -6.5 0M230.7 150.8a4.4 3.5 0 1 0 8.8 0a4.4 3.5 0 1 0 -8.8 0M253.2 135.3a2.1 1.7 0 1 0 4.2 0a2.1 1.7 0 1 0 -4.2 0M263.3 160.4a3.8 3.0 0 1 0 7.5 0a3.8 3.0 0 1 0 -7.5 0M206.0 137.7a2.2 1.8 0 1 0 4.4 0a2.2 1.8 0 1 0 -4.4 0M286.1 105.9a2.4 2.0 0 1 0 4.9 0a2.4 2.0 0 1 0 -4.9 0M264.3 116.6a4.6 3.7 0 1 0 9.2 0a4.6 3.7 0 1 0 -9.2 0M275.1 144.9a5.2 4.2 0 1 0 10.4 0a5.2 4.2 0 1 0 -10.4 0M286.3 144.7a5.2 4.2 0 1 0 10.4 0a5.2 4.2 0 1 0 -10.4 0M277.1 111.3a3.8 3.0 0 1 0 7.5 0a3.8 3.0 0 1 0 -7.5 0M287.3 149.9a2.1 1.7 0 1 0 4.3 0a2.1 1.7 0 1 0 -4.3 0M209.7 145.5a2.6 2.1 0 1 0 5.2 0a2.6 2.1 0 1 0 -5.2 0M249.4 108.0a2.8 2.2 0 1 0 5.6 0a2.8 2.2 0 1 0 -5.6 0M243.3 131.5a4.9 3.9 0 1 0 9.8 0a4.9 3.9 0 1 0 -9.8 0M243.7 113.6a3.8 3.0 0 1 0 7.6 0a3.8 3.0 0 1 0 -7.6 0" fill="#161616" opacity="0.6" filter="url(#poreblur)"/>
</g>
<path d="M232.3 139L277.9 120.8M232.60000000000002 140.1L278.2 121.89999999999999M259.6 186.4L296 133.5M259.90000000000003 187.5L296.3 134.6M241.4 91.6L265 110M241.70000000000002 92.69999999999999L265.3 111.1" stroke="#d6d6d6" stroke-width="0.75" opacity="0.7" fill="none" clip-path="url(#semclip102)" filter="url(#semblur)"/>
<ellipse cx="216" cy="106" rx="13" ry="11" fill="#000" opacity="0.28" filter="url(#softblur)"/>
<ellipse cx="291" cy="101" rx="12" ry="10" fill="#000" opacity="0.28" filter="url(#softblur)"/>
<ellipse cx="217" cy="150" rx="12" ry="9" fill="#000" opacity="0.25" filter="url(#softblur)"/>
<ellipse cx="293" cy="175" rx="11" ry="11" fill="#000" opacity="0.2" filter="url(#softblur)"/>
<ellipse cx="268" cy="140" rx="22" ry="14" fill="#fff" opacity="0.08" filter="url(#softblur)"/>
<rect x="205.0" y="187.2" width="100.5" height="10.100000000000023" fill="#fff"/>
<text x="206.5" y="189.8" font-family='"Liberation Sans", Arial, sans-serif' font-size="2.7" fill="#666" stroke="#999" stroke-width="0.15">HV: 10.00 kV</text>
<text x="228" y="189.8" font-family='"Liberation Sans", Arial, sans-serif' font-size="2.7" fill="#666" stroke="#999" stroke-width="0.15">WD: 7.20 mm</text>
<text x="252" y="189.8" font-family='"Liberation Sans", Arial, sans-serif' font-size="2.7" fill="#666" stroke="#999" stroke-width="0.15">SEM MAG: 50.0 kx</text>
<text x="285" y="189.8" font-family='"Liberation Sans", Arial, sans-serif' font-size="2.7" fill="#666" stroke="#999" stroke-width="0.15">VEGA3 TESCAN</text>
<text x="206.5" y="192.75" font-family='"Liberation Sans", Arial, sans-serif' font-size="2.7" fill="#666" stroke="#999" stroke-width="0.15">Det: SE 20.0 um</text>
<text x="228" y="192.75" font-family='"Liberation Sans", Arial, sans-serif' font-size="2.7" fill="#666" stroke="#999" stroke-width="0.15">View field: 4.15 um</text>
<text x="252" y="192.75" font-family='"Liberation Sans", Arial, sans-serif' font-size="2.7" fill="#666" stroke="#999" stroke-width="0.15">1 um</text>
<text x="206.5" y="195.7" font-family='"Liberation Sans", Arial, sans-serif' font-size="2.7" fill="#666" stroke="#999" stroke-width="0.15">SEM HV: 10.0 kV</text>
<text x="228" y="195.7" font-family='"Liberation Sans", Arial, sans-serif' font-size="2.7" fill="#666" stroke="#999" stroke-width="0.15">Date(m/d/y): 11/18/20</text>
<text x="206.10000000000002" y="21.8" font-family='"Liberation Sans", Arial, sans-serif' font-weight="bold" font-size="9.1" fill="#111" stroke="#111" stroke-width="0.15">(c) 17.5 mg/mL</text>
<g clip-path="url(#clipdish3)">
<ellipse cx="356.2" cy="56.3" rx="34.0" ry="32.3" fill="url(#dishg)"/>
<ellipse cx="356.7" cy="55.1" rx="24.82" ry="21.96" fill="#eceeee" stroke="#d6d8d8" stroke-width="0.8"/>
<circle cx="358.8" cy="60.9" r="10.1" fill="url(#redg3)"/>
<ellipse cx="356.2" cy="56.3" rx="34.0" ry="32.3" fill="url(#dishshade)"/>
</g>
<clipPath id="semclip103"><rect x="305.5" y="89.5" width="98.1" height="97.7"/></clipPath>
<g clip-path="url(#semclip103)">
<rect x="305.5" y="89.5" width="98.1" height="97.7" fill="#2a2a2a"/>
<g filter="url(#semblur)" opacity="0.78">
<path d="M396.0 116.2Q398.6 116.3 400.4 118.2M397.8 97.7Q397.6 101.5 399.5 104.7M392.8 107.1Q394.8 111.6 397.4 115.8M310.6 183.4Q309.2 184.2 307.7 184.7M390.1 137.8Q387.3 144.8 387.0 152.3M323.7 153.6Q323.3 155.9 321.9 157.8M393.3 98.8Q391.5 104.1 390.6 109.7M364.6 167.9Q364.7 170.2 366.1 172.1M328.4 125.9Q329.6 127.2 330.5 128.7M349.0 116.1Q346.5 119.0 342.8 119.9M333.1 144.9Q333.9 146.5 335.6 147.2M311.1 119.9Q312.1 124.8 312.4 129.7M334.2 140.9Q338.2 143.4 342.7 145.1M358.6 181.5Q356.1 181.7 354.5 183.6M322.1 121.0Q321.8 124.4 322.5 127.8M340.0 106.1Q338.5 109.0 338.4 112.3M329.0 170.8Q326.5 172.0 325.6 174.6M387.9 171.4Q388.9 172.7 388.5 174.4M396.6 179.0Q396.5 184.8 396.0 190.6M362.0 100.9Q363.9 101.9 366.1 101.8M360.2 107.6Q358.5 108.5 356.6 108.0M321.3 99.5Q322.0 101.0 323.7 101.3M310.7 125.9Q311.9 129.2 314.5 131.6M382.5 178.0Q377.5 181.4 371.6 182.5M366.7 139.1Q371.1 141.7 376.2 142.4M303.9 96.2Q306.7 96.5 309.6 96.2M360.3 174.5Q363.4 175.3 365.9 177.3M359.0 134.2Q357.7 136.8 356.8 139.6M363.0 143.1Q364.7 144.6 365.8 146.6M384.6 179.3Q386.5 179.7 388.0 180.8M339.6 146.8Q342.0 146.5 344.2 147.7M357.6 170.6Q353.7 172.0 349.6 170.8M396.7 117.9Q396.4 121.6 394.5 124.7M384.7 161.0Q384.5 166.5 382.9 171.8M330.4 94.7Q328.8 99.8 325.6 104.0M319.2 171.4Q320.2 173.4 322.3 174.2M396.0 148.8Q402.0 153.7 404.7 160.9M380.5 162.1Q381.5 169.5 383.2 176.8M377.4 89.5Q379.4 91.2 382.0 91.7M396.3 100.7Q395.7 103.0 394.6 105.2M326.3 129.9Q325.1 131.0 324.7 132.5M397.8 109.8Q395.9 112.4 394.9 115.4M329.6 158.8Q327.0 162.4 326.5 166.8M317.4 178.1Q319.7 180.4 320.8 183.5M320.0 139.1Q320.6 141.1 320.5 143.2M358.9 162.4Q357.1 163.7 354.9 164.1M400.9 154.3Q400.5 157.9 398.5 161.0M348.3 138.5Q355.5 140.7 362.2 143.9M330.6 171.3Q337.9 171.5 343.6 176.2M378.3 110.2Q378.0 111.7 377.7 113.3M313.9 164.2Q318.4 167.7 323.9 166.2M348.9 111.3Q355.5 110.5 362.1 112.0M402.5 145.7Q405.0 148.8 404.2 152.6M351.2 134.8Q352.6 135.9 353.5 137.4M377.2 161.2Q380.9 162.5 384.7 163.8M334.7 102.6Q337.7 104.4 338.2 107.9M332.7 146.8Q331.2 148.0 329.3 148.7M328.0 112.3Q326.7 113.4 325.1 113.7M335.0 184.0Q335.0 185.9 333.7 187.2M324.5 143.0Q320.8 142.2 317.8 144.6M389.5 108.1Q393.9 114.1 401.2 115.2M359.3 117.9Q357.4 122.0 354.0 125.0M322.0 130.9Q314.6 132.1 310.2 138.2M363.6 170.9Q366.8 177.1 365.7 184.1M346.5 172.0Q348.0 177.1 346.3 182.1M348.7 119.5Q346.3 124.4 348.6 129.5M310.4 148.4Q311.0 150.2 311.0 152.2M364.5 118.7Q361.8 122.7 363.2 127.3M334.6 132.9Q332.7 133.8 330.9 134.7M347.5 126.8Q343.6 126.8 339.8 127.9M359.7 166.6Q358.4 170.0 355.5 172.4M310.7 158.6Q312.5 160.9 315.2 162.2M336.7 133.1Q333.7 135.5 329.9 136.3M323.6 127.9Q323.7 129.7 323.2 131.3M390.6 160.4Q392.1 161.5 393.2 162.9M384.2 99.4Q380.1 106.0 372.7 108.5M372.2 141.5Q371.3 142.8 369.6 143.0M308.6 152.0Q310.1 158.8 312.6 165.2M394.8 113.1Q394.0 114.6 392.4 115.2M323.0 177.9Q329.1 181.8 332.0 188.4M388.7 148.9Q386.4 152.4 384.4 156.0M316.2 162.5Q310.1 163.6 304.0 163.0M313.9 119.9Q319.7 123.3 325.9 120.8M337.0 126.0Q336.0 127.4 335.4 129.1M333.1 127.8Q335.7 133.9 333.5 140.2M368.9 163.6Q372.0 168.1 374.2 173.1M398.4 144.5Q392.3 146.8 385.9 146.2M327.2 116.9Q330.3 120.8 331.5 125.5M342.7 184.2Q335.5 182.9 329.1 186.3M365.6 107.8Q367.5 109.5 369.9 110.4M365.6 117.3Q364.3 118.3 363.1 119.4M318.5 91.4Q317.4 95.7 313.7 98.2M401.2 121.3Q399.8 125.8 400.7 130.4M339.5 123.9Q338.2 125.5 336.2 126.1M316.4 109.5Q318.6 114.0 322.7 116.9M339.4 107.0Q337.4 111.2 334.0 114.5M349.3 105.8Q348.5 107.5 347.9 109.2M371.0 88.5Q376.7 88.6 381.6 91.5M341.8 177.0Q338.3 181.5 333.2 184.2M304.3 165.0Q307.9 170.7 308.9 177.3M401.6 114.1Q400.0 114.1 398.8 115.2M327.1 88.4Q327.9 90.1 329.6 90.8M319.5 168.2Q326.0 170.6 330.0 176.3M363.2 165.9Q356.4 168.3 349.4 170.0M309.1 170.1Q309.3 173.0 311.4 174.9M397.1 184.5Q394.5 184.9 393.2 187.2M354.6 132.2Q356.6 134.4 358.1 137.0M378.2 148.2Q380.2 154.4 383.5 160.1M394.8 156.2Q395.6 157.6 395.4 159.1M364.7 125.8Q367.1 127.4 370.0 126.8M318.1 93.2Q319.3 98.2 323.1 101.6M367.3 115.7Q374.4 118.4 381.9 117.9M303.5 106.3Q305.2 110.3 309.4 111.6M332.5 113.1Q327.9 114.5 325.0 118.5M360.2 92.1Q359.4 98.2 355.0 102.5M308.3 170.2Q306.3 170.2 304.4 171.0" stroke="rgb(140,140,140)" stroke-width="0.5" fill="none"/>
<path d="M404.3 136.0Q399.5 138.0 396.9 142.4M314.1 88.2Q313.5 94.5 316.0 100.3M325.9 142.1Q327.7 149.4 334.1 153.5M389.1 146.8Q390.7 153.4 388.9 159.9M312.4 152.0Q305.5 153.6 302.5 159.9M383.6 159.6Q383.8 166.8 388.7 172.1M321.8 144.9Q321.4 146.5 321.7 148.1M326.0 169.4Q328.4 169.8 330.9 169.9M305.7 136.2Q312.5 136.7 319.3 137.2M387.5 112.7Q384.8 115.5 382.0 118.2M355.8 180.0Q357.9 183.7 356.8 187.9M399.3 149.8Q397.6 151.7 396.4 153.9M391.7 182.0Q393.1 183.3 393.7 185.0M342.2 147.0Q338.7 150.8 334.7 154.0M365.4 183.5Q367.2 185.1 368.0 187.4M404.5 107.0Q402.6 108.2 400.9 109.5M397.8 181.3Q400.4 184.4 404.4 185.0M320.2 122.2Q315.3 125.6 309.4 125.3M386.6 122.0Q388.5 125.4 388.4 129.4M354.2 176.3Q355.9 176.0 357.3 177.0M373.6 118.9Q374.4 120.5 374.6 122.2M384.0 144.6Q385.4 145.5 387.0 146.0M325.7 173.6Q324.0 174.5 322.5 175.5M313.9 136.8Q317.2 143.5 323.5 147.3M388.3 132.0Q393.0 133.3 397.7 134.6M318.7 117.2Q314.5 120.1 310.0 122.6M367.4 183.7Q370.1 185.0 370.9 187.8M337.7 173.4Q334.1 173.1 330.6 173.8M390.3 177.8Q388.1 182.3 387.2 187.3M319.6 169.7Q314.0 174.6 314.2 182.1M337.6 151.9Q340.2 152.1 342.7 152.7M320.2 120.0Q323.4 121.9 325.7 124.8M341.3 122.4Q339.8 123.1 338.6 124.3M403.2 130.7Q402.1 132.2 401.2 133.9M387.0 164.7Q388.7 168.0 390.6 171.2M308.7 134.0Q316.2 132.5 323.2 135.8M331.7 93.1Q337.0 95.3 342.8 96.0M340.0 122.2Q333.2 124.6 326.3 122.4M400.3 162.3Q398.3 162.2 396.5 163.0M392.3 106.6Q394.0 108.5 395.6 110.4M345.4 176.6Q349.6 177.3 352.4 180.6M318.2 160.3Q320.9 164.9 324.4 168.9M347.1 167.4Q347.4 174.2 348.8 180.9M316.3 155.6Q314.7 159.4 311.8 162.4M330.5 169.5Q328.1 169.6 326.5 171.4M351.5 164.8Q349.0 168.2 345.3 170.1M354.8 157.9Q356.6 158.8 358.7 158.9M326.7 164.5Q322.8 169.2 317.6 172.4M318.1 138.7Q318.0 141.9 315.9 144.4M390.6 103.3Q388.5 109.1 386.4 114.8M402.4 102.0Q403.3 107.0 404.5 111.9M369.2 126.6Q363.6 130.4 356.9 129.7M376.4 142.4Q375.0 143.2 373.4 142.5M335.4 157.3Q338.4 159.9 342.5 160.4M337.6 135.2Q339.7 137.0 341.8 138.6M397.3 133.5Q398.2 137.1 399.8 140.3M354.6 160.2Q356.1 164.7 355.4 169.4M326.6 168.4Q324.3 168.7 322.6 170.2M317.9 91.7Q315.7 92.5 313.5 91.8M310.9 183.0Q312.6 184.2 314.5 184.8M320.7 165.1Q318.4 169.3 314.7 172.4M387.9 112.9Q393.2 114.0 395.9 118.8M322.2 139.6Q324.7 140.2 326.3 142.1M367.6 161.1Q367.6 163.2 369.3 164.6M323.0 117.1Q323.8 120.3 323.7 123.6M406.6 143.4Q401.7 146.1 396.2 147.4M363.8 140.6Q362.3 143.3 360.0 145.4M399.1 92.5Q400.8 94.7 403.5 95.5M345.8 173.3Q344.1 175.8 344.0 178.7M309.9 87.2Q309.3 92.6 305.3 96.3M363.6 111.6Q369.6 114.8 374.0 120.1M319.7 97.5Q318.6 99.7 317.0 101.4M320.6 152.1Q321.3 157.9 324.4 162.7M319.8 93.0Q317.8 93.0 315.9 93.3M307.0 128.3Q306.6 130.4 305.5 132.3M309.6 114.4Q308.1 115.7 306.0 116.0M367.5 177.3Q365.4 180.3 365.4 183.9M355.4 139.4Q356.6 140.8 357.7 142.2M305.8 117.0Q305.3 121.9 307.7 126.2M372.8 102.5Q366.5 104.4 364.2 110.6M403.8 142.4Q397.7 141.6 392.0 143.5M314.8 157.7Q316.4 159.0 318.5 159.0M405.5 145.6Q399.6 144.9 394.0 147.2M356.4 87.6Q356.0 90.3 357.7 92.4M397.5 180.1Q398.0 182.3 396.9 184.3M371.3 154.3Q369.6 156.0 369.3 158.4M348.6 161.1Q345.6 163.4 345.6 167.2M345.7 169.5Q342.0 172.8 337.4 174.7M367.7 115.3Q368.9 120.8 370.2 126.1M337.3 141.0Q342.4 143.1 347.1 146.2M352.5 173.0Q351.0 173.2 349.5 173.1M378.4 180.0Q380.4 186.2 378.1 192.3M385.6 126.4Q386.7 128.5 385.9 130.7M324.8 157.7Q326.2 158.5 326.9 159.9M363.7 113.1Q365.3 113.8 366.8 114.7" stroke="rgb(140,140,140)" stroke-width="0.6" fill="none"/>
<path d="M404.9 130.0Q402.7 135.0 398.2 138.2M386.9 117.9Q385.4 119.0 385.1 120.9M357.1 148.8Q358.9 149.3 360.4 150.3M323.6 115.8Q324.6 117.1 325.3 118.7M363.4 156.7Q365.3 160.4 364.1 164.4M306.7 153.0Q309.7 157.6 310.0 163.0M372.2 141.2Q371.0 146.4 366.4 149.1M344.5 121.0Q345.0 125.2 345.8 129.3M368.3 83.8Q367.6 90.0 368.9 96.0M340.1 145.8Q339.2 149.3 336.9 152.2M379.9 112.1Q377.1 113.5 374.1 113.9M354.8 175.4Q348.0 174.1 341.8 177.2M364.6 139.8Q362.2 142.1 361.5 145.4M385.3 172.0Q387.3 175.8 385.9 179.9M329.4 130.3Q328.4 136.6 325.5 142.2M395.7 91.1Q400.3 97.1 406.6 101.3M328.4 93.5Q330.7 95.4 333.3 97.0M310.1 183.5Q312.2 185.0 314.7 184.7M318.1 121.3Q321.1 121.0 323.9 121.8M334.0 123.1Q330.7 123.4 327.8 125.2M392.4 177.7Q394.4 178.6 396.5 177.9M387.9 100.0Q386.7 103.4 386.2 107.1M339.1 184.5Q340.5 185.5 342.0 186.1M382.7 162.0Q380.0 163.0 378.5 165.3M304.2 133.5Q306.4 133.1 308.5 133.6M335.9 119.9Q337.5 120.5 338.1 122.1M402.8 126.2Q402.0 131.4 400.3 136.3M325.9 110.3Q326.8 111.8 327.1 113.4M367.2 113.9Q365.2 117.6 363.7 121.5M398.8 156.5Q393.8 158.7 388.8 156.5M400.1 159.5Q399.4 162.2 399.4 164.9M369.4 111.3Q369.0 117.4 372.2 122.7M337.6 133.0Q339.3 136.7 341.2 140.3M364.6 167.1Q365.9 170.5 369.3 171.6M344.9 114.3Q342.2 116.7 339.7 119.2M391.4 139.9Q393.3 139.3 395.2 139.9M387.9 105.9Q390.2 105.9 391.6 107.8M371.6 122.9Q371.2 129.7 372.0 136.4M402.9 179.6Q400.1 179.1 397.4 180.2M386.1 128.1Q381.8 128.2 378.8 131.2M319.7 125.1Q320.0 126.8 319.0 128.2M406.0 177.2Q400.1 179.0 393.9 178.5M392.8 168.9Q391.8 170.3 390.0 170.6M329.2 86.3Q327.9 92.7 329.8 98.9M335.1 127.4Q334.9 129.2 335.0 131.1M341.6 120.7Q343.3 126.0 342.9 131.6M316.6 169.1Q310.1 172.3 305.5 178.0M345.6 151.2Q342.0 153.0 337.9 152.3M368.8 102.7Q375.8 105.3 379.6 111.8M318.2 166.3Q314.0 169.1 309.0 168.6M379.6 160.8Q378.0 162.0 376.1 162.7M347.6 155.4Q349.0 159.3 352.9 160.8M375.5 130.9Q373.6 136.4 368.8 139.8M382.5 90.1Q379.6 91.8 378.5 94.9M375.8 166.1Q377.0 170.0 376.1 174.0M303.7 90.8Q306.6 93.9 309.8 96.7M311.4 120.4Q308.1 125.5 306.5 131.4M337.8 143.2Q338.0 146.8 337.0 150.2M372.0 128.8Q374.2 129.3 375.1 131.3M323.6 124.4Q322.7 125.7 321.2 126.3M338.2 98.0Q334.8 100.9 332.5 104.8M349.5 118.9Q352.4 122.8 357.3 122.8M388.5 143.1Q383.3 144.3 378.0 145.1M350.5 134.3Q355.7 137.3 361.5 135.8M370.0 112.1Q369.7 114.7 370.7 117.2M321.0 115.1Q320.1 117.0 321.0 119.0M366.0 165.7Q367.3 167.1 367.7 169.0M369.1 124.3Q371.8 124.9 373.4 127.2M333.4 111.6Q334.0 118.1 334.0 124.7M315.1 146.6Q318.6 147.4 322.1 148.1M382.9 123.6Q380.4 127.8 375.6 129.0M306.2 177.0Q311.8 178.1 316.6 181.0M351.8 120.6Q356.9 125.3 363.9 124.8M339.7 138.0Q341.8 141.0 345.5 141.4M341.4 158.8Q347.5 159.0 351.2 163.7M312.4 172.0Q316.0 174.2 319.8 175.8M351.3 181.4Q353.8 183.1 355.8 185.3M339.3 141.6Q338.4 143.8 337.7 146.1M404.4 147.5Q399.6 148.2 394.8 148.8M322.5 90.0Q316.1 93.3 308.8 94.1M371.6 164.8Q367.1 163.4 362.8 165.5M333.9 101.3Q333.5 103.6 332.9 105.9M405.8 142.9Q402.0 146.0 400.2 150.6M373.0 171.2Q366.9 175.4 359.5 176.2M304.9 119.3Q305.8 120.5 307.2 121.3M366.9 101.5Q361.0 105.9 353.7 107.4M401.3 142.6Q402.1 145.7 401.9 148.9M334.4 115.2Q330.6 116.5 326.7 117.6M316.0 141.3Q317.0 142.5 317.6 143.9M308.7 88.1Q309.2 91.1 309.1 94.1M346.9 114.2Q346.3 116.3 345.8 118.4M367.0 101.9Q367.1 106.0 367.3 110.1M312.3 98.8Q314.9 100.6 318.1 101.1M378.5 183.5Q380.8 186.4 382.2 189.9M334.0 135.9Q335.6 135.8 337.2 135.9M381.8 96.7Q378.6 101.4 380.2 106.9M354.4 117.8Q357.6 120.4 359.1 124.1M386.8 181.9Q382.6 185.3 379.3 189.6M372.1 124.0Q375.2 125.7 376.5 129.1M379.3 164.2Q380.7 165.3 382.3 166.1M352.8 126.2Q354.3 126.1 355.9 126.2M372.0 139.6Q368.9 144.4 366.6 149.6M309.2 177.3Q311.7 179.6 312.3 182.9M386.3 108.0Q388.2 107.6 389.8 108.6M367.2 147.9Q367.6 150.0 366.1 151.6M356.3 102.8Q354.2 109.2 348.9 113.4M340.5 162.8Q338.0 164.8 335.0 165.6M326.7 156.3Q328.4 156.6 329.7 157.8" stroke="rgb(140,140,140)" stroke-width="0.7" fill="none"/>
<path d="M351.0 140.6Q351.0 142.4 352.1 143.8M374.7 140.2Q379.3 143.1 380.1 148.4M317.9 173.2Q310.6 176.4 308.6 184.2M385.6 177.9Q387.3 179.1 387.7 181.1M349.4 98.6Q347.2 100.2 345.1 102.1M317.6 114.0Q315.9 114.6 314.3 114.9M366.4 122.6Q367.3 124.3 366.7 126.2M349.8 136.9Q358.0 135.8 364.0 141.4M403.3 88.8Q397.2 90.4 390.9 90.8M361.2 173.8Q363.0 175.0 364.4 176.7M320.0 112.1Q320.1 114.7 321.9 116.6M365.8 170.6Q368.3 170.8 370.6 171.7M343.3 121.0Q339.3 125.6 333.2 125.8M339.1 104.8Q339.2 107.2 341.2 108.7M373.6 95.5Q372.5 99.6 373.2 103.9M357.6 118.1Q356.0 118.3 354.4 118.8M358.7 144.2Q359.1 146.1 360.8 147.2M393.9 103.7Q392.2 103.8 390.6 104.6M326.9 116.3Q326.2 118.4 325.9 120.6M397.1 158.1Q401.0 160.3 403.2 164.1M360.3 146.9Q363.2 149.6 363.3 153.5M349.6 154.8Q348.9 159.1 350.6 163.1M312.4 89.2Q315.1 88.9 317.1 90.7M314.9 133.7Q308.5 134.8 303.9 139.5M312.8 133.9Q316.6 139.2 319.6 145.0M383.9 185.3Q384.4 187.1 386.1 188.1M354.6 183.4Q353.2 184.5 352.1 185.9M397.0 143.7Q393.8 146.2 391.6 149.6M367.5 114.2Q370.8 118.2 375.9 118.9M396.5 144.2Q395.5 148.3 396.7 152.3M388.6 90.3Q386.6 94.1 387.8 98.2M345.7 183.4Q343.8 183.1 342.4 184.3M330.9 121.2Q332.9 121.4 334.4 122.8M336.6 168.6Q334.4 174.1 329.3 177.2M398.8 135.7Q397.6 136.8 397.2 138.3M367.0 94.5Q365.6 95.3 364.0 94.7M332.9 159.8Q332.6 161.7 332.7 163.6M398.0 139.2Q394.8 140.6 391.5 141.8M402.8 134.8Q398.6 135.1 395.8 138.4M361.1 132.8Q362.1 134.3 363.6 135.2M314.5 171.0Q314.8 172.9 314.5 174.9M368.4 101.5Q367.5 106.1 364.7 109.9M369.0 142.7Q373.0 147.8 379.3 149.5M338.8 96.9Q337.3 96.9 335.8 97.2M365.3 151.6Q367.0 151.6 368.2 152.8M331.5 165.5Q328.6 171.3 322.7 173.9M346.7 161.7Q347.4 163.2 347.0 164.8M343.4 147.5Q347.8 147.6 352.1 148.3M382.9 86.7Q378.7 92.0 378.9 98.8M385.3 135.9Q389.3 141.4 395.0 144.8M358.2 185.0Q362.7 183.7 366.6 186.2M366.1 86.5Q368.7 92.1 373.2 96.5M365.8 115.1Q364.0 115.0 362.3 115.4M324.1 107.5Q327.9 109.4 330.0 113.1M347.9 110.8Q351.2 114.3 351.1 119.2M351.1 183.0Q347.8 185.7 347.6 190.0M323.2 118.2Q327.4 124.2 332.6 129.2M372.2 121.5Q373.2 123.0 374.5 124.2M385.8 114.7Q387.4 114.9 388.9 115.2M335.7 156.7Q329.8 158.7 323.6 159.4M342.3 105.5Q342.5 107.3 342.2 109.1M324.8 118.3Q330.5 116.4 335.6 119.5M312.4 95.2Q311.6 99.6 313.1 103.8M392.5 124.0Q388.7 127.6 383.9 129.7M392.7 168.9Q395.4 170.2 398.4 170.6M396.6 90.9Q397.5 92.6 398.8 94.2M370.0 171.5Q366.8 178.2 360.5 182.1M381.5 88.9Q374.2 86.7 367.8 90.9M323.1 157.3Q327.0 157.9 330.2 160.1M365.7 157.9Q365.8 164.3 363.7 170.4M356.6 104.9Q361.5 107.0 365.9 110.0M351.4 156.0Q358.0 157.7 364.8 157.0M370.0 152.2Q365.5 154.9 360.6 156.5M395.1 107.2Q397.8 111.9 398.2 117.3M340.5 118.4Q340.1 120.5 338.4 122.0M324.8 150.5Q321.9 153.0 321.9 156.8M378.2 99.7Q378.3 101.4 379.3 102.7M355.5 178.4Q355.8 180.0 354.7 181.2M344.0 111.3Q341.2 114.6 341.3 119.0M367.2 177.5Q366.8 182.5 370.6 185.9" stroke="rgb(162,162,162)" stroke-width="0.5" fill="none"/>
<path d="M311.5 116.9Q311.1 119.9 308.7 121.8M384.9 143.0Q385.4 144.8 385.5 146.7M344.0 96.0Q341.0 97.6 337.8 96.7M400.0 104.0Q395.7 109.7 389.2 112.6M338.7 89.4Q339.5 91.2 341.4 91.9M310.5 107.3Q312.6 108.1 314.4 109.6M362.7 145.2Q364.4 147.5 367.1 148.2M345.4 107.7Q343.3 108.5 341.9 110.3M357.5 150.6Q356.9 152.6 355.5 154.1M401.8 160.3Q397.5 159.5 393.9 162.0M390.1 114.1Q397.2 115.8 404.4 115.0M346.0 157.3Q347.6 157.7 348.4 159.1M377.2 143.2Q378.3 147.1 378.0 151.1M364.5 157.6Q366.0 164.2 364.8 170.8M331.9 89.4Q332.4 90.9 332.5 92.4M388.7 162.4Q393.7 167.0 400.6 166.8M361.5 135.1Q361.0 137.6 358.6 138.7M316.1 172.7Q316.7 176.1 319.4 178.1M315.9 113.7Q314.1 114.3 312.4 115.2M366.2 138.9Q367.6 141.9 370.7 142.9M367.0 173.6Q362.6 177.7 357.5 180.9M312.7 163.5Q313.3 165.1 314.2 166.5M335.1 144.3Q333.5 145.3 331.7 146.1M374.6 135.8Q373.5 136.9 372.1 137.6M342.0 135.3Q343.6 137.5 343.2 140.1M393.8 169.6Q393.7 172.0 392.6 174.1M329.3 165.1Q335.3 166.1 338.3 171.4M310.1 105.5Q307.4 105.6 304.9 106.6M345.4 167.0Q346.9 167.4 348.3 168.0M388.3 112.9Q389.9 116.6 388.3 120.3M316.6 164.4Q316.5 167.3 317.5 170.0M320.3 108.7Q320.4 114.0 324.0 117.9M383.4 145.0Q385.7 146.3 387.5 148.1M399.9 127.5Q400.2 129.1 399.4 130.6M355.4 115.8Q357.1 116.2 358.5 117.3M329.0 161.5Q326.2 164.5 324.2 168.0M312.7 94.4Q315.7 95.3 317.8 97.4M317.6 161.7Q314.9 160.9 312.6 162.4M307.1 180.9Q311.9 185.6 315.5 191.3M345.6 164.3Q343.7 164.7 341.8 164.9M304.9 180.6Q306.9 182.5 309.7 182.7M341.5 123.4Q336.9 127.2 331.5 129.4M328.9 115.3Q330.5 115.5 332.2 115.5M404.2 122.7Q398.6 123.9 394.6 128.1M313.1 172.0Q315.3 177.4 314.4 183.2M380.9 176.0Q380.2 177.9 380.1 180.0M385.0 162.2Q383.7 163.3 383.7 165.0M353.8 127.6Q357.9 126.6 361.9 127.9M327.1 172.7Q334.7 171.5 341.4 175.4M397.4 101.9Q399.3 101.7 400.8 102.9M395.1 108.2Q391.7 109.0 389.7 112.0M309.3 171.2Q311.6 178.1 314.1 185.0M312.7 87.8Q312.7 90.7 314.2 93.1M394.5 127.0Q400.0 127.7 403.7 131.9M311.3 140.8Q313.5 142.8 316.5 143.2M398.0 132.1Q399.3 136.2 397.6 140.1M371.9 178.6Q374.4 182.1 378.8 182.3M372.1 103.7Q376.4 107.8 377.1 113.6M312.2 123.3Q317.5 124.9 320.3 129.7M384.7 159.3Q387.2 161.8 390.8 162.0M378.7 117.3Q378.8 119.0 378.5 120.6M330.6 126.6Q333.0 127.2 335.4 127.0M394.9 163.0Q391.0 163.5 387.9 166.0M363.9 137.1Q362.6 139.2 361.3 141.3M329.9 170.2Q333.3 171.6 336.8 170.5M352.9 143.9Q350.9 148.0 346.8 150.2M402.5 160.3Q399.0 160.9 395.5 161.1M341.7 99.0Q340.9 100.6 339.4 101.3M347.6 108.6Q350.0 109.6 352.6 109.7M324.2 89.7Q324.3 91.3 324.2 92.9M350.3 152.2Q348.0 152.6 346.8 154.7M390.8 153.4Q392.8 156.9 394.1 160.7M334.0 149.3Q335.7 153.5 336.9 157.8M353.0 182.0Q354.3 184.0 355.9 185.7M384.1 131.9Q384.9 139.4 383.7 146.9M398.9 113.6Q403.8 114.3 408.1 116.9M392.5 108.3Q397.4 113.6 404.4 115.4M396.4 163.2Q399.3 164.7 401.2 167.4M318.4 145.0Q325.4 142.6 331.8 146.4M347.2 133.8Q344.2 134.3 342.6 136.9M322.2 154.6Q328.0 159.2 335.4 160.1M354.6 127.9Q359.9 130.7 363.7 135.4M393.8 127.3Q394.1 129.3 394.5 131.3M323.8 112.0Q323.7 113.7 322.8 115.1M345.6 92.5Q343.9 92.2 342.5 93.1M315.8 131.3Q317.1 132.2 318.0 133.5M316.3 173.9Q321.3 177.2 325.9 181.1M321.1 171.4Q319.9 172.4 318.2 172.2M325.2 179.9Q328.4 180.6 331.6 180.2M347.0 163.6Q350.5 165.2 354.3 164.8M392.5 147.1Q390.4 150.9 389.7 155.1M365.8 104.3Q362.4 107.6 358.3 109.9M349.1 156.1Q348.9 158.2 348.4 160.2M365.8 128.4Q368.6 134.1 366.7 140.2M358.1 167.5Q359.1 170.9 358.3 174.2M399.7 90.5Q398.5 92.1 396.7 92.7M349.2 96.3Q350.8 96.7 351.6 98.2M387.6 179.4Q390.8 184.8 396.3 187.9M334.1 162.5Q338.0 165.0 341.4 168.2M328.4 130.7Q331.2 133.6 334.7 135.7M377.2 128.6Q378.8 130.4 381.1 131.0" stroke="rgb(162,162,162)" stroke-width="0.6" fill="none"/>
<path d="M331.0 150.8Q328.9 155.1 324.4 156.6M327.1 151.2Q325.7 157.2 326.8 163.2M334.7 143.3Q332.0 143.2 330.2 145.3M329.9 153.3Q331.3 155.7 334.0 156.2M354.2 149.4Q350.2 150.8 348.2 154.4M378.8 171.6Q384.5 171.7 390.1 172.4M371.6 138.8Q370.9 140.4 369.3 141.2M372.7 147.4Q376.4 152.7 377.6 159.1M340.1 114.6Q343.6 118.6 346.0 123.3M348.7 157.2Q354.3 159.4 357.6 164.5M335.8 171.7Q331.5 173.3 327.7 176.0M401.9 163.0Q396.2 164.7 392.6 169.3M376.5 143.7Q376.7 150.6 380.1 156.6M361.4 154.3Q364.1 161.4 371.4 163.8M344.1 170.0Q342.9 171.2 341.5 172.2M328.0 116.8Q330.3 121.2 328.2 125.6M315.5 176.8Q319.6 181.1 318.8 187.0M345.3 107.5Q345.9 109.7 347.8 110.9M390.4 143.5Q390.1 148.1 388.2 152.3M323.7 138.9Q324.0 140.8 323.6 142.6M389.2 95.9Q391.9 96.5 393.7 98.5M367.3 147.6Q368.7 149.5 368.7 151.9M361.6 159.9Q362.8 161.4 364.1 162.6M368.6 173.1Q364.7 180.0 357.1 182.4M381.1 175.0Q376.0 181.0 368.2 181.1M310.1 117.3Q311.5 124.7 311.7 132.2M311.9 160.6Q314.3 159.8 316.4 161.2M325.4 152.9Q323.9 153.5 322.5 154.1M367.2 116.2Q362.5 121.6 356.4 125.4M399.3 115.9Q400.7 119.6 398.7 123.0M334.3 96.1Q337.0 101.1 339.6 106.2M324.9 108.5Q321.6 109.1 318.7 110.9M390.6 139.6Q390.7 141.7 391.1 143.7M368.0 122.4Q366.4 122.6 365.2 123.8M331.7 106.8Q332.9 111.3 337.2 113.1M382.9 140.8Q384.4 141.4 385.7 142.1M393.5 97.3Q392.0 97.7 390.4 97.7M369.3 92.9Q368.2 98.3 370.4 103.3M311.2 169.6Q313.3 176.3 314.4 183.3M321.4 138.2Q323.6 140.5 325.3 143.3M328.9 90.6Q330.0 92.1 331.9 92.4M372.7 119.7Q372.3 126.5 376.8 131.6M355.4 168.3Q356.9 168.5 358.3 169.4M342.2 88.6Q341.0 89.6 340.5 91.1M339.1 177.9Q339.2 185.4 344.7 190.5M403.6 151.1Q403.2 152.6 402.1 153.8M398.3 124.9Q394.6 125.4 391.2 126.8M392.6 164.8Q391.6 169.0 390.0 173.0M338.6 168.3Q335.7 170.3 332.5 171.9M303.3 183.4Q307.4 183.2 310.8 185.4M381.7 180.5Q377.2 183.1 374.7 187.8M389.4 140.2Q389.3 142.5 390.6 144.5M354.3 179.3Q348.8 180.5 343.1 180.5M355.9 178.3Q355.7 183.3 357.8 187.9M389.9 112.3Q391.9 113.1 392.9 115.0M347.3 124.8Q349.0 129.5 351.6 133.7M350.5 135.3Q348.5 137.8 347.3 140.9M354.5 92.2Q354.5 97.5 357.8 101.8M322.6 113.3Q320.7 118.0 316.4 120.6M325.3 163.5Q323.7 167.7 319.6 169.7M374.9 88.5Q369.0 91.0 362.7 90.7M391.1 167.1Q394.3 167.3 397.6 167.5M362.5 116.4Q362.7 123.0 360.2 129.0M333.6 118.7Q338.3 118.0 342.2 120.8M366.4 138.1Q369.6 139.6 371.9 142.2M334.7 161.7Q335.7 163.0 337.2 163.5M332.4 130.6Q326.1 133.4 321.5 138.3M376.0 126.7Q379.6 129.8 382.6 133.4M360.7 101.8Q359.8 104.0 357.8 105.2M312.8 128.8Q318.2 132.9 323.8 136.6M365.5 165.7Q370.4 167.9 373.5 172.3M321.5 173.8Q316.0 178.0 312.9 184.3M320.5 115.4Q322.0 116.5 322.4 118.4M310.8 98.7Q308.6 98.1 306.7 99.2M360.9 119.0Q357.8 125.3 352.1 129.3M379.3 146.3Q381.6 148.7 383.9 150.9M379.8 89.4Q376.2 95.3 371.7 100.7M346.9 165.2Q341.3 163.7 336.0 165.9M358.8 88.5Q356.3 95.7 350.7 100.8M341.2 164.5Q339.7 166.3 337.8 167.6M388.5 137.2Q393.8 141.0 399.5 144.1M369.9 153.5Q371.6 154.1 372.7 155.6M383.1 158.4Q379.0 160.8 374.4 159.3M311.5 172.0Q311.8 176.4 314.3 179.9M337.4 180.0Q337.3 181.8 337.4 183.6M351.0 104.7Q352.4 107.5 353.9 110.2M341.5 155.9Q344.1 159.8 343.0 164.3M337.1 134.4Q339.0 137.9 342.6 139.6M390.3 161.0Q388.2 161.9 385.9 161.7M329.1 168.8Q325.9 170.9 323.6 174.0M309.1 181.4Q307.5 182.0 306.7 183.6M315.7 100.2Q314.4 103.1 313.8 106.2M345.4 146.9Q350.4 149.1 355.9 148.8M400.4 143.6Q399.9 146.1 398.0 147.8M319.3 94.0Q315.7 95.3 311.9 94.7M344.5 172.3Q343.0 174.5 340.5 175.0M388.7 136.7Q385.0 140.4 379.9 141.4M357.6 111.9Q359.1 114.9 357.5 117.9M370.9 168.4Q365.8 166.5 361.1 169.1M359.2 135.8Q353.8 137.6 350.0 141.8M310.6 174.0Q307.3 177.4 306.4 182.0M339.1 110.5Q340.8 110.7 341.8 112.1M360.6 124.1Q357.6 126.6 353.7 126.7M389.0 99.5Q387.7 101.1 386.2 102.5M392.0 167.8Q397.4 168.9 402.8 169.4" stroke="rgb(162,162,162)" stroke-width="0.7" fill="none"/>
<path d="M318.5 114.7Q338.3 119.3 358.5 121.7M356.7 74.5Q338.8 93.7 316.2 107.0M319.1 157.7Q341.0 171.9 362.9 186.1M365.9 101.8Q374.0 118.0 384.7 132.6" stroke="rgb(165,165,165)" stroke-width="0.5" fill="none"/>
<path d="M350.3 78.2Q356.8 95.3 358.6 113.5" stroke="rgb(165,165,165)" stroke-width="0.6" fill="none"/>
<path d="M351.1 104.7Q354.7 120.1 362.3 134.0M389.6 110.5Q371.5 124.7 351.9 136.7M292.2 156.1Q307.8 161.4 321.8 169.8M297.9 102.9Q308.5 128.2 324.6 150.5M395.1 116.2Q397.7 141.5 397.0 167.0M371.2 160.1Q363.2 178.6 354.0 196.5" stroke="rgb(165,165,165)" stroke-width="0.7" fill="none"/>
<path d="M326.4 173.4Q331.7 175.5 336.0 179.3M392.4 145.6Q398.1 150.7 398.8 158.4M379.5 154.8Q382.1 155.0 384.8 155.2M343.9 136.5Q345.4 138.4 347.0 140.2M307.6 91.6Q311.4 92.5 314.7 94.6M360.4 89.7Q356.7 93.5 351.6 94.8M329.0 156.7Q326.3 158.4 325.5 161.4M359.3 141.9Q362.0 142.1 364.6 142.7M324.4 92.4Q328.7 94.8 331.3 99.1M330.8 132.8Q327.7 138.9 330.0 145.3M404.8 156.5Q401.1 156.9 398.8 159.8M344.4 116.7Q346.7 116.9 349.0 117.6M319.7 146.9Q318.2 150.5 319.2 154.2M393.4 111.3Q393.0 114.1 393.9 116.7M355.7 139.9Q356.3 141.5 357.0 143.0M379.0 89.3Q379.3 91.1 380.7 92.2M352.4 95.4Q350.3 95.3 348.5 96.5M319.3 100.3Q320.8 100.6 322.3 101.1M376.6 156.1Q379.1 159.6 382.8 161.8M320.5 102.2Q315.1 101.6 310.0 103.8M310.7 173.2Q310.2 176.5 311.6 179.5M336.2 167.3Q333.5 167.0 331.4 168.7M359.0 121.8Q365.5 122.5 368.9 128.2M364.0 103.5Q366.9 104.4 368.2 107.2M335.3 108.6Q336.0 112.0 334.4 115.0M358.9 124.3Q361.0 123.3 363.1 124.5M357.8 127.0Q358.0 129.4 357.5 131.7M363.2 168.3Q367.0 168.1 370.7 169.4M377.9 175.6Q374.5 176.6 371.0 176.4M315.0 134.7Q312.2 138.2 307.8 138.2M315.8 88.2Q310.2 93.3 303.0 95.9M323.8 135.8Q324.7 137.5 324.2 139.4M347.0 160.6Q347.1 166.4 344.1 171.4M358.0 142.6Q356.5 143.7 354.9 144.5M361.7 102.0Q364.9 107.3 366.3 113.4M379.2 92.8Q382.7 97.8 383.3 103.9M388.5 164.4Q389.0 171.3 385.6 177.5M317.6 97.4Q319.2 98.2 320.8 98.9M377.0 155.4Q379.2 158.4 382.3 160.3M311.7 120.0Q310.5 120.9 309.0 121.5M360.4 161.3Q361.6 162.1 363.1 162.4M355.2 170.6Q357.0 176.8 358.9 182.8M369.1 167.0Q367.5 166.7 366.0 167.2M329.2 176.2Q327.2 176.0 325.4 176.4M343.9 129.4Q342.1 129.4 340.5 130.3M380.2 144.5Q379.2 149.2 376.4 153.1M340.5 108.1Q337.8 107.7 335.4 109.1M310.5 165.9Q310.7 168.0 310.2 170.0M339.0 89.4Q337.5 90.0 336.0 90.3M362.6 174.7Q358.6 175.6 355.6 178.3M335.3 179.6Q332.4 185.6 326.1 187.7M341.3 163.1Q344.2 163.6 346.9 164.6M324.1 148.6Q325.3 150.3 325.3 152.3M330.0 134.7Q331.8 135.6 332.8 137.2M357.2 128.0Q360.2 130.7 361.6 134.5M335.6 175.6Q331.2 176.7 326.7 177.7M354.8 155.3Q356.6 160.3 354.9 165.4M309.1 180.9Q311.8 184.5 316.2 185.4M355.7 163.5Q360.1 167.9 363.1 173.4M331.0 178.6Q333.2 180.0 335.7 179.1M390.9 102.1Q393.9 103.2 397.0 103.1M376.9 142.3Q379.5 142.5 381.2 144.5M386.1 132.8Q389.0 135.6 392.2 137.9M324.9 171.3Q324.2 174.7 322.0 177.5M320.6 179.4Q320.2 182.0 322.1 184.0M368.7 122.9Q368.5 129.5 366.2 135.6M369.0 181.8Q370.6 181.4 372.0 182.4M361.2 179.0Q355.3 180.9 350.6 184.9M358.4 149.9Q360.2 153.6 359.2 157.7M334.4 129.1Q335.7 129.9 337.0 130.7M308.7 96.1Q313.6 98.4 316.8 102.9M341.1 130.8Q344.7 136.7 344.4 143.6M335.8 103.5Q332.8 106.6 331.2 110.6M338.2 111.9Q335.1 117.4 333.8 123.6M304.9 111.7Q308.4 113.5 312.1 115.1M396.8 100.3Q398.8 104.4 400.0 108.9M367.6 119.2Q371.5 120.2 374.9 122.3M339.9 107.0Q338.0 107.4 336.1 108.0M316.0 164.9Q317.8 165.3 319.6 165.5M365.7 97.7Q366.7 104.4 371.9 108.8M382.0 90.5Q379.0 92.0 377.2 94.7M352.6 148.4Q348.7 152.3 343.2 152.4M384.9 96.0Q387.3 97.4 388.9 99.8M375.7 182.8Q374.5 184.0 373.3 185.2M309.2 104.7Q308.1 110.5 306.1 116.1M337.8 176.9Q338.6 180.1 339.0 183.4" stroke="rgb(184,184,184)" stroke-width="0.5" fill="none"/>
<path d="M341.1 154.7Q336.8 154.8 334.2 158.2M332.7 175.0Q335.9 180.1 334.1 185.9M308.2 159.7Q307.0 166.7 307.2 173.8M339.1 125.1Q340.3 126.3 341.9 127.1M355.8 180.6Q355.0 182.5 353.4 183.5M363.6 165.3Q364.4 167.3 366.4 168.4M319.5 89.9Q320.5 91.4 321.7 92.8M347.5 132.2Q349.7 136.5 353.5 139.4M367.2 161.0Q366.4 168.3 368.6 175.3M336.9 133.9Q339.5 135.8 342.1 137.8M352.2 143.5Q353.5 147.2 355.6 150.6M379.5 120.4Q381.4 126.1 380.1 132.0M327.5 146.9Q327.0 150.2 325.3 152.9M357.9 95.6Q359.9 96.7 361.6 98.4M319.0 127.1Q314.5 133.2 307.5 135.9M402.5 142.8Q401.3 144.3 400.6 146.2M344.6 165.4Q350.2 165.9 355.9 166.2M406.4 103.5Q399.2 104.1 392.0 104.1M373.7 90.8Q371.8 91.6 369.8 92.1M353.5 90.2Q351.1 95.2 346.3 97.8M386.5 148.7Q392.6 152.1 399.4 153.4M340.9 132.9Q343.3 137.8 347.0 142.0M397.6 139.9Q397.8 146.4 394.7 152.1M361.7 134.7Q365.5 137.4 368.8 140.6M346.9 121.5Q345.5 123.3 343.4 124.3M333.5 99.6Q337.7 101.5 342.0 103.2M302.7 149.2Q308.5 150.1 312.6 154.3M375.4 141.6Q376.5 144.2 375.3 146.7M368.6 111.2Q367.8 112.8 366.6 114.1M321.3 114.4Q322.9 120.3 320.0 125.6M305.9 127.7Q309.1 132.8 307.6 138.7M375.2 182.3Q372.8 182.8 370.5 183.7M375.4 182.2Q377.3 182.9 379.3 182.9M358.6 93.5Q357.6 96.1 358.0 98.9M387.2 179.5Q389.3 180.2 390.6 181.9M310.3 178.6Q308.8 181.4 306.3 183.2M333.4 159.4Q338.1 161.9 343.0 159.8M307.6 172.7Q308.6 174.0 309.9 175.0M392.7 150.6Q388.4 154.2 386.2 159.4M345.6 182.9Q349.0 183.4 352.3 184.7M327.7 186.4Q329.2 187.0 330.7 186.5M390.0 167.3Q386.9 172.7 385.0 178.6M320.2 96.6Q321.5 100.9 324.5 104.2M352.9 142.0Q353.7 143.2 354.7 144.3M361.1 130.0Q363.8 137.1 368.3 143.2M404.2 169.8Q402.3 170.3 400.3 169.9M377.5 134.1Q375.7 136.4 375.9 139.4M315.2 150.7Q313.0 153.4 310.4 155.6M311.1 118.1Q310.5 120.0 309.9 121.9M391.4 118.9Q389.7 122.2 386.5 124.2M375.8 129.3Q375.1 131.1 373.9 132.6M399.7 129.3Q401.7 133.0 400.7 137.1M397.2 170.0Q400.4 173.3 401.9 177.5M314.1 111.3Q314.4 116.3 312.6 121.0M322.2 147.5Q322.3 149.4 322.3 151.4M314.9 97.5Q316.6 105.2 313.0 112.3M352.0 177.5Q351.2 178.8 350.1 179.8M383.7 128.1Q389.9 132.0 396.9 134.1M312.2 128.2Q317.4 133.1 324.4 134.1M340.7 164.2Q338.1 164.7 336.2 166.6M339.1 139.9Q342.6 141.9 346.3 143.5M329.6 125.8Q333.6 124.5 337.3 126.4M343.1 183.3Q343.4 185.0 344.9 185.8M373.1 175.3Q379.9 177.1 385.7 180.9M377.9 120.5Q376.7 121.5 375.4 122.4M373.8 171.4Q369.0 171.6 364.3 171.5M360.6 130.5Q366.0 134.0 370.7 138.4M342.0 96.0Q336.9 99.0 332.2 102.5M320.2 114.0Q322.7 113.0 325.1 114.3M380.7 97.7Q375.6 102.0 374.8 108.6M387.0 148.1Q389.9 149.6 393.2 149.2M359.9 142.9Q359.4 148.2 358.6 153.5M403.5 131.1Q401.6 135.7 400.5 140.5M317.2 152.9Q315.4 157.3 316.4 161.9M374.9 83.3Q378.8 90.3 375.6 97.5M376.5 182.8Q376.5 186.6 373.6 189.1M367.9 142.3Q369.0 145.1 367.5 147.8M357.4 119.9Q358.2 125.7 358.9 131.6M316.2 106.2Q316.7 107.8 317.1 109.5M372.0 90.0Q368.8 91.1 365.8 92.8M339.0 106.9Q337.1 107.2 335.3 107.8M357.7 89.1Q353.4 92.1 352.2 97.3M345.8 147.2Q344.8 150.3 343.6 153.4M350.8 122.9Q352.4 130.2 356.0 136.7M320.2 114.6Q322.7 117.4 326.4 117.6M358.6 110.2Q359.7 112.1 361.8 112.6M315.5 164.5Q316.4 170.2 318.8 175.5M382.8 136.5Q382.4 138.9 383.2 141.2M396.6 137.3Q394.9 139.6 393.7 142.1M391.3 171.6Q394.4 171.2 397.3 172.3M354.6 153.3Q360.6 157.6 361.8 164.9M312.0 176.5Q311.6 178.4 310.5 180.1M371.1 167.0Q371.5 170.7 372.8 174.1M324.9 179.2Q323.3 180.2 321.4 180.1M340.9 169.8Q339.0 170.7 337.0 170.4" stroke="rgb(184,184,184)" stroke-width="0.6" fill="none"/>
<path d="M316.1 119.4Q317.6 120.4 318.7 121.9M338.0 140.5Q339.7 141.4 341.6 141.7M352.1 121.5Q355.2 123.7 358.4 125.7M357.9 177.7Q355.3 177.2 352.9 178.3M306.6 117.4Q307.0 123.2 306.4 129.0M350.7 94.9Q349.1 96.9 348.1 99.3M377.8 151.7Q375.1 155.9 373.0 160.4M335.1 109.3Q332.5 111.1 329.4 111.1M399.9 136.6Q401.6 143.8 397.7 150.1M360.0 95.4Q358.8 96.4 357.5 97.2M398.0 99.7Q393.1 101.7 389.7 105.8M327.0 110.7Q323.3 111.1 320.1 113.0M330.1 135.3Q327.4 136.9 324.7 138.5M377.6 96.3Q382.2 101.8 381.6 108.9M322.0 166.4Q324.3 170.2 325.6 174.5M387.9 141.7Q389.8 142.8 392.1 142.6M355.9 147.5Q352.7 148.6 349.4 148.2M383.0 125.7Q383.3 128.8 381.6 131.4M358.9 92.2Q357.8 93.4 356.1 93.3M393.6 181.3Q391.8 181.9 390.0 182.3M394.9 166.5Q391.6 168.1 390.8 171.7M353.0 103.2Q349.3 103.6 347.1 106.7M304.3 133.6Q307.5 135.4 310.2 137.7M406.0 136.3Q403.2 135.2 400.6 136.6M333.9 168.1Q330.3 170.7 326.0 170.2M357.1 144.8Q352.9 149.5 353.2 155.8M330.2 183.6Q333.2 186.6 334.7 190.5M397.3 103.4Q402.4 108.8 409.8 108.4M308.0 125.6Q304.8 129.4 304.5 134.3M335.6 139.6Q335.5 141.5 336.8 142.9M380.8 155.8Q383.2 158.0 385.6 160.1M308.6 92.9Q307.5 98.5 302.6 101.3M354.7 140.7Q357.0 142.1 359.6 143.1M332.6 145.1Q334.1 147.5 336.1 149.5M373.3 111.1Q368.3 113.4 364.4 117.2M356.8 154.7Q353.0 160.5 353.8 167.4M405.2 104.8Q403.2 104.7 401.4 105.8M348.1 165.8Q350.2 166.2 351.9 167.4M365.4 158.3Q366.3 161.2 367.0 164.1M402.2 134.1Q400.5 134.2 399.5 135.5M345.9 156.0Q346.8 157.3 347.7 158.7M389.7 117.7Q386.9 123.5 386.2 129.9M377.2 95.9Q379.8 97.5 382.7 98.6M384.2 137.9Q379.3 141.5 379.1 147.5M314.8 105.5Q314.8 107.3 316.0 108.7M337.4 148.3Q341.0 150.4 345.0 149.4M339.0 140.2Q343.6 141.0 348.2 142.5M365.1 164.3Q365.1 168.7 366.6 172.8M318.4 132.3Q316.0 131.6 313.7 132.6M374.2 133.0Q367.8 134.6 363.6 139.8M365.1 105.9Q367.4 112.0 372.5 116.1M353.6 174.7Q357.6 179.1 363.5 179.0M338.5 117.1Q336.9 117.4 335.9 118.9M320.8 110.3Q322.3 113.8 322.0 117.6M337.5 128.5Q335.7 130.5 333.1 130.7M354.2 86.8Q361.8 87.6 366.4 93.7M347.7 160.8Q347.7 162.7 346.8 164.4M336.9 115.5Q336.1 117.5 334.5 118.9M342.0 98.4Q345.7 98.9 348.9 101.0M336.5 146.2Q336.8 151.6 340.2 155.7M350.3 181.0Q351.5 181.9 352.5 183.0M319.6 106.2Q322.9 108.6 326.3 110.9M336.5 90.0Q341.3 90.8 346.1 90.4M360.4 92.0Q360.9 94.6 360.7 97.3M368.1 141.2Q373.2 146.3 380.3 147.9M321.6 94.8Q323.2 94.7 324.5 95.7M362.9 178.1Q368.0 183.3 374.9 185.8M386.3 96.1Q384.8 96.8 384.2 98.3M321.4 89.7Q320.5 92.5 317.8 93.4M331.8 89.7Q330.3 91.7 328.1 92.7M334.3 144.2Q334.9 150.6 339.5 155.1M344.8 135.6Q347.2 136.7 348.6 138.9M370.8 87.2Q366.9 90.8 361.7 92.0M393.5 94.3Q392.8 98.1 392.3 102.0M314.0 139.7Q311.1 141.4 308.7 143.7M376.8 142.6Q382.3 146.2 388.8 145.2M337.9 134.7Q335.4 134.6 333.5 136.1M395.6 129.0Q393.9 134.5 391.9 139.8M395.6 157.2Q392.9 159.5 389.5 158.9M328.3 102.2Q326.9 104.6 324.2 105.2M315.1 90.6Q314.4 96.6 314.9 102.6M358.3 130.3Q355.0 131.4 352.6 134.0M329.1 135.4Q332.5 137.1 333.3 140.8M372.4 102.4Q372.2 104.7 372.9 106.9M329.0 175.7Q334.3 177.8 337.2 182.8M349.8 100.9Q346.3 103.6 345.9 108.0M385.8 115.9Q382.1 118.9 381.5 123.7M319.0 181.4Q317.2 184.9 313.4 186.0M309.7 169.4Q311.4 172.7 314.9 173.8M311.7 94.3Q308.2 100.1 303.3 104.9M381.9 94.6Q379.2 100.3 379.1 106.7M397.9 130.0Q401.5 132.2 405.6 133.2M314.4 163.2Q307.4 165.8 301.5 170.6M341.8 145.7Q345.5 147.7 349.3 149.5M364.6 130.5Q366.7 134.7 365.1 139.1M323.1 165.5Q328.4 164.1 333.1 167.0" stroke="rgb(184,184,184)" stroke-width="0.7" fill="none"/>
<path d="M311.2 73.8Q310.3 96.8 304.6 119.1M391.9 154.0Q402.6 163.4 410.5 175.3M375.9 140.8Q363.0 149.7 349.4 157.5" stroke="rgb(185,185,185)" stroke-width="0.5" fill="none"/>
<path d="M368.7 87.5Q354.4 96.3 340.9 106.2M355.8 129.0Q329.7 126.9 304.0 131.8M368.2 91.3Q384.0 101.8 399.2 113.2M347.3 82.7Q361.4 93.9 375.5 105.3M297.9 136.6Q321.2 145.8 341.3 160.5M344.7 124.4Q334.5 142.5 319.7 157.1" stroke="rgb(185,185,185)" stroke-width="0.6" fill="none"/>
<path d="M377.3 149.5Q400.2 159.7 425.0 163.1M399.8 162.4Q389.1 179.4 380.8 197.6M350.1 143.9Q333.2 149.8 315.9 154.7M381.8 119.8Q381.9 142.4 377.1 164.4M333.6 154.3Q353.0 160.8 370.8 170.8" stroke="rgb(185,185,185)" stroke-width="0.7" fill="none"/>
<path d="M377.7 150.8Q377.5 153.5 378.3 156.1M392.9 171.8Q393.5 177.0 392.0 182.0M334.4 90.9Q331.1 92.0 328.9 94.7M344.4 101.1Q349.2 103.6 354.6 103.8M314.0 161.0Q314.8 162.6 315.0 164.4M374.3 95.4Q374.8 101.5 372.7 107.2M346.9 170.0Q347.5 173.5 349.9 176.0M350.9 100.3Q350.5 102.8 349.7 105.2M320.6 153.5Q317.0 156.0 314.5 159.6M380.4 184.4Q379.9 186.6 378.3 188.3M344.3 115.6Q338.9 119.3 332.6 117.7M338.2 162.9Q341.9 167.7 344.2 173.2M343.3 124.2Q349.0 128.3 349.1 135.4M392.7 110.3Q391.0 110.4 389.5 111.0M397.2 157.4Q397.3 160.3 396.6 163.1M358.0 160.2Q358.6 164.2 361.6 166.7M384.9 171.9Q391.2 175.2 398.2 176.7M372.9 145.3Q371.1 148.6 372.1 152.2M358.5 157.2Q354.2 162.2 348.7 166.0M379.2 183.2Q377.1 183.1 375.8 184.7M306.8 131.9Q310.3 135.8 315.5 136.3M397.9 156.6Q395.1 161.0 396.3 166.1M391.1 175.1Q391.7 177.0 392.3 178.9M384.3 110.4Q386.0 111.2 386.8 112.9M389.2 156.5Q385.7 159.9 381.8 162.8M361.1 182.0Q359.5 184.9 360.8 188.0M365.5 106.6Q368.0 108.1 370.7 108.9M360.5 120.9Q362.8 122.0 365.4 121.9M389.3 86.8Q389.6 89.7 390.5 92.5M388.2 170.6Q387.4 172.3 387.9 174.1M403.1 97.6Q402.0 99.4 402.8 101.4M381.8 178.9Q381.9 186.1 383.9 193.1M398.0 125.3Q399.7 126.0 401.4 126.4M399.6 147.6Q398.3 153.0 394.8 157.2M407.2 177.4Q400.9 180.6 399.6 187.6M349.5 100.1Q347.4 100.7 345.8 102.2M363.8 137.6Q365.5 138.4 367.5 138.5M352.8 102.5Q351.9 105.0 349.7 106.5M372.3 169.8Q371.2 171.4 370.1 173.0M326.2 105.6Q323.5 107.0 320.7 105.8M307.7 145.3Q310.3 150.9 312.8 156.5M382.8 124.4Q382.7 125.9 382.6 127.4M353.0 107.2Q354.0 108.7 353.9 110.6M374.4 138.5Q376.5 141.7 377.8 145.3M321.9 162.0Q318.7 164.8 315.2 166.9M304.2 106.4Q307.3 105.4 310.3 106.8M381.2 158.5Q379.4 160.4 379.1 163.0M374.0 158.7Q369.9 159.5 365.7 159.4M373.7 145.4Q371.0 144.9 368.5 146.0M394.7 158.8Q389.5 163.5 382.4 163.5M371.6 163.8Q366.6 164.5 364.2 168.8M330.8 179.2Q327.1 182.8 323.1 186.2M386.2 184.4Q391.6 187.0 396.9 189.7M354.0 130.5Q347.6 133.4 343.0 138.8M404.9 143.5Q403.4 145.0 401.3 144.9M307.7 120.4Q309.5 122.0 311.8 121.6M315.7 136.5Q318.5 139.9 321.2 143.3M338.9 99.9Q341.0 100.9 341.5 103.2M368.1 145.1Q366.9 146.9 364.7 147.1M377.7 149.0Q380.3 154.3 384.9 158.2M327.8 114.5Q323.2 114.6 320.2 118.0M323.0 163.8Q319.6 165.5 316.7 167.9M324.5 182.4Q322.6 184.6 320.8 186.9M388.3 117.0Q390.8 117.3 393.2 118.2M400.2 135.8Q398.0 137.7 395.1 137.6M326.6 112.8Q322.6 116.3 317.4 115.6M355.0 115.6Q356.3 116.4 357.5 117.5M334.7 166.1Q331.5 169.7 331.6 174.5M378.4 132.9Q377.3 134.4 375.5 134.9M372.8 127.0Q369.3 128.0 366.2 130.0M323.1 184.2Q325.8 184.5 328.3 185.3M350.3 133.8Q343.7 137.0 336.5 138.5M334.0 90.2Q333.2 91.8 332.4 93.4M360.0 174.6Q360.5 178.1 359.8 181.5M311.7 166.9Q309.0 167.6 306.3 167.5M344.2 120.6Q339.8 125.9 335.2 130.9M363.2 86.7Q359.2 91.1 357.5 96.8M345.0 172.4Q346.2 173.6 347.9 173.9M326.5 156.0Q324.5 162.4 323.6 168.9M322.6 135.7Q320.9 138.7 320.6 142.1M319.9 88.2Q315.2 90.7 310.1 92.1M385.3 149.8Q388.0 151.6 391.0 152.5M344.4 112.7Q341.7 114.5 338.6 115.4M323.4 162.9Q320.5 169.9 313.7 173.3M339.8 158.5Q340.5 161.3 341.9 163.7M381.5 98.7Q381.8 104.5 380.4 110.2M384.6 104.6Q385.2 108.9 388.8 111.3M361.5 160.6Q363.2 160.9 365.0 160.9M309.5 127.1Q311.1 128.3 311.1 130.3M335.7 105.9Q332.5 106.3 329.5 107.4M340.9 109.0Q335.0 112.0 333.9 118.5M400.6 115.8Q397.6 118.3 397.0 122.2M394.1 94.3Q395.5 100.5 393.9 106.7M307.4 123.0Q313.7 124.6 319.8 126.6M374.9 116.2Q370.5 121.4 370.2 128.3M355.2 92.4Q355.3 100.5 361.2 106.0M360.6 89.0Q365.7 91.5 370.5 94.6M340.4 89.9Q337.0 91.5 334.1 93.8M354.1 127.0Q361.2 129.2 368.6 128.4M382.9 116.6Q383.3 119.1 385.5 120.4M309.3 128.4Q315.1 131.3 321.1 128.9M378.3 133.7Q377.8 136.6 376.8 139.4M303.9 88.2Q306.5 92.0 311.0 93.3M304.2 98.8Q308.4 98.8 311.1 102.0M326.7 173.2Q329.7 173.4 331.4 176.0M400.7 95.2Q397.2 99.5 394.3 104.2M306.3 93.2Q308.1 94.3 308.5 96.4M310.2 128.7Q315.0 128.5 319.4 130.5M348.4 128.6Q344.8 130.5 342.3 133.7M335.9 178.6Q335.8 181.3 334.4 183.7M367.7 122.2Q369.1 127.5 368.9 133.0M322.4 172.2Q329.3 172.6 336.2 172.2" stroke="rgb(204,204,204)" stroke-width="0.5" fill="none"/>
<path d="M316.2 90.6Q312.6 93.7 307.9 93.9M383.2 162.4Q380.9 168.7 379.1 175.3M338.7 108.8Q334.0 110.4 329.7 112.7M346.7 152.0Q350.4 152.3 353.2 154.7M340.7 149.5Q341.6 150.9 341.4 152.6M358.5 158.7Q362.5 159.5 365.2 162.5M319.0 172.7Q319.3 175.8 320.5 178.7M395.3 158.0Q394.3 159.7 392.5 160.5M395.6 147.0Q397.2 147.4 398.8 147.7M366.9 174.5Q371.5 181.2 369.5 189.1M346.6 130.7Q340.5 131.6 334.8 134.1M360.1 144.4Q361.3 145.6 363.0 145.3M373.0 160.6Q374.1 168.0 369.9 174.3M331.6 156.1Q335.0 160.6 340.2 162.6M340.3 100.8Q341.3 106.6 338.0 111.4M309.2 116.1Q306.2 118.6 304.1 121.8M323.5 93.8Q326.4 94.4 328.4 96.6M332.0 121.9Q333.6 122.6 335.2 122.5M311.3 116.7Q315.6 115.6 319.1 118.3M372.3 101.2Q371.3 102.4 370.4 103.6M319.5 128.4Q325.3 129.2 331.1 130.1M317.5 88.6Q315.8 89.8 314.6 91.5M374.3 171.3Q370.2 171.6 367.1 174.3M398.0 114.0Q392.8 113.7 387.5 114.3M317.7 115.4Q313.1 117.6 309.0 120.8M403.2 175.9Q399.0 182.3 393.1 187.0M398.9 105.6Q397.1 107.1 396.3 109.3M321.1 153.6Q324.3 154.1 327.1 155.8M303.8 90.7Q308.9 90.4 312.7 93.8M376.5 175.5Q375.1 176.9 374.0 178.4M341.5 142.4Q337.8 143.0 334.1 143.2M370.3 113.2Q373.2 119.7 374.9 126.6M392.0 90.5Q391.4 95.5 394.1 99.7M330.2 182.2Q330.4 184.0 329.0 185.2M386.1 104.8Q385.7 111.9 390.8 116.9M364.5 154.7Q362.6 156.4 360.8 158.2M361.8 166.1Q359.8 172.2 354.3 175.8M317.4 154.5Q316.6 156.4 314.6 157.2M372.3 109.4Q378.6 110.5 385.0 109.9M326.4 96.1Q322.5 96.5 319.8 99.2M334.8 157.0Q340.6 159.5 346.7 157.8M325.5 149.9Q327.1 149.4 328.6 150.0M366.7 87.7Q362.3 92.1 359.8 97.7M344.7 138.3Q344.7 140.2 346.1 141.3M347.8 135.1Q348.3 138.3 351.2 139.8M351.9 183.9Q354.3 184.0 356.6 184.7M341.2 100.0Q339.5 103.2 339.5 106.8M308.4 99.4Q312.1 102.8 315.6 106.4M335.5 123.6Q336.0 125.4 335.2 127.0M315.4 93.9Q317.4 95.6 317.9 98.3M385.0 121.4Q386.6 125.7 390.3 128.4M355.7 146.1Q363.4 147.7 367.5 154.3M315.9 124.0Q312.3 127.1 307.5 127.2M318.0 97.5Q316.9 104.6 315.2 111.6M321.4 181.7Q325.7 183.4 327.1 187.7M376.3 120.7Q374.3 122.2 371.9 122.9M372.1 165.4Q373.5 166.4 373.7 168.1M383.8 112.3Q381.4 114.1 378.4 113.3M383.2 126.4Q380.3 129.4 380.6 133.6M340.3 109.6Q337.7 112.0 336.2 115.2M393.9 118.8Q392.4 120.8 390.9 122.9M351.3 131.4Q350.3 133.3 348.2 133.9M385.5 164.6Q390.9 168.9 396.5 173.0M335.2 115.4Q341.1 116.4 347.0 116.7M395.9 119.3Q396.5 123.7 399.9 126.6M323.5 89.0Q322.0 90.0 320.7 91.1M379.9 173.0Q385.6 176.0 391.7 173.8M318.7 109.7Q320.7 109.7 322.1 111.0M326.4 98.0Q327.4 103.7 325.9 109.3M341.9 132.7Q343.7 135.3 345.9 137.6M359.2 115.5Q358.9 121.7 355.8 127.1M323.4 153.0Q324.9 154.3 326.7 155.0M336.0 116.9Q329.6 117.8 323.1 117.7M391.7 89.2Q393.1 93.2 396.2 96.1M393.7 99.0Q396.4 100.1 399.0 101.4M366.6 124.8Q366.5 130.4 365.3 135.8M334.1 85.6Q335.4 92.1 333.7 98.5M396.2 175.3Q393.0 175.3 390.5 177.3M308.9 172.4Q312.0 173.4 315.0 174.1M366.8 95.3Q363.8 94.8 361.2 96.3M327.8 145.4Q331.5 145.5 333.9 148.5M327.7 155.2Q330.8 157.0 334.1 158.5M353.3 123.5Q352.6 125.2 351.8 126.9M400.0 153.5Q396.3 159.0 392.8 164.7M335.1 111.5Q335.3 113.8 337.2 115.3M376.4 179.4Q377.6 180.9 378.3 182.8M366.6 102.0Q363.3 103.5 359.8 102.4M395.3 128.8Q392.1 132.5 387.4 133.7M381.5 182.3Q384.4 183.7 387.5 182.6M398.8 96.9Q400.8 102.8 400.2 109.1M323.7 174.0Q321.9 177.8 320.0 181.5M346.0 115.0Q341.9 116.1 337.6 116.2M385.7 114.7Q383.6 115.3 381.4 115.9M330.9 178.7Q333.9 180.7 336.9 182.6M319.9 125.8Q320.8 127.6 321.8 129.4M309.5 154.4Q312.7 155.0 315.2 157.2M351.1 131.1Q350.8 133.0 351.6 134.7M384.8 98.2Q380.2 99.3 375.6 98.8M341.6 108.3Q346.6 108.0 350.5 111.3M358.0 142.7Q363.2 145.7 368.9 147.1M382.5 97.0Q384.3 98.1 386.4 97.9M345.2 115.9Q344.8 117.4 345.0 119.0M363.8 98.4Q369.1 101.9 373.0 106.9M383.9 158.1Q386.2 158.5 388.5 158.9M345.8 122.1Q344.1 122.9 342.2 123.3M374.7 176.9Q372.7 177.8 370.6 178.4M374.2 167.6Q380.7 168.4 387.2 167.8M377.3 127.3Q381.4 131.1 381.0 136.7M312.0 173.4Q312.8 175.8 313.7 178.1M323.0 119.2Q317.8 122.9 314.3 128.1M340.4 131.6Q345.3 137.9 344.4 145.9M395.4 106.9Q400.5 112.0 407.1 114.8" stroke="rgb(204,204,204)" stroke-width="0.6" fill="none"/>
<path d="M329.2 108.1Q328.8 113.9 331.5 119.0M379.8 112.0Q381.2 118.7 383.6 125.2M377.3 149.7Q374.9 156.8 375.0 164.2M394.1 163.6Q395.3 165.5 396.6 167.2M403.1 150.0Q402.4 152.3 400.4 153.5M349.8 175.6Q349.7 181.0 352.1 185.8M396.3 145.8Q400.9 146.3 403.6 150.0M350.6 110.6Q352.8 114.2 351.5 118.2M393.9 149.6Q390.0 150.3 386.3 151.4M402.7 97.8Q401.3 101.8 397.5 103.7M384.1 144.4Q385.5 147.3 384.5 150.4M364.5 125.2Q362.2 127.3 359.1 127.8M350.2 110.4Q351.5 112.3 353.6 112.8M321.7 92.2Q318.1 92.5 314.7 93.6M350.6 118.7Q349.9 123.0 351.3 127.2M346.0 112.4Q347.7 117.4 347.2 122.7M319.3 115.9Q320.8 116.7 321.8 118.0M390.9 96.2Q389.5 97.6 387.9 98.9M396.2 149.5Q396.4 154.6 399.7 158.5M381.7 169.8Q388.6 172.3 390.9 179.2M379.3 118.0Q379.1 124.2 382.8 129.1M370.1 148.9Q371.6 152.3 372.2 156.0M351.6 179.9Q350.5 183.8 350.1 187.8M388.1 168.9Q386.0 173.2 381.8 175.7M345.5 126.1Q349.2 129.7 354.3 130.5M371.8 142.6Q369.0 144.9 365.4 145.0M335.4 140.7Q329.0 144.0 321.7 143.3M349.1 138.3Q348.4 143.1 349.6 147.7M312.5 170.9Q314.9 173.5 314.5 176.9M339.2 88.0Q332.1 89.9 328.9 96.6M401.4 149.1Q398.1 155.1 398.4 162.0M398.7 125.8Q398.4 130.5 401.2 134.4M369.2 179.5Q373.6 182.6 378.9 182.4M386.4 109.6Q387.9 109.8 389.5 109.8M373.6 109.8Q371.5 110.1 369.5 110.6M359.8 136.3Q359.8 143.6 358.5 150.7M399.3 123.4Q396.1 130.2 390.1 134.8M369.3 135.0Q369.7 137.5 371.3 139.5M339.3 97.7Q343.8 98.3 347.1 101.4M370.4 147.1Q368.0 149.5 364.7 149.9M389.7 182.3Q392.7 183.6 393.9 186.7M317.6 141.0Q317.6 147.1 315.5 153.0M362.5 117.3Q363.8 119.0 365.2 120.6M398.7 113.7Q397.6 114.9 396.6 116.2M345.9 178.0Q342.1 180.4 337.9 181.8M303.8 178.4Q306.4 179.1 307.5 181.6M355.4 142.9Q356.6 145.8 358.8 148.2M329.4 96.6Q329.0 101.2 329.9 105.8M353.9 154.7Q352.7 157.2 351.5 159.6M366.0 118.4Q365.9 120.3 367.3 121.4M391.3 106.8Q394.8 108.5 398.3 106.9M303.0 133.8Q307.0 135.6 310.5 138.3M334.0 181.5Q340.3 185.7 344.5 192.1M315.8 176.9Q318.8 178.5 320.6 181.3M319.3 109.0Q318.0 111.9 318.2 115.0M378.6 129.1Q371.7 131.0 365.0 133.8M386.9 167.6Q388.9 173.5 389.5 179.7M326.6 144.7Q330.4 150.9 336.5 155.0M387.0 126.6Q389.5 131.4 394.6 132.9M335.2 89.5Q329.3 93.6 326.3 100.2M308.2 88.0Q308.5 91.2 309.0 94.4M394.9 168.7Q398.1 171.8 402.4 172.7M377.3 184.1Q379.5 183.4 381.7 184.3M386.0 90.5Q386.4 92.0 387.7 93.0M321.9 165.8Q319.3 166.7 317.5 168.9M322.4 114.3Q324.1 115.0 325.9 115.3M345.8 135.7Q348.5 136.0 349.9 138.4M386.9 154.7Q381.0 156.4 376.7 160.8M391.5 147.2Q398.5 150.6 405.7 147.8M357.2 149.9Q357.7 153.0 359.1 155.8M390.9 120.9Q393.4 120.6 395.3 122.1M323.4 104.7Q325.1 106.2 324.9 108.5M360.2 157.8Q361.6 159.0 363.4 158.9M403.3 107.7Q401.3 111.1 400.7 115.1M318.9 100.6Q317.8 108.3 311.8 113.3M378.8 173.9Q382.0 175.5 383.5 178.7M377.4 98.6Q377.4 101.1 379.5 102.6M325.5 99.4Q326.9 102.5 330.1 103.8M316.6 105.1Q319.9 109.1 319.2 114.2M348.7 115.8Q349.1 122.5 349.6 129.2M332.3 124.3Q333.3 125.9 334.7 127.2M393.2 99.9Q393.5 101.4 393.4 102.9M355.0 101.7Q353.4 102.3 351.7 102.5M347.8 161.5Q349.5 163.4 351.8 164.4M336.1 179.3Q334.4 181.5 331.9 182.4M371.0 89.3Q367.0 90.4 364.1 93.4M326.2 93.6Q328.8 95.8 329.6 99.2M309.6 119.4Q310.0 121.0 309.3 122.4M341.2 136.4Q345.4 142.4 350.8 147.3M393.3 125.9Q398.8 127.8 402.6 132.2M364.2 154.6Q371.6 153.8 378.4 156.4M404.4 138.1Q400.7 138.6 397.4 140.5M306.6 164.0Q308.8 166.5 312.1 167.2M366.8 99.2Q367.5 102.2 368.6 105.0M330.2 145.1Q330.1 150.4 331.5 155.5M390.1 104.0Q388.1 104.5 386.3 105.2M343.4 92.3Q347.5 93.0 350.5 95.9M313.9 98.1Q308.6 101.5 303.3 104.8M387.5 94.2Q385.7 95.0 384.3 96.5" stroke="rgb(204,204,204)" stroke-width="0.7" fill="none"/>
<path d="M327.5 147.8Q329.8 169.2 331.8 190.7M374.0 106.4Q358.9 116.8 346.4 130.3M361.0 79.8Q348.6 91.5 338.1 104.8M361.2 97.8Q372.4 122.6 389.2 144.0M376.3 121.1Q370.5 130.3 365.4 140.0" stroke="rgb(205,205,205)" stroke-width="0.5" fill="none"/>
<path d="M342.2 101.5Q333.0 115.5 325.0 130.2M378.3 153.0Q377.1 167.8 375.2 182.5" stroke="rgb(205,205,205)" stroke-width="0.6" fill="none"/>
<path d="M283.1 153.1Q309.8 154.4 335.5 161.8" stroke="rgb(205,205,205)" stroke-width="0.7" fill="none"/>
<path d="M359.6 142.7Q359.0 144.8 358.0 146.7M323.5 163.6Q318.8 165.0 314.2 166.7M391.6 97.1Q389.4 99.4 387.8 102.2M363.6 172.6Q366.4 173.5 369.3 173.6M388.4 119.5Q388.5 126.6 388.9 133.8M367.9 148.1Q366.1 148.3 364.3 148.5M325.4 110.6Q323.8 110.6 322.2 110.9M395.1 122.3Q389.4 123.3 384.0 125.5M349.0 123.5Q348.2 130.0 343.9 135.1M359.6 103.5Q354.1 102.0 349.0 104.4M308.2 169.3Q306.1 176.3 303.4 183.1M388.2 169.9Q387.6 173.9 384.5 176.3M365.5 133.6Q368.1 133.9 370.1 135.4M393.6 127.1Q391.3 127.5 389.0 127.7M348.1 146.2Q342.8 146.8 337.5 146.7M347.1 172.6Q341.9 177.1 335.0 178.1M330.8 178.2Q329.5 179.1 328.4 180.3M334.6 134.9Q336.9 138.3 340.6 140.1M370.1 141.1Q372.2 142.9 372.4 145.7M317.3 106.7Q319.9 108.1 322.9 108.0M357.9 135.5Q354.3 138.1 352.7 142.2M383.3 88.4Q386.7 89.9 389.9 91.9M320.3 143.5Q324.6 144.9 328.9 143.7M407.7 110.4Q403.3 114.0 397.7 112.8M389.3 149.4Q386.3 149.9 383.5 150.8M383.8 155.0Q387.4 159.5 391.4 163.6M341.4 127.0Q343.2 130.6 346.6 132.8M320.5 177.4Q322.1 180.7 324.3 183.7M359.7 147.4Q358.1 147.2 356.6 147.7M400.9 101.3Q398.2 101.2 396.3 103.2M306.5 157.6Q310.7 161.0 312.7 166.2M322.8 132.6Q324.1 133.6 324.4 135.3M316.7 169.8Q316.0 173.8 318.3 177.1M395.7 130.7Q394.4 135.6 389.8 137.8M368.3 163.8Q368.5 165.6 370.0 166.6M384.3 88.9Q385.5 94.2 387.1 99.3M349.0 105.3Q344.1 107.1 338.9 106.9M335.8 166.0Q337.1 172.1 342.7 174.8M317.6 95.8Q319.1 100.5 322.7 103.8M362.2 152.6Q361.5 157.5 357.6 160.6M335.5 141.1Q338.9 143.3 340.4 147.2M355.0 170.8Q353.8 171.8 352.3 172.4M382.8 167.6Q380.6 170.5 377.0 171.2M406.8 128.9Q401.5 133.1 397.0 138.2M390.0 173.0Q387.1 173.4 384.3 173.3M405.3 162.4Q403.2 166.1 399.8 168.7M335.9 131.7Q331.3 135.5 328.9 141.0M339.2 183.1Q335.8 186.3 331.9 188.8M370.0 87.4Q364.6 90.7 359.2 94.2M394.7 174.9Q397.3 175.4 399.7 176.6M379.1 117.9Q373.0 121.7 370.4 128.4M358.7 180.8Q354.4 183.1 351.1 186.8M392.8 102.7Q395.8 102.7 398.2 104.6M317.7 133.4Q317.4 135.2 315.9 136.3M385.2 102.2Q382.4 101.2 379.8 102.8M361.9 131.2Q357.2 130.4 352.5 131.6M398.9 126.0Q403.1 131.9 401.4 138.9M395.2 158.1Q397.3 159.9 397.2 162.8M321.4 142.2Q322.0 144.9 323.2 147.5M375.7 140.1Q372.9 146.0 373.3 152.5M379.1 158.3Q374.8 159.8 373.2 164.0M351.9 100.5Q353.9 105.8 354.2 111.5M311.0 132.2Q311.5 136.4 315.0 138.8M312.1 176.3Q308.5 182.9 304.5 189.2M327.9 103.8Q325.3 104.0 322.6 104.2M317.3 88.7Q318.5 90.0 320.1 90.6M319.1 173.0Q323.9 178.4 326.2 185.3M365.5 150.7Q367.3 151.6 368.6 153.3M308.2 116.6Q309.9 118.1 310.8 120.2M349.8 119.9Q353.5 120.8 355.0 124.2M306.4 164.0Q306.1 166.3 307.0 168.4M382.8 146.6Q382.7 149.1 384.0 151.1M323.1 87.5Q324.5 91.2 322.6 94.8M369.9 166.8Q372.8 166.7 375.0 168.7M395.3 123.9Q393.7 125.0 391.8 124.5M332.0 90.7Q330.2 91.3 328.3 91.0M354.2 166.0Q354.4 168.9 353.8 171.7M333.5 166.1Q338.5 171.6 346.0 172.2M386.2 113.4Q388.0 120.8 383.5 127.1M354.8 143.5Q361.5 147.3 369.1 146.6M351.1 175.8Q349.7 177.2 347.8 177.8M345.4 137.8Q347.8 140.5 349.7 143.6M401.9 137.3Q402.8 138.5 403.9 139.6M326.2 109.4Q332.9 108.6 338.8 111.8M369.7 160.0Q372.3 165.1 373.4 170.7M326.2 153.0Q330.3 157.9 336.7 158.1M399.5 165.9Q400.0 167.4 400.4 169.0M337.7 104.1Q336.9 110.8 338.2 117.4M402.3 113.1Q401.0 114.1 399.3 113.8M371.7 142.4Q371.4 144.5 370.3 146.3M312.6 176.6Q311.2 179.7 307.9 180.5M359.5 167.4Q360.6 171.7 362.8 175.6M405.1 167.2Q403.2 167.7 401.3 168.1M331.3 167.8Q333.5 168.6 335.9 168.5M376.4 146.1Q377.6 147.5 379.2 148.3M329.1 173.6Q333.0 173.5 336.1 175.8M321.7 100.6Q318.8 105.8 318.0 111.7M327.1 127.3Q326.5 128.9 326.0 130.5M361.3 154.4Q357.1 160.6 350.2 163.2M326.3 118.3Q326.7 119.9 325.8 121.3M334.4 151.3Q341.1 152.6 347.8 153.5M342.0 114.6Q335.9 113.6 330.6 116.7M380.7 101.3Q375.8 103.7 372.4 107.9M385.6 106.2Q385.1 112.3 389.1 117.0M374.1 89.1Q375.1 91.5 376.3 93.7M392.3 176.4Q390.9 177.1 389.3 176.9M313.2 143.6Q314.4 145.1 314.0 147.0M336.4 141.9Q337.7 143.1 337.6 144.9M343.9 103.5Q345.7 109.2 350.4 112.8" stroke="rgb(222,222,222)" stroke-width="0.5" fill="none"/>
<path d="M325.7 154.1Q330.2 157.0 331.5 162.1M354.6 90.2Q354.1 91.7 354.3 93.3M382.2 157.7Q386.0 159.6 389.6 161.7M377.3 108.6Q380.4 112.8 384.3 116.3M353.8 114.4Q355.1 115.3 356.6 115.9M375.6 180.7Q376.8 185.7 380.6 189.1M388.6 135.9Q395.7 136.0 401.7 139.9M339.1 116.5Q337.6 119.8 337.1 123.5M368.2 96.3Q375.2 93.6 381.8 97.0M338.9 97.8Q343.5 101.7 345.9 107.2M381.7 166.6Q380.5 172.2 382.8 177.5M320.9 134.2Q322.3 138.8 320.6 143.3M314.7 147.6Q312.2 148.7 309.4 148.9M393.5 110.5Q398.4 113.8 403.5 117.0M314.6 114.9Q311.6 114.6 309.3 116.5M396.3 177.2Q398.1 177.4 399.8 177.6M388.0 114.3Q389.0 116.9 391.4 118.5M367.1 142.7Q366.9 147.5 368.8 151.9M308.9 170.1Q315.4 170.9 320.7 174.7M316.7 119.1Q313.6 123.4 314.7 128.6M368.5 152.9Q368.6 156.7 365.8 159.3M345.0 159.1Q344.2 160.5 343.0 161.6M307.3 160.3Q312.1 165.0 315.6 170.7M370.8 160.3Q368.3 164.1 365.8 167.7M372.4 101.9Q371.4 106.3 371.6 110.8M376.6 97.6Q375.0 99.6 372.6 100.3M369.5 108.2Q369.4 110.0 368.7 111.6M400.0 93.1Q398.7 96.3 395.5 97.4M388.2 103.1Q382.9 107.0 378.5 111.9M358.0 115.2Q358.6 117.1 357.9 119.0M345.0 158.1Q349.8 162.1 350.1 168.3M386.9 95.8Q390.3 100.4 390.7 106.2M330.1 95.5Q328.0 99.1 324.0 100.2M325.1 95.1Q324.3 100.5 322.1 105.6M337.5 153.7Q336.4 154.9 334.7 155.0M340.0 163.2Q346.7 166.5 348.6 173.7M341.9 122.9Q341.0 124.3 341.3 125.9M369.3 142.4Q373.3 142.3 375.7 145.4M369.7 87.0Q368.8 92.8 370.0 98.6M381.6 111.1Q381.4 113.3 381.4 115.4M355.5 162.4Q353.7 164.1 351.3 164.0M341.8 104.9Q339.7 109.9 342.2 114.6M383.3 184.9Q386.2 186.9 389.6 188.2M341.0 117.6Q343.4 117.8 345.8 117.6M311.5 145.4Q308.9 147.1 305.8 147.6M382.6 94.3Q381.6 97.3 379.2 99.3M330.4 172.1Q330.1 173.6 329.6 175.1M321.3 170.0Q321.2 172.9 319.7 175.5M309.0 138.3Q310.2 141.9 309.2 145.5M344.1 123.1Q344.6 124.6 345.2 126.1M337.8 93.0Q330.5 94.2 325.6 99.9M340.2 135.4Q336.5 142.7 328.7 144.9M393.6 100.9Q392.4 101.9 390.9 102.3M340.1 142.0Q335.6 142.6 331.6 144.9M306.4 85.6Q309.9 90.9 314.0 96.0M372.6 184.4Q370.6 184.4 368.7 184.8M343.6 154.6Q342.3 159.2 344.6 163.4M363.8 135.9Q359.8 135.6 356.9 138.4M403.8 106.0Q402.3 106.7 400.7 107.1M369.0 140.8Q375.0 143.5 379.4 148.3M398.7 127.8Q394.0 130.4 392.8 135.7M334.6 134.6Q333.8 136.9 332.3 138.7M373.9 175.9Q369.8 178.1 366.3 181.0M348.3 97.4Q352.8 102.0 352.7 108.4M313.0 168.4Q314.7 168.4 315.7 169.7M392.9 89.4Q389.7 95.2 384.5 99.2M312.2 140.9Q313.9 140.8 315.4 141.5M311.8 151.2Q312.3 154.9 309.8 157.8M313.1 100.0Q316.3 105.6 314.3 111.7M324.7 139.9Q326.1 142.1 327.4 144.3M320.7 124.1Q325.3 126.9 328.9 131.0M307.9 137.5Q313.6 139.7 317.7 144.3M403.8 88.0Q401.2 92.9 396.8 96.0M367.7 148.8Q366.1 148.9 364.6 149.6M332.5 165.7Q334.2 165.0 335.8 165.8M327.4 171.9Q323.3 174.3 319.2 176.7M377.0 178.1Q372.9 182.8 371.5 188.9M401.5 99.6Q399.3 100.2 397.5 101.6M379.5 140.5Q381.2 141.1 382.2 142.5M323.6 107.7Q317.5 108.8 311.9 111.8M397.7 159.0Q390.8 161.7 383.6 163.4M330.0 117.7Q331.9 120.5 335.3 120.9M377.9 103.1Q380.3 105.7 379.8 109.3M312.2 86.6Q313.2 92.7 312.7 98.9M313.4 117.0Q313.6 121.2 316.4 124.3M352.9 174.9Q355.0 174.6 356.7 175.8M394.5 107.7Q395.2 109.1 396.4 110.2M394.7 130.7Q393.0 131.8 391.8 133.5M332.4 160.4Q331.3 161.8 330.9 163.5M343.7 152.1Q340.6 153.4 339.3 156.5M342.3 181.4Q340.2 180.8 338.3 182.0" stroke="rgb(222,222,222)" stroke-width="0.6" fill="none"/>
<path d="M393.2 101.9Q398.2 106.1 398.2 112.7M320.2 124.1Q319.7 130.1 315.0 133.8M381.6 170.5Q385.5 176.0 385.9 182.6M403.3 98.7Q403.6 101.3 401.8 103.0M383.9 149.8Q386.8 152.5 390.7 152.9M381.5 124.9Q379.1 129.6 380.5 134.8M365.3 156.3Q360.2 158.0 355.2 160.0M359.5 178.2Q357.6 180.1 355.4 181.8M334.4 165.0Q331.8 167.4 329.3 170.0M370.2 133.3Q369.3 134.9 368.6 136.6M345.5 136.3Q341.9 140.8 336.3 141.9M340.5 146.6Q343.5 150.0 346.7 153.1M393.2 153.1Q395.1 154.8 397.7 154.9M380.4 131.5Q383.8 136.7 384.2 142.9M377.7 162.7Q378.5 167.2 382.2 170.1M395.9 176.5Q392.0 182.3 385.0 183.2M316.9 130.5Q320.1 129.9 323.2 131.0M313.6 145.6Q317.2 151.2 316.8 157.8M364.6 86.5Q367.9 90.7 372.2 93.9M360.2 105.0Q359.7 106.5 360.1 108.0M322.2 153.4Q327.1 156.6 332.7 155.0M353.7 154.1Q348.3 158.0 343.8 163.1M349.5 172.2Q350.1 176.6 349.5 181.0M376.9 148.3Q376.6 150.9 375.4 153.3M328.5 94.3Q323.2 94.2 318.0 95.6M388.3 150.3Q391.6 149.0 394.9 150.4M328.6 171.2Q328.5 174.0 327.5 176.7M400.2 123.3Q396.2 127.6 392.5 132.1M375.3 139.8Q368.6 139.2 362.0 140.3M329.4 159.7Q332.2 166.4 331.4 173.6M342.5 171.9Q338.6 173.8 334.2 173.8M393.3 151.7Q394.9 152.8 395.1 154.7M321.1 90.1Q322.4 95.3 320.2 100.2M317.2 169.6Q316.0 171.3 315.4 173.2M347.2 92.1Q347.2 93.7 347.8 95.3M380.9 118.3Q374.0 119.2 367.7 122.2M308.4 114.7Q307.3 116.5 305.2 116.8M349.9 154.9Q354.7 159.7 356.1 166.3M404.5 114.0Q402.6 115.2 400.5 116.0M328.6 158.9Q327.4 160.4 327.8 162.2M324.7 95.3Q328.3 99.0 328.7 104.1M392.3 185.5Q389.1 185.6 387.1 188.2M339.2 170.3Q339.3 173.9 337.6 177.0M338.9 114.1Q340.2 120.1 338.0 125.8M332.7 105.4Q330.8 105.6 329.0 106.4M316.4 138.8Q320.5 143.6 322.7 149.6M394.4 114.0Q391.9 120.6 391.7 127.7M394.7 146.9Q400.2 151.5 403.8 157.8M372.3 119.1Q370.4 124.8 368.9 130.6M361.5 139.5Q364.3 141.0 366.2 143.6M383.2 104.2Q380.6 109.7 375.3 112.8M342.5 179.5Q346.1 181.1 349.7 182.5M371.8 87.9Q377.5 89.1 380.1 94.2M378.9 147.7Q379.2 152.3 377.5 156.5M379.6 113.3Q380.8 115.4 382.5 117.1M388.8 114.0Q387.9 115.9 386.2 116.9M390.6 118.6Q386.6 125.7 389.7 133.3M387.7 128.4Q387.6 130.8 389.0 132.9M298.8 153.0Q305.6 154.7 312.5 155.6M350.8 168.5Q352.0 173.4 355.9 176.5M324.0 173.5Q326.1 173.7 328.0 174.2M372.1 130.7Q366.5 132.3 360.8 131.1M326.0 160.3Q324.6 160.9 323.0 161.0M340.8 145.7Q347.7 145.0 354.6 146.6M401.1 137.6Q400.9 144.9 404.5 151.4M390.8 113.5Q389.6 119.7 389.9 126.0M353.1 141.5Q350.7 140.9 348.6 142.3M323.2 151.5Q321.0 152.5 318.9 153.7M355.6 169.6Q347.8 169.9 342.5 175.7M324.1 92.7Q323.6 97.5 319.9 100.4M329.0 132.3Q322.5 133.6 319.5 139.4M313.4 110.0Q310.7 111.3 307.9 112.4M398.2 161.6Q398.8 164.2 398.1 166.7M319.9 158.0Q314.7 159.4 310.4 162.9M368.0 90.7Q363.3 93.0 362.3 98.2M393.4 93.2Q390.7 95.1 387.4 95.5M312.9 147.6Q311.6 148.8 310.1 149.6M377.7 185.0Q379.1 186.2 380.9 186.1M347.0 116.0Q346.8 119.9 345.0 123.3M373.3 132.1Q371.7 133.2 369.9 133.1M374.0 125.9Q370.9 128.2 368.4 131.0M387.6 105.0Q386.1 105.6 384.5 105.9M347.2 163.0Q351.3 166.9 356.3 169.4M352.1 108.5Q352.9 112.1 354.3 115.6M312.1 162.5Q314.9 166.5 318.8 169.3M388.8 133.5Q387.3 133.1 385.8 133.7M313.5 89.5Q310.2 92.2 307.0 95.0M380.4 152.4Q382.4 151.7 384.2 153.0M315.8 138.9Q320.7 144.5 325.4 150.2M349.5 122.5Q347.2 127.8 347.3 133.5M395.4 128.1Q397.8 133.0 402.2 136.2M375.7 134.5Q382.5 134.9 388.2 138.4M322.6 184.7Q329.6 185.9 336.5 187.7M385.7 173.1Q381.8 175.6 378.1 178.5M359.9 98.3Q355.0 100.6 349.9 99.0M356.5 114.3Q357.5 115.5 357.6 117.1M407.2 102.9Q401.6 102.3 396.2 103.8M331.3 151.3Q328.7 151.5 327.0 153.6M345.5 119.2Q346.5 120.4 347.8 121.2M339.2 168.9Q338.9 173.9 335.6 177.7M377.3 122.2Q381.0 124.7 382.9 128.8M384.7 129.0Q385.3 131.5 387.4 133.0M318.4 120.5Q319.2 122.3 320.4 123.9M352.9 130.7Q351.6 136.4 350.3 142.0M311.9 107.1Q313.2 113.2 317.5 117.8M308.7 93.3Q308.2 94.8 307.3 96.2M312.8 142.2Q310.8 143.5 309.9 145.6M361.8 94.5Q364.9 97.1 365.1 101.1M377.4 152.0Q376.0 156.9 377.3 161.9M349.9 145.8Q352.3 146.0 354.7 146.0" stroke="rgb(222,222,222)" stroke-width="0.7" fill="none"/>
<path d="M294.7 151.3Q309.3 155.1 324.0 157.7M328.1 145.2Q323.1 163.0 320.8 181.3" stroke="rgb(225,225,225)" stroke-width="0.5" fill="none"/>
<path d="M335.0 84.2Q352.3 91.2 369.6 98.2M368.5 149.2Q354.4 156.6 341.6 166.0M320.0 157.2Q306.5 167.3 293.1 177.5M320.7 117.6Q313.8 132.7 307.0 148.0M349.9 97.3Q343.5 120.5 334.8 142.8M368.8 141.5Q344.4 151.8 322.5 166.8M342.6 137.6Q348.1 156.8 349.9 176.7" stroke="rgb(225,225,225)" stroke-width="0.6" fill="none"/>
<path d="M373.4 151.0Q391.7 162.5 409.4 174.9M368.1 166.8Q358.0 170.3 347.3 171.0M340.2 157.0Q333.5 174.6 331.5 193.4" stroke="rgb(225,225,225)" stroke-width="0.7" fill="none"/>
<path d="M320.0 146.4Q318.4 145.8 316.9 146.6M368.7 124.0Q368.8 126.6 369.1 129.3M348.7 92.9Q351.2 94.4 352.1 97.1M311.9 153.0Q308.3 157.4 304.4 161.6M378.8 180.6Q382.7 182.9 387.0 183.8M392.3 174.0Q394.9 181.1 394.2 188.7M311.5 117.6Q309.9 120.0 308.2 122.3M358.4 126.0Q361.5 128.6 364.1 131.7M336.8 89.1Q340.0 91.7 340.4 95.7M386.4 124.3Q385.9 129.9 381.8 133.7M393.2 144.0Q388.4 149.8 382.3 154.3M330.8 166.5Q329.2 168.9 330.1 171.6M371.4 154.6Q371.0 156.7 369.5 158.2M378.5 176.0Q379.9 177.4 381.9 177.2M381.6 184.8Q381.8 187.4 384.0 188.9M358.6 155.8Q358.8 159.5 357.0 162.7M355.4 133.0Q354.0 139.3 355.9 145.5M325.8 124.7Q329.6 130.8 333.6 136.9M362.8 184.0Q366.6 188.1 371.9 190.0M352.6 116.5Q350.9 116.4 349.3 117.1M331.6 91.1Q330.4 92.2 328.7 92.4M389.2 160.1Q392.6 161.1 394.8 163.8M392.1 167.4Q385.2 170.0 379.6 175.0M347.3 164.2Q342.0 168.8 341.5 175.9M340.8 88.4Q337.8 94.1 334.2 99.4M406.4 140.8Q401.0 140.0 395.9 141.9M355.8 175.0Q357.4 175.1 359.0 175.1M308.0 146.2Q310.0 148.7 312.0 151.3M324.2 83.4Q319.8 89.3 319.8 96.8M339.9 158.0Q339.0 162.7 340.8 167.2M336.1 112.1Q330.5 111.8 326.0 115.0M389.5 121.3Q384.3 125.5 377.8 127.0M364.4 90.7Q363.6 96.9 358.5 100.7M321.3 181.4Q323.0 182.5 324.7 183.5M379.0 132.0Q380.0 134.0 381.9 135.2M306.1 91.9Q307.8 98.9 312.8 104.3M392.8 127.4Q389.6 128.3 387.1 130.5M362.0 157.7Q363.7 158.8 365.5 159.6M344.3 177.2Q346.5 179.7 347.4 182.8M367.1 130.8Q372.6 134.2 375.7 140.0M400.5 176.9Q402.5 176.8 404.4 177.1M376.7 155.2Q372.7 158.6 368.4 161.7M307.8 138.3Q314.3 137.3 320.7 138.9M399.1 91.2Q405.1 93.2 407.9 98.9M320.0 133.6Q316.6 140.3 310.7 144.7M395.8 142.3Q393.1 144.0 389.9 143.8M329.3 175.9Q325.9 180.9 325.0 186.9M326.6 128.3Q329.2 130.6 332.1 132.8M321.9 179.0Q317.3 180.4 313.7 183.6M373.8 163.7Q370.3 164.4 366.9 165.3M372.7 130.4Q372.5 133.5 372.3 136.7M350.8 157.3Q353.3 162.2 352.2 167.5M323.2 110.2Q324.8 113.9 325.6 117.8M367.4 139.9Q360.6 139.7 353.9 141.3M332.4 114.8Q334.4 116.5 335.0 119.0M346.3 157.7Q350.5 155.8 354.6 157.9M402.4 116.0Q403.2 121.8 404.4 127.5M399.3 121.4Q396.1 122.6 394.4 125.6M350.1 122.5Q352.3 129.1 350.5 135.9M396.0 116.6Q395.2 122.9 391.0 127.6M398.1 175.6Q397.9 177.4 398.9 179.0M362.5 158.1Q358.3 157.7 355.4 160.9M358.6 112.6Q359.4 114.2 360.6 115.4M396.6 108.3Q389.5 108.4 385.3 114.1M363.8 128.7Q364.2 130.6 365.7 131.8M312.0 183.5Q309.5 186.0 306.0 185.9M345.5 130.0Q347.6 131.6 349.4 133.3M311.4 146.9Q307.8 152.3 308.9 158.8M322.3 144.9Q324.8 146.3 327.4 147.4M338.4 167.1Q337.1 168.3 335.5 168.8M391.6 173.7Q394.4 178.3 393.1 183.5M396.2 106.2Q391.2 111.0 390.9 118.0M314.8 136.1Q316.4 135.7 317.8 136.6M369.8 180.1Q368.2 184.9 367.7 189.8M397.5 138.6Q393.2 143.9 386.6 145.6M379.2 100.0Q377.8 103.2 379.0 106.4M368.1 97.1Q370.8 102.9 370.0 109.3M320.3 109.3Q322.0 110.4 323.6 111.8M325.8 183.4Q324.6 187.1 324.0 190.8M356.0 104.2Q356.1 107.5 357.6 110.3M327.5 155.6Q329.9 156.6 331.4 158.8M391.6 175.9Q393.5 177.4 395.5 178.6M349.8 98.0Q352.1 105.4 359.0 108.9M308.2 166.8Q307.0 168.3 307.2 170.2M315.2 111.7Q318.1 118.4 324.9 121.3M356.1 156.8Q354.5 157.2 353.3 158.5M320.7 151.3Q319.0 152.0 317.3 151.4M385.2 96.0Q387.9 97.0 389.2 99.5M330.5 138.0Q327.2 139.9 326.3 143.7" stroke="rgb(240,240,240)" stroke-width="0.5" fill="none"/>
<path d="M369.5 113.7Q364.7 117.8 360.7 122.7M342.8 87.0Q343.6 91.4 343.4 95.9M353.3 148.2Q351.7 154.1 352.4 160.1M369.3 120.4Q367.4 121.9 365.1 121.9M308.1 185.4Q306.6 186.3 306.4 188.0M382.4 117.8Q383.9 118.6 384.9 120.1M307.9 130.9Q305.8 136.7 306.5 142.8M379.4 117.5Q379.0 119.5 378.8 121.6M348.6 175.2Q342.6 179.5 335.7 182.1M402.5 161.0Q394.7 162.5 389.9 168.8M359.8 128.5Q363.0 131.9 367.6 132.8M365.7 126.5Q367.6 127.9 369.9 127.6M313.6 168.3Q312.0 169.3 310.0 169.4M313.0 169.0Q317.0 169.1 319.8 171.9M328.5 108.6Q331.2 114.5 336.7 118.1M355.7 131.8Q358.3 137.8 363.9 141.1M321.8 122.5Q318.1 124.4 317.4 128.4M330.4 185.2Q337.7 183.6 344.0 187.7M331.0 167.0Q331.7 169.0 331.8 171.0M333.3 178.2Q332.9 180.7 333.7 183.1M345.2 172.7Q343.4 180.4 348.6 186.5M334.1 172.3Q327.0 169.4 320.3 173.1M375.6 100.9Q377.1 105.0 378.1 109.2M360.7 107.2Q367.6 108.4 374.1 110.8M386.5 150.8Q383.1 156.2 379.6 161.6M342.3 169.6Q344.7 174.0 343.5 178.9M377.4 156.8Q381.4 155.2 385.3 157.3M379.7 155.4Q383.3 158.2 386.0 161.8M330.4 179.4Q333.7 184.1 332.5 189.6M388.7 120.7Q381.5 119.7 374.5 121.8M339.8 100.1Q337.4 102.2 334.3 102.9M315.1 112.7Q317.2 113.3 319.3 113.3M382.1 143.1Q383.7 143.7 385.2 144.3M381.4 102.1Q387.5 106.6 391.6 113.0M345.7 104.9Q342.5 109.7 343.8 115.2M394.4 111.3Q391.4 114.7 389.9 119.0M398.6 145.2Q399.7 147.1 399.8 149.4M358.9 173.4Q365.0 175.2 369.4 179.8M391.4 118.7Q391.7 122.0 389.7 124.6M317.5 146.8Q321.8 148.6 324.5 152.5M395.6 140.2Q391.8 139.9 388.3 141.2M395.2 168.3Q389.5 172.7 385.2 178.3M340.9 114.7Q341.1 116.3 340.1 117.6M352.6 184.0Q350.3 184.8 348.0 184.3M321.1 134.0Q320.8 135.7 320.5 137.4M371.6 130.3Q366.9 134.5 362.4 139.0M381.8 134.6Q383.8 136.0 385.0 138.1M357.0 178.9Q358.1 180.8 359.4 182.5M313.8 167.9Q316.7 173.3 317.5 179.5M366.4 119.9Q366.9 121.4 366.2 122.9M393.3 114.6Q398.6 117.3 399.8 123.1M322.9 139.5Q324.7 141.8 327.6 142.2M326.9 95.6Q332.2 100.1 337.3 104.9M341.8 113.9Q345.5 117.6 350.5 119.0M341.1 146.1Q340.1 152.4 344.5 157.0M358.0 142.9Q357.3 145.4 356.0 147.5M386.2 126.5Q383.4 131.3 381.8 136.7M395.3 123.5Q397.5 122.8 399.5 124.1M344.1 121.3Q342.6 121.8 341.5 123.1M394.5 104.5Q393.1 108.8 389.4 111.6M372.6 100.7Q374.0 103.8 374.9 107.0M349.3 168.2Q349.2 170.6 349.9 172.9M403.7 150.3Q398.2 151.4 394.4 155.4M384.7 103.2Q379.6 109.2 380.6 117.1M311.9 162.3Q312.1 165.6 311.8 169.0M371.9 130.4Q368.5 136.7 361.9 139.5M315.3 103.8Q317.0 104.6 318.9 104.3M398.5 128.4Q397.1 134.3 392.5 138.1M320.7 108.4Q323.1 111.0 324.9 114.0M375.1 158.6Q371.0 160.8 368.2 164.5M355.2 165.8Q358.4 172.5 362.2 178.8M343.4 166.4Q339.6 166.7 335.8 167.5M309.8 101.8Q310.6 103.6 312.5 104.2M350.1 112.9Q354.0 114.5 356.0 118.3M392.4 96.8Q393.5 99.6 395.4 102.0M339.5 152.9Q338.0 154.5 336.9 156.2M327.6 98.3Q326.0 101.5 324.1 104.5M328.9 102.1Q331.8 106.2 333.6 110.8M401.0 176.1Q395.9 177.9 390.6 176.4M327.2 95.5Q321.7 98.2 317.1 102.1M382.2 94.7Q382.5 99.4 384.5 103.6M403.3 148.6Q401.1 151.7 400.8 155.5M373.2 118.8Q377.0 119.4 380.7 120.3M332.2 102.6Q330.8 103.6 329.0 103.8M339.4 101.6Q338.1 105.6 338.6 109.9M385.7 160.2Q381.8 158.5 378.1 160.5M374.2 167.8Q375.8 175.0 381.8 179.3M331.0 107.2Q328.7 108.2 327.3 110.3M350.0 149.9Q348.6 156.3 350.4 162.6M408.9 94.1Q403.8 97.7 397.6 97.9M325.8 126.6Q324.2 128.1 323.9 130.4M322.4 120.4Q320.7 122.1 320.4 124.5M323.1 104.1Q324.2 106.3 326.5 106.8M321.7 179.4Q322.6 182.5 320.7 185.1M399.9 99.2Q398.5 100.6 396.8 101.3" stroke="rgb(240,240,240)" stroke-width="0.6" fill="none"/>
<path d="M321.8 138.7Q318.5 140.1 315.0 140.5M392.4 179.4Q391.4 182.0 389.5 184.0M318.8 178.4Q317.1 179.2 315.6 180.3M344.9 97.0Q342.1 100.7 340.0 104.9M362.0 109.7Q363.0 112.4 364.8 114.5M380.8 177.0Q385.5 182.1 392.4 182.8M310.8 101.2Q307.6 102.3 306.5 105.5M386.0 150.1Q383.7 153.9 380.0 156.3M385.5 182.4Q384.3 183.4 383.8 184.9M329.4 183.1Q326.3 184.8 322.8 184.2M394.6 99.4Q393.9 103.6 390.7 106.5M377.7 138.5Q374.4 145.4 375.8 152.8M342.7 169.0Q342.4 175.8 344.5 182.3M390.8 141.0Q397.6 143.7 400.4 150.6M365.7 91.2Q365.7 92.7 365.5 94.2M324.9 103.4Q329.0 106.6 330.3 111.7M341.9 159.7Q345.2 164.3 347.2 169.7M385.4 183.1Q389.5 185.6 391.3 190.0M398.3 151.6Q400.7 155.0 400.9 159.1M330.4 113.1Q325.1 118.1 320.2 123.6M346.9 104.0Q341.8 105.0 336.6 106.1M330.3 145.8Q334.0 146.2 337.7 146.6M396.5 155.7Q396.1 157.2 396.1 158.8M363.5 111.1Q357.9 116.2 355.9 123.5M378.2 106.3Q371.0 105.6 365.4 110.1M386.6 154.7Q385.3 155.6 383.9 156.3M407.3 87.2Q403.4 90.1 398.9 91.9M377.5 88.0Q377.5 89.7 377.0 91.4M316.7 142.1Q315.4 143.2 313.8 143.1M329.3 94.0Q330.7 96.3 330.1 98.9M370.1 133.3Q368.0 138.8 370.5 144.2M345.2 163.1Q338.7 164.4 333.0 167.8M350.7 140.6Q356.3 145.5 358.8 152.5M320.9 122.5Q315.1 121.3 309.4 122.7M313.2 158.5Q319.8 162.2 327.0 159.8M366.7 155.8Q363.8 158.7 361.1 161.8M389.5 150.2Q391.9 150.3 394.2 150.8M373.6 181.8Q378.6 180.1 383.4 182.1M387.4 148.9Q390.6 153.1 395.9 153.4M368.2 126.3Q365.1 130.6 365.9 135.9M338.1 141.5Q336.2 143.7 334.7 146.2M353.4 156.4Q360.7 159.7 368.0 156.7M332.9 163.9Q330.1 165.7 327.2 167.5M321.8 139.6Q319.8 139.4 317.9 139.9M358.9 127.1Q359.1 130.8 362.1 132.9M368.3 137.9Q367.4 139.3 367.1 141.0M390.5 93.0Q397.8 91.9 404.9 94.3M360.6 112.0Q358.1 113.1 355.3 112.7M373.0 102.5Q372.1 104.1 372.5 105.9M344.1 135.0Q345.3 136.8 344.9 139.0M315.2 128.6Q310.5 129.0 306.4 131.5M374.4 138.7Q377.4 138.0 380.0 139.6M321.0 175.9Q326.3 176.0 331.6 176.7M400.2 131.8Q400.3 133.9 399.9 136.0M320.3 110.3Q327.6 113.1 331.4 120.0M407.1 118.2Q403.1 117.4 399.2 118.3M338.4 145.1Q336.4 147.2 334.0 148.7M328.4 102.7Q326.4 103.6 324.7 105.0M347.8 101.4Q341.1 103.5 337.0 109.3M329.3 177.4Q331.7 178.2 334.2 177.4M365.0 96.7Q366.6 98.1 366.9 100.1M318.9 123.9Q318.8 125.7 318.7 127.4M331.4 151.1Q330.3 152.5 330.3 154.2M351.6 163.4Q355.7 165.7 358.5 169.4M397.9 132.9Q391.7 137.0 385.7 141.4M357.4 118.2Q358.8 119.7 359.3 121.7M372.0 124.0Q370.2 124.1 368.5 124.1M334.6 110.0Q331.1 114.0 332.1 119.3M376.8 136.4Q379.0 139.4 382.4 140.9M397.0 145.6Q398.0 148.4 396.8 151.2M336.2 152.1Q333.6 159.0 328.2 163.9M388.2 136.4Q387.5 144.3 381.1 148.9M393.2 154.6Q395.4 154.7 397.6 155.1M382.9 123.3Q384.6 125.0 384.7 127.3M380.7 181.0Q374.8 185.7 370.1 191.4M336.6 151.3Q332.6 155.7 330.4 161.2M386.9 136.3Q387.9 137.8 387.6 139.5M309.6 151.8Q313.0 154.8 317.5 155.9M368.7 90.3Q368.8 91.9 368.4 93.4M328.3 105.2Q323.5 103.1 318.7 105.4M362.8 109.1Q369.4 111.7 376.4 112.3M313.1 139.3Q318.8 143.0 324.9 146.3M360.3 108.0Q357.6 109.1 355.2 110.9M401.7 102.2Q403.4 103.2 405.3 103.3M386.6 164.5Q387.2 168.0 389.9 170.3M400.8 119.5Q401.4 121.0 401.5 122.7M326.2 134.3Q331.3 134.3 334.5 138.3M321.8 148.5Q328.3 149.9 335.0 149.3M315.1 134.0Q319.8 135.0 322.7 138.8M303.8 172.0Q306.2 173.8 308.3 176.0M383.3 164.8Q378.5 169.9 371.7 171.7M327.4 97.3Q325.5 104.4 322.7 111.1M311.7 100.0Q313.3 101.3 313.5 103.4M390.5 98.6Q394.4 102.6 397.0 107.6M380.5 119.6Q377.6 123.8 372.5 124.5M335.1 122.1Q333.4 129.4 336.7 136.1M301.3 90.2Q308.3 92.0 313.4 97.1M370.0 125.7Q368.7 127.0 367.1 128.0M391.7 165.9Q387.7 169.0 387.0 174.0M311.2 177.4Q312.8 176.8 314.2 177.6M355.0 180.3Q361.2 184.1 368.2 182.2" stroke="rgb(240,240,240)" stroke-width="0.7" fill="none"/>
</g>
<path d="M400.5 179.6a2.2 1.8 0 1 0 4.4 0a2.2 1.8 0 1 0 -4.4 0M374.5 128.1a3.0 2.4 0 1 0 6.1 0a3.0 2.4 0 1 0 -6.1 0M336.6 161.7a2.3 1.8 0 1 0 4.5 0a2.3 1.8 0 1 0 -4.5 0M385.4 169.7a3.4 2.7 0 1 0 6.7 0a3.4 2.7 0 1 0 -6.7 0M316.1 120.3a2.5 2.0 0 1 0 4.9 0a2.5 2.0 0 1 0 -4.9 0M310.6 137.8a3.5 2.8 0 1 0 7.0 0a3.5 2.8 0 1 0 -7.0 0M399.5 99.7a2.1 1.6 0 1 0 4.1 0a2.1 1.6 0 1 0 -4.1 0M314.2 153.0a4.1 3.3 0 1 0 8.3 0a4.1 3.3 0 1 0 -8.3 0M304.8 159.7a3.4 2.7 0 1 0 6.7 0a3.4 2.7 0 1 0 -6.7 0M380.8 142.8a3.9 3.2 0 1 0 7.9 0a3.9 3.2 0 1 0 -7.9 0M360.7 186.9a4.7 3.8 0 1 0 9.5 0a4.7 3.8 0 1 0 -9.5 0M368.5 182.5a2.6 2.1 0 1 0 5.2 0a2.6 2.1 0 1 0 -5.2 0M378.6 118.0a4.2 3.4 0 1 0 8.5 0a4.2 3.4 0 1 0 -8.5 0M304.7 125.9a5.4 4.3 0 1 0 10.7 0a5.4 4.3 0 1 0 -10.7 0M333.6 166.2a4.2 3.3 0 1 0 8.4 0a4.2 3.3 0 1 0 -8.4 0M345.3 177.1a3.3 2.7 0 1 0 6.6 0a3.3 2.7 0 1 0 -6.6 0M325.3 128.8a4.1 3.3 0 1 0 8.2 0a4.1 3.3 0 1 0 -8.2 0M371.2 140.4a5.4 4.3 0 1 0 10.8 0a5.4 4.3 0 1 0 -10.8 0M304.2 128.7a2.9 2.3 0 1 0 5.7 0a2.9 2.3 0 1 0 -5.7 0M358.9 158.3a4.1 3.2 0 1 0 8.1 0a4.1 3.2 0 1 0 -8.1 0M341.7 139.7a4.9 3.9 0 1 0 9.9 0a4.9 3.9 0 1 0 -9.9 0M358.5 92.5a4.5 3.6 0 1 0 9.0 0a4.5 3.6 0 1 0 -9.0 0M315.0 135.6a3.7 3.0 0 1 0 7.4 0a3.7 3.0 0 1 0 -7.4 0M350.6 130.7a3.7 3.0 0 1 0 7.5 0a3.7 3.0 0 1 0 -7.5 0M379.9 119.8a2.4 1.9 0 1 0 4.8 0a2.4 1.9 0 1 0 -4.8 0M367.4 183.6a3.6 2.9 0 1 0 7.2 0a3.6 2.9 0 1 0 -7.2 0M345.5 171.2a3.5 2.8 0 1 0 7.0 0a3.5 2.8 0 1 0 -7.0 0M370.3 159.4a2.4 1.9 0 1 0 4.8 0a2.4 1.9 0 1 0 -4.8 0" fill="#161616" opacity="0.6" filter="url(#poreblur)"/>
</g>
<path d="M322.6 149.3L382 125M322.90000000000003 150.4L382.3 126.1M330 168L352.3 134.5M330.3 169.1L352.6 135.6" stroke="#d6d6d6" stroke-width="0.75" opacity="0.7" fill="none" clip-path="url(#semclip103)" filter="url(#semblur)"/>
<ellipse cx="390" cy="115" rx="10" ry="10" fill="#000" opacity="0.15" filter="url(#softblur)"/>
<rect x="305.5" y="187.2" width="98.10000000000002" height="10.100000000000023" fill="#fff"/>
<text x="307" y="189.8" font-family='"Liberation Sans", Arial, sans-serif' font-size="2.7" fill="#666" stroke="#999" stroke-width="0.15">HV: 10.00 kV</text>
<text x="328.5" y="189.8" font-family='"Liberation Sans", Arial, sans-serif' font-size="2.7" fill="#666" stroke="#999" stroke-width="0.15">WD: 7.20 mm</text>
<text x="352.5" y="189.8" font-family='"Liberation Sans", Arial, sans-serif' font-size="2.7" fill="#666" stroke="#999" stroke-width="0.15">SEM MAG: 50.0 kx</text>
<text x="385.5" y="189.8" font-family='"Liberation Sans", Arial, sans-serif' font-size="2.7" fill="#666" stroke="#999" stroke-width="0.15">VEGA3 TESCAN</text>
<text x="307" y="192.75" font-family='"Liberation Sans", Arial, sans-serif' font-size="2.7" fill="#666" stroke="#999" stroke-width="0.15">Det: SE 20.0 um</text>
<text x="328.5" y="192.75" font-family='"Liberation Sans", Arial, sans-serif' font-size="2.7" fill="#666" stroke="#999" stroke-width="0.15">View field: 4.15 um</text>
<text x="352.5" y="192.75" font-family='"Liberation Sans", Arial, sans-serif' font-size="2.7" fill="#666" stroke="#999" stroke-width="0.15">1 um</text>
<text x="307" y="195.7" font-family='"Liberation Sans", Arial, sans-serif' font-size="2.7" fill="#666" stroke="#999" stroke-width="0.15">SEM HV: 10.0 kV</text>
<text x="328.5" y="195.7" font-family='"Liberation Sans", Arial, sans-serif' font-size="2.7" fill="#666" stroke="#999" stroke-width="0.15">Date(m/d/y): 11/18/20</text>
<text x="308.6" y="21.8" font-family='"Liberation Sans", Arial, sans-serif' font-weight="bold" font-size="9.1" fill="#111" stroke="#111" stroke-width="0.15">(d) 20 mg/mL</text>
<line x1="103.9" y1="11.9" x2="103.9" y2="197.3" stroke="#fff" stroke-width="1.5"/>
<line x1="8.0" y1="7.9" x2="103.9" y2="7.9" stroke="#111" stroke-width="1.6" stroke-dasharray="13.7 5.5"/>
<line x1="12.5" y1="197.3" x2="103.9" y2="197.3" stroke="#111" stroke-width="1.6" stroke-dasharray="13.7 5.5"/>
<line x1="6.5" y1="12.0" x2="6.5" y2="197.3" stroke="#111" stroke-width="1.6" stroke-dasharray="13.7 5.5"/>
<line x1="103.9" y1="7.800000000000001" x2="103.9" y2="197.3" stroke="#111" stroke-width="1.6" stroke-dasharray="13.7 5.5"/>
<line x1="6.5" y1="88.0" x2="6.5" y2="197.3" stroke="#111" stroke-width="1.5"/>
<line x1="204.2" y1="11.9" x2="204.2" y2="197.3" stroke="#fff" stroke-width="1.5"/>
<line x1="107.9" y1="7.9" x2="204.2" y2="7.9" stroke="#111" stroke-width="1.6" stroke-dasharray="13.7 5.5"/>
<line x1="112.4" y1="197.3" x2="204.2" y2="197.3" stroke="#111" stroke-width="1.6" stroke-dasharray="13.7 5.5"/>
<line x1="106.4" y1="12.0" x2="106.4" y2="197.3" stroke="#111" stroke-width="1.6" stroke-dasharray="13.7 5.5"/>
<line x1="204.2" y1="7.800000000000001" x2="204.2" y2="197.3" stroke="#111" stroke-width="1.6" stroke-dasharray="13.7 5.5"/>
<line x1="106.4" y1="88.0" x2="106.4" y2="197.3" stroke="#111" stroke-width="1.5"/>
<line x1="303.8" y1="11.9" x2="303.8" y2="197.3" stroke="#fff" stroke-width="1.5"/>
<line x1="207.8" y1="7.9" x2="303.8" y2="7.9" stroke="#111" stroke-width="1.6" stroke-dasharray="13.7 5.5"/>
<line x1="212.3" y1="197.3" x2="303.8" y2="197.3" stroke="#111" stroke-width="1.6" stroke-dasharray="13.7 5.5"/>
<line x1="206.3" y1="12.0" x2="206.3" y2="197.3" stroke="#111" stroke-width="1.6" stroke-dasharray="13.7 5.5"/>
<line x1="303.8" y1="7.800000000000001" x2="303.8" y2="197.3" stroke="#111" stroke-width="1.6" stroke-dasharray="13.7 5.5"/>
<line x1="206.3" y1="88.0" x2="206.3" y2="197.3" stroke="#111" stroke-width="1.5"/>
<line x1="404.4" y1="11.9" x2="404.4" y2="197.3" stroke="#fff" stroke-width="1.5"/>
<line x1="308.1" y1="7.9" x2="404.4" y2="7.9" stroke="#111" stroke-width="1.6" stroke-dasharray="13.7 5.5"/>
<line x1="312.6" y1="197.3" x2="404.4" y2="197.3" stroke="#111" stroke-width="1.6" stroke-dasharray="13.7 5.5"/>
<line x1="306.6" y1="12.0" x2="306.6" y2="197.3" stroke="#111" stroke-width="1.6" stroke-dasharray="13.7 5.5"/>
<line x1="404.4" y1="7.800000000000001" x2="404.4" y2="197.3" stroke="#111" stroke-width="1.6" stroke-dasharray="13.7 5.5"/>
<line x1="306.6" y1="88.0" x2="306.6" y2="197.3" stroke="#111" stroke-width="1.5"/>
<text x="412.6" y="21.6" font-family='"Liberation Sans", Arial, sans-serif' font-weight="bold" font-size="8.4" fill="#111" stroke="#111" stroke-width="0.25">(e)</text>
<line x1="447.4" y1="20.91" x2="447.4" y2="150.5" stroke="#111" stroke-width="0.9"/>
<line x1="441" y1="150.5" x2="544.6" y2="150.5" stroke="#111" stroke-width="0.9"/>
<line x1="441.2" y1="150.5" x2="447.4" y2="150.5" stroke="#111" stroke-width="0.8"/>
<line x1="444.2" y1="141.89" x2="447.4" y2="141.89" stroke="#111" stroke-width="0.8"/>
<line x1="444.2" y1="133.27" x2="447.4" y2="133.27" stroke="#111" stroke-width="0.8"/>
<line x1="444.2" y1="124.66" x2="447.4" y2="124.66" stroke="#111" stroke-width="0.8"/>
<line x1="444.2" y1="116.05" x2="447.4" y2="116.05" stroke="#111" stroke-width="0.8"/>
<line x1="441.2" y1="107.44" x2="447.4" y2="107.44" stroke="#111" stroke-width="0.8"/>
<line x1="444.2" y1="98.82" x2="447.4" y2="98.82" stroke="#111" stroke-width="0.8"/>
<line x1="444.2" y1="90.21" x2="447.4" y2="90.21" stroke="#111" stroke-width="0.8"/>
<line x1="444.2" y1="81.6" x2="447.4" y2="81.6" stroke="#111" stroke-width="0.8"/>
<line x1="444.2" y1="72.98" x2="447.4" y2="72.98" stroke="#111" stroke-width="0.8"/>
<line x1="441.2" y1="64.37" x2="447.4" y2="64.37" stroke="#111" stroke-width="0.8"/>
<line x1="444.2" y1="55.76" x2="447.4" y2="55.76" stroke="#111" stroke-width="0.8"/>
<line x1="444.2" y1="47.14" x2="447.4" y2="47.14" stroke="#111" stroke-width="0.8"/>
<line x1="444.2" y1="38.53" x2="447.4" y2="38.53" stroke="#111" stroke-width="0.8"/>
<line x1="444.2" y1="29.92" x2="447.4" y2="29.92" stroke="#111" stroke-width="0.8"/>
<line x1="441.2" y1="21.31" x2="447.4" y2="21.31" stroke="#111" stroke-width="0.8"/>
<text x="439.3" y="153.05" text-anchor="end" font-family='"Liberation Sans", Arial, sans-serif' font-weight="bold" font-size="7.1" fill="#111" stroke="#111" stroke-width="0.2">0</text>
<text x="439.3" y="109.98" text-anchor="end" font-family='"Liberation Sans", Arial, sans-serif' font-weight="bold" font-size="7.1" fill="#111" stroke="#111" stroke-width="0.2">50</text>
<text x="439.3" y="66.92" text-anchor="end" font-family='"Liberation Sans", Arial, sans-serif' font-weight="bold" font-size="7.1" fill="#111" stroke="#111" stroke-width="0.2">100</text>
<text x="439.3" y="23.86" text-anchor="end" font-family='"Liberation Sans", Arial, sans-serif' font-weight="bold" font-size="7.1" fill="#111" stroke="#111" stroke-width="0.2">150</text>
<line x1="462.5" y1="150.5" x2="462.5" y2="156.6" stroke="#111" stroke-width="0.9"/>
<line x1="484.5" y1="150.5" x2="484.5" y2="156.6" stroke="#111" stroke-width="0.9"/>
<line x1="507.2" y1="150.5" x2="507.2" y2="156.6" stroke="#111" stroke-width="0.9"/>
<line x1="529.6" y1="150.5" x2="529.6" y2="156.6" stroke="#111" stroke-width="0.9"/>
<text transform="translate(464.1,163.6) rotate(-45)" text-anchor="end" font-family='"Liberation Sans", Arial, sans-serif' font-weight="bold" font-size="6.9" fill="#111" stroke="#111" stroke-width="0.2">12.5 mg/ml</text>
<text transform="translate(486.1,163.6) rotate(-45)" text-anchor="end" font-family='"Liberation Sans", Arial, sans-serif' font-weight="bold" font-size="6.9" fill="#111" stroke="#111" stroke-width="0.2">15 mg/mL</text>
<text transform="translate(508.8,163.6) rotate(-45)" text-anchor="end" font-family='"Liberation Sans", Arial, sans-serif' font-weight="bold" font-size="6.9" fill="#111" stroke="#111" stroke-width="0.2">17.5 mg/mL</text>
<text transform="translate(531.2,163.6) rotate(-45)" text-anchor="end" font-family='"Liberation Sans", Arial, sans-serif' font-weight="bold" font-size="6.9" fill="#111" stroke="#111" stroke-width="0.2">20 mg/mL</text>
<text transform="translate(421.3,87.8) rotate(-90)" text-anchor="middle" font-family='"Liberation Sans", Arial, sans-serif' font-weight="bold" font-size="6.4" fill="#111">Fiber diameter (nm)</text>
<circle cx="462.2" cy="52.2" r="1.6" fill="none" stroke="#1c1cf0" stroke-width="0.95"/>
<circle cx="460.6" cy="74.2" r="1.6" fill="none" stroke="#1c1cf0" stroke-width="0.95"/>
<circle cx="464" cy="74.2" r="1.6" fill="none" stroke="#1c1cf0" stroke-width="0.95"/>
<circle cx="462.1" cy="76.3" r="1.6" fill="none" stroke="#1c1cf0" stroke-width="0.95"/>
<circle cx="465" cy="78" r="1.6" fill="none" stroke="#1c1cf0" stroke-width="0.95"/>
<circle cx="467.9" cy="80.4" r="1.6" fill="none" stroke="#1c1cf0" stroke-width="0.95"/>
<circle cx="465" cy="80.9" r="1.6" fill="none" stroke="#1c1cf0" stroke-width="0.95"/>
<circle cx="459.2" cy="82.9" r="1.6" fill="none" stroke="#1c1cf0" stroke-width="0.95"/>
<circle cx="465" cy="83.8" r="1.6" fill="none" stroke="#1c1cf0" stroke-width="0.95"/>
<circle cx="465.4" cy="88.6" r="1.6" fill="none" stroke="#1c1cf0" stroke-width="0.95"/>
<circle cx="459.7" cy="90.3" r="1.6" fill="none" stroke="#1c1cf0" stroke-width="0.95"/>
<circle cx="462.5" cy="93.5" r="1.6" fill="none" stroke="#1c1cf0" stroke-width="0.95"/>
<circle cx="461.1" cy="103.6" r="1.6" fill="none" stroke="#1c1cf0" stroke-width="0.95"/>
<circle cx="464" cy="103.1" r="1.6" fill="none" stroke="#1c1cf0" stroke-width="0.95"/>
<circle cx="456.8" cy="107.5" r="1.6" fill="none" stroke="#1c1cf0" stroke-width="0.95"/>
<circle cx="468.3" cy="108" r="1.6" fill="none" stroke="#1c1cf0" stroke-width="0.95"/>
<circle cx="459.7" cy="109.4" r="1.6" fill="none" stroke="#1c1cf0" stroke-width="0.95"/>
<circle cx="465.4" cy="109.9" r="1.6" fill="none" stroke="#1c1cf0" stroke-width="0.95"/>
<circle cx="459.7" cy="112.8" r="1.6" fill="none" stroke="#1c1cf0" stroke-width="0.95"/>
<rect x="483.1" y="41" width="3" height="3" fill="none" stroke="#f01818" stroke-width="0.95"/>
<rect x="482.1" y="65.3" width="3" height="3" fill="none" stroke="#f01818" stroke-width="0.95"/>
<rect x="483.5" y="66.9" width="3" height="3" fill="none" stroke="#f01818" stroke-width="0.95"/>
<rect x="486.9" y="70.6" width="3" height="3" fill="none" stroke="#f01818" stroke-width="0.95"/>
<rect x="479.7" y="72.5" width="3" height="3" fill="none" stroke="#f01818" stroke-width="0.95"/>
<rect x="485" y="73" width="3" height="3" fill="none" stroke="#f01818" stroke-width="0.95"/>
<rect x="481.6" y="78.8" width="3" height="3" fill="none" stroke="#f01818" stroke-width="0.95"/>
<rect x="477.3" y="84.1" width="3" height="3" fill="none" stroke="#f01818" stroke-width="0.95"/>
<rect x="480.6" y="84.1" width="3" height="3" fill="none" stroke="#f01818" stroke-width="0.95"/>
<rect x="485.9" y="84.1" width="3" height="3" fill="none" stroke="#f01818" stroke-width="0.95"/>
<rect x="477.3" y="87.5" width="3" height="3" fill="none" stroke="#f01818" stroke-width="0.95"/>
<rect x="480.2" y="87.9" width="3" height="3" fill="none" stroke="#f01818" stroke-width="0.95"/>
<rect x="485" y="87" width="3" height="3" fill="none" stroke="#f01818" stroke-width="0.95"/>
<rect x="489.3" y="87.5" width="3" height="3" fill="none" stroke="#f01818" stroke-width="0.95"/>
<rect x="486.4" y="92.8" width="3" height="3" fill="none" stroke="#f01818" stroke-width="0.95"/>
<rect x="481.6" y="94.2" width="3" height="3" fill="none" stroke="#f01818" stroke-width="0.95"/>
<rect x="484.5" y="95.2" width="3" height="3" fill="none" stroke="#f01818" stroke-width="0.95"/>
<rect x="483" y="105.8" width="3" height="3" fill="none" stroke="#f01818" stroke-width="0.95"/>
<path d="M506.8 41.55L508.55 44.6L505.05 44.6Z" fill="none" stroke="#137a26" stroke-width="1.0"/>
<path d="M506.8 57.05L508.55 60.1L505.05 60.1Z" fill="none" stroke="#137a26" stroke-width="1.0"/>
<path d="M500.7 66.45L502.45 69.5L498.95 69.5Z" fill="none" stroke="#137a26" stroke-width="1.0"/>
<path d="M506.8 66.45L508.55 69.5L505.05 69.5Z" fill="none" stroke="#137a26" stroke-width="1.0"/>
<path d="M500.7 71.85L502.45 74.9L498.95 74.9Z" fill="none" stroke="#137a26" stroke-width="1.0"/>
<path d="M506.8 69.85L508.55 72.9L505.05 72.9Z" fill="none" stroke="#137a26" stroke-width="1.0"/>
<path d="M506.8 72.55L508.55 75.6L505.05 75.6Z" fill="none" stroke="#137a26" stroke-width="1.0"/>
<path d="M512.9 72.55L514.65 75.6L511.15 75.6Z" fill="none" stroke="#137a26" stroke-width="1.0"/>
<path d="M506.8 75.25L508.55 78.3L505.05 78.3Z" fill="none" stroke="#137a26" stroke-width="1.0"/>
<path d="M500.7 80.65L502.45 83.7L498.95 83.7Z" fill="none" stroke="#137a26" stroke-width="1.0"/>
<path d="M506.8 80.65L508.55 83.7L505.05 83.7Z" fill="none" stroke="#137a26" stroke-width="1.0"/>
<path d="M512.9 81.25L514.65 84.3L511.15 84.3Z" fill="none" stroke="#137a26" stroke-width="1.0"/>
<path d="M506.8 83.95L508.55 87L505.05 87Z" fill="none" stroke="#137a26" stroke-width="1.0"/>
<path d="M500.7 90.05L502.45 93.1L498.95 93.1Z" fill="none" stroke="#137a26" stroke-width="1.0"/>
<path d="M500.7 94.75L502.45 97.8L498.95 97.8Z" fill="none" stroke="#137a26" stroke-width="1.0"/>
<path d="M506.8 93.45L508.55 96.5L505.05 96.5Z" fill="none" stroke="#137a26" stroke-width="1.0"/>
<path d="M512.9 95.45L514.65 98.5L511.15 98.5Z" fill="none" stroke="#137a26" stroke-width="1.0"/>
<path d="M506.8 98.85L508.55 101.9L505.05 101.9Z" fill="none" stroke="#137a26" stroke-width="1.0"/>
<path d="M512.9 100.85L514.65 103.9L511.15 103.9Z" fill="none" stroke="#137a26" stroke-width="1.0"/>
<path d="M501.4 103.55L503.15 106.6L499.65 106.6Z" fill="none" stroke="#137a26" stroke-width="1.0"/>
<path d="M529.5 60.9L531.4 62.8L529.5 64.7L527.6 62.8Z" fill="none" stroke="#707070" stroke-width="0.75"/>
<path d="M526.4 74.9L528.3 76.8L526.4 78.7L524.5 76.8Z" fill="none" stroke="#707070" stroke-width="0.75"/>
<path d="M529.5 73.9L531.4 75.8L529.5 77.7L527.6 75.8Z" fill="none" stroke="#707070" stroke-width="0.75"/>
<path d="M532.4 72.8L534.3 74.7L532.4 76.6L530.5 74.7Z" fill="none" stroke="#707070" stroke-width="0.75"/>
<path d="M526.4 86.8L528.3 88.7L526.4 90.6L524.5 88.7Z" fill="none" stroke="#707070" stroke-width="0.75"/>
<path d="M532.1 86.8L534 88.7L532.1 90.6L530.2 88.7Z" fill="none" stroke="#707070" stroke-width="0.75"/>
<path d="M529.5 91.5L531.4 93.4L529.5 95.3L527.6 93.4Z" fill="none" stroke="#707070" stroke-width="0.75"/>
<path d="M531.6 92.6L533.5 94.5L531.6 96.4L529.7 94.5Z" fill="none" stroke="#707070" stroke-width="0.75"/>
<path d="M526.4 96.2L528.3 98.1L526.4 100L524.5 98.1Z" fill="none" stroke="#707070" stroke-width="0.75"/>
<path d="M523.3 100.9L525.2 102.8L523.3 104.7L521.4 102.8Z" fill="none" stroke="#707070" stroke-width="0.75"/>
<path d="M526.4 101.4L528.3 103.3L526.4 105.2L524.5 103.3Z" fill="none" stroke="#707070" stroke-width="0.75"/>
<path d="M532.6 101.4L534.5 103.3L532.6 105.2L530.7 103.3Z" fill="none" stroke="#707070" stroke-width="0.75"/>
<path d="M535.7 101.9L537.6 103.8L535.7 105.7L533.8 103.8Z" fill="none" stroke="#707070" stroke-width="0.75"/>
<path d="M529.5 106.6L531.4 108.5L529.5 110.4L527.6 108.5Z" fill="none" stroke="#707070" stroke-width="0.75"/>
<line x1="462.5" y1="74.2" x2="462.5" y2="107" stroke="#111" stroke-width="0.95"/>
<line x1="459.3" y1="74.2" x2="465.7" y2="74.2" stroke="#111" stroke-width="0.95"/>
<line x1="459.3" y1="107" x2="465.7" y2="107" stroke="#111" stroke-width="0.95"/>
<line x1="455.2" y1="91.1" x2="469.8" y2="91.1" stroke="#111" stroke-width="1.6"/>
<line x1="484.6" y1="68.2" x2="484.6" y2="97.2" stroke="#111" stroke-width="0.95"/>
<line x1="481.40000000000003" y1="68.2" x2="487.8" y2="68.2" stroke="#111" stroke-width="0.95"/>
<line x1="481.40000000000003" y1="97.2" x2="487.8" y2="97.2" stroke="#111" stroke-width="0.95"/>
<line x1="477.3" y1="83.2" x2="491.90000000000003" y2="83.2" stroke="#111" stroke-width="1.6"/>
<line x1="507.2" y1="65.6" x2="507.2" y2="97.3" stroke="#111" stroke-width="0.95"/>
<line x1="504.0" y1="65.6" x2="510.4" y2="65.6" stroke="#111" stroke-width="0.95"/>
<line x1="504.0" y1="97.3" x2="510.4" y2="97.3" stroke="#111" stroke-width="0.95"/>
<line x1="499.9" y1="81.8" x2="514.5" y2="81.8" stroke="#111" stroke-width="1.6"/>
<line x1="529.6" y1="79.1" x2="529.6" y2="103.3" stroke="#111" stroke-width="0.95"/>
<line x1="526.4" y1="79.1" x2="532.8000000000001" y2="79.1" stroke="#111" stroke-width="0.95"/>
<line x1="526.4" y1="103.3" x2="532.8000000000001" y2="103.3" stroke="#111" stroke-width="0.95"/>
<line x1="522.3000000000001" y1="91.6" x2="536.9" y2="91.6" stroke="#111" stroke-width="1.6"/>
<rect x="54.4" y="340.3" width="3.76" height="14" fill="#ececec" stroke="#5a5a5a" stroke-width="0.75"/>
<rect x="58.16" y="240.6" width="3.76" height="113.7" fill="#ececec" stroke="#5a5a5a" stroke-width="0.75"/>
<rect x="61.92" y="231.7" width="3.76" height="122.6" fill="#ececec" stroke="#5a5a5a" stroke-width="0.75"/>
<rect x="65.68" y="241.5" width="3.76" height="112.8" fill="#ececec" stroke="#5a5a5a" stroke-width="0.75"/>
<rect x="69.44" y="235.9" width="3.76" height="118.4" fill="#ececec" stroke="#5a5a5a" stroke-width="0.75"/>
<rect x="73.2" y="258.6" width="3.76" height="95.7" fill="#ececec" stroke="#5a5a5a" stroke-width="0.75"/>
<rect x="76.96" y="261.3" width="3.76" height="93" fill="#ececec" stroke="#5a5a5a" stroke-width="0.75"/>
<rect x="80.72" y="264.8" width="3.76" height="89.5" fill="#ececec" stroke="#5a5a5a" stroke-width="0.75"/>
<rect x="84.48" y="283.8" width="3.76" height="70.5" fill="#ececec" stroke="#5a5a5a" stroke-width="0.75"/>
<rect x="88.24" y="284.6" width="3.76" height="69.7" fill="#ececec" stroke="#5a5a5a" stroke-width="0.75"/>
<rect x="92" y="273.9" width="3.76" height="80.4" fill="#ececec" stroke="#5a5a5a" stroke-width="0.75"/>
<rect x="95.76" y="288.2" width="3.76" height="66.1" fill="#ececec" stroke="#5a5a5a" stroke-width="0.75"/>
<rect x="99.52" y="314.4" width="3.76" height="39.9" fill="#ececec" stroke="#5a5a5a" stroke-width="0.75"/>
<rect x="103.28" y="314.4" width="3.76" height="39.9" fill="#ececec" stroke="#5a5a5a" stroke-width="0.75"/>
<rect x="107.04" y="321.6" width="3.76" height="32.7" fill="#ececec" stroke="#5a5a5a" stroke-width="0.75"/>
<rect x="110.8" y="319.1" width="3.76" height="35.2" fill="#ececec" stroke="#5a5a5a" stroke-width="0.75"/>
<rect x="114.56" y="326.5" width="3.76" height="27.8" fill="#ececec" stroke="#5a5a5a" stroke-width="0.75"/>
<rect x="118.32" y="331.7" width="3.76" height="22.6" fill="#ececec" stroke="#5a5a5a" stroke-width="0.75"/>
<rect x="122.08" y="342.6" width="3.76" height="11.7" fill="#ececec" stroke="#5a5a5a" stroke-width="0.75"/>
<rect x="125.84" y="343.9" width="3.76" height="10.4" fill="#ececec" stroke="#5a5a5a" stroke-width="0.75"/>
<rect x="129.6" y="346.7" width="3.76" height="7.6" fill="#ececec" stroke="#5a5a5a" stroke-width="0.75"/>
<rect x="133.36" y="349.7" width="3.76" height="4.6" fill="#ececec" stroke="#5a5a5a" stroke-width="0.75"/>
<rect x="137.12" y="353.5" width="3.76" height="0.8" fill="#ececec" stroke="#5a5a5a" stroke-width="0.75"/>
<rect x="140.88" y="352.6" width="3.76" height="1.7" fill="#ececec" stroke="#5a5a5a" stroke-width="0.75"/>
<rect x="144.64" y="353.5" width="3.76" height="0.8" fill="#ececec" stroke="#5a5a5a" stroke-width="0.75"/>
<rect x="148.4" y="353.8" width="3.76" height="0.5" fill="#ececec" stroke="#5a5a5a" stroke-width="0.75"/>
<rect x="155.92" y="352.9" width="3.76" height="1.4" fill="#ececec" stroke="#5a5a5a" stroke-width="0.75"/>
<rect x="163.44" y="353.8" width="3.76" height="0.5" fill="#ececec" stroke="#5a5a5a" stroke-width="0.75"/>
<rect x="32.3" y="225.0" width="145.5" height="129.3" fill="none" stroke="#707070" stroke-width="1.25"/>
<line x1="32.3" y1="354.3" x2="35.5" y2="354.3" stroke="#666" stroke-width="0.8"/>
<line x1="174.60000000000002" y1="354.3" x2="177.8" y2="354.3" stroke="#666" stroke-width="0.8"/>
<text x="30.4" y="354.9" text-anchor="end" font-family='"Liberation Sans", Arial, sans-serif' font-size="6.0" fill="#1a1a1a" stroke="#1a1a1a" stroke-width="0.18">0</text>
<line x1="32.3" y1="328.44" x2="35.5" y2="328.44" stroke="#666" stroke-width="0.8"/>
<line x1="174.60000000000002" y1="328.44" x2="177.8" y2="328.44" stroke="#666" stroke-width="0.8"/>
<text x="30.4" y="330.64" text-anchor="end" font-family='"Liberation Sans", Arial, sans-serif' font-size="6.0" fill="#1a1a1a" stroke="#1a1a1a" stroke-width="0.18">0.02</text>
<line x1="32.3" y1="302.58" x2="35.5" y2="302.58" stroke="#666" stroke-width="0.8"/>
<line x1="174.60000000000002" y1="302.58" x2="177.8" y2="302.58" stroke="#666" stroke-width="0.8"/>
<text x="30.4" y="304.78" text-anchor="end" font-family='"Liberation Sans", Arial, sans-serif' font-size="6.0" fill="#1a1a1a" stroke="#1a1a1a" stroke-width="0.18">0.04</text>
<line x1="32.3" y1="276.72" x2="35.5" y2="276.72" stroke="#666" stroke-width="0.8"/>
<line x1="174.60000000000002" y1="276.72" x2="177.8" y2="276.72" stroke="#666" stroke-width="0.8"/>
<text x="30.4" y="278.92" text-anchor="end" font-family='"Liberation Sans", Arial, sans-serif' font-size="6.0" fill="#1a1a1a" stroke="#1a1a1a" stroke-width="0.18">0.06</text>
<line x1="32.3" y1="250.86" x2="35.5" y2="250.86" stroke="#666" stroke-width="0.8"/>
<line x1="174.60000000000002" y1="250.86" x2="177.8" y2="250.86" stroke="#666" stroke-width="0.8"/>
<text x="30.4" y="253.06" text-anchor="end" font-family='"Liberation Sans", Arial, sans-serif' font-size="6.0" fill="#1a1a1a" stroke="#1a1a1a" stroke-width="0.18">0.08</text>
<line x1="32.3" y1="225" x2="35.5" y2="225" stroke="#666" stroke-width="0.8"/>
<line x1="174.60000000000002" y1="225" x2="177.8" y2="225" stroke="#666" stroke-width="0.8"/>
<text x="30.4" y="229.7" text-anchor="end" font-family='"Liberation Sans", Arial, sans-serif' font-size="6.0" fill="#1a1a1a" stroke="#1a1a1a" stroke-width="0.18">0.10</text>
<line x1="32.3" y1="354.3" x2="32.3" y2="356.9" stroke="#666" stroke-width="0.7"/>
<line x1="43.25" y1="354.3" x2="43.25" y2="356.1" stroke="#666" stroke-width="0.7"/>
<line x1="49.66" y1="354.3" x2="49.66" y2="356.1" stroke="#666" stroke-width="0.7"/>
<line x1="54.2" y1="354.3" x2="54.2" y2="356.1" stroke="#666" stroke-width="0.7"/>
<line x1="57.73" y1="354.3" x2="57.73" y2="356.1" stroke="#666" stroke-width="0.7"/>
<line x1="60.61" y1="354.3" x2="60.61" y2="356.1" stroke="#666" stroke-width="0.7"/>
<line x1="63.04" y1="354.3" x2="63.04" y2="356.1" stroke="#666" stroke-width="0.7"/>
<line x1="65.15" y1="354.3" x2="65.15" y2="356.1" stroke="#666" stroke-width="0.7"/>
<line x1="67.01" y1="354.3" x2="67.01" y2="356.1" stroke="#666" stroke-width="0.7"/>
<line x1="68.67" y1="354.3" x2="68.67" y2="356.9" stroke="#666" stroke-width="0.7"/>
<line x1="79.62" y1="354.3" x2="79.62" y2="356.1" stroke="#666" stroke-width="0.7"/>
<line x1="86.03" y1="354.3" x2="86.03" y2="356.1" stroke="#666" stroke-width="0.7"/>
<line x1="90.57" y1="354.3" x2="90.57" y2="356.1" stroke="#666" stroke-width="0.7"/>
<line x1="94.1" y1="354.3" x2="94.1" y2="356.1" stroke="#666" stroke-width="0.7"/>
<line x1="96.98" y1="354.3" x2="96.98" y2="356.1" stroke="#666" stroke-width="0.7"/>
<line x1="99.42" y1="354.3" x2="99.42" y2="356.1" stroke="#666" stroke-width="0.7"/>
<line x1="101.52" y1="354.3" x2="101.52" y2="356.1" stroke="#666" stroke-width="0.7"/>
<line x1="103.39" y1="354.3" x2="103.39" y2="356.1" stroke="#666" stroke-width="0.7"/>
<line x1="105.05" y1="354.3" x2="105.05" y2="356.9" stroke="#666" stroke-width="0.7"/>
<line x1="116" y1="354.3" x2="116" y2="356.1" stroke="#666" stroke-width="0.7"/>
<line x1="122.41" y1="354.3" x2="122.41" y2="356.1" stroke="#666" stroke-width="0.7"/>
<line x1="126.95" y1="354.3" x2="126.95" y2="356.1" stroke="#666" stroke-width="0.7"/>
<line x1="130.48" y1="354.3" x2="130.48" y2="356.1" stroke="#666" stroke-width="0.7"/>
<line x1="133.36" y1="354.3" x2="133.36" y2="356.1" stroke="#666" stroke-width="0.7"/>
<line x1="135.79" y1="354.3" x2="135.79" y2="356.1" stroke="#666" stroke-width="0.7"/>
<line x1="137.9" y1="354.3" x2="137.9" y2="356.1" stroke="#666" stroke-width="0.7"/>
<line x1="139.76" y1="354.3" x2="139.76" y2="356.1" stroke="#666" stroke-width="0.7"/>
<line x1="141.43" y1="354.3" x2="141.43" y2="356.9" stroke="#666" stroke-width="0.7"/>
<line x1="152.37" y1="354.3" x2="152.37" y2="356.1" stroke="#666" stroke-width="0.7"/>
<line x1="158.78" y1="354.3" x2="158.78" y2="356.1" stroke="#666" stroke-width="0.7"/>
<line x1="163.32" y1="354.3" x2="163.32" y2="356.1" stroke="#666" stroke-width="0.7"/>
<line x1="166.85" y1="354.3" x2="166.85" y2="356.1" stroke="#666" stroke-width="0.7"/>
<line x1="169.73" y1="354.3" x2="169.73" y2="356.1" stroke="#666" stroke-width="0.7"/>
<line x1="172.17" y1="354.3" x2="172.17" y2="356.1" stroke="#666" stroke-width="0.7"/>
<line x1="174.27" y1="354.3" x2="174.27" y2="356.1" stroke="#666" stroke-width="0.7"/>
<line x1="176.14" y1="354.3" x2="176.14" y2="356.1" stroke="#666" stroke-width="0.7"/>
<text x="29.12" y="364.6" font-family='"Liberation Sans", Arial, sans-serif' font-size="6.8" fill="#1a1a1a" stroke="#1a1a1a" stroke-width="0.18">10<tspan font-size="4.2" dy="-3">-3</tspan></text>
<text x="65.49" y="364.6" font-family='"Liberation Sans", Arial, sans-serif' font-size="6.8" fill="#1a1a1a" stroke="#1a1a1a" stroke-width="0.18">10<tspan font-size="4.2" dy="-3">-2</tspan></text>
<text x="101.87" y="364.6" font-family='"Liberation Sans", Arial, sans-serif' font-size="6.8" fill="#1a1a1a" stroke="#1a1a1a" stroke-width="0.18">10<tspan font-size="4.2" dy="-3">-1</tspan></text>
<text x="138.25" y="364.6" font-family='"Liberation Sans", Arial, sans-serif' font-size="6.8" fill="#1a1a1a" stroke="#1a1a1a" stroke-width="0.18">10<tspan font-size="4.2" dy="-3">0</tspan></text>
<text x="97.2" y="372.8" text-anchor="middle" font-family='"Liberation Sans", Arial, sans-serif' font-size="6.85" fill="#1a1a1a" stroke="#1a1a1a" stroke-width="0.16">Pore size (μm<tspan font-size="4.6" dy="-2.8">2</tspan><tspan dy="2.8">)</tspan></text>
<text transform="translate(13.5,288) rotate(-90)" text-anchor="middle" font-family='"Liberation Sans", Arial, sans-serif' font-size="7.4" fill="#1a1a1a" stroke="#1a1a1a" stroke-width="0.2">Frequency (%)</text>
<text x="102.3" y="221" text-anchor="middle" font-family='"Liberation Sans", Arial, sans-serif' font-weight="bold" font-size="6.95" fill="#111" stroke="#111" stroke-width="0.1">dECM 12.5 mg/mL</text>
<text x="6.6" y="216.4" font-family='"Liberation Sans", Arial, sans-serif' font-weight="bold" font-size="9.2" fill="#111">(f)</text>
<rect x="232.4" y="332.5" width="3.76" height="21.8" fill="#ececec" stroke="#5a5a5a" stroke-width="0.75"/>
<rect x="236.16" y="245.5" width="3.76" height="108.8" fill="#ececec" stroke="#5a5a5a" stroke-width="0.75"/>
<rect x="239.92" y="236" width="3.76" height="118.3" fill="#ececec" stroke="#5a5a5a" stroke-width="0.75"/>
<rect x="243.68" y="238.6" width="3.76" height="115.7" fill="#ececec" stroke="#5a5a5a" stroke-width="0.75"/>
<rect x="247.44" y="235.9" width="3.76" height="118.4" fill="#ececec" stroke="#5a5a5a" stroke-width="0.75"/>
<rect x="251.2" y="245" width="3.76" height="109.3" fill="#ececec" stroke="#5a5a5a" stroke-width="0.75"/>
<rect x="254.96" y="257" width="3.76" height="97.3" fill="#ececec" stroke="#5a5a5a" stroke-width="0.75"/>
<rect x="258.72" y="259.7" width="3.76" height="94.6" fill="#ececec" stroke="#5a5a5a" stroke-width="0.75"/>
<rect x="262.48" y="269.6" width="3.76" height="84.7" fill="#ececec" stroke="#5a5a5a" stroke-width="0.75"/>
<rect x="266.24" y="279.6" width="3.76" height="74.7" fill="#ececec" stroke="#5a5a5a" stroke-width="0.75"/>
<rect x="270" y="290.5" width="3.76" height="63.8" fill="#ececec" stroke="#5a5a5a" stroke-width="0.75"/>
<rect x="273.76" y="300.9" width="3.76" height="53.4" fill="#ececec" stroke="#5a5a5a" stroke-width="0.75"/>
<rect x="277.52" y="310.5" width="3.76" height="43.8" fill="#ececec" stroke="#5a5a5a" stroke-width="0.75"/>
<rect x="281.28" y="326" width="3.76" height="28.3" fill="#ececec" stroke="#5a5a5a" stroke-width="0.75"/>
<rect x="285.04" y="328.5" width="3.76" height="25.8" fill="#ececec" stroke="#5a5a5a" stroke-width="0.75"/>
<rect x="288.8" y="330.3" width="3.76" height="24" fill="#ececec" stroke="#5a5a5a" stroke-width="0.75"/>
<rect x="292.56" y="337.7" width="3.76" height="16.6" fill="#ececec" stroke="#5a5a5a" stroke-width="0.75"/>
<rect x="296.32" y="343.7" width="3.76" height="10.6" fill="#ececec" stroke="#5a5a5a" stroke-width="0.75"/>
<rect x="300.08" y="345.3" width="3.76" height="9" fill="#ececec" stroke="#5a5a5a" stroke-width="0.75"/>
<rect x="303.84" y="348.6" width="3.76" height="5.7" fill="#ececec" stroke="#5a5a5a" stroke-width="0.75"/>
<rect x="307.6" y="349.7" width="3.76" height="4.6" fill="#ececec" stroke="#5a5a5a" stroke-width="0.75"/>
<rect x="311.36" y="351.6" width="3.76" height="2.7" fill="#ececec" stroke="#5a5a5a" stroke-width="0.75"/>
<rect x="315.12" y="353.3" width="3.76" height="1" fill="#ececec" stroke="#5a5a5a" stroke-width="0.75"/>
<rect x="318.88" y="354" width="3.76" height="0.3" fill="#ececec" stroke="#5a5a5a" stroke-width="0.75"/>
<rect x="330.16" y="353.8" width="3.76" height="0.5" fill="#ececec" stroke="#5a5a5a" stroke-width="0.75"/>
<rect x="209.9" y="225.0" width="145.5" height="129.3" fill="none" stroke="#707070" stroke-width="1.25"/>
<line x1="209.9" y1="354.3" x2="213.1" y2="354.3" stroke="#666" stroke-width="0.8"/>
<line x1="352.2" y1="354.3" x2="355.4" y2="354.3" stroke="#666" stroke-width="0.8"/>
<text x="208" y="354.9" text-anchor="end" font-family='"Liberation Sans", Arial, sans-serif' font-size="6.0" fill="#1a1a1a" stroke="#1a1a1a" stroke-width="0.18">0</text>
<line x1="209.9" y1="328.44" x2="213.1" y2="328.44" stroke="#666" stroke-width="0.8"/>
<line x1="352.2" y1="328.44" x2="355.4" y2="328.44" stroke="#666" stroke-width="0.8"/>
<text x="208" y="330.64" text-anchor="end" font-family='"Liberation Sans", Arial, sans-serif' font-size="6.0" fill="#1a1a1a" stroke="#1a1a1a" stroke-width="0.18">0.02</text>
<line x1="209.9" y1="302.58" x2="213.1" y2="302.58" stroke="#666" stroke-width="0.8"/>
<line x1="352.2" y1="302.58" x2="355.4" y2="302.58" stroke="#666" stroke-width="0.8"/>
<text x="208" y="304.78" text-anchor="end" font-family='"Liberation Sans", Arial, sans-serif' font-size="6.0" fill="#1a1a1a" stroke="#1a1a1a" stroke-width="0.18">0.04</text>
<line x1="209.9" y1="276.72" x2="213.1" y2="276.72" stroke="#666" stroke-width="0.8"/>
<line x1="352.2" y1="276.72" x2="355.4" y2="276.72" stroke="#666" stroke-width="0.8"/>
<text x="208" y="278.92" text-anchor="end" font-family='"Liberation Sans", Arial, sans-serif' font-size="6.0" fill="#1a1a1a" stroke="#1a1a1a" stroke-width="0.18">0.06</text>
<line x1="209.9" y1="250.86" x2="213.1" y2="250.86" stroke="#666" stroke-width="0.8"/>
<line x1="352.2" y1="250.86" x2="355.4" y2="250.86" stroke="#666" stroke-width="0.8"/>
<text x="208" y="253.06" text-anchor="end" font-family='"Liberation Sans", Arial, sans-serif' font-size="6.0" fill="#1a1a1a" stroke="#1a1a1a" stroke-width="0.18">0.08</text>
<line x1="209.9" y1="225" x2="213.1" y2="225" stroke="#666" stroke-width="0.8"/>
<line x1="352.2" y1="225" x2="355.4" y2="225" stroke="#666" stroke-width="0.8"/>
<text x="208" y="229.7" text-anchor="end" font-family='"Liberation Sans", Arial, sans-serif' font-size="6.0" fill="#1a1a1a" stroke="#1a1a1a" stroke-width="0.18">0.10</text>
<line x1="209.9" y1="354.3" x2="209.9" y2="356.9" stroke="#666" stroke-width="0.7"/>
<line x1="220.85" y1="354.3" x2="220.85" y2="356.1" stroke="#666" stroke-width="0.7"/>
<line x1="227.26" y1="354.3" x2="227.26" y2="356.1" stroke="#666" stroke-width="0.7"/>
<line x1="231.8" y1="354.3" x2="231.8" y2="356.1" stroke="#666" stroke-width="0.7"/>
<line x1="235.33" y1="354.3" x2="235.33" y2="356.1" stroke="#666" stroke-width="0.7"/>
<line x1="238.21" y1="354.3" x2="238.21" y2="356.1" stroke="#666" stroke-width="0.7"/>
<line x1="240.64" y1="354.3" x2="240.64" y2="356.1" stroke="#666" stroke-width="0.7"/>
<line x1="242.75" y1="354.3" x2="242.75" y2="356.1" stroke="#666" stroke-width="0.7"/>
<line x1="244.61" y1="354.3" x2="244.61" y2="356.1" stroke="#666" stroke-width="0.7"/>
<line x1="246.28" y1="354.3" x2="246.28" y2="356.9" stroke="#666" stroke-width="0.7"/>
<line x1="257.22" y1="354.3" x2="257.22" y2="356.1" stroke="#666" stroke-width="0.7"/>
<line x1="263.63" y1="354.3" x2="263.63" y2="356.1" stroke="#666" stroke-width="0.7"/>
<line x1="268.17" y1="354.3" x2="268.17" y2="356.1" stroke="#666" stroke-width="0.7"/>
<line x1="271.7" y1="354.3" x2="271.7" y2="356.1" stroke="#666" stroke-width="0.7"/>
<line x1="274.58" y1="354.3" x2="274.58" y2="356.1" stroke="#666" stroke-width="0.7"/>
<line x1="277.02" y1="354.3" x2="277.02" y2="356.1" stroke="#666" stroke-width="0.7"/>
<line x1="279.12" y1="354.3" x2="279.12" y2="356.1" stroke="#666" stroke-width="0.7"/>
<line x1="280.99" y1="354.3" x2="280.99" y2="356.1" stroke="#666" stroke-width="0.7"/>
<line x1="282.65" y1="354.3" x2="282.65" y2="356.9" stroke="#666" stroke-width="0.7"/>
<line x1="293.6" y1="354.3" x2="293.6" y2="356.1" stroke="#666" stroke-width="0.7"/>
<line x1="300.01" y1="354.3" x2="300.01" y2="356.1" stroke="#666" stroke-width="0.7"/>
<line x1="304.55" y1="354.3" x2="304.55" y2="356.1" stroke="#666" stroke-width="0.7"/>
<line x1="308.08" y1="354.3" x2="308.08" y2="356.1" stroke="#666" stroke-width="0.7"/>
<line x1="310.96" y1="354.3" x2="310.96" y2="356.1" stroke="#666" stroke-width="0.7"/>
<line x1="313.39" y1="354.3" x2="313.39" y2="356.1" stroke="#666" stroke-width="0.7"/>
<line x1="315.5" y1="354.3" x2="315.5" y2="356.1" stroke="#666" stroke-width="0.7"/>
<line x1="317.36" y1="354.3" x2="317.36" y2="356.1" stroke="#666" stroke-width="0.7"/>
<line x1="319.02" y1="354.3" x2="319.02" y2="356.9" stroke="#666" stroke-width="0.7"/>
<line x1="329.97" y1="354.3" x2="329.97" y2="356.1" stroke="#666" stroke-width="0.7"/>
<line x1="336.38" y1="354.3" x2="336.38" y2="356.1" stroke="#666" stroke-width="0.7"/>
<line x1="340.92" y1="354.3" x2="340.92" y2="356.1" stroke="#666" stroke-width="0.7"/>
<line x1="344.45" y1="354.3" x2="344.45" y2="356.1" stroke="#666" stroke-width="0.7"/>
<line x1="347.33" y1="354.3" x2="347.33" y2="356.1" stroke="#666" stroke-width="0.7"/>
<line x1="349.77" y1="354.3" x2="349.77" y2="356.1" stroke="#666" stroke-width="0.7"/>
<line x1="351.87" y1="354.3" x2="351.87" y2="356.1" stroke="#666" stroke-width="0.7"/>
<line x1="353.74" y1="354.3" x2="353.74" y2="356.1" stroke="#666" stroke-width="0.7"/>
<text x="206.72" y="364.6" font-family='"Liberation Sans", Arial, sans-serif' font-size="6.8" fill="#1a1a1a" stroke="#1a1a1a" stroke-width="0.18">10<tspan font-size="4.2" dy="-3">-3</tspan></text>
<text x="243.09" y="364.6" font-family='"Liberation Sans", Arial, sans-serif' font-size="6.8" fill="#1a1a1a" stroke="#1a1a1a" stroke-width="0.18">10<tspan font-size="4.2" dy="-3">-2</tspan></text>
<text x="279.47" y="364.6" font-family='"Liberation Sans", Arial, sans-serif' font-size="6.8" fill="#1a1a1a" stroke="#1a1a1a" stroke-width="0.18">10<tspan font-size="4.2" dy="-3">-1</tspan></text>
<text x="315.85" y="364.6" font-family='"Liberation Sans", Arial, sans-serif' font-size="6.8" fill="#1a1a1a" stroke="#1a1a1a" stroke-width="0.18">10<tspan font-size="4.2" dy="-3">0</tspan></text>
<text x="276.6" y="372.8" text-anchor="middle" font-family='"Liberation Sans", Arial, sans-serif' font-size="6.85" fill="#1a1a1a" stroke="#1a1a1a" stroke-width="0.16">Pore size (μm<tspan font-size="4.6" dy="-2.8">2</tspan><tspan dy="2.8">)</tspan></text>
<text transform="translate(191.1,288) rotate(-90)" text-anchor="middle" font-family='"Liberation Sans", Arial, sans-serif' font-size="7.4" fill="#1a1a1a" stroke="#1a1a1a" stroke-width="0.2">Frequency (%)</text>
<text x="279.9" y="221" text-anchor="middle" font-family='"Liberation Sans", Arial, sans-serif' font-weight="bold" font-size="6.95" fill="#111" stroke="#111" stroke-width="0.1">dECM 15.0 mg/mL</text>
<text x="183.2" y="216.4" font-family='"Liberation Sans", Arial, sans-serif' font-weight="bold" font-size="9.2" fill="#111">(g)</text>
<rect x="54.4" y="515.2" width="3.76" height="9.7" fill="#ececec" stroke="#5a5a5a" stroke-width="0.75"/>
<rect x="58.16" y="404.2" width="3.76" height="120.7" fill="#ececec" stroke="#5a5a5a" stroke-width="0.75"/>
<rect x="61.92" y="411.6" width="3.76" height="113.3" fill="#ececec" stroke="#5a5a5a" stroke-width="0.75"/>
<rect x="65.68" y="417.6" width="3.76" height="107.3" fill="#ececec" stroke="#5a5a5a" stroke-width="0.75"/>
<rect x="69.44" y="418.4" width="3.76" height="106.5" fill="#ececec" stroke="#5a5a5a" stroke-width="0.75"/>
<rect x="73.2" y="415.7" width="3.76" height="109.2" fill="#ececec" stroke="#5a5a5a" stroke-width="0.75"/>
<rect x="76.96" y="428.5" width="3.76" height="96.4" fill="#ececec" stroke="#5a5a5a" stroke-width="0.75"/>
<rect x="80.72" y="428.2" width="3.76" height="96.7" fill="#ececec" stroke="#5a5a5a" stroke-width="0.75"/>
<rect x="84.48" y="445.5" width="3.76" height="79.4" fill="#ececec" stroke="#5a5a5a" stroke-width="0.75"/>
<rect x="88.24" y="452.3" width="3.76" height="72.6" fill="#ececec" stroke="#5a5a5a" stroke-width="0.75"/>
<rect x="92" y="451.7" width="3.76" height="73.2" fill="#ececec" stroke="#5a5a5a" stroke-width="0.75"/>
<rect x="95.76" y="455.5" width="3.76" height="69.4" fill="#ececec" stroke="#5a5a5a" stroke-width="0.75"/>
<rect x="99.52" y="466.2" width="3.76" height="58.7" fill="#ececec" stroke="#5a5a5a" stroke-width="0.75"/>
<rect x="103.28" y="484.5" width="3.76" height="40.4" fill="#ececec" stroke="#5a5a5a" stroke-width="0.75"/>
<rect x="107.04" y="489.6" width="3.76" height="35.3" fill="#ececec" stroke="#5a5a5a" stroke-width="0.75"/>
<rect x="110.8" y="498.6" width="3.76" height="26.3" fill="#ececec" stroke="#5a5a5a" stroke-width="0.75"/>
<rect x="114.56" y="496.8" width="3.76" height="28.1" fill="#ececec" stroke="#5a5a5a" stroke-width="0.75"/>
<rect x="118.32" y="515.5" width="3.76" height="9.4" fill="#ececec" stroke="#5a5a5a" stroke-width="0.75"/>
<rect x="122.08" y="511" width="3.76" height="13.9" fill="#ececec" stroke="#5a5a5a" stroke-width="0.75"/>
<rect x="125.84" y="518.9" width="3.76" height="6" fill="#ececec" stroke="#5a5a5a" stroke-width="0.75"/>
<rect x="129.6" y="520.8" width="3.76" height="4.1" fill="#ececec" stroke="#5a5a5a" stroke-width="0.75"/>
<rect x="133.36" y="523.4" width="3.76" height="1.5" fill="#ececec" stroke="#5a5a5a" stroke-width="0.75"/>
<rect x="137.12" y="523.4" width="3.76" height="1.5" fill="#ececec" stroke="#5a5a5a" stroke-width="0.75"/>
<rect x="140.88" y="523.4" width="3.76" height="1.5" fill="#ececec" stroke="#5a5a5a" stroke-width="0.75"/>
<rect x="144.64" y="523.4" width="3.76" height="1.5" fill="#ececec" stroke="#5a5a5a" stroke-width="0.75"/>
<rect x="32.3" y="395.6" width="145.5" height="129.3" fill="none" stroke="#707070" stroke-width="1.25"/>
<line x1="32.3" y1="524.9" x2="35.5" y2="524.9" stroke="#666" stroke-width="0.8"/>
<line x1="174.60000000000002" y1="524.9" x2="177.8" y2="524.9" stroke="#666" stroke-width="0.8"/>
<text x="30.4" y="525.5" text-anchor="end" font-family='"Liberation Sans", Arial, sans-serif' font-size="6.0" fill="#1a1a1a" stroke="#1a1a1a" stroke-width="0.18">0</text>
<line x1="32.3" y1="499.04" x2="35.5" y2="499.04" stroke="#666" stroke-width="0.8"/>
<line x1="174.60000000000002" y1="499.04" x2="177.8" y2="499.04" stroke="#666" stroke-width="0.8"/>
<text x="30.4" y="501.24" text-anchor="end" font-family='"Liberation Sans", Arial, sans-serif' font-size="6.0" fill="#1a1a1a" stroke="#1a1a1a" stroke-width="0.18">0.02</text>
<line x1="32.3" y1="473.18" x2="35.5" y2="473.18" stroke="#666" stroke-width="0.8"/>
<line x1="174.60000000000002" y1="473.18" x2="177.8" y2="473.18" stroke="#666" stroke-width="0.8"/>
<text x="30.4" y="475.38" text-anchor="end" font-family='"Liberation Sans", Arial, sans-serif' font-size="6.0" fill="#1a1a1a" stroke="#1a1a1a" stroke-width="0.18">0.04</text>
<line x1="32.3" y1="447.32" x2="35.5" y2="447.32" stroke="#666" stroke-width="0.8"/>
<line x1="174.60000000000002" y1="447.32" x2="177.8" y2="447.32" stroke="#666" stroke-width="0.8"/>
<text x="30.4" y="449.52" text-anchor="end" font-family='"Liberation Sans", Arial, sans-serif' font-size="6.0" fill="#1a1a1a" stroke="#1a1a1a" stroke-width="0.18">0.06</text>
<line x1="32.3" y1="421.46" x2="35.5" y2="421.46" stroke="#666" stroke-width="0.8"/>
<line x1="174.60000000000002" y1="421.46" x2="177.8" y2="421.46" stroke="#666" stroke-width="0.8"/>
<text x="30.4" y="423.66" text-anchor="end" font-family='"Liberation Sans", Arial, sans-serif' font-size="6.0" fill="#1a1a1a" stroke="#1a1a1a" stroke-width="0.18">0.08</text>
<line x1="32.3" y1="395.6" x2="35.5" y2="395.6" stroke="#666" stroke-width="0.8"/>
<line x1="174.60000000000002" y1="395.6" x2="177.8" y2="395.6" stroke="#666" stroke-width="0.8"/>
<text x="30.4" y="400.3" text-anchor="end" font-family='"Liberation Sans", Arial, sans-serif' font-size="6.0" fill="#1a1a1a" stroke="#1a1a1a" stroke-width="0.18">0.10</text>
<line x1="32.3" y1="524.9" x2="32.3" y2="527.5" stroke="#666" stroke-width="0.7"/>
<line x1="43.25" y1="524.9" x2="43.25" y2="526.7" stroke="#666" stroke-width="0.7"/>
<line x1="49.66" y1="524.9" x2="49.66" y2="526.7" stroke="#666" stroke-width="0.7"/>
<line x1="54.2" y1="524.9" x2="54.2" y2="526.7" stroke="#666" stroke-width="0.7"/>
<line x1="57.73" y1="524.9" x2="57.73" y2="526.7" stroke="#666" stroke-width="0.7"/>
<line x1="60.61" y1="524.9" x2="60.61" y2="526.7" stroke="#666" stroke-width="0.7"/>
<line x1="63.04" y1="524.9" x2="63.04" y2="526.7" stroke="#666" stroke-width="0.7"/>
<line x1="65.15" y1="524.9" x2="65.15" y2="526.7" stroke="#666" stroke-width="0.7"/>
<line x1="67.01" y1="524.9" x2="67.01" y2="526.7" stroke="#666" stroke-width="0.7"/>
<line x1="68.67" y1="524.9" x2="68.67" y2="527.5" stroke="#666" stroke-width="0.7"/>
<line x1="79.62" y1="524.9" x2="79.62" y2="526.7" stroke="#666" stroke-width="0.7"/>
<line x1="86.03" y1="524.9" x2="86.03" y2="526.7" stroke="#666" stroke-width="0.7"/>
<line x1="90.57" y1="524.9" x2="90.57" y2="526.7" stroke="#666" stroke-width="0.7"/>
<line x1="94.1" y1="524.9" x2="94.1" y2="526.7" stroke="#666" stroke-width="0.7"/>
<line x1="96.98" y1="524.9" x2="96.98" y2="526.7" stroke="#666" stroke-width="0.7"/>
<line x1="99.42" y1="524.9" x2="99.42" y2="526.7" stroke="#666" stroke-width="0.7"/>
<line x1="101.52" y1="524.9" x2="101.52" y2="526.7" stroke="#666" stroke-width="0.7"/>
<line x1="103.39" y1="524.9" x2="103.39" y2="526.7" stroke="#666" stroke-width="0.7"/>
<line x1="105.05" y1="524.9" x2="105.05" y2="527.5" stroke="#666" stroke-width="0.7"/>
<line x1="116" y1="524.9" x2="116" y2="526.7" stroke="#666" stroke-width="0.7"/>
<line x1="122.41" y1="524.9" x2="122.41" y2="526.7" stroke="#666" stroke-width="0.7"/>
<line x1="126.95" y1="524.9" x2="126.95" y2="526.7" stroke="#666" stroke-width="0.7"/>
<line x1="130.48" y1="524.9" x2="130.48" y2="526.7" stroke="#666" stroke-width="0.7"/>
<line x1="133.36" y1="524.9" x2="133.36" y2="526.7" stroke="#666" stroke-width="0.7"/>
<line x1="135.79" y1="524.9" x2="135.79" y2="526.7" stroke="#666" stroke-width="0.7"/>
<line x1="137.9" y1="524.9" x2="137.9" y2="526.7" stroke="#666" stroke-width="0.7"/>
<line x1="139.76" y1="524.9" x2="139.76" y2="526.7" stroke="#666" stroke-width="0.7"/>
<line x1="141.43" y1="524.9" x2="141.43" y2="527.5" stroke="#666" stroke-width="0.7"/>
<line x1="152.37" y1="524.9" x2="152.37" y2="526.7" stroke="#666" stroke-width="0.7"/>
<line x1="158.78" y1="524.9" x2="158.78" y2="526.7" stroke="#666" stroke-width="0.7"/>
<line x1="163.32" y1="524.9" x2="163.32" y2="526.7" stroke="#666" stroke-width="0.7"/>
<line x1="166.85" y1="524.9" x2="166.85" y2="526.7" stroke="#666" stroke-width="0.7"/>
<line x1="169.73" y1="524.9" x2="169.73" y2="526.7" stroke="#666" stroke-width="0.7"/>
<line x1="172.17" y1="524.9" x2="172.17" y2="526.7" stroke="#666" stroke-width="0.7"/>
<line x1="174.27" y1="524.9" x2="174.27" y2="526.7" stroke="#666" stroke-width="0.7"/>
<line x1="176.14" y1="524.9" x2="176.14" y2="526.7" stroke="#666" stroke-width="0.7"/>
<text x="29.12" y="536.1" font-family='"Liberation Sans", Arial, sans-serif' font-size="6.8" fill="#1a1a1a" stroke="#1a1a1a" stroke-width="0.18">10<tspan font-size="4.2" dy="-3">-3</tspan></text>
<text x="65.49" y="536.1" font-family='"Liberation Sans", Arial, sans-serif' font-size="6.8" fill="#1a1a1a" stroke="#1a1a1a" stroke-width="0.18">10<tspan font-size="4.2" dy="-3">-2</tspan></text>
<text x="101.87" y="536.1" font-family='"Liberation Sans", Arial, sans-serif' font-size="6.8" fill="#1a1a1a" stroke="#1a1a1a" stroke-width="0.18">10<tspan font-size="4.2" dy="-3">-1</tspan></text>
<text x="138.25" y="536.1" font-family='"Liberation Sans", Arial, sans-serif' font-size="6.8" fill="#1a1a1a" stroke="#1a1a1a" stroke-width="0.18">10<tspan font-size="4.2" dy="-3">0</tspan></text>
<text x="96.2" y="545" text-anchor="middle" font-family='"Liberation Sans", Arial, sans-serif' font-size="6.85" fill="#1a1a1a" stroke="#1a1a1a" stroke-width="0.16">Pore size (μm<tspan font-size="4.6" dy="-2.8">2</tspan><tspan dy="2.8">)</tspan></text>
<text transform="translate(13.5,458.6) rotate(-90)" text-anchor="middle" font-family='"Liberation Sans", Arial, sans-serif' font-size="7.4" fill="#1a1a1a" stroke="#1a1a1a" stroke-width="0.2">Frequency (%)</text>
<text x="98.3" y="391.6" text-anchor="middle" font-family='"Liberation Sans", Arial, sans-serif' font-weight="bold" font-size="6.95" fill="#111" stroke="#111" stroke-width="0.1">dECM 17.5 mg/mL</text>
<text x="6.6" y="391.4" font-family='"Liberation Sans", Arial, sans-serif' font-weight="bold" font-size="9.2" fill="#111">(h)</text>
<rect x="232.4" y="509.9" width="3.76" height="15" fill="#ececec" stroke="#5a5a5a" stroke-width="0.75"/>
<rect x="236.16" y="422.6" width="3.76" height="102.3" fill="#ececec" stroke="#5a5a5a" stroke-width="0.75"/>
<rect x="239.92" y="421" width="3.76" height="103.9" fill="#ececec" stroke="#5a5a5a" stroke-width="0.75"/>
<rect x="243.68" y="416.6" width="3.76" height="108.3" fill="#ececec" stroke="#5a5a5a" stroke-width="0.75"/>
<rect x="247.44" y="413" width="3.76" height="111.9" fill="#ececec" stroke="#5a5a5a" stroke-width="0.75"/>
<rect x="251.2" y="411.7" width="3.76" height="113.2" fill="#ececec" stroke="#5a5a5a" stroke-width="0.75"/>
<rect x="254.96" y="411.5" width="3.76" height="113.4" fill="#ececec" stroke="#5a5a5a" stroke-width="0.75"/>
<rect x="258.72" y="447.8" width="3.76" height="77.1" fill="#ececec" stroke="#5a5a5a" stroke-width="0.75"/>
<rect x="262.48" y="423.9" width="3.76" height="101" fill="#ececec" stroke="#5a5a5a" stroke-width="0.75"/>
<rect x="266.24" y="445.1" width="3.76" height="79.8" fill="#ececec" stroke="#5a5a5a" stroke-width="0.75"/>
<rect x="270" y="461.5" width="3.76" height="63.4" fill="#ececec" stroke="#5a5a5a" stroke-width="0.75"/>
<rect x="273.76" y="473" width="3.76" height="51.9" fill="#ececec" stroke="#5a5a5a" stroke-width="0.75"/>
<rect x="277.52" y="473" width="3.76" height="51.9" fill="#ececec" stroke="#5a5a5a" stroke-width="0.75"/>
<rect x="281.28" y="482.1" width="3.76" height="42.8" fill="#ececec" stroke="#5a5a5a" stroke-width="0.75"/>
<rect x="285.04" y="488.9" width="3.76" height="36" fill="#ececec" stroke="#5a5a5a" stroke-width="0.75"/>
<rect x="288.8" y="494.6" width="3.76" height="30.3" fill="#ececec" stroke="#5a5a5a" stroke-width="0.75"/>
<rect x="292.56" y="497.8" width="3.76" height="27.1" fill="#ececec" stroke="#5a5a5a" stroke-width="0.75"/>
<rect x="296.32" y="513.9" width="3.76" height="11" fill="#ececec" stroke="#5a5a5a" stroke-width="0.75"/>
<rect x="300.08" y="512.7" width="3.76" height="12.2" fill="#ececec" stroke="#5a5a5a" stroke-width="0.75"/>
<rect x="303.84" y="516.9" width="3.76" height="8" fill="#ececec" stroke="#5a5a5a" stroke-width="0.75"/>
<rect x="307.6" y="515.8" width="3.76" height="9.1" fill="#ececec" stroke="#5a5a5a" stroke-width="0.75"/>
<rect x="311.36" y="519" width="3.76" height="5.9" fill="#ececec" stroke="#5a5a5a" stroke-width="0.75"/>
<rect x="315.12" y="524.1" width="3.76" height="0.8" fill="#ececec" stroke="#5a5a5a" stroke-width="0.75"/>
<rect x="322.64" y="523.5" width="3.76" height="1.4" fill="#ececec" stroke="#5a5a5a" stroke-width="0.75"/>
<rect x="330.16" y="524.6" width="3.76" height="0.3" fill="#ececec" stroke="#5a5a5a" stroke-width="0.75"/>
<rect x="333.92" y="524.6" width="3.76" height="0.3" fill="#ececec" stroke="#5a5a5a" stroke-width="0.75"/>
<rect x="209.9" y="395.6" width="145.5" height="129.3" fill="none" stroke="#707070" stroke-width="1.25"/>
<line x1="209.9" y1="524.9" x2="213.1" y2="524.9" stroke="#666" stroke-width="0.8"/>
<line x1="352.2" y1="524.9" x2="355.4" y2="524.9" stroke="#666" stroke-width="0.8"/>
<text x="208" y="525.5" text-anchor="end" font-family='"Liberation Sans", Arial, sans-serif' font-size="6.0" fill="#1a1a1a" stroke="#1a1a1a" stroke-width="0.18">0</text>
<line x1="209.9" y1="499.04" x2="213.1" y2="499.04" stroke="#666" stroke-width="0.8"/>
<line x1="352.2" y1="499.04" x2="355.4" y2="499.04" stroke="#666" stroke-width="0.8"/>
<text x="208" y="501.24" text-anchor="end" font-family='"Liberation Sans", Arial, sans-serif' font-size="6.0" fill="#1a1a1a" stroke="#1a1a1a" stroke-width="0.18">0.02</text>
<line x1="209.9" y1="473.18" x2="213.1" y2="473.18" stroke="#666" stroke-width="0.8"/>
<line x1="352.2" y1="473.18" x2="355.4" y2="473.18" stroke="#666" stroke-width="0.8"/>
<text x="208" y="475.38" text-anchor="end" font-family='"Liberation Sans", Arial, sans-serif' font-size="6.0" fill="#1a1a1a" stroke="#1a1a1a" stroke-width="0.18">0.04</text>
<line x1="209.9" y1="447.32" x2="213.1" y2="447.32" stroke="#666" stroke-width="0.8"/>
<line x1="352.2" y1="447.32" x2="355.4" y2="447.32" stroke="#666" stroke-width="0.8"/>
<text x="208" y="449.52" text-anchor="end" font-family='"Liberation Sans", Arial, sans-serif' font-size="6.0" fill="#1a1a1a" stroke="#1a1a1a" stroke-width="0.18">0.06</text>
<line x1="209.9" y1="421.46" x2="213.1" y2="421.46" stroke="#666" stroke-width="0.8"/>
<line x1="352.2" y1="421.46" x2="355.4" y2="421.46" stroke="#666" stroke-width="0.8"/>
<text x="208" y="423.66" text-anchor="end" font-family='"Liberation Sans", Arial, sans-serif' font-size="6.0" fill="#1a1a1a" stroke="#1a1a1a" stroke-width="0.18">0.08</text>
<line x1="209.9" y1="395.6" x2="213.1" y2="395.6" stroke="#666" stroke-width="0.8"/>
<line x1="352.2" y1="395.6" x2="355.4" y2="395.6" stroke="#666" stroke-width="0.8"/>
<text x="208" y="400.3" text-anchor="end" font-family='"Liberation Sans", Arial, sans-serif' font-size="6.0" fill="#1a1a1a" stroke="#1a1a1a" stroke-width="0.18">0.10</text>
<line x1="209.9" y1="524.9" x2="209.9" y2="527.5" stroke="#666" stroke-width="0.7"/>
<line x1="220.85" y1="524.9" x2="220.85" y2="526.7" stroke="#666" stroke-width="0.7"/>
<line x1="227.26" y1="524.9" x2="227.26" y2="526.7" stroke="#666" stroke-width="0.7"/>
<line x1="231.8" y1="524.9" x2="231.8" y2="526.7" stroke="#666" stroke-width="0.7"/>
<line x1="235.33" y1="524.9" x2="235.33" y2="526.7" stroke="#666" stroke-width="0.7"/>
<line x1="238.21" y1="524.9" x2="238.21" y2="526.7" stroke="#666" stroke-width="0.7"/>
<line x1="240.64" y1="524.9" x2="240.64" y2="526.7" stroke="#666" stroke-width="0.7"/>
<line x1="242.75" y1="524.9" x2="242.75" y2="526.7" stroke="#666" stroke-width="0.7"/>
<line x1="244.61" y1="524.9" x2="244.61" y2="526.7" stroke="#666" stroke-width="0.7"/>
<line x1="246.28" y1="524.9" x2="246.28" y2="527.5" stroke="#666" stroke-width="0.7"/>
<line x1="257.22" y1="524.9" x2="257.22" y2="526.7" stroke="#666" stroke-width="0.7"/>
<line x1="263.63" y1="524.9" x2="263.63" y2="526.7" stroke="#666" stroke-width="0.7"/>
<line x1="268.17" y1="524.9" x2="268.17" y2="526.7" stroke="#666" stroke-width="0.7"/>
<line x1="271.7" y1="524.9" x2="271.7" y2="526.7" stroke="#666" stroke-width="0.7"/>
<line x1="274.58" y1="524.9" x2="274.58" y2="526.7" stroke="#666" stroke-width="0.7"/>
<line x1="277.02" y1="524.9" x2="277.02" y2="526.7" stroke="#666" stroke-width="0.7"/>
<line x1="279.12" y1="524.9" x2="279.12" y2="526.7" stroke="#666" stroke-width="0.7"/>
<line x1="280.99" y1="524.9" x2="280.99" y2="526.7" stroke="#666" stroke-width="0.7"/>
<line x1="282.65" y1="524.9" x2="282.65" y2="527.5" stroke="#666" stroke-width="0.7"/>
<line x1="293.6" y1="524.9" x2="293.6" y2="526.7" stroke="#666" stroke-width="0.7"/>
<line x1="300.01" y1="524.9" x2="300.01" y2="526.7" stroke="#666" stroke-width="0.7"/>
<line x1="304.55" y1="524.9" x2="304.55" y2="526.7" stroke="#666" stroke-width="0.7"/>
<line x1="308.08" y1="524.9" x2="308.08" y2="526.7" stroke="#666" stroke-width="0.7"/>
<line x1="310.96" y1="524.9" x2="310.96" y2="526.7" stroke="#666" stroke-width="0.7"/>
<line x1="313.39" y1="524.9" x2="313.39" y2="526.7" stroke="#666" stroke-width="0.7"/>
<line x1="315.5" y1="524.9" x2="315.5" y2="526.7" stroke="#666" stroke-width="0.7"/>
<line x1="317.36" y1="524.9" x2="317.36" y2="526.7" stroke="#666" stroke-width="0.7"/>
<line x1="319.02" y1="524.9" x2="319.02" y2="527.5" stroke="#666" stroke-width="0.7"/>
<line x1="329.97" y1="524.9" x2="329.97" y2="526.7" stroke="#666" stroke-width="0.7"/>
<line x1="336.38" y1="524.9" x2="336.38" y2="526.7" stroke="#666" stroke-width="0.7"/>
<line x1="340.92" y1="524.9" x2="340.92" y2="526.7" stroke="#666" stroke-width="0.7"/>
<line x1="344.45" y1="524.9" x2="344.45" y2="526.7" stroke="#666" stroke-width="0.7"/>
<line x1="347.33" y1="524.9" x2="347.33" y2="526.7" stroke="#666" stroke-width="0.7"/>
<line x1="349.77" y1="524.9" x2="349.77" y2="526.7" stroke="#666" stroke-width="0.7"/>
<line x1="351.87" y1="524.9" x2="351.87" y2="526.7" stroke="#666" stroke-width="0.7"/>
<line x1="353.74" y1="524.9" x2="353.74" y2="526.7" stroke="#666" stroke-width="0.7"/>
<text x="206.72" y="536.1" font-family='"Liberation Sans", Arial, sans-serif' font-size="6.8" fill="#1a1a1a" stroke="#1a1a1a" stroke-width="0.18">10<tspan font-size="4.2" dy="-3">-3</tspan></text>
<text x="243.09" y="536.1" font-family='"Liberation Sans", Arial, sans-serif' font-size="6.8" fill="#1a1a1a" stroke="#1a1a1a" stroke-width="0.18">10<tspan font-size="4.2" dy="-3">-2</tspan></text>
<text x="279.47" y="536.1" font-family='"Liberation Sans", Arial, sans-serif' font-size="6.8" fill="#1a1a1a" stroke="#1a1a1a" stroke-width="0.18">10<tspan font-size="4.2" dy="-3">-1</tspan></text>
<text x="315.85" y="536.1" font-family='"Liberation Sans", Arial, sans-serif' font-size="6.8" fill="#1a1a1a" stroke="#1a1a1a" stroke-width="0.18">10<tspan font-size="4.2" dy="-3">0</tspan></text>
<text x="276.8" y="544.9" text-anchor="middle" font-family='"Liberation Sans", Arial, sans-serif' font-size="6.85" fill="#1a1a1a" stroke="#1a1a1a" stroke-width="0.16">Pore size (μm<tspan font-size="4.6" dy="-2.8">2</tspan><tspan dy="2.8">)</tspan></text>
<text transform="translate(191.1,458.6) rotate(-90)" text-anchor="middle" font-family='"Liberation Sans", Arial, sans-serif' font-size="7.4" fill="#1a1a1a" stroke="#1a1a1a" stroke-width="0.2">Frequency (%)</text>
<text x="279.1" y="391.6" text-anchor="middle" font-family='"Liberation Sans", Arial, sans-serif' font-weight="bold" font-size="6.95" fill="#111" stroke="#111" stroke-width="0.1">dECM 20.0 mg/mL</text>
<text x="183.6" y="391.4" font-family='"Liberation Sans", Arial, sans-serif' font-weight="bold" font-size="9.2" fill="#111">(i)</text>
<rect x="404.2" y="272.5" width="18" height="76.5" fill="#e4e4e4" stroke="#555" stroke-width="0.9"/>
<line x1="413.2" y1="256.1" x2="413.2" y2="290.2" stroke="#444" stroke-width="0.8"/>
<line x1="411.6" y1="256.1" x2="414.8" y2="256.1" stroke="#444" stroke-width="0.8"/>
<line x1="411.6" y1="290.2" x2="414.8" y2="290.2" stroke="#444" stroke-width="0.8"/>
<rect x="438.15" y="294.4" width="18" height="54.6" fill="#e4e4e4" stroke="#555" stroke-width="0.9"/>
<line x1="447.15" y1="287.4" x2="447.15" y2="303.1" stroke="#444" stroke-width="0.8"/>
<line x1="445.55" y1="287.4" x2="448.75" y2="287.4" stroke="#444" stroke-width="0.8"/>
<line x1="445.55" y1="303.1" x2="448.75" y2="303.1" stroke="#444" stroke-width="0.8"/>
<rect x="472.1" y="285.2" width="18" height="63.8" fill="#e4e4e4" stroke="#555" stroke-width="0.9"/>
<line x1="481.1" y1="278" x2="481.1" y2="294.7" stroke="#444" stroke-width="0.8"/>
<line x1="479.5" y1="278" x2="482.7" y2="278" stroke="#444" stroke-width="0.8"/>
<line x1="479.5" y1="294.7" x2="482.7" y2="294.7" stroke="#444" stroke-width="0.8"/>
<rect x="506.05" y="278" width="18" height="71" fill="#e4e4e4" stroke="#555" stroke-width="0.9"/>
<line x1="515.05" y1="273.2" x2="515.05" y2="283.8" stroke="#444" stroke-width="0.8"/>
<line x1="513.45" y1="273.2" x2="516.65" y2="273.2" stroke="#444" stroke-width="0.8"/>
<line x1="513.45" y1="283.8" x2="516.65" y2="283.8" stroke="#444" stroke-width="0.8"/>
<rect x="394.6" y="225.0" width="144.7" height="124" fill="none" stroke="#707070" stroke-width="1.25"/>
<line x1="394.6" y1="349" x2="398.20000000000005" y2="349" stroke="#666" stroke-width="0.8"/>
<text x="391.2" y="349.5" text-anchor="end" font-family='"Liberation Sans", Arial, sans-serif' font-size="6.6" fill="#1a1a1a" stroke="#1a1a1a" stroke-width="0.18">0</text>
<line x1="394.6" y1="324.2" x2="398.20000000000005" y2="324.2" stroke="#666" stroke-width="0.8"/>
<text x="391.2" y="326.5" text-anchor="end" font-family='"Liberation Sans", Arial, sans-serif' font-size="6.6" fill="#1a1a1a" stroke="#1a1a1a" stroke-width="0.18">0.02</text>
<line x1="394.6" y1="299.4" x2="398.20000000000005" y2="299.4" stroke="#666" stroke-width="0.8"/>
<text x="391.2" y="301.7" text-anchor="end" font-family='"Liberation Sans", Arial, sans-serif' font-size="6.6" fill="#1a1a1a" stroke="#1a1a1a" stroke-width="0.18">0.04</text>
<line x1="394.6" y1="274.6" x2="398.20000000000005" y2="274.6" stroke="#666" stroke-width="0.8"/>
<text x="391.2" y="276.9" text-anchor="end" font-family='"Liberation Sans", Arial, sans-serif' font-size="6.6" fill="#1a1a1a" stroke="#1a1a1a" stroke-width="0.18">0.06</text>
<line x1="394.6" y1="249.8" x2="398.20000000000005" y2="249.8" stroke="#666" stroke-width="0.8"/>
<text x="391.2" y="252.1" text-anchor="end" font-family='"Liberation Sans", Arial, sans-serif' font-size="6.6" fill="#1a1a1a" stroke="#1a1a1a" stroke-width="0.18">0.08</text>
<line x1="394.6" y1="225" x2="398.20000000000005" y2="225" stroke="#666" stroke-width="0.8"/>
<text x="391.2" y="229.7" text-anchor="end" font-family='"Liberation Sans", Arial, sans-serif' font-size="6.6" fill="#1a1a1a" stroke="#1a1a1a" stroke-width="0.18">0.10</text>
<text x="407.2" y="360.8" text-anchor="middle" font-family='"Liberation Sans", Arial, sans-serif' font-size="7" fill="#1a1a1a" stroke="#1a1a1a" stroke-width="0.2">12.5</text>
<text x="441" y="360.8" text-anchor="middle" font-family='"Liberation Sans", Arial, sans-serif' font-size="7" fill="#1a1a1a" stroke="#1a1a1a" stroke-width="0.2">15.0</text>
<text x="474.8" y="360.8" text-anchor="middle" font-family='"Liberation Sans", Arial, sans-serif' font-size="7" fill="#1a1a1a" stroke="#1a1a1a" stroke-width="0.2">17.5</text>
<text x="508.6" y="360.8" text-anchor="middle" font-family='"Liberation Sans", Arial, sans-serif' font-size="7" fill="#1a1a1a" stroke="#1a1a1a" stroke-width="0.2">20.0</text>
<text x="466.7" y="372.2" text-anchor="middle" font-family='"Liberation Sans", Arial, sans-serif' font-size="6.8" fill="#1a1a1a" stroke="#1a1a1a" stroke-width="0.18">dECM content (mg/mL)</text>
<text transform="translate(374.3,288) rotate(-90)" text-anchor="middle" font-family='"Liberation Sans", Arial, sans-serif' font-size="7.46" fill="#1a1a1a" stroke="#1a1a1a" stroke-width="0.2">Average Pore Size (μm<tspan font-size="4.6" dy="-2.8">2</tspan><tspan dy="2.8">)</tspan></text>
<text x="365" y="216.6" font-family='"Liberation Sans", Arial, sans-serif' font-weight="bold" font-size="8.8" letter-spacing="0.4" fill="#111">(j)</text>
<rect x="404.2" y="429.2" width="18" height="89.5" fill="#e4e4e4" stroke="#555" stroke-width="0.9"/>
<line x1="413.2" y1="414" x2="413.2" y2="445.2" stroke="#444" stroke-width="0.8"/>
<line x1="411.6" y1="414" x2="414.8" y2="414" stroke="#444" stroke-width="0.8"/>
<line x1="411.6" y1="445.2" x2="414.8" y2="445.2" stroke="#444" stroke-width="0.8"/>
<rect x="438.15" y="433.2" width="18" height="85.5" fill="#e4e4e4" stroke="#555" stroke-width="0.9"/>
<line x1="447.15" y1="429.7" x2="447.15" y2="436.1" stroke="#444" stroke-width="0.8"/>
<line x1="445.55" y1="429.7" x2="448.75" y2="429.7" stroke="#444" stroke-width="0.8"/>
<line x1="445.55" y1="436.1" x2="448.75" y2="436.1" stroke="#444" stroke-width="0.8"/>
<rect x="472.1" y="432.8" width="18" height="85.9" fill="#e4e4e4" stroke="#555" stroke-width="0.9"/>
<line x1="481.1" y1="417.3" x2="481.1" y2="448.9" stroke="#444" stroke-width="0.8"/>
<line x1="479.5" y1="417.3" x2="482.7" y2="417.3" stroke="#444" stroke-width="0.8"/>
<line x1="479.5" y1="448.9" x2="482.7" y2="448.9" stroke="#444" stroke-width="0.8"/>
<rect x="506.05" y="423.7" width="18" height="95" fill="#e4e4e4" stroke="#555" stroke-width="0.9"/>
<line x1="515.05" y1="411.3" x2="515.05" y2="437.4" stroke="#444" stroke-width="0.8"/>
<line x1="513.45" y1="411.3" x2="516.65" y2="411.3" stroke="#444" stroke-width="0.8"/>
<line x1="513.45" y1="437.4" x2="516.65" y2="437.4" stroke="#444" stroke-width="0.8"/>
<rect x="394.6" y="395.1" width="144.7" height="123.6" fill="none" stroke="#707070" stroke-width="1.25"/>
<line x1="394.6" y1="518.7" x2="398.20000000000005" y2="518.7" stroke="#666" stroke-width="0.8"/>
<text x="391.2" y="519.2" text-anchor="end" font-family='"Liberation Sans", Arial, sans-serif' font-size="6.6" fill="#1a1a1a" stroke="#1a1a1a" stroke-width="0.18">0</text>
<line x1="394.6" y1="493.98" x2="398.20000000000005" y2="493.98" stroke="#666" stroke-width="0.8"/>
<text x="391.2" y="496.28" text-anchor="end" font-family='"Liberation Sans", Arial, sans-serif' font-size="6.6" fill="#1a1a1a" stroke="#1a1a1a" stroke-width="0.18">10</text>
<line x1="394.6" y1="469.26" x2="398.20000000000005" y2="469.26" stroke="#666" stroke-width="0.8"/>
<text x="391.2" y="471.56" text-anchor="end" font-family='"Liberation Sans", Arial, sans-serif' font-size="6.6" fill="#1a1a1a" stroke="#1a1a1a" stroke-width="0.18">20</text>
<line x1="394.6" y1="444.54" x2="398.20000000000005" y2="444.54" stroke="#666" stroke-width="0.8"/>
<text x="391.2" y="446.84" text-anchor="end" font-family='"Liberation Sans", Arial, sans-serif' font-size="6.6" fill="#1a1a1a" stroke="#1a1a1a" stroke-width="0.18">30</text>
<line x1="394.6" y1="419.82" x2="398.20000000000005" y2="419.82" stroke="#666" stroke-width="0.8"/>
<text x="391.2" y="422.12" text-anchor="end" font-family='"Liberation Sans", Arial, sans-serif' font-size="6.6" fill="#1a1a1a" stroke="#1a1a1a" stroke-width="0.18">40</text>
<line x1="394.6" y1="395.1" x2="398.20000000000005" y2="395.1" stroke="#666" stroke-width="0.8"/>
<text x="391.2" y="399.8" text-anchor="end" font-family='"Liberation Sans", Arial, sans-serif' font-size="6.6" fill="#1a1a1a" stroke="#1a1a1a" stroke-width="0.18">50</text>
<text x="407.2" y="530.5" text-anchor="middle" font-family='"Liberation Sans", Arial, sans-serif' font-size="7" fill="#1a1a1a" stroke="#1a1a1a" stroke-width="0.2">12.5</text>
<text x="441" y="530.5" text-anchor="middle" font-family='"Liberation Sans", Arial, sans-serif' font-size="7" fill="#1a1a1a" stroke="#1a1a1a" stroke-width="0.2">15.0</text>
<text x="474.8" y="530.5" text-anchor="middle" font-family='"Liberation Sans", Arial, sans-serif' font-size="7" fill="#1a1a1a" stroke="#1a1a1a" stroke-width="0.2">17.5</text>
<text x="508.6" y="530.5" text-anchor="middle" font-family='"Liberation Sans", Arial, sans-serif' font-size="7" fill="#1a1a1a" stroke="#1a1a1a" stroke-width="0.2">20.0</text>
<text x="466.7" y="541.9" text-anchor="middle" font-family='"Liberation Sans", Arial, sans-serif' font-size="6.8" fill="#1a1a1a" stroke="#1a1a1a" stroke-width="0.18">dECM content (mg/mL)</text>
<text transform="translate(374.3,456.9) rotate(-90)" text-anchor="middle" font-family='"Liberation Sans", Arial, sans-serif' font-size="7.2" fill="#1a1a1a" stroke="#1a1a1a" stroke-width="0.2">%Area of Pores</text>
<text x="365" y="391.4" font-family='"Liberation Sans", Arial, sans-serif' font-weight="bold" font-size="8.8" letter-spacing="0.4" fill="#111">(k)</text>
</svg>
</body></html>
